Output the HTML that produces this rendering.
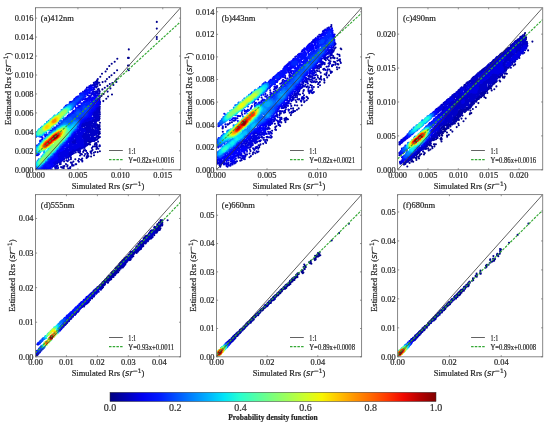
<!DOCTYPE html>
<html><head><meta charset="utf-8"><title>Rrs scatter</title>
<style>html,body{margin:0;padding:0;background:#fff;width:550px;height:424px;overflow:hidden}svg{display:block;filter:blur(0.35px)}text{stroke:#2a2a2a;stroke-width:.2px}</style>
</head><body><svg width="550" height="424" viewBox="0 0 550 424" font-family="'Liberation Serif','DejaVu Serif',serif"><clipPath id="c0"><rect x="35.50" y="7.70" width="145.10" height="162.10"/></clipPath><g clip-path="url(#c0)"><g fill="none" stroke-width="2.10" stroke-linecap="round"><path stroke="#00008d" d="M128.8 49.4h0M156.8 28.6h0M156.8 21.9h0M117.3 58.7h0M117.1 70.3h0M112.0 94.5h0M107.6 91.6h0M114.7 61.7h0M114.3 73.0h0M100.3 76.7h0M111.7 63.7h0M102.0 73.7h0M109.3 66.0h0M110.4 88.4h0M111.5 75.2h0M106.3 98.8h0M107.1 69.1h0M105.6 71.5h0M109.3 77.1h0M108.1 96.5h0M103.6 94.0h0M103.3 101.1h0M104.8 87.7h0M106.9 79.1h0M113.4 85.0h0M116.5 79.3h0M107.5 85.9h0M102.4 89.4h0M105.4 81.4h0M128.8 70.3h0M102.6 82.1h0M109.8 84.0h0M128.0 57.9h0M156.8 39.0h0M156.8 37.1h0M128.8 57.9h0M128.0 69.3h0M94.0 155.3h0M99.9 151.3h0M112.4 83.1h0M75.3 159.3h0M128.8 65.5h0M128.0 65.5h0M91.1 156.5h0M116.4 82.0h0M100.0 85.0h0M97.7 152.1h0M115.3 81.2h0M76.2 164.2h0M99.9 122.8h0M95.2 152.0h0"/><path stroke="#0000a8" d="M99.9 137.1h0M97.8 79.1h0M82.3 161.5h0M78.9 161.7h0M73.4 161.6h0M98.1 141.6h0M75.6 164.2h0M91.9 148.1h0M80.0 155.5h0M82.2 158.6h0M78.2 160.7h0M99.5 125.0h0M79.0 159.1h0M84.4 155.7h0M99.3 82.8h0M92.9 146.6h0M92.5 149.9h0M82.3 160.8h0M93.9 152.8h0M90.1 144.4h0M101.4 96.0h0M99.2 134.0h0M99.9 133.4h0M99.6 133.5h0M81.9 154.4h0M65.9 164.0h0M99.6 126.3h0M98.4 138.2h0M81.0 159.8h0M98.6 88.7h0M87.5 157.3h0M97.0 80.2h0M97.4 81.0h0M86.6 157.9h0M88.5 156.3h0M99.2 127.5h0M73.6 165.4h0M70.8 162.6h0M91.4 153.6h0M71.8 162.9h0M96.4 149.0h0M98.4 148.7h0M99.6 131.6h0M67.5 165.2h0M99.6 128.4h0M98.8 137.5h0M90.2 142.2h0M55.5 169.0h0M89.1 144.2h0M99.9 129.2h0M85.1 154.0h0M90.5 151.6h0M97.1 139.4h0M72.1 164.6h0M72.1 165.6h0M91.5 141.5h0M98.5 136.8h0M99.9 114.2h0M83.2 151.9h0M91.5 151.2h0M90.8 152.4h0M70.1 168.2h0M86.9 156.4h0M87.1 152.9h0M71.1 158.0h0M86.1 150.9h0M93.8 82.7h0M67.3 166.4h0M63.8 168.1h0M80.7 153.8h0M68.4 168.7h0M68.2 168.5h0M97.5 86.0h0M99.0 126.0h0M87.9 153.9h0M87.5 154.9h0M99.7 145.2h0M94.4 146.3h0M61.1 167.1h0M99.9 146.1h0M99.3 146.3h0M67.7 161.2h0M67.7 161.3h0M99.7 91.4h0M98.7 134.7h0M72.3 154.0h0M95.7 81.7h0M64.1 161.4h0M89.4 142.5h0M60.7 164.1h0M94.8 144.2h0M83.8 150.3h0M89.9 141.8h0M75.7 152.4h0M98.4 133.4h0M98.0 133.1h0M97.6 124.8h0M70.4 167.1h0M97.1 147.4h0M98.9 127.0h0M99.1 119.9h0M98.8 120.4h0M99.6 108.5h0M85.3 150.2h0M99.6 116.4h0M73.8 153.2h0M99.2 107.8h0M78.3 152.1h0M99.4 112.3h0M99.7 112.5h0M96.4 143.1h0M94.2 141.1h0M97.9 82.6h0M95.4 146.4h0M64.5 166.0h0M99.7 109.0h0M95.3 143.3h0M70.9 159.3h0M98.1 132.0h0M97.8 89.6h0M96.6 121.0h0M85.1 150.0h0M79.8 152.7h0M80.1 151.7h0M62.4 167.8h0M70.0 167.7h0M91.0 140.9h0M97.9 136.5h0M97.1 136.7h0M99.5 93.3h0M97.6 84.1h0M89.0 141.5h0M99.0 90.0h0M97.4 126.0h0M97.9 125.5h0M88.6 143.8h0M88.4 143.8h0M95.6 140.3h0M96.4 87.4h0M98.9 131.3h0M97.9 135.7h0M99.4 110.6h0M99.0 110.1h0M92.4 127.9h0M63.3 167.7h0M98.2 129.5h0M99.5 111.4h0M63.2 166.4h0M63.6 166.6h0M88.3 140.2h0M88.6 140.4h0M66.4 160.4h0M98.6 131.0h0M99.3 117.1h0M96.7 144.5h0M95.8 122.3h0M99.1 118.3h0M99.6 118.6h0M87.5 144.6h0M87.2 145.0h0M92.8 126.4h0M92.3 126.9h0M99.8 106.9h0M99.6 106.7h0M70.5 157.1h0M87.5 140.9h0M87.7 140.2h0M97.2 120.8h0M96.5 124.3h0M96.9 124.4h0M95.0 127.2h0M92.2 140.9h0M97.0 127.4h0M97.6 127.9h0M59.8 164.1h0M96.7 145.9h0M91.7 125.5h0M91.0 125.7h0M96.2 137.2h0M92.6 128.6h0"/><path stroke="#0000c8" d="M86.9 140.1h0M95.9 121.5h0M95.9 121.7h0M98.6 116.0h0M71.2 154.4h0M95.4 123.5h0M86.1 135.0h0M92.6 125.9h0M57.4 168.5h0M57.1 168.8h0M95.3 128.7h0M95.1 128.1h0M93.2 127.0h0M98.7 114.0h0M98.0 113.2h0M95.7 139.3h0M95.7 139.8h0M86.8 141.8h0M86.2 137.2h0M87.0 137.9h0M86.4 145.8h0M87.3 135.1h0M88.0 135.8h0M86.4 139.3h0M86.0 137.4h0M97.3 133.4h0M95.3 82.4h0M89.4 139.9h0M96.3 125.2h0M87.0 136.5h0M93.1 141.0h0M96.6 135.0h0M96.9 135.9h0M88.8 139.8h0M72.6 153.5h0M87.0 143.6h0M86.1 138.0h0M96.0 126.1h0M92.4 123.4h0M90.4 125.4h0M91.5 123.9h0M92.0 123.7h0M87.0 87.5h0M58.1 167.9h0M60.7 162.5h0M68.8 159.9h0M93.2 129.7h0M87.3 137.7h0M90.4 124.5h0M85.0 138.4h0M96.8 128.0h0M96.4 128.3h0M96.2 128.1h0M94.4 126.6h0M87.3 139.0h0M88.0 138.4h0M87.2 138.6h0M94.4 123.5h0M94.9 123.2h0M95.6 126.7h0M86.6 133.9h0M86.3 133.3h0M98.4 119.5h0M98.2 119.8h0M85.0 136.6h0M90.9 127.3h0M85.7 140.4h0M93.3 125.1h0M93.2 125.3h0M95.2 124.3h0M79.5 150.0h0M80.0 150.3h0M70.9 155.5h0M94.6 122.0h0M94.3 121.2h0M97.5 129.2h0M99.6 95.9h0M91.6 139.7h0M91.3 140.0h0M88.1 138.9h0M85.4 141.1h0M85.3 141.8h0M98.7 108.7h0M98.5 116.5h0M91.7 122.3h0M95.6 125.8h0M95.0 125.5h0M98.5 112.3h0M96.7 83.1h0M88.2 136.5h0M81.8 148.4h0M97.5 114.4h0M51.8 169.2h0M88.2 137.9h0M95.9 134.1h0M84.6 135.8h0M84.4 126.2h0M83.4 126.0h0M94.4 124.5h0M94.1 124.6h0M96.4 133.1h0M96.0 133.9h0M98.1 109.6h0M89.2 138.0h0M89.9 138.4h0M95.6 137.8h0M97.9 132.0h0M88.2 135.3h0M88.5 135.1h0M97.6 130.8h0M97.8 130.4h0M96.5 84.6h0M79.5 150.0h0M79.9 149.0h0M97.7 113.4h0M86.5 143.6h0M97.4 115.0h0M97.5 115.2h0M74.8 151.5h0M80.7 148.5h0M89.5 126.7h0M88.3 133.8h0M83.9 125.6h0M84.7 138.5h0M89.5 125.9h0M96.9 114.6h0M96.7 114.5h0M95.4 114.6h0M98.8 107.1h0M98.3 107.7h0M94.1 83.8h0M90.5 138.3h0M90.7 122.4h0M90.9 122.6h0M95.2 133.2h0M85.9 127.9h0M86.0 142.5h0M89.1 124.7h0M89.7 124.9h0M94.3 130.5h0M94.7 130.7h0M89.0 127.4h0M89.9 127.4h0M89.8 127.5h0M89.8 137.5h0M98.3 110.4h0M86.7 132.2h0M98.6 111.3h0M88.8 132.6h0M94.9 135.0h0M94.7 134.2h0M95.4 115.2h0M96.4 113.6h0M96.9 113.4h0M95.5 113.3h0M99.5 96.6h0M95.4 130.7h0M89.8 123.3h0M89.5 123.9h0M97.1 119.5h0M92.2 121.9h0M92.7 121.1h0M92.7 121.5h0M96.2 115.8h0M96.2 115.2h0M85.3 133.0h0M92.7 139.6h0M71.5 153.5h0M71.3 153.9h0M84.4 125.7h0M94.2 114.2h0M98.9 93.8h0M88.0 131.9h0M96.4 130.8h0M96.1 130.4h0M94.9 115.0h0M82.0 125.9h0M82.7 125.8h0M59.7 162.3h0M83.8 136.4h0M98.3 117.4h0M98.5 118.2h0M94.8 120.6h0M99.9 97.6h0M84.2 140.0h0M84.1 139.3h0M93.6 130.6h0M96.2 131.4h0M97.0 131.7h0M96.5 119.8h0M97.5 112.7h0M83.0 137.2h0M83.2 137.8h0M88.1 127.6h0M72.8 152.7h0M72.2 152.3h0M93.2 139.8h0M91.3 121.5h0M91.1 121.6h0M88.5 131.2h0M88.2 131.2h0M89.9 128.5h0M95.6 116.4h0M94.7 114.0h0M97.7 116.2h0M97.2 116.3h0M97.2 116.0h0M95.2 131.5h0M95.5 131.5h0M97.9 91.3h0M97.3 91.4h0M84.6 141.5h0M87.9 127.5h0M88.0 128.7h0M88.8 128.1h0M88.5 128.5h0M89.1 122.3h0M89.6 122.3h0M77.9 150.4h0M77.0 150.5h0M96.2 112.0h0M79.0 148.9h0M95.8 86.7h0M94.4 116.2h0M94.1 116.6h0M91.4 138.6h0M91.6 138.1h0M86.9 128.2h0M95.3 112.7h0M95.9 119.3h0M88.7 126.5h0M96.2 116.5h0M91.7 129.5h0M91.5 129.3h0M73.3 151.8h0M94.3 132.0h0M95.0 138.9h0M84.5 148.0h0M76.2 150.3h0M87.1 130.3h0M86.6 126.9h0M83.8 125.0h0M89.5 135.9h0M83.5 135.4h0M84.8 142.8h0M88.9 130.2h0M93.3 85.0h0M60.7 161.6h0M60.8 161.7h0M99.4 99.4h0M78.7 149.1h0M66.1 158.1h0M94.2 137.6h0M93.3 134.4h0M86.8 131.5h0M98.0 109.4h0M97.0 111.7h0M97.9 111.3h0M88.0 125.0h0M95.8 117.6h0M95.1 84.5h0M95.5 85.0h0M87.3 126.9h0M87.5 126.1h0M88.8 123.4h0M93.4 135.3h0M97.5 110.9h0M97.3 110.1h0M82.1 124.3h0M82.5 124.9h0M85.9 144.8h0M85.0 144.7h0M85.3 144.9h0M98.8 106.4h0M68.3 157.9h0M68.2 157.8h0M93.8 133.7h0M93.0 133.9h0M97.3 108.4h0M97.9 108.1h0M89.7 135.0h0M84.7 124.1h0M97.7 118.6h0M83.2 138.2h0M97.1 117.9h0M97.2 117.5h0M97.6 117.8h0M97.6 117.0h0M96.7 111.5h0M94.6 117.6h0M92.3 130.8h0M92.6 130.5h0M90.6 129.1h0M96.0 118.6h0M97.0 118.8h0M96.2 118.4h0M84.9 128.5h0M94.0 119.8h0M69.3 155.2h0M70.0 155.9h0M64.0 159.5h0M93.2 131.7h0M89.7 132.1h0M93.5 114.9h0M55.1 167.6h0M86.6 129.4h0M88.1 122.4h0M70.1 153.3h0M94.4 112.4h0M94.7 84.9h0M96.2 91.2h0M56.0 167.3h0M62.2 160.1h0M72.0 152.9h0M93.4 132.5h0M99.1 104.5h0M99.9 104.4h0M89.1 131.5h0M89.4 131.0h0M81.1 126.0h0M93.2 136.4h0M86.7 130.5h0M86.7 130.8h0M84.7 143.9h0M84.7 143.1h0M84.8 143.6h0M58.6 162.3h0M58.3 162.3h0M89.6 130.0h0M72.2 151.5h0M93.1 138.4h0M93.9 138.0h0M89.1 121.8h0M57.5 166.1h0M95.7 111.2h0M95.6 111.9h0M86.3 125.7h0M86.2 125.4h0M81.9 125.2h0M83.0 91.9h0M82.4 136.7h0M82.7 136.5h0M87.4 125.8h0M57.8 166.0h0M96.9 110.8h0M96.1 110.4h0M73.6 150.2h0M73.3 150.4h0M85.0 133.8h0M90.5 135.5h0M84.0 128.4h0M67.3 157.4h0M77.2 149.1h0M77.6 149.5h0M85.5 124.4h0M75.0 141.7h0M93.0 113.6h0M93.1 113.1h0M81.5 147.3h0M74.8 140.1h0M93.5 137.4h0M93.4 137.1h0M74.9 142.9h0M69.8 154.3h0M69.6 154.3h0M92.3 136.8h0M92.0 136.5h0M91.3 120.6h0M91.9 120.7h0M82.9 147.8h0M82.4 147.4h0M92.1 137.0h0M92.5 137.9h0M83.4 134.3h0M59.6 161.4h0M99.4 100.7h0M57.2 163.3h0M57.3 163.7h0M87.9 124.4h0M87.6 124.6h0M91.7 130.1h0M87.1 122.9h0M84.9 146.7h0M85.0 146.2h0M84.2 146.6h0M93.2 119.7h0M93.8 119.2h0M93.3 119.2h0M79.6 147.2h0M68.8 156.6h0M83.7 141.5h0M94.4 89.3h0M97.6 107.3h0M93.5 117.4h0M92.7 131.7h0M83.2 123.0h0M90.9 130.8h0M90.0 130.2h0M73.4 142.0h0M73.6 142.8h0M70.5 152.7h0M92.0 135.1h0M91.0 135.1h0M98.4 96.1h0M85.1 129.5h0M86.0 129.4h0M75.1 142.4h0M82.0 127.8h0M82.6 135.3h0M75.2 140.1h0M86.8 124.7h0M86.1 124.2h0M84.6 123.5h0M76.6 149.5h0M76.3 149.8h0M84.0 140.0h0M83.7 140.5h0M94.8 91.7h0M97.8 93.0h0M97.1 93.2h0M95.0 85.9h0M73.8 140.5h0M73.4 140.5h0M90.1 134.5h0M72.0 150.4h0M90.9 85.2h0M66.8 157.6h0M66.1 157.2h0M62.0 160.8h0M90.4 131.0h0M90.4 131.7h0M86.6 123.5h0M74.8 149.7h0M82.9 128.5h0M91.0 133.3h0M85.5 123.2h0M36.2 155.2h0M85.8 131.1h0M86.0 131.9h0M72.6 141.7h0M72.8 141.0h0M91.1 134.4h0M91.8 134.7h0M84.7 146.0h0M86.5 122.8h0M73.5 149.4h0M73.7 149.5h0M91.7 131.3h0M82.8 123.8h0M94.5 86.9h0M69.0 155.7h0M92.1 119.1h0M94.8 111.9h0M91.3 133.5h0M91.7 133.4h0M91.9 133.7h0M63.5 159.5h0M95.5 110.6h0M78.0 148.0h0M74.2 143.9h0M69.6 152.5h0M78.8 147.8h0M70.8 151.3h0M70.6 152.0h0M57.1 162.7h0M85.0 130.2h0M85.2 130.8h0M73.1 143.1h0M93.4 112.4h0M71.3 150.1h0M96.2 108.2h0M96.2 108.9h0M99.5 103.3h0M99.8 103.9h0M72.3 149.7h0M56.5 165.6h0M58.5 161.1h0M85.9 122.8h0M89.8 120.8h0M89.5 120.1h0M75.1 143.6h0M99.5 101.5h0M99.9 101.5h0M55.3 166.9h0M93.3 91.8h0M81.7 136.9h0M81.1 136.1h0M76.4 142.1h0M76.8 142.0h0M86.8 121.8h0M59.2 154.8h0M75.5 139.0h0M84.3 129.4h0M72.9 143.6h0M72.5 144.0h0M69.0 154.6h0M97.4 95.1h0M44.1 169.1h0M82.7 142.3h0M96.0 92.5h0M60.3 160.9h0M68.4 153.2h0M68.0 153.9h0M68.2 153.1h0M81.3 128.2h0M81.9 129.0h0M83.0 134.9h0M64.1 158.6h0M92.7 114.6h0M83.3 146.6h0M71.6 143.0h0M83.5 144.2h0M92.0 85.6h0M76.3 140.7h0M76.2 140.2h0M84.2 122.4h0M84.8 122.3h0M81.9 135.9h0M68.3 152.4h0M71.8 141.2h0M98.6 98.9h0M92.4 85.3h0M73.7 148.1h0M83.3 133.4h0M83.0 133.6h0M56.9 163.4h0M56.0 163.2h0"/><path stroke="#0000e3" d="M73.4 139.5h0M91.4 94.7h0M91.7 94.4h0M88.6 120.2h0M88.1 120.1h0M82.9 143.6h0M88.9 95.6h0M76.7 148.1h0M74.7 148.9h0M92.9 118.2h0M92.9 118.5h0M67.0 156.1h0M66.7 156.2h0M83.0 141.7h0M82.1 141.6h0M72.1 148.5h0M73.0 148.5h0M70.8 150.4h0M100.0 102.5h0M99.7 102.4h0M99.8 102.8h0M71.5 149.4h0M68.0 155.7h0M68.9 151.0h0M68.7 151.6h0M75.6 148.4h0M75.1 148.6h0M91.1 95.4h0M67.9 152.9h0M96.3 93.5h0M72.4 144.4h0M67.8 151.9h0M87.2 120.5h0M87.4 120.9h0M60.6 154.5h0M60.2 154.3h0M66.9 152.8h0M66.2 152.5h0M98.0 106.2h0M97.6 106.6h0M80.6 146.7h0M85.6 121.3h0M58.7 154.1h0M58.1 154.1h0M45.5 169.3h0M83.9 122.4h0M74.2 144.7h0M67.5 154.7h0M66.3 151.8h0M77.8 147.4h0M83.5 129.1h0M83.1 145.8h0M83.6 145.0h0M68.0 150.8h0M66.7 153.6h0M83.0 140.1h0M82.6 140.8h0M82.3 140.3h0M71.9 144.5h0M82.4 146.6h0M37.8 155.1h0M69.3 150.4h0M68.6 150.1h0M92.6 92.1h0M91.2 93.2h0M72.4 147.1h0M92.5 113.6h0M81.3 146.3h0M59.6 160.9h0M71.5 148.6h0M84.8 90.6h0M92.8 93.6h0M93.0 93.8h0M73.7 147.3h0M62.7 159.9h0M71.2 140.6h0M71.8 140.2h0M72.1 145.8h0M95.7 109.5h0M80.4 135.3h0M66.6 155.5h0M66.8 155.0h0M66.9 150.4h0M78.9 146.8h0M78.7 146.8h0M90.8 119.9h0M65.8 153.0h0M75.6 138.1h0M75.7 144.5h0M81.8 134.8h0M81.5 134.6h0M71.3 145.2h0M72.0 145.6h0M70.6 143.0h0M70.8 142.1h0M70.2 142.0h0M70.9 141.4h0M82.1 129.4h0M77.5 135.7h0M72.2 146.5h0M80.4 136.3h0M70.6 149.3h0M71.3 147.6h0M82.9 144.4h0M56.2 162.1h0M56.7 162.3h0M89.3 96.6h0M93.6 93.4h0M71.3 146.5h0M77.3 142.7h0M77.1 142.5h0M81.5 138.8h0M81.8 138.1h0M74.3 147.9h0M58.0 161.6h0M95.8 93.2h0M98.6 99.3h0M79.6 135.6h0M79.1 135.9h0M84.3 131.1h0M84.9 131.5h0M65.5 151.5h0M89.3 86.2h0M80.8 128.4h0M80.9 128.1h0M77.0 141.4h0M77.4 141.6h0M73.0 139.3h0M81.1 143.6h0M81.3 143.0h0M81.8 143.4h0M81.1 129.8h0M76.1 135.3h0M73.4 146.6h0M73.7 146.7h0M70.3 143.1h0M70.6 143.3h0M84.7 130.3h0M65.4 156.5h0M60.5 153.4h0M68.4 149.7h0M68.6 149.1h0M68.1 149.9h0M58.6 153.0h0M94.9 93.5h0M77.7 136.2h0M90.7 96.0h0M74.4 145.3h0M82.2 134.0h0M80.4 125.8h0M80.7 125.1h0M69.7 149.1h0M69.9 149.4h0M69.5 149.8h0M80.1 134.4h0M80.8 134.7h0M46.1 169.2h0M76.2 135.0h0M75.9 147.1h0M75.6 147.3h0M84.2 121.0h0M70.8 144.4h0M76.5 139.0h0M76.1 138.3h0M70.1 148.3h0M70.5 148.6h0M78.4 136.1h0M78.6 136.5h0M75.4 134.4h0M75.4 135.3h0M75.4 135.8h0M89.6 119.7h0M58.6 155.6h0M77.2 143.8h0M78.4 134.5h0M78.8 134.3h0M81.7 141.7h0M76.1 144.5h0M74.5 146.0h0M74.5 146.4h0M74.0 146.0h0M64.6 152.4h0M97.0 95.8h0M65.5 155.3h0M75.3 137.1h0M95.0 110.5h0M76.7 137.4h0M76.1 137.1h0M76.1 137.7h0M81.4 123.3h0M78.0 140.2h0M75.0 135.0h0M74.1 135.8h0M77.1 146.4h0M77.7 146.6h0M70.9 147.6h0M70.1 140.7h0M55.6 163.9h0M55.4 163.9h0M93.1 111.6h0M80.2 129.7h0M79.1 145.2h0M61.1 159.8h0M61.7 159.0h0M61.2 159.4h0M83.1 132.2h0M83.3 132.1h0M74.7 134.6h0M74.4 134.2h0M80.1 137.1h0M81.0 137.1h0M80.5 137.4h0M93.7 94.9h0M61.1 154.6h0M61.9 154.0h0M63.6 158.7h0M74.7 137.1h0M74.9 137.3h0M88.2 119.4h0M85.4 120.7h0M75.4 145.4h0M81.1 144.6h0M80.9 142.1h0M81.9 139.4h0M80.4 145.8h0M80.4 145.3h0M65.5 150.8h0M59.0 160.9h0M78.3 145.9h0M93.1 90.0h0M81.4 133.7h0M69.8 148.5h0M70.0 141.4h0M78.9 142.3h0M77.3 137.3h0M81.4 145.2h0M81.9 145.4h0M95.4 94.6h0M81.8 140.2h0M81.1 140.9h0M75.2 146.6h0M91.8 117.2h0M67.0 148.4h0M88.0 119.2h0M78.1 143.8h0M78.4 143.0h0M80.5 130.3h0M70.7 102.0h0M88.0 95.3h0M79.4 143.6h0M77.0 144.2h0M77.5 144.7h0M80.4 133.7h0M80.8 133.1h0M80.0 144.8h0M75.4 133.8h0M60.5 156.6h0M60.8 156.5h0M61.6 155.0h0M79.3 144.4h0M65.0 154.4h0M76.2 146.8h0M54.8 165.8h0M98.6 104.4h0M76.5 134.0h0M59.5 156.4h0M92.3 112.6h0M92.5 112.3h0M69.0 142.1h0M73.6 135.1h0M76.4 146.0h0M76.9 145.1h0M77.2 139.5h0M77.0 145.8h0M77.4 145.0h0M88.2 87.8h0M88.4 87.5h0M73.0 137.4h0M73.9 137.7h0M53.6 166.2h0M60.1 160.0h0M73.1 136.3h0M74.0 136.7h0M78.7 141.5h0M79.0 141.2h0M79.6 133.3h0M71.8 139.1h0M83.9 130.0h0M83.2 130.8h0M64.2 151.6h0M65.0 151.7h0M77.2 138.5h0M77.4 138.3h0M77.2 133.7h0M77.6 133.6h0M63.8 153.4h0M63.5 153.0h0M78.3 137.6h0M66.4 149.0h0M66.3 148.1h0M69.8 147.7h0M69.9 140.1h0M69.1 140.8h0M69.1 140.2h0M78.8 133.8h0M78.2 133.8h0M79.1 137.4h0M79.4 137.1h0M79.6 137.9h0M81.8 132.8h0M81.5 132.8h0M82.8 130.4h0M82.2 130.9h0M95.6 108.4h0M90.6 118.4h0M91.0 118.8h0M80.5 138.8h0M80.6 138.5h0M72.0 139.0h0M73.0 138.5h0M72.6 138.5h0M82.6 133.0h0M81.6 131.1h0M79.9 141.8h0M64.8 156.7h0M86.8 119.9h0M69.6 143.3h0M64.1 155.2h0M56.1 161.6h0M56.8 161.6h0M65.5 149.2h0M65.6 149.6h0M83.4 131.2h0M83.5 131.8h0M79.5 130.6h0M83.8 121.5h0M83.4 121.9h0M89.4 93.1h0M79.0 132.2h0M80.0 132.4h0M62.9 154.8h0M62.4 154.0h0M79.1 131.4h0M62.0 153.1h0M62.3 153.5h0M79.3 129.2h0M79.9 129.8h0M59.2 152.3h0M59.3 152.2h0M59.6 152.8h0M63.8 154.1h0M63.4 154.8h0M80.4 140.9h0M80.5 140.1h0M54.2 164.9h0M91.9 114.6h0M91.8 114.8h0M69.2 146.2h0M69.5 146.4h0M80.1 139.5h0M97.1 98.2h0M97.5 98.5h0M79.8 128.2h0M79.6 128.6h0M79.5 128.6h0M61.1 156.8h0M61.8 156.2h0M95.1 95.1h0M62.4 158.3h0M59.9 159.8h0M59.5 159.5h0M69.7 144.4h0M60.4 152.8h0M73.7 134.8h0M73.7 134.1h0M93.6 87.6h0M86.0 98.8h0M82.8 131.4h0M82.2 132.0h0M93.7 88.6h0M93.6 88.1h0M97.7 105.2h0M68.8 147.1h0M69.2 145.3h0M69.9 145.6h0M78.7 138.7h0M54.4 163.4h0M54.5 163.9h0M79.1 140.1h0M79.0 140.8h0M89.7 118.7h0M89.8 118.1h0M84.6 120.7h0M84.8 121.0h0M78.1 132.8h0M78.8 132.9h0M78.2 132.4h0M63.4 157.7h0M63.8 157.2h0M78.6 139.7h0M78.2 139.0h0M70.5 139.7h0M57.1 160.7h0M57.5 160.1h0M72.0 137.1h0M60.7 157.4h0M94.1 95.6h0M77.9 132.6h0M77.2 132.5h0M61.0 158.1h0M79.3 127.3h0M68.9 141.6h0M57.5 154.0h0M58.9 156.3h0M64.9 150.3h0M96.3 107.0h0M96.8 106.7h0M65.7 148.2h0M62.9 152.3h0M80.9 124.2h0M61.1 152.6h0M61.5 152.6h0M60.3 158.2h0M60.8 158.5h0M60.2 158.3h0M67.8 147.1h0M88.8 118.8h0M88.1 118.1h0M78.5 131.4h0M57.8 155.7h0M58.3 152.9h0M90.7 117.3h0M61.8 157.9h0M72.9 136.8h0M72.0 136.5h0M90.2 86.0h0M63.8 156.7h0M63.3 156.6h0M63.7 156.9h0M91.1 113.1h0M91.7 113.4h0M59.2 157.1h0M54.9 162.2h0M85.5 99.4h0M62.8 156.1h0M84.7 99.4h0M63.6 151.1h0M63.1 151.6h0M75.1 132.4h0M50.4 168.9h0M62.6 157.3h0M68.5 142.0h0M68.9 142.6h0M85.5 119.7h0M85.5 119.9h0M78.4 130.2h0M78.5 130.9h0M71.5 138.1h0M94.2 109.1h0M94.9 109.6h0M58.2 159.4h0M59.0 159.9h0M69.0 140.7h0M66.7 147.0h0M67.0 147.0h0M98.5 103.6h0M98.6 103.2h0M98.7 101.8h0M59.5 158.9h0M59.6 158.1h0M87.1 118.8h0M87.7 118.1h0M68.9 146.5h0M89.1 97.5h0M89.9 97.1h0M97.2 100.0h0M97.1 99.1h0M78.0 131.4h0M77.9 131.2h0M69.7 139.3h0M90.7 97.4h0M80.9 93.6h0M80.1 93.7h0M72.6 135.6h0M72.8 135.6h0M91.4 87.0h0M90.4 116.9h0M90.9 116.1h0M90.9 116.9h0M87.2 94.9h0M92.9 111.3h0M95.8 96.4h0M53.9 164.1h0M78.3 106.0h0M93.8 110.5h0M69.8 102.3h0M80.0 126.7h0M81.7 122.7h0M81.8 122.6h0M56.6 160.7h0M98.6 102.1h0M82.3 121.6h0M82.6 121.5h0M54.9 161.6h0M54.7 161.7h0M44.4 168.3h0M86.3 89.1h0M86.2 89.8h0M86.9 89.9h0M62.2 151.3h0M62.4 151.8h0M52.6 166.1h0M52.1 166.9h0M37.2 169.1h0M37.8 169.1h0M87.9 98.4h0M68.8 145.5h0M68.5 145.9h0M74.7 98.8h0M58.1 157.9h0M90.0 115.8h0M63.9 150.8h0M63.8 150.3h0M63.1 150.4h0M73.7 110.7h0M83.5 120.1h0M85.9 90.7h0M60.1 151.3h0M94.6 96.3h0M84.6 91.9h0M86.2 118.3h0M86.4 118.1h0M61.9 151.8h0M61.2 151.8h0M43.8 168.1h0M92.5 89.8h0M58.8 158.2h0M58.3 158.6h0M71.4 137.7h0M59.4 151.3h0M45.6 168.2h0M53.3 161.5h0M35.9 169.0h0M67.7 146.4h0M56.4 154.2h0M57.3 156.6h0M57.4 156.9h0M57.9 156.9h0M57.9 156.3h0M70.8 138.6h0M70.8 139.0h0M57.4 159.6h0M57.9 159.8h0M77.0 131.0h0M77.6 130.1h0M52.8 162.9h0M89.1 87.3h0M89.5 87.5h0M88.9 117.5h0M88.1 117.7h0M98.0 104.6h0M79.9 105.7h0M55.0 160.1h0M55.8 160.9h0M55.5 160.8h0M55.9 160.4h0"/><path stroke="#0000ff" d="M84.2 119.2h0M91.0 114.5h0M90.6 114.9h0M90.7 114.5h0M56.7 155.3h0M56.5 155.1h0M52.3 163.9h0M97.9 100.8h0M52.7 161.4h0M57.1 152.9h0M92.3 97.8h0M49.4 168.5h0M49.7 168.3h0M74.1 132.8h0M74.6 132.7h0M92.5 87.5h0M96.7 105.9h0M96.8 105.5h0M96.7 105.4h0M63.7 149.1h0M67.3 142.5h0M67.8 142.6h0M91.3 90.3h0M51.2 161.7h0M89.1 116.5h0M89.8 116.9h0M94.6 108.3h0M94.4 108.3h0M94.6 108.9h0M95.8 97.4h0M95.4 97.9h0M95.2 97.4h0M66.2 146.4h0M64.0 148.3h0M64.0 148.7h0M62.4 150.2h0M51.2 162.2h0M52.6 164.1h0M52.6 164.5h0M63.3 147.9h0M63.7 147.4h0M89.7 92.5h0M89.0 92.7h0M53.1 160.8h0M53.9 160.7h0M80.7 123.3h0M46.1 168.2h0M42.4 137.3h0M56.9 153.7h0M52.1 160.7h0M90.3 113.7h0M90.5 113.2h0M90.8 113.8h0M95.3 107.0h0M96.3 99.6h0M58.1 151.9h0M58.5 151.9h0M41.8 137.0h0M69.0 140.0h0M65.1 146.0h0M65.8 146.3h0M85.5 96.7h0M62.0 150.1h0M73.3 111.2h0M72.7 134.8h0M42.1 168.8h0M42.5 168.2h0M42.8 168.4h0M42.9 168.9h0M56.5 159.5h0M51.3 160.7h0M88.5 98.5h0M87.1 117.3h0M57.2 157.8h0M71.3 136.7h0M71.5 136.3h0M67.9 145.4h0M67.9 145.5h0M60.8 150.5h0M60.6 150.2h0M60.8 150.9h0M57.4 158.4h0M64.9 146.3h0M64.2 146.7h0M75.1 132.0h0M76.0 131.7h0M85.9 118.6h0M48.5 168.9h0M48.1 168.0h0M51.3 163.2h0M63.5 146.7h0M62.7 147.7h0M63.0 149.6h0M56.5 156.7h0M47.1 168.9h0M47.6 168.3h0M47.5 168.8h0M47.2 168.3h0M93.1 97.4h0M93.1 97.5h0M62.8 149.0h0M50.9 162.5h0M79.9 125.6h0M79.3 125.6h0M91.3 111.5h0M91.8 111.4h0M97.9 101.4h0M97.4 101.9h0M50.2 160.2h0M40.4 140.6h0M54.0 159.1h0M53.1 159.8h0M67.2 144.8h0M67.9 144.7h0M67.4 144.2h0M97.5 103.6h0M97.0 103.1h0M55.2 159.6h0M55.6 159.5h0M54.6 159.6h0M54.2 159.8h0M77.2 96.8h0M91.6 98.8h0M89.0 98.0h0M92.6 110.7h0M93.4 109.6h0M55.5 155.6h0M67.2 140.4h0M68.0 140.8h0M90.3 87.7h0M61.3 150.0h0M52.5 159.3h0M87.4 93.6h0M81.3 103.2h0M51.1 166.0h0M51.4 166.6h0M51.9 166.3h0M84.3 101.5h0M77.7 129.4h0M69.9 138.9h0M69.9 138.5h0M60.0 150.0h0M71.5 102.0h0M91.6 87.2h0M91.4 87.5h0M82.9 120.3h0M82.1 120.8h0M82.9 120.8h0M50.4 167.9h0M80.3 101.1h0M88.3 116.5h0M61.6 148.5h0M61.7 148.9h0M61.3 148.3h0M87.3 99.7h0M81.7 121.9h0M55.8 156.0h0M55.4 156.1h0M90.3 112.3h0M98.0 102.6h0M51.0 164.0h0M52.0 165.0h0M51.5 164.9h0M49.8 161.4h0M83.6 119.6h0M51.1 159.8h0M51.9 160.0h0M78.1 127.1h0M96.6 101.0h0M96.1 100.4h0M53.4 158.4h0M60.0 149.7h0M60.8 149.1h0M55.8 154.3h0M77.9 107.9h0M56.9 158.8h0M66.9 146.0h0M94.7 107.4h0M56.7 157.2h0M56.1 157.2h0M56.4 157.8h0M96.8 104.3h0M44.4 167.8h0M44.5 167.2h0M51.0 163.4h0M91.7 89.9h0M70.6 137.0h0M70.6 137.3h0M54.6 157.1h0M54.0 157.9h0M41.8 139.9h0M51.8 165.1h0M51.3 165.3h0M92.5 98.8h0M89.2 114.8h0M89.3 114.3h0M89.3 115.0h0M49.7 162.0h0M79.9 106.0h0M79.8 106.5h0M61.6 147.6h0M42.6 138.4h0M85.5 91.5h0M86.3 100.1h0M86.8 100.9h0M65.8 105.9h0M95.1 99.6h0M55.3 157.4h0M55.9 157.6h0M55.1 158.0h0M52.6 158.5h0M45.1 167.3h0M66.6 142.1h0M95.3 105.6h0M95.7 105.9h0M38.8 154.2h0M72.1 112.5h0M72.6 112.8h0M65.0 145.4h0M65.6 145.8h0M77.3 104.5h0M81.8 93.5h0M81.5 93.6h0M82.2 99.9h0M63.9 145.7h0M63.6 145.7h0M63.7 145.4h0M94.9 98.1h0M41.7 168.9h0M41.5 168.3h0M79.4 102.7h0M91.4 88.6h0M91.7 88.3h0M67.0 143.9h0M66.1 143.1h0M66.5 143.5h0M55.0 155.6h0M54.7 155.9h0M89.5 88.7h0M50.1 159.3h0M50.6 159.4h0M50.5 159.9h0M84.8 118.2h0M84.8 118.5h0M66.3 145.0h0M94.0 98.6h0M94.0 98.2h0M93.7 98.4h0M83.9 99.0h0M75.1 106.1h0M75.2 106.6h0M90.6 90.8h0M43.9 167.1h0M43.1 167.4h0M43.8 167.6h0M91.6 99.3h0M90.8 100.0h0M90.2 99.1h0M96.5 101.8h0M60.3 149.0h0M78.2 103.4h0M84.2 92.9h0M50.5 164.2h0M53.5 156.5h0M53.8 156.8h0M80.4 123.0h0M80.1 122.5h0M49.4 167.4h0M49.6 167.6h0M89.0 113.9h0M71.9 135.1h0M46.7 167.6h0M46.3 167.8h0M50.0 163.2h0M49.5 163.5h0M57.2 152.0h0M37.2 154.9h0M66.8 141.8h0M66.1 141.4h0M57.0 152.4h0M97.0 103.9h0M96.6 103.3h0M96.4 103.6h0M50.9 166.4h0M50.5 166.9h0M85.5 101.3h0M89.7 91.1h0M88.8 115.9h0M89.1 99.5h0M90.0 99.6h0M89.3 99.8h0M59.8 149.3h0M59.3 149.1h0M87.2 117.0h0M90.3 88.2h0M51.9 158.6h0M51.4 158.3h0M58.4 150.9h0M83.4 102.5h0M36.6 145.9h0M93.4 108.9h0M93.4 108.2h0M90.4 111.3h0M90.9 111.9h0M52.8 157.8h0M76.1 108.0h0M94.7 106.4h0M94.6 107.0h0M91.1 110.3h0M91.7 110.6h0M78.7 107.8h0M96.8 102.6h0M92.7 99.7h0M50.4 165.4h0M86.3 93.5h0M86.2 93.7h0M48.9 162.1h0M48.5 162.6h0M76.6 97.8h0M76.0 97.6h0M65.4 144.8h0M66.0 144.1h0M47.7 167.8h0M95.5 104.9h0M44.6 166.4h0M49.0 161.9h0M45.7 166.7h0M35.8 153.1h0M87.7 92.8h0M81.6 104.7h0M90.1 89.7h0M88.6 89.5h0M79.4 124.5h0M55.0 153.8h0M55.5 153.7h0M92.3 110.0h0M92.2 109.5h0M49.3 164.8h0M49.6 164.7h0M70.8 102.5h0M48.8 163.6h0M48.9 163.3h0M48.3 163.2h0M48.3 163.9h0M62.2 145.5h0M62.6 145.9h0M64.9 144.6h0M87.5 100.1h0M86.1 91.9h0M95.5 101.5h0M95.4 101.2h0M77.8 128.9h0M65.3 143.2h0M65.7 143.7h0M85.5 92.1h0M85.6 92.8h0M85.3 92.4h0M73.3 112.4h0M73.9 112.0h0M74.2 99.6h0M74.7 99.7h0M80.5 94.4h0M85.8 117.4h0M49.7 166.4h0M49.6 166.7h0M49.2 166.9h0M94.7 100.9h0M89.6 112.5h0M73.8 132.2h0M81.9 120.4h0M81.0 120.5h0M46.8 166.6h0M46.0 166.7h0M92.2 100.7h0M92.9 100.2h0M92.1 100.2h0"/><path stroke="#000dff" d="M86.7 92.6h0M45.6 165.1h0M87.5 90.2h0M49.9 165.4h0M54.9 154.7h0M54.5 154.7h0M54.2 154.2h0M90.0 89.9h0M88.6 114.1h0M94.3 105.7h0M94.5 105.7h0M95.7 102.1h0M78.6 126.7h0M40.9 168.9h0M40.1 168.9h0M40.8 168.7h0M40.2 168.4h0M48.2 164.7h0M83.4 118.5h0M83.1 118.6h0M82.3 93.8h0M84.9 96.6h0M84.0 96.1h0M93.9 101.0h0M88.2 91.0h0M85.7 94.0h0M85.3 94.8h0M89.0 90.2h0M89.9 90.4h0M48.6 166.7h0M47.3 166.5h0M47.1 166.3h0M47.3 163.1h0M47.3 163.7h0M44.6 165.4h0M44.2 165.6h0M46.9 165.3h0M46.2 165.0h0M46.5 165.8h0M53.8 155.8h0M49.4 159.8h0M42.5 167.4h0M72.7 133.7h0M48.9 165.3h0M48.1 165.6h0M36.3 168.8h0M36.1 168.1h0M88.8 100.1h0M93.9 107.6h0M93.2 107.6h0M47.1 164.7h0M47.9 164.9h0M86.9 101.6h0M87.3 91.6h0M94.4 101.4h0M94.5 101.7h0M60.1 147.9h0M60.2 147.6h0M60.9 147.2h0M43.7 166.3h0M65.6 142.2h0M47.7 165.3h0M47.7 165.9h0M68.8 138.8h0M84.1 102.1h0M72.0 113.9h0M47.9 162.0h0M45.8 164.9h0M45.5 165.0h0M92.9 101.5h0M92.6 101.2h0M92.0 101.6h0M94.8 104.7h0M75.2 110.3h0M79.8 101.9h0M79.1 101.2h0M63.2 144.5h0M88.9 90.8h0M88.1 90.0h0M80.6 121.5h0M76.6 129.8h0M76.9 129.4h0M68.0 139.2h0M67.6 139.5h0M70.9 113.9h0M48.7 161.0h0M48.9 160.7h0M94.1 103.0h0M94.9 103.0h0M52.9 156.6h0M52.1 156.3h0M52.9 156.9h0M90.6 111.0h0M93.0 101.9h0M94.6 103.9h0M86.9 116.8h0M78.3 96.3h0M46.6 163.8h0M46.3 163.9h0M87.7 115.5h0M87.2 115.5h0M87.9 115.8h0M84.0 94.0h0M83.4 93.7h0M51.0 157.8h0M51.9 157.9h0M85.0 93.2h0M84.2 93.1h0M69.9 137.1h0M69.4 137.0h0M69.5 137.5h0M69.8 137.3h0M89.8 111.6h0M89.4 111.9h0M45.7 135.5h0M92.6 108.7h0M72.8 101.4h0M72.4 101.6h0M64.9 143.6h0M93.1 102.2h0M67.8 105.0h0M83.7 97.6h0M84.4 117.9h0M84.5 117.4h0M93.9 106.3h0M93.8 106.6h0M93.1 106.9h0M89.9 101.3h0M59.2 149.0h0M72.8 113.2h0M78.0 102.7h0M77.9 103.2h0M81.1 105.9h0M66.3 117.6h0M35.9 167.6h0M85.6 102.2h0M87.2 101.8h0M91.9 102.2h0M93.1 103.4h0M82.6 98.5h0M82.4 98.1h0M39.4 168.9h0M66.7 140.7h0M44.5 164.0h0M44.0 164.6h0M44.5 164.7h0M47.6 161.9h0M82.0 119.7h0M81.3 119.5h0M84.6 95.4h0M84.9 95.6h0M76.1 109.3h0M93.5 105.0h0M88.8 101.5h0M58.3 149.8h0M58.5 149.3h0M93.3 104.1h0M93.4 104.5h0M69.1 114.6h0M88.0 112.7h0M89.0 112.8h0M88.4 112.3h0M88.8 112.2h0M57.4 150.2h0M57.4 150.9h0M58.0 150.5h0M43.3 165.8h0M90.2 102.8h0M84.5 94.1h0M85.0 94.1h0M83.1 103.5h0M83.9 103.4h0M56.2 151.4h0M56.5 151.8h0M46.0 134.8h0M88.0 114.2h0M87.3 114.4h0M92.5 108.0h0M77.9 97.8h0M67.8 115.7h0M80.8 120.8h0M80.0 120.8h0M80.5 120.5h0M92.6 103.2h0M92.2 103.3h0M74.5 106.3h0M86.5 102.3h0M90.9 109.5h0M90.6 109.0h0M90.7 109.8h0M46.1 162.3h0M46.5 163.0h0M46.7 162.3h0M82.0 104.7h0M70.2 114.2h0M35.9 147.4h0M85.5 116.4h0M91.2 108.7h0M91.8 108.6h0M91.7 108.8h0M81.6 94.0h0M41.8 167.7h0M55.8 152.8h0M89.8 110.6h0M89.0 110.3h0M37.3 168.4h0M77.5 127.9h0M80.2 107.9h0M80.4 107.4h0M80.8 107.0h0M83.8 117.9h0M83.9 117.1h0M67.2 117.2h0M67.9 117.7h0M51.8 130.6h0M38.1 168.6h0M38.8 168.6h0M38.5 168.8h0M68.7 117.0h0M73.1 113.9h0M42.9 166.8h0M42.5 166.8h0M40.7 141.9h0M40.1 141.3h0M86.6 115.8h0M65.8 141.4h0M35.9 136.8h0M65.1 118.7h0M75.1 111.5h0M92.9 104.7h0M42.0 139.5h0M87.5 102.4h0M52.5 130.0h0M53.3 154.0h0M53.5 154.6h0M70.0 115.4h0M69.8 115.9h0M69.5 115.5h0M74.2 100.9h0M74.2 100.3h0M84.1 103.2h0M45.5 136.5h0M45.3 136.4h0M81.4 106.9h0M87.8 113.4h0M87.2 113.6h0M92.1 105.8h0M92.5 105.9h0M92.4 105.7h0M89.0 111.5h0M83.8 96.9h0M83.6 96.5h0M80.9 99.3h0M79.6 108.4h0M79.4 108.6h0"/><path stroke="#0024ff" d="M76.1 98.4h0M88.2 102.2h0M88.6 102.6h0M83.3 94.6h0M75.5 99.7h0M91.5 107.3h0M80.3 95.0h0M80.6 95.3h0M71.3 114.1h0M71.2 114.4h0M49.4 158.9h0M49.7 158.0h0M49.9 158.4h0M62.5 144.9h0M62.8 144.2h0M48.8 159.5h0M48.4 159.5h0M48.6 159.8h0M90.2 108.5h0M82.6 94.0h0M86.4 103.1h0M66.7 118.3h0M66.3 118.6h0M52.9 155.9h0M66.8 105.4h0M82.0 118.1h0M81.0 118.8h0M78.2 101.1h0M90.8 103.6h0M80.5 119.3h0M84.9 116.4h0M84.7 116.4h0M60.9 146.6h0M60.9 146.2h0M60.7 146.9h0M64.8 142.3h0M64.9 143.0h0M73.1 107.8h0M89.5 109.7h0M91.7 104.9h0M91.8 104.2h0M73.7 101.9h0M91.3 107.0h0M82.8 117.9h0M50.3 157.9h0M87.4 103.8h0M87.8 103.2h0M63.7 144.0h0M63.1 143.2h0M63.9 143.5h0M76.6 103.7h0M76.5 103.2h0M79.6 121.9h0M79.1 121.8h0M83.9 96.0h0M82.2 105.1h0M82.1 105.9h0M80.4 108.2h0M46.3 135.2h0M36.0 153.9h0M36.9 154.0h0M87.2 112.5h0M87.4 112.8h0M51.7 156.0h0M51.7 156.9h0M81.8 98.3h0M81.3 98.7h0M35.9 152.4h0M82.6 97.3h0M49.5 132.4h0M76.6 128.3h0M91.1 105.6h0M91.6 105.0h0M89.3 103.3h0M76.1 110.9h0M76.8 110.6h0M77.5 109.5h0M77.7 109.6h0M77.0 109.2h0M90.2 107.3h0M70.6 135.7h0M70.4 135.9h0M70.6 135.8h0M75.6 104.1h0M76.0 104.5h0M75.8 104.0h0M86.3 115.0h0M86.8 114.6h0M83.1 104.0h0M84.0 104.5h0M83.1 104.7h0M88.7 103.5h0M47.6 160.5h0M87.5 104.9h0M87.8 104.5h0M54.2 128.6h0M55.0 128.6h0M78.5 97.9h0M61.5 122.7h0M82.0 107.5h0M81.5 107.9h0M59.3 123.5h0M85.9 115.6h0M85.4 115.6h0M61.5 121.0h0M85.1 104.8h0M85.8 104.1h0M90.5 104.5h0M90.4 104.2h0M90.6 106.3h0M90.8 106.2h0M90.5 106.5h0M47.3 134.7h0M79.7 120.2h0M73.2 131.3h0M74.2 113.1h0M74.9 113.3h0M74.5 130.5h0M74.1 130.9h0M74.8 130.9h0M83.7 117.0h0M59.8 124.8h0M89.0 104.7h0M88.1 104.1h0M87.3 105.5h0M75.8 129.8h0M75.3 129.9h0M76.0 129.6h0M75.6 129.0h0M89.6 108.3h0M44.6 134.9h0M90.4 105.3h0M43.4 164.3h0M84.4 104.8h0M84.5 104.0h0M89.1 104.1h0M89.9 104.1h0M89.8 104.3h0M80.6 118.6h0M88.7 105.6h0M44.6 163.0h0M73.0 132.2h0M72.2 132.6h0M59.8 147.9h0M50.9 130.6h0M68.8 117.2h0M41.0 167.8h0M89.6 107.1h0M89.9 107.5h0M79.5 119.7h0M79.8 99.6h0M79.7 99.8h0M73.8 114.1h0M75.0 105.4h0M81.8 95.0h0M81.3 96.0h0M75.2 112.4h0M82.1 106.8h0M69.1 116.2h0M69.2 116.7h0M63.9 119.8h0M63.7 119.9h0M80.8 109.3h0M87.3 111.2h0M87.9 111.0h0M55.5 127.7h0M81.4 117.8h0M77.3 98.3h0M77.1 98.9h0M85.8 105.8h0M68.7 104.5h0M82.6 95.6h0M82.0 95.3h0M82.9 95.2h0M46.6 161.8h0M46.2 161.5h0M36.4 146.8h0M78.4 109.5h0M56.4 126.5h0M58.7 125.5h0M65.1 119.9h0M65.8 119.6h0M79.2 109.3h0M37.1 146.0h0M37.4 145.3h0M83.0 96.7h0M46.0 163.0h0M45.1 162.8h0M45.4 162.0h0M84.7 115.8h0M70.0 103.1h0M63.8 120.0h0M83.9 105.0h0M75.5 100.9h0M87.1 106.1h0M87.8 106.4h0M42.3 165.5h0M42.8 165.0h0M42.1 165.8h0M68.5 137.4h0M54.3 127.6h0M88.6 109.7h0M79.8 118.7h0M79.8 118.4h0M79.3 118.8h0M36.0 166.9h0M81.8 110.3h0M81.3 110.6h0M76.3 99.3h0M76.9 99.0h0M40.5 136.7h0M40.7 136.3h0M86.5 106.4h0M86.5 106.8h0M77.2 126.6h0M77.8 126.6h0M67.1 138.2h0M78.0 101.3h0M84.7 105.0h0M85.0 105.8h0M38.2 153.1h0M38.5 153.6h0M80.3 96.2h0M80.0 96.1h0M85.6 114.5h0M85.9 114.9h0M85.0 114.7h0M85.4 114.8h0M74.9 101.7h0M82.6 108.0h0M72.3 108.5h0M58.8 148.4h0M86.8 112.3h0M86.8 112.6h0M88.7 107.1h0M88.7 107.7h0M79.3 97.9h0M76.8 102.3h0M82.2 109.3h0M82.5 109.8h0M85.7 106.7h0M85.2 106.8h0M54.9 129.7h0M54.1 129.1h0M76.5 117.3h0M76.2 117.9h0M81.1 97.5h0M71.4 115.1h0M71.9 115.6h0M71.0 115.9h0M74.5 114.1h0M82.9 108.0h0M82.1 108.7h0M78.4 118.9h0M80.7 118.0h0M80.6 117.3h0M79.0 117.5h0M78.2 117.1h0M53.4 130.0h0M71.4 133.9h0M37.3 153.3h0M41.1 166.6h0M41.5 166.8h0M89.0 108.5h0M75.2 117.0h0M83.8 106.2h0M83.2 106.7h0M83.0 106.3h0M57.1 149.6h0M83.9 115.5h0M81.9 111.4h0M80.0 110.4h0M80.7 110.4h0M78.2 98.3h0M75.4 116.7h0M75.1 116.2h0M76.0 116.7h0M76.9 116.4h0M76.3 116.1h0M79.7 117.1h0M79.3 118.0h0"/><path stroke="#0041ff" d="M61.1 123.2h0M84.5 106.4h0M78.1 100.0h0M78.4 99.1h0M77.4 116.3h0M79.8 98.5h0M79.8 98.0h0M79.3 98.8h0M87.5 110.5h0M81.6 96.8h0M81.3 96.6h0M78.4 119.6h0M77.4 118.5h0M57.6 126.1h0M57.9 126.3h0M72.7 115.1h0M73.6 115.8h0M73.2 115.4h0M73.7 115.1h0M74.5 117.4h0M74.2 117.1h0M66.9 119.5h0M66.8 119.0h0M85.5 113.7h0M85.8 113.1h0M85.1 113.3h0M74.8 115.6h0M35.8 163.9h0M82.5 112.0h0M82.7 112.1h0M60.6 124.2h0M36.7 167.5h0M78.6 116.6h0M84.5 114.9h0M87.2 107.1h0M87.4 107.6h0M83.6 107.4h0M62.5 122.8h0M62.6 122.1h0M81.2 116.1h0M82.0 116.5h0M81.5 116.3h0M66.3 140.0h0M66.8 139.8h0M80.9 97.3h0M80.3 97.6h0M77.6 99.2h0M77.1 110.1h0M77.5 110.4h0M55.9 128.7h0M75.7 113.3h0M75.4 113.1h0M77.3 101.0h0M83.1 111.7h0M57.0 125.3h0M86.6 111.0h0M83.1 110.3h0M84.0 110.7h0M76.6 100.3h0M76.0 100.3h0M76.6 118.4h0M76.6 118.9h0M75.4 115.0h0M55.9 151.7h0M81.2 112.4h0M84.0 112.4h0M83.8 108.4h0M82.7 115.7h0M76.1 101.2h0M76.7 101.3h0M75.3 101.3h0M75.8 101.7h0M84.3 107.9h0M83.2 109.4h0M83.9 109.4h0M84.0 109.8h0M73.3 106.0h0M75.2 118.1h0M86.7 107.9h0M52.8 128.6h0M85.7 107.3h0M85.2 107.6h0M83.2 114.5h0M83.3 114.4h0M79.2 116.4h0M78.6 120.2h0M78.0 121.0h0M84.1 113.6h0M56.8 127.4h0M56.6 127.7h0M83.6 113.1h0M83.6 113.5h0M82.8 113.5h0M82.9 113.1h0M39.9 143.2h0M39.1 143.8h0M78.9 123.5h0M78.5 123.9h0M78.3 123.0h0M80.3 116.4h0M80.1 116.5h0M73.8 116.5h0M80.3 111.8h0M80.3 111.4h0M74.4 118.1h0M54.4 152.9h0M54.9 152.7h0M68.1 118.3h0M76.0 115.2h0M76.6 115.1h0M75.4 114.7h0M87.1 109.7h0M87.9 109.7h0M87.2 109.3h0M52.7 131.9h0M52.8 131.0h0M84.0 112.3h0M84.0 112.7h0M69.6 117.5h0M69.1 117.8h0M75.4 102.5h0M75.4 103.0h0M63.2 121.1h0M63.4 121.6h0M73.5 102.0h0M74.0 102.0h0M35.9 151.4h0M82.5 115.0h0M87.7 108.4h0M87.8 108.2h0M36.0 136.6h0M36.6 136.2h0M53.1 154.0h0M53.7 153.1h0M73.1 117.7h0M75.0 104.2h0M74.9 105.0h0M84.9 111.9h0M84.5 111.1h0M77.8 115.5h0M77.1 115.7h0M81.8 113.5h0M81.3 113.6h0M81.4 113.1h0M84.3 108.2h0M39.8 167.6h0M39.6 167.7h0M58.5 123.1h0M85.5 111.3h0M81.6 115.4h0M78.5 110.4h0M78.9 110.2h0M78.7 110.0h0M78.8 121.0h0M78.4 115.5h0M65.9 140.3h0M77.4 119.9h0M86.9 110.7h0M84.6 110.3h0M49.3 133.2h0M36.0 132.5h0M73.2 118.7h0M74.8 102.2h0M82.0 114.9h0M81.8 114.3h0M81.3 114.3h0M84.6 109.1h0M84.7 109.7h0M76.1 113.0h0M76.5 112.2h0M76.8 112.3h0M78.1 122.8h0M78.8 122.5h0M81.0 112.7h0M72.3 116.0h0M72.2 116.3h0M79.5 115.7h0M80.8 115.6h0M85.6 108.0h0M85.3 108.6h0M71.9 109.2h0M53.0 154.9h0M86.6 108.2h0M48.2 158.2h0M48.4 158.3h0M71.1 117.0h0M71.5 116.4h0M39.6 136.4h0M76.9 127.8h0M44.9 138.6h0M72.0 103.2h0M85.5 110.6h0M85.2 110.9h0M76.1 114.5h0M76.7 114.1h0M86.7 109.5h0M86.6 109.8h0M86.1 109.2h0M80.1 114.0h0M80.6 114.9h0M80.8 114.1h0M65.7 120.5h0M65.1 120.3h0M35.9 166.0h0M85.5 109.9h0M85.4 109.3h0M74.3 103.1h0M50.0 157.3h0M64.7 141.1h0M80.0 111.3h0M79.2 111.6h0M77.4 111.3h0M76.2 119.3h0M76.2 119.2h0M74.5 119.1h0M75.0 119.7h0M76.1 113.9h0M47.9 159.7h0M70.9 134.1h0M70.8 134.5h0M35.8 135.3h0M36.0 135.9h0M79.4 114.9h0M79.7 114.9h0M75.2 119.2h0M35.9 150.5h0M51.4 155.9h0M36.0 164.7h0M47.6 135.1h0M64.5 107.3h0M64.9 107.2h0M64.2 107.9h0M77.9 114.4h0M70.0 117.7h0M72.1 118.3h0M73.0 118.2h0M69.6 118.6h0M78.9 114.6h0M78.3 115.0h0M62.0 144.9h0M63.9 142.5h0M63.9 142.1h0M63.2 142.2h0M68.1 119.0h0M68.5 120.0h0M68.2 120.0h0M48.9 120.9h0M58.7 126.2h0M50.9 156.9h0M50.4 156.4h0M50.0 156.5h0M77.8 125.3h0M62.7 143.4h0M72.6 119.1h0M60.3 145.5h0M79.1 112.3h0M79.6 112.8h0M78.2 111.1h0M79.2 114.0h0M71.4 117.5h0M71.1 117.4h0M73.6 105.9h0M66.7 120.8h0M66.6 120.2h0"/><path stroke="#0059ff" d="M61.3 124.4h0M61.3 124.8h0M37.4 167.6h0M77.8 120.1h0M51.2 132.9h0M51.6 132.3h0M38.1 167.8h0M38.7 167.3h0M75.8 128.4h0M75.3 128.5h0M63.8 122.1h0M63.4 122.5h0M37.7 160.9h0M64.9 121.1h0M38.1 136.2h0M72.7 103.4h0M72.9 103.5h0M72.4 103.7h0M77.9 112.7h0M77.6 112.5h0M73.8 103.4h0M74.0 103.7h0M77.8 113.8h0M77.1 113.7h0M70.6 121.5h0M71.4 120.5h0M71.9 121.7h0M71.9 121.3h0M71.4 118.5h0M67.1 120.6h0M73.4 120.3h0M73.8 120.2h0M73.5 121.0h0M72.8 107.2h0M69.0 119.3h0M70.0 120.0h0M78.4 113.5h0M70.9 118.2h0M70.6 118.9h0M70.3 118.3h0M71.4 119.2h0M74.3 129.5h0M46.8 160.8h0M42.0 140.7h0M78.6 112.4h0M78.3 112.8h0M78.8 112.6h0M69.2 121.1h0M69.5 122.0h0M70.4 120.9h0M70.8 120.9h0M70.4 120.1h0M70.7 120.2h0M43.3 163.9h0M68.9 120.7h0M70.3 122.2h0M70.7 122.6h0M42.7 164.3h0M69.2 120.2h0M70.1 119.1h0M70.8 119.8h0M46.3 132.9h0M69.0 122.7h0M72.7 121.3h0M73.7 104.8h0M36.1 152.7h0M49.0 130.1h0M40.3 166.1h0M41.8 141.0h0M60.4 125.8h0M55.1 129.8h0M68.3 121.1h0M71.5 122.6h0M57.5 128.0h0M59.6 146.7h0M59.5 146.1h0M72.1 131.6h0M74.3 120.3h0M74.3 120.9h0M74.0 120.9h0M56.7 129.0h0M41.7 166.0h0M41.5 165.2h0M65.5 121.1h0M65.3 121.9h0M44.4 162.1h0M54.6 130.2h0M68.3 122.8h0M68.8 122.2h0M77.0 120.5h0M67.6 121.6h0M67.5 121.8h0M67.9 121.2h0M58.8 113.0h0M40.9 127.9h0M45.0 161.9h0M36.6 147.5h0M47.2 122.0h0M66.5 122.0h0M66.9 121.1h0M69.5 135.5h0M69.3 135.9h0M70.0 135.6h0M76.0 120.0h0M75.4 120.9h0M77.5 121.2h0M69.7 123.3h0M70.3 104.1h0M70.1 104.4h0M71.7 132.8h0M71.3 132.2h0M35.9 133.2h0M64.6 122.0h0M64.2 122.3h0M67.9 122.9h0M67.4 122.6h0M72.1 122.2h0M77.4 124.6h0M38.8 159.4h0M38.8 159.9h0M68.3 123.1h0M35.9 134.7h0M76.1 126.8h0M50.1 133.3h0M72.9 104.9h0M72.3 104.9h0M58.2 147.5h0M59.0 147.6h0M59.3 126.3h0M62.3 124.8h0M62.5 124.2h0M71.5 123.2h0M71.2 123.3h0M66.0 122.5h0M53.3 131.4h0M72.0 106.7h0M72.5 106.4h0"/><path stroke="#0071ff" d="M65.9 123.0h0M65.2 122.5h0M37.5 146.2h0M37.4 146.7h0M36.5 167.0h0M77.5 122.3h0M77.6 122.1h0M68.1 105.1h0M69.0 105.3h0M71.6 104.3h0M71.2 104.5h0M71.5 104.2h0M56.4 149.5h0M56.4 149.2h0M54.7 115.6h0M38.3 145.5h0M38.8 145.4h0M67.6 123.4h0M67.6 137.2h0M57.9 149.0h0M57.8 148.1h0M57.7 149.0h0M77.7 123.9h0M77.3 123.7h0M74.4 121.6h0M74.1 121.8h0M71.5 108.2h0M38.7 129.7h0M55.5 150.5h0M72.9 105.4h0M72.4 105.6h0M39.9 152.4h0M47.0 122.5h0M64.7 123.7h0M64.1 123.4h0M69.5 124.3h0M61.7 125.1h0M61.4 125.6h0M61.8 125.8h0M76.9 121.3h0M76.7 121.7h0M76.2 121.2h0M66.9 123.4h0M66.2 123.4h0M73.4 122.6h0M73.4 122.2h0M54.9 151.5h0M54.7 151.7h0M54.6 151.4h0M70.8 124.7h0M70.2 124.1h0M53.3 152.4h0M68.1 124.1h0M68.0 124.8h0M66.8 138.8h0M66.3 138.6h0M37.6 152.3h0M37.0 152.4h0M68.3 112.5h0M72.9 123.1h0M72.3 123.0h0M75.7 121.8h0M75.9 127.7h0M75.2 127.8h0M63.9 118.0h0M49.4 134.8h0M49.4 134.2h0M59.2 121.0h0M62.6 118.2h0M60.8 120.9h0M39.9 144.7h0M39.4 144.2h0M39.5 166.5h0M39.9 166.6h0M52.9 153.3h0M52.4 153.6h0M44.1 152.1h0M58.5 127.4h0M58.8 127.1h0M58.5 127.9h0M63.4 124.3h0M65.7 107.8h0M65.4 107.1h0M52.4 132.9h0M52.2 132.6h0M67.5 124.9h0M47.0 158.6h0M47.4 158.2h0M47.8 158.3h0M48.7 157.1h0M48.9 157.7h0M48.9 135.9h0M48.5 135.3h0M48.4 135.9h0M71.5 124.1h0M66.0 139.7h0M41.7 156.6h0M74.4 128.6h0"/><path stroke="#008dff" d="M76.5 125.3h0M52.0 154.6h0M51.9 154.5h0M51.4 154.5h0M47.6 136.3h0M36.4 151.6h0M53.8 116.9h0M36.3 135.3h0M69.1 105.7h0M46.8 137.9h0M36.2 148.4h0M60.0 126.7h0M60.3 126.8h0M42.7 135.0h0M57.1 128.5h0M57.8 128.1h0M73.6 129.9h0M73.7 129.2h0M73.5 129.9h0M62.8 109.7h0M70.6 109.1h0M70.3 109.7h0M64.9 140.0h0M64.8 140.9h0M74.2 122.3h0M74.4 122.8h0M49.3 156.8h0M71.6 105.7h0M66.8 124.2h0M76.5 122.6h0M76.1 122.9h0M67.4 106.2h0M67.2 106.9h0M69.5 125.0h0M69.2 125.4h0M45.6 138.6h0M64.6 124.5h0M64.4 124.1h0M50.4 155.5h0M46.7 159.9h0M46.5 159.7h0M56.9 129.1h0M72.9 130.8h0M72.1 130.0h0M72.2 130.6h0M71.5 107.6h0M73.2 123.8h0M65.6 124.7h0M65.6 124.1h0M62.7 125.7h0M68.6 125.2h0M69.0 126.0h0M37.2 166.6h0M40.7 165.2h0M62.7 142.7h0M70.9 105.5h0M70.2 105.5h0M70.2 125.0h0M75.9 122.2h0M75.1 123.0h0M38.1 166.9h0M38.5 167.0h0M44.8 139.5h0M44.9 139.0h0M40.3 143.4h0M41.5 164.3h0M69.7 134.8h0M70.0 134.7h0M36.8 165.8h0M36.3 165.9h0M36.1 165.7h0M71.7 131.9h0M61.2 144.0h0M72.2 124.0h0M42.7 163.8h0M76.7 124.5h0M60.5 144.0h0M61.0 144.5h0M60.5 144.8h0M71.5 106.2h0M71.6 106.9h0M53.3 126.1h0M76.7 123.8h0M76.5 123.4h0M43.4 154.6h0M43.6 154.8h0M37.3 162.0h0M52.6 117.8h0M36.5 163.1h0M61.6 110.1h0M61.6 110.3h0M43.5 133.7h0M75.5 127.0h0M75.7 126.3h0M75.9 126.3h0M43.6 140.7h0M43.9 140.2h0M67.3 125.6h0M67.6 125.9h0M59.7 145.3h0M45.9 160.7h0M45.2 160.5h0M45.5 160.5h0M43.5 162.9h0M43.6 162.1h0M36.0 132.8h0M36.5 132.7h0M36.3 149.2h0M36.2 149.9h0M36.4 150.6h0M36.6 150.8h0"/><path stroke="#00a5ff" d="M71.8 125.2h0M71.1 125.7h0M71.4 125.5h0M59.7 127.0h0M59.8 127.7h0M74.1 123.4h0M74.6 123.0h0M41.8 142.5h0M42.0 142.4h0M70.5 132.2h0M70.8 132.8h0M44.9 124.4h0M69.2 126.4h0M50.5 119.3h0M54.9 131.8h0M54.2 131.0h0M54.2 131.8h0M44.5 161.3h0M36.3 164.1h0M36.5 164.4h0M63.5 125.1h0M63.5 125.5h0M60.6 111.7h0M39.6 135.5h0M39.9 135.4h0M61.6 126.7h0M61.5 126.1h0M37.9 147.2h0M37.1 147.1h0M75.9 123.3h0M74.7 128.0h0M37.2 135.9h0M37.1 135.3h0M68.4 135.8h0M68.8 135.7h0M73.3 124.7h0M73.9 124.2h0M68.8 126.6h0M69.0 126.8h0M68.8 106.0h0M68.2 106.1h0M44.8 154.0h0M66.4 107.6h0M64.5 108.7h0M64.4 108.6h0M66.5 125.0h0M70.9 126.7h0M70.1 126.4h0M58.4 146.6h0M58.6 146.6h0M75.9 125.9h0M76.0 125.1h0M75.7 125.8h0M70.8 108.0h0M70.2 108.8h0M48.6 121.2h0M73.7 128.3h0M73.4 128.3h0M38.2 146.7h0M38.6 146.7h0M44.0 132.9h0M44.5 132.2h0M38.6 135.8h0M38.2 135.2h0M70.1 106.0h0M70.7 106.4h0M70.7 106.8h0M72.5 125.0h0M72.6 126.0h0M75.2 124.7h0M75.7 124.2h0M75.8 124.5h0M64.8 125.7h0M64.1 125.4h0M36.2 134.9h0M50.2 134.9h0M50.3 134.3h0M50.0 134.1h0M65.4 125.9h0M65.2 125.1h0M41.0 128.4h0M40.2 128.9h0M55.9 149.7h0M55.3 149.4h0M37.4 151.7h0M72.7 129.5h0M58.1 128.5h0M74.7 124.3h0M74.2 125.0h0M56.7 148.1h0"/><path stroke="#00c1ff" d="M69.6 106.9h0M69.5 106.4h0M55.6 116.0h0M57.2 147.5h0M57.5 147.8h0M42.1 126.6h0M36.7 133.7h0M55.0 150.9h0M54.1 150.0h0M55.0 150.3h0M37.1 131.8h0M71.9 126.3h0M69.0 127.1h0M70.5 107.8h0M74.9 126.7h0M74.9 126.8h0M67.5 126.5h0M41.9 134.8h0M45.2 152.5h0M53.1 132.2h0M53.8 132.2h0M71.4 130.8h0M39.9 165.5h0M39.3 166.0h0M39.0 165.2h0M59.0 113.7h0M58.4 113.9h0M53.9 151.9h0M39.1 129.3h0M73.0 125.4h0M69.9 133.2h0M69.7 133.9h0M69.5 133.3h0M50.7 128.2h0M50.8 128.9h0M40.5 151.8h0M40.5 151.3h0M52.0 152.6h0M52.5 152.7h0M67.0 137.2h0M66.8 137.4h0M74.3 125.2h0M74.1 125.6h0M74.8 125.5h0M44.3 150.3h0M44.4 151.0h0M50.0 135.3h0M49.0 135.5h0M47.4 122.3h0M68.1 127.5h0M60.8 127.4h0M62.4 126.0h0M38.0 130.7h0M39.0 130.9h0M70.4 127.1h0M70.1 127.9h0M70.6 127.2h0M57.6 129.3h0M57.1 129.8h0M37.4 165.0h0M47.1 157.9h0M73.6 127.7h0M70.5 131.7h0M51.1 153.9h0M51.6 153.7h0M63.3 116.3h0M63.4 116.1h0M66.2 113.3h0M72.4 126.2h0M67.1 107.8h0M68.0 107.1h0M38.3 151.6h0M38.1 151.7h0M73.1 126.1h0M73.6 126.4h0M73.8 126.9h0M39.4 151.1h0M39.4 151.8h0M60.8 119.0h0M51.4 127.1h0M37.3 162.5h0M65.9 138.9h0M65.4 138.4h0M72.6 128.7h0M48.9 156.4h0M48.5 156.4h0"/><path stroke="#00d9ff" d="M40.6 164.8h0M72.0 127.3h0M63.5 109.2h0M47.1 137.2h0M47.6 137.2h0M47.9 137.7h0M50.7 154.9h0M37.1 148.4h0M37.2 148.8h0M37.6 148.1h0M38.5 165.8h0M38.1 165.9h0M38.3 165.7h0M38.1 165.1h0M72.9 127.0h0M72.1 127.9h0M72.8 127.7h0M72.6 127.3h0M57.7 114.3h0M42.9 133.0h0M42.7 133.3h0M42.2 134.0h0M42.9 133.6h0M66.5 126.8h0M66.8 126.5h0M66.3 126.2h0M64.6 139.5h0M69.1 128.0h0M69.4 128.9h0M56.8 130.1h0M71.9 129.8h0M71.4 129.7h0M50.0 155.3h0M49.9 155.0h0M63.6 140.6h0M63.8 140.7h0M69.9 107.3h0M69.4 107.9h0M69.8 107.2h0M40.6 158.5h0M65.8 108.5h0M41.8 163.7h0M62.6 141.4h0M71.0 128.4h0M52.1 133.5h0M52.6 133.4h0M68.1 107.8h0M68.4 107.2h0M68.9 107.6h0M54.0 116.3h0M71.2 128.0h0M71.6 128.1h0M71.9 128.8h0M46.8 123.5h0M46.1 123.9h0M46.0 138.5h0M46.3 138.8h0M37.1 150.8h0M37.7 150.9h0M37.1 150.6h0M63.4 126.2h0M48.3 149.9h0M48.8 149.1h0M68.0 127.7h0M67.4 127.3h0M68.3 128.7h0M69.5 108.3h0M69.8 108.5h0M69.6 109.0h0M42.0 156.9h0M41.9 157.7h0M70.0 132.4h0M69.5 132.2h0M68.5 134.3h0M70.6 130.9h0M46.0 159.9h0M45.8 159.4h0M45.1 159.2h0M48.6 148.9h0M43.0 155.6h0M52.9 126.1h0M59.1 128.8h0M59.7 128.7h0M42.6 162.8h0M42.8 162.8h0M42.6 162.2h0M42.8 162.7h0M43.7 132.3h0M70.5 129.9h0M70.7 129.7h0M70.1 129.5h0M60.1 143.8h0M60.1 143.2h0M37.3 149.3h0M37.6 149.5h0"/><path stroke="#09f1ee" d="M65.5 126.2h0M45.3 139.5h0M37.5 134.5h0M40.5 134.9h0M40.6 134.6h0M45.5 131.7h0M47.4 130.1h0M37.9 164.4h0M37.3 164.9h0M61.2 127.7h0M69.7 129.5h0M69.7 130.0h0M38.8 147.5h0M55.7 131.9h0M64.8 126.0h0M64.5 126.0h0M62.6 110.7h0M68.3 110.4h0M44.8 154.9h0M44.1 154.3h0M38.0 163.1h0M37.2 163.0h0M37.7 163.6h0M37.1 163.8h0M44.3 140.9h0M69.9 131.1h0M69.9 131.6h0M69.5 132.0h0M37.1 132.6h0M37.7 132.0h0M44.3 160.0h0M44.4 160.5h0M44.0 161.9h0M67.9 136.0h0M67.9 135.4h0M67.4 135.3h0M41.2 143.2h0M41.0 143.8h0M38.1 161.9h0M38.4 161.1h0M38.9 161.7h0M70.0 130.1h0M69.7 130.9h0M58.7 145.0h0M53.0 117.6h0M53.7 117.2h0M68.9 129.3h0M66.4 108.0h0M43.2 141.1h0M51.7 134.4h0M51.2 134.2h0M45.2 124.9h0M45.5 124.2h0M42.6 142.7h0M42.7 142.1h0M45.7 153.6h0M68.5 108.5h0M40.0 164.5h0M39.6 164.5h0M67.9 128.9h0M45.3 149.3h0"/><path stroke="#1fffd7" d="M58.5 129.1h0M39.0 146.6h0M56.7 115.5h0M56.3 115.2h0M42.8 150.2h0M42.7 150.3h0M39.0 134.3h0M55.7 148.9h0M55.5 148.5h0M38.1 134.8h0M38.3 135.0h0M49.3 147.6h0M49.6 147.3h0M37.1 133.1h0M37.3 133.7h0M68.3 133.6h0M68.9 109.0h0M68.6 109.8h0M67.1 108.7h0M67.6 108.6h0M40.3 129.4h0M54.8 149.1h0M54.5 149.8h0M41.5 128.2h0M41.6 128.9h0M38.5 150.9h0M38.1 150.6h0M39.0 150.3h0M66.5 136.7h0M66.8 136.4h0M60.2 112.2h0M39.0 164.7h0M48.8 129.7h0M48.7 129.5h0M67.1 111.4h0M67.6 111.1h0M67.6 111.8h0M68.8 130.4h0M57.1 146.9h0M46.6 152.1h0M46.4 152.8h0M52.5 151.7h0M54.5 132.5h0M50.2 120.2h0M53.5 150.8h0M53.4 150.1h0M56.7 147.2h0M38.9 131.8h0M38.0 131.5h0M62.9 127.4h0M62.1 127.2h0M52.5 118.4h0M48.5 150.0h0M64.4 109.4h0M64.8 109.5h0M47.8 151.2h0M47.8 151.6h0M47.0 151.1h0M51.2 152.3h0M41.4 133.6h0M39.3 130.1h0M50.7 135.8h0M50.8 135.2h0M59.9 113.5h0M59.5 113.2h0M60.6 128.6h0M60.5 128.1h0M44.3 131.6h0M68.5 131.1h0M68.8 131.8h0M39.3 160.1h0M39.3 160.7h0M49.0 149.7h0M68.4 132.5h0M68.3 132.9h0M51.6 119.1h0M51.6 119.7h0M47.6 156.8h0M47.4 156.7h0M67.9 129.1h0M67.1 129.2h0M48.1 122.2h0M48.5 122.4h0M44.8 125.2h0M44.2 125.3h0M44.7 125.6h0M50.6 147.4h0M42.0 150.8h0M41.4 150.2h0M41.0 150.8h0M66.2 112.8h0"/><path stroke="#33ffc4" d="M65.3 137.7h0M50.3 153.1h0M50.4 153.8h0M39.2 150.0h0M42.6 132.6h0M61.5 117.9h0M49.8 128.7h0M62.6 116.8h0M38.4 162.5h0M38.2 162.7h0M49.8 136.0h0M45.8 158.5h0M45.4 159.0h0M65.8 113.8h0M65.0 113.9h0M40.9 150.1h0M40.2 150.4h0M38.1 149.1h0M38.3 149.1h0M38.4 149.7h0M48.9 155.8h0M48.6 155.9h0M64.7 114.3h0M64.0 114.8h0M64.8 115.0h0M49.8 154.1h0M62.7 140.5h0M64.6 138.1h0M66.0 127.0h0M63.9 139.6h0M63.0 139.7h0M64.0 139.2h0M38.5 163.2h0M38.7 163.7h0M67.9 134.8h0M50.9 146.3h0M60.1 118.7h0M41.7 162.9h0M41.3 162.5h0M40.3 145.4h0M63.4 127.0h0M61.9 141.4h0M61.6 141.8h0M48.4 137.0h0M48.7 137.9h0M40.5 159.3h0M67.8 109.3h0M66.5 128.1h0M66.6 128.5h0M66.8 128.0h0M66.8 128.5h0M50.0 148.7h0M50.9 148.4h0M51.0 149.0h0M53.6 133.4h0M67.8 110.0h0M67.6 110.7h0M43.2 156.2h0M43.6 156.6h0M46.5 130.7h0M46.7 130.0h0M46.5 130.5h0M44.0 155.4h0M44.4 155.6h0M47.5 123.2h0M51.0 146.4h0M65.7 109.4h0"/><path stroke="#49ffad" d="M55.4 116.6h0M55.0 116.2h0M67.2 132.0h0M67.6 131.2h0M67.3 131.1h0M67.8 131.9h0M39.9 163.9h0M39.4 163.8h0M64.3 127.2h0M64.7 127.1h0M64.7 127.7h0M60.8 142.7h0M38.2 133.3h0M38.2 133.9h0M38.9 133.8h0M63.7 110.6h0M63.4 110.2h0M43.9 131.6h0M44.6 149.4h0M38.3 133.0h0M38.3 132.6h0M40.9 133.6h0M59.4 143.3h0M46.4 148.1h0M46.7 148.0h0M42.0 158.6h0M47.3 138.4h0M47.2 138.1h0M44.7 159.5h0M59.1 129.8h0M59.0 129.7h0M59.3 129.2h0M55.4 124.0h0M55.4 123.5h0M66.5 109.1h0M66.3 109.7h0M66.8 109.4h0M42.9 161.7h0M42.1 161.3h0M68.0 133.5h0M45.3 154.4h0M67.2 132.1h0M67.9 132.4h0M67.8 132.9h0M66.4 135.1h0M66.1 135.8h0M61.0 128.7h0M58.6 144.3h0M51.3 145.7h0M52.2 145.1h0M52.8 145.3h0M52.8 145.6h0M56.5 131.1h0M56.6 131.6h0M39.4 161.9h0M41.1 129.0h0M41.3 129.1h0M57.4 121.4h0M39.9 133.6h0M39.2 133.7h0M49.2 146.5h0M49.6 146.3h0M66.5 129.0h0M40.4 130.3h0M51.4 147.2h0M43.7 160.5h0M43.5 160.9h0M49.5 150.2h0"/><path stroke="#5dff9a" d="M54.5 148.7h0M51.8 151.4h0M51.4 151.9h0M51.1 151.4h0M51.9 151.9h0M46.1 153.0h0M62.4 111.6h0M62.1 111.2h0M39.1 131.1h0M39.4 131.6h0M56.3 122.5h0M41.7 132.7h0M39.6 149.6h0M48.6 151.1h0M39.4 162.9h0M39.4 162.1h0M46.6 156.4h0M46.6 156.9h0M41.7 144.1h0M52.5 150.3h0M52.6 150.9h0M40.2 163.0h0M40.3 162.6h0M40.6 162.8h0M40.9 162.2h0M66.5 130.3h0M66.1 130.6h0M66.9 130.5h0M57.8 145.9h0M57.7 145.9h0M45.8 157.2h0M45.6 157.7h0M45.4 157.2h0M46.0 158.0h0M47.9 152.7h0M47.2 152.5h0M53.9 149.9h0M66.1 111.8h0M66.9 112.0h0M66.3 111.2h0M55.1 147.9h0M55.9 147.1h0M66.3 131.4h0M50.8 149.7h0M50.0 149.5h0M53.9 144.7h0M46.2 124.9h0M46.7 124.2h0M52.2 134.7h0M50.5 152.4h0M52.3 146.7h0M52.6 125.8h0M65.4 136.6h0M39.5 148.0h0M39.4 148.7h0M42.9 131.3h0M42.3 131.3h0M66.3 132.4h0M54.3 117.2h0M61.1 112.2h0M66.7 134.6h0M66.9 134.2h0M66.9 134.6h0M45.0 140.2h0M45.3 140.8h0M56.6 146.4h0M65.8 128.6h0M65.7 128.2h0M47.7 155.5h0M42.3 128.0h0M42.1 128.8h0M66.8 110.1h0M66.9 110.3h0M66.2 110.4h0M66.5 133.5h0M66.9 133.2h0M66.7 133.6h0M60.6 113.1h0M60.3 113.5h0M49.7 153.1h0M61.2 140.9h0M62.0 140.6h0M44.4 156.1h0M62.7 139.8h0M44.1 141.2h0M44.3 141.7h0M39.1 132.8h0M39.7 132.6h0M53.3 145.3h0M45.0 130.8h0M42.6 143.7h0M40.4 160.4h0M62.1 128.1h0M62.2 128.8h0M62.4 128.1h0M62.3 128.7h0M43.7 142.9h0M44.0 142.2h0M43.2 142.6h0M43.5 142.2h0"/><path stroke="#70ff87" d="M45.1 155.3h0M45.5 155.2h0M47.6 129.3h0M64.8 137.5h0M54.7 143.8h0M43.7 149.5h0M64.1 110.0h0M64.1 110.9h0M64.9 110.1h0M48.3 154.9h0M48.9 154.9h0M65.3 112.8h0M55.0 132.6h0M63.4 139.0h0M63.9 138.5h0M63.1 138.3h0M40.1 132.9h0M40.9 132.1h0M40.7 132.9h0M40.2 132.2h0M58.2 130.2h0M40.4 146.0h0M40.2 146.9h0M50.8 145.5h0M59.1 114.0h0M59.7 114.6h0M44.4 158.9h0M41.2 130.5h0M41.6 130.1h0M41.3 162.0h0M60.1 141.9h0M60.9 141.9h0M60.2 141.1h0M60.9 141.1h0M45.8 156.6h0M45.2 156.5h0M51.4 148.2h0M41.9 131.9h0M41.9 131.2h0M40.8 131.1h0M40.4 131.4h0M40.8 131.5h0M40.0 131.1h0M61.5 117.0h0M61.5 116.9h0M47.3 147.3h0M40.3 149.8h0M40.1 161.8h0M40.6 161.5h0M40.2 161.2h0M49.2 122.8h0M49.1 122.0h0M51.0 150.7h0M50.2 150.4h0M43.4 157.0h0M60.5 129.6h0M62.8 115.5h0M50.0 121.8h0M50.8 121.4h0M50.0 121.1h0M55.9 142.6h0M55.3 142.6h0M50.9 151.1h0M50.4 151.6h0M65.2 110.9h0M65.8 110.8h0M65.8 110.2h0M51.4 135.5h0M49.9 151.2h0M49.2 151.5h0M49.9 151.9h0M51.8 150.3h0M51.6 150.5h0M54.1 144.7h0M60.9 117.6h0M60.1 117.9h0M60.1 117.2h0M63.3 114.8h0M63.9 114.6h0M63.3 114.7h0M46.4 154.3h0M59.3 142.6h0M46.2 155.0h0M46.9 156.0h0M46.3 156.0h0M65.4 133.5h0M44.6 157.0h0M44.2 157.2h0M44.7 157.8h0M65.5 135.8h0M65.9 135.4h0M45.6 125.5h0M46.0 125.3h0M52.4 147.1h0M53.7 124.4h0M64.0 128.2h0M64.9 128.4h0M58.7 143.5h0M53.3 118.2h0M41.5 159.1h0M64.0 128.8h0M63.1 128.2h0M63.3 128.8h0M54.5 142.3h0M54.6 142.5h0M42.5 130.2h0M42.2 130.8h0M56.9 141.7h0M44.5 130.2h0M44.4 130.7h0M48.6 152.5h0M48.2 152.0h0"/><path stroke="#87ff70" d="M65.6 134.2h0M65.3 134.5h0M53.4 146.1h0M53.0 146.6h0M53.4 146.9h0M42.6 149.8h0M42.8 149.3h0M49.9 152.4h0M49.2 152.1h0M49.1 152.7h0M65.5 129.5h0M55.1 143.4h0M51.2 149.2h0M51.6 149.4h0M43.1 127.3h0M56.1 116.5h0M56.8 116.3h0M42.3 158.1h0M42.6 158.7h0M47.0 153.4h0M47.9 153.3h0M41.5 149.7h0M41.1 149.6h0M54.5 148.0h0M54.2 147.0h0M54.8 147.6h0M52.7 149.3h0M52.4 149.3h0M53.8 148.7h0M42.7 129.3h0M61.7 139.0h0M61.5 139.6h0M42.8 161.0h0M42.0 160.7h0M58.2 115.7h0M58.3 115.5h0M58.0 144.9h0M57.7 144.8h0M57.9 144.3h0M57.3 144.6h0M56.1 142.4h0M56.8 142.1h0M48.8 128.4h0M43.7 159.5h0M43.7 130.8h0M43.4 130.6h0M57.5 140.8h0M58.4 140.5h0M51.4 144.8h0M60.6 140.8h0M65.5 130.8h0M65.8 130.5h0M47.2 154.0h0M47.5 154.5h0M47.5 154.6h0M47.2 154.6h0M57.8 141.3h0M57.4 141.7h0M63.4 111.4h0M65.9 111.8h0M65.7 111.1h0M51.2 120.0h0M48.8 153.9h0M48.3 153.8h0M49.0 153.5h0M48.6 153.6h0M61.0 139.6h0M60.9 139.0h0M60.5 139.9h0M60.4 139.1h0M62.5 139.0h0M62.4 138.7h0M60.7 138.1h0M45.4 148.7h0M44.2 126.6h0M44.6 126.0h0M64.7 136.5h0M59.9 140.0h0M59.8 140.3h0M59.1 140.5h0M41.0 160.2h0M41.5 160.7h0M41.2 160.7h0M41.9 160.3h0M59.3 118.8h0M59.3 118.0h0M61.4 138.2h0M61.9 138.3h0M58.3 139.1h0M58.3 139.9h0M58.6 139.9h0M52.4 148.1h0M52.9 148.0h0M52.4 148.9h0M52.6 148.7h0M55.3 141.8h0M55.7 141.3h0M53.7 147.7h0M53.3 147.8h0M53.1 147.6h0M54.2 145.4h0M55.7 146.8h0M49.4 127.3h0M49.6 128.0h0M52.8 119.1h0M52.1 120.0h0M59.8 141.9h0M59.7 141.7h0M63.0 137.3h0M63.8 138.0h0M65.0 134.0h0M64.5 134.4h0M64.6 134.7h0M43.7 158.5h0M43.4 158.1h0M43.1 158.7h0M43.9 158.2h0M40.1 147.1h0M61.1 138.0h0M61.8 138.0h0M56.8 145.7h0M49.4 137.1h0M49.4 137.9h0M49.7 137.0h0M58.7 141.6h0M51.0 126.4h0M54.5 133.1h0M40.1 148.2h0M40.3 148.6h0M64.5 135.8h0M64.6 135.3h0M64.4 135.5h0M64.8 132.5h0M64.7 132.8h0M59.3 138.9h0M59.6 138.7h0M62.0 112.0h0M62.3 112.4h0M57.6 142.2h0M58.5 142.3h0M58.7 142.5h0M58.5 143.0h0M58.9 142.6h0M54.5 146.3h0M55.0 146.9h0M54.5 146.1h0"/><path stroke="#9aff5d" d="M62.7 137.6h0M48.6 146.8h0M56.7 143.0h0M56.4 143.7h0M56.1 143.7h0M55.7 144.2h0M55.0 144.7h0M57.6 143.2h0M57.9 143.8h0M57.2 143.8h0M52.2 143.5h0M57.4 131.2h0M57.3 131.6h0M64.3 111.6h0M64.9 111.1h0M62.8 136.0h0M62.2 136.9h0M62.7 136.7h0M42.4 160.0h0M43.0 159.3h0M42.3 159.7h0M42.8 159.9h0M61.4 129.3h0M60.1 137.4h0M60.1 137.1h0M63.9 137.0h0M63.5 136.6h0M63.7 136.4h0M63.9 135.8h0M63.3 135.6h0M64.7 112.4h0M64.8 112.9h0M61.1 113.2h0M61.0 113.8h0M56.0 140.9h0M56.5 141.0h0M63.4 134.3h0M60.6 114.4h0M47.3 124.3h0M58.8 119.4h0M56.3 144.9h0M56.5 144.3h0M48.3 138.4h0M61.5 136.5h0M41.8 145.2h0M41.1 146.0h0M41.2 145.3h0M54.1 123.1h0M54.1 123.8h0M55.8 145.5h0M55.2 145.2h0M55.2 145.5h0M55.9 145.9h0M51.8 125.3h0M51.4 125.8h0M61.7 115.6h0M61.4 115.6h0M59.8 130.1h0M63.8 113.6h0M63.4 113.4h0M60.3 116.6h0M64.9 129.4h0M62.6 114.8h0M62.4 114.6h0M64.6 131.5h0M60.0 115.2h0M59.2 115.1h0M53.8 142.3h0M46.5 129.6h0M63.8 112.6h0M63.6 112.6h0M63.7 112.3h0M63.9 112.3h0"/><path stroke="#b1ff46" d="M55.3 117.2h0M63.9 133.5h0M64.0 133.6h0M57.9 120.8h0M57.1 120.4h0M57.8 120.1h0M43.5 129.3h0M43.4 128.1h0M43.3 128.4h0M57.4 139.7h0M57.0 139.1h0M57.3 116.0h0M57.5 116.6h0M62.1 129.6h0M62.8 129.0h0M64.8 130.4h0M64.9 130.7h0M62.2 113.2h0M62.4 113.1h0M62.2 113.5h0M62.4 113.4h0M61.3 114.4h0M61.6 114.8h0M62.0 114.3h0M61.0 115.3h0M60.3 115.1h0M60.5 115.6h0M49.9 145.7h0M47.4 139.2h0M47.2 139.3h0M63.9 129.0h0M63.1 129.3h0M54.2 141.3h0M54.8 141.6h0M53.1 134.9h0M53.2 134.1h0M54.0 134.7h0M53.4 134.1h0M59.6 117.5h0M56.5 122.0h0M55.8 122.6h0M62.4 134.7h0M62.9 134.0h0M52.8 124.8h0M58.6 138.3h0M58.5 138.9h0M49.3 123.3h0"/><path stroke="#c4ff33" d="M50.9 122.0h0M50.2 122.3h0M50.5 123.0h0M46.8 125.1h0M56.4 132.7h0M56.2 132.5h0M63.6 133.0h0M63.8 132.2h0M42.6 144.1h0M41.2 148.7h0M41.1 148.2h0M41.9 149.0h0M59.4 116.2h0M60.0 116.9h0M44.7 148.6h0M61.4 135.9h0M46.7 147.1h0M61.0 136.7h0M60.5 136.2h0M59.3 137.7h0M59.2 137.3h0M58.3 116.7h0M58.6 116.0h0M58.9 116.5h0M46.2 140.2h0M46.8 140.9h0M46.3 140.8h0M46.8 140.1h0M44.0 129.8h0M44.0 129.5h0M44.4 129.4h0M45.2 129.9h0M46.0 129.8h0M45.8 129.5h0M45.7 129.5h0M60.3 130.3h0M60.6 130.9h0M54.3 118.2h0M50.3 144.8h0M50.1 145.0h0M50.5 144.2h0M43.8 143.7h0M43.2 143.5h0M47.3 128.4h0M41.5 146.2h0M41.6 146.5h0M41.2 146.9h0M44.8 142.0h0M45.7 141.1h0M48.0 124.4h0M44.2 127.5h0M44.7 127.2h0M44.2 127.7h0M63.1 131.9h0M64.0 132.0h0M63.9 130.1h0M63.9 131.0h0M63.7 130.4h0M63.1 130.7h0"/><path stroke="#d7ff1f" d="M51.2 121.2h0M45.6 126.4h0M50.5 125.6h0M50.0 126.9h0M49.8 126.4h0M58.1 131.1h0M59.0 132.0h0M58.2 131.9h0M58.7 119.0h0M52.4 135.2h0M48.6 127.8h0M49.0 127.7h0M41.0 147.7h0M41.3 148.0h0M41.3 147.4h0M42.7 148.8h0M56.7 117.3h0M56.0 117.4h0M43.6 148.6h0M43.0 148.9h0M61.9 130.4h0M61.2 130.5h0M51.2 143.7h0M62.7 130.4h0M54.0 123.2h0M58.9 117.8h0M58.7 117.4h0M44.5 128.2h0M44.1 128.6h0M44.6 128.9h0M51.8 124.6h0M51.3 124.9h0M53.2 119.3h0M53.9 119.0h0M53.9 119.4h0"/><path stroke="#eeff09" d="M51.3 136.2h0M51.4 136.8h0M52.3 120.6h0M55.4 133.1h0M50.5 123.2h0M50.1 123.2h0M49.0 124.0h0M47.7 125.4h0M47.1 126.0h0M47.6 125.1h0M47.2 146.3h0M47.9 146.8h0M57.2 119.7h0M58.0 119.9h0M52.9 142.5h0M52.0 142.8h0M61.9 134.9h0M61.8 134.2h0M57.9 117.4h0M57.5 117.3h0M50.1 137.4h0M50.8 137.9h0M62.7 132.8h0M62.4 132.4h0M50.6 124.5h0M50.9 124.6h0M50.2 124.5h0M49.3 125.2h0M49.7 125.4h0M50.0 125.2h0M62.4 131.2h0M62.7 131.7h0M49.1 138.6h0M46.7 128.6h0"/><path stroke="#ffea00" d="M53.4 141.2h0M49.0 125.8h0M48.4 125.2h0M48.3 125.4h0M61.0 135.2h0M60.3 135.5h0M51.5 122.1h0M51.0 122.5h0M59.9 131.1h0M59.0 131.1h0M59.5 131.8h0M55.1 118.4h0M45.4 128.9h0M45.8 128.6h0M56.8 120.9h0M56.7 120.4h0M58.0 138.2h0M57.4 138.2h0M42.3 145.4h0M49.0 126.1h0M48.3 127.0h0M48.3 126.0h0M46.1 126.2h0M52.6 123.8h0M52.3 123.9h0M52.7 123.2h0M45.2 127.9h0M45.1 127.5h0M51.9 123.1h0M51.5 123.8h0M51.0 123.7h0M48.5 145.5h0M48.5 145.5h0M48.8 145.7h0M57.9 118.3h0M57.4 119.0h0M57.9 118.5h0M57.5 118.3h0M54.8 122.9h0M54.2 122.5h0M57.1 132.1h0M45.4 147.9h0M45.9 147.5h0M45.4 147.4h0M59.5 136.8h0M47.9 127.9h0M48.6 139.4h0"/><path stroke="#ffd000" d="M61.9 131.1h0M61.9 131.9h0M55.8 121.6h0M60.2 131.8h0M60.9 131.6h0M61.0 131.2h0M54.8 140.3h0M47.0 126.1h0M47.6 126.8h0M47.7 126.4h0M43.0 147.8h0M42.4 148.0h0M42.5 147.7h0M56.1 118.4h0M56.9 118.2h0M61.0 133.2h0M54.1 134.6h0M54.2 134.1h0M46.9 127.4h0M46.1 127.6h0M46.1 127.0h0M47.0 127.8h0M49.4 145.0h0M49.6 144.1h0M54.5 119.6h0M54.9 119.1h0M54.7 119.1h0M52.1 121.5h0M43.5 144.7h0M47.5 140.2h0M47.3 140.9h0M56.7 119.2h0M56.8 119.7h0M42.3 146.1h0M42.4 146.9h0"/><path stroke="#ffb900" d="M61.9 132.8h0M62.0 132.0h0M52.1 122.0h0M52.3 122.4h0M44.4 143.1h0M44.7 143.3h0M53.2 122.3h0M53.5 122.5h0M46.5 141.2h0M45.2 142.1h0M53.1 120.1h0M53.5 120.2h0M44.3 147.2h0M44.7 147.8h0M50.4 143.3h0M55.5 119.8h0M55.7 119.0h0M55.0 119.8h0M43.9 147.4h0M43.3 147.3h0M43.8 147.8h0M60.8 134.4h0M60.0 135.0h0"/><path stroke="#ffa300" d="M55.6 139.7h0M56.1 133.1h0M56.7 133.5h0M53.1 135.6h0M54.0 135.1h0M58.3 132.5h0M55.5 120.8h0M55.7 120.7h0M51.8 142.2h0M51.3 142.9h0M60.8 132.7h0M60.6 132.1h0M55.0 121.5h0M54.2 121.8h0M52.9 141.8h0M52.9 141.1h0"/><path stroke="#ff8900" d="M53.9 121.6h0M53.1 121.5h0M53.2 122.0h0M53.3 121.1h0M52.4 136.2h0M54.4 120.9h0M54.8 120.9h0M55.0 120.1h0M54.4 120.5h0M60.0 135.9h0M59.9 135.2h0M59.0 132.1h0M59.9 132.2h0M51.2 137.5h0M50.0 138.6h0M50.9 138.4h0M60.9 133.9h0M60.4 133.0h0M60.7 133.6h0M56.5 138.8h0M56.8 138.1h0M43.3 145.5h0M47.5 145.8h0M49.1 139.2h0M53.4 140.6h0"/><path stroke="#ff7300" d="M43.4 146.4h0M43.3 146.2h0M59.0 136.7h0M57.7 137.6h0M57.8 137.6h0M55.4 134.2h0M55.1 134.3h0M55.7 134.6h0M48.8 144.7h0M48.2 144.7h0M48.6 140.9h0M48.6 140.1h0M57.5 133.4h0"/><path stroke="#ff5900" d="M45.8 146.9h0M45.3 146.8h0M44.2 144.0h0M44.6 144.1h0M59.5 134.5h0M59.9 133.5h0M60.0 133.9h0M44.2 147.0h0M45.0 146.9h0M45.3 143.1h0M45.4 143.5h0M54.9 139.7h0M54.5 140.0h0M54.8 139.2h0M49.5 143.8h0M47.2 141.1h0M47.5 141.4h0"/><path stroke="#ff4300" d="M46.0 142.4h0M58.4 133.1h0M58.8 133.4h0M50.4 142.9h0M51.3 141.9h0M51.8 141.6h0M51.1 141.5h0M44.2 145.1h0M44.3 145.3h0M44.9 145.5h0M44.0 145.9h0M54.6 135.3h0M46.6 145.9h0"/><path stroke="#ff2d00" d="M52.9 140.3h0M50.6 139.4h0M50.2 139.4h0M58.6 135.9h0M58.8 135.5h0M51.4 138.3h0M56.9 134.0h0M56.2 134.2h0M56.5 134.3h0M55.7 138.1h0M55.7 138.8h0M49.4 140.1h0M49.5 140.6h0M52.5 137.1h0M52.2 137.4h0M47.7 144.0h0M47.7 145.0h0M53.1 136.2h0M53.5 136.4h0M53.1 136.5h0"/><path stroke="#ff1300" d="M58.2 134.2h0M58.6 134.0h0M58.7 134.9h0M45.8 145.7h0M45.1 145.9h0M45.0 144.9h0M45.4 144.1h0M53.3 139.9h0M48.3 143.7h0M48.9 143.4h0M46.1 143.9h0M46.3 143.2h0M48.6 141.5h0M57.8 136.7h0M57.4 136.9h0M57.8 136.3h0M57.5 134.5h0M57.5 134.2h0M57.8 134.4h0M47.2 142.7h0M47.1 142.5h0M48.0 142.3h0"/><path stroke="#e40000" d="M56.7 137.8h0M51.8 140.6h0M51.7 140.8h0M50.6 142.0h0M51.0 141.6h0M49.7 142.8h0M46.5 145.0h0M46.6 144.9h0M46.9 144.7h0M46.0 144.6h0M50.7 140.2h0M50.2 140.2h0M50.1 140.8h0M50.8 140.4h0M51.9 139.6h0M51.5 139.1h0M51.0 139.7h0M47.4 143.1h0M47.6 143.5h0M47.0 143.7h0M52.8 139.5h0M49.8 141.2h0M49.5 142.0h0M49.1 141.6h0"/><path stroke="#c40000" d="M48.8 142.3h0M48.2 142.2h0M48.8 142.7h0M48.6 143.0h0M52.3 138.8h0M52.4 138.2h0M55.4 135.4h0M58.0 135.2h0M57.4 135.9h0M57.7 135.7h0M54.5 138.8h0M54.8 138.1h0M54.2 138.1h0"/><path stroke="#a80000" d="M53.8 137.2h0M53.7 137.7h0M53.1 137.7h0M53.2 138.9h0M53.8 138.2h0M53.7 138.9h0M53.1 138.5h0M56.2 135.5h0M56.7 135.0h0M54.0 136.4h0"/><path stroke="#8d0000" d="M56.4 136.9h0M56.8 136.1h0M55.5 137.7h0M54.7 138.0h0M55.0 137.9h0M54.7 137.0h0M55.9 136.8h0M55.4 136.2h0M55.1 136.7h0M55.5 136.1h0"/></g><line x1="35.50" y1="169.80" x2="180.60" y2="7.70" stroke="#3a3a3a" stroke-width="0.8"/><line x1="35.50" y1="154.63" x2="180.60" y2="21.71" stroke="#34a834" stroke-width="1.15" stroke-dasharray="2.5 1.2"/></g><rect x="35.50" y="7.70" width="145.10" height="162.10" fill="none" stroke="#7a7a7a" stroke-width="0.9"/><path d="M35.50 169.80v-1.6M35.50 7.70v1.6M77.93 169.80v-1.6M77.93 7.70v1.6M120.35 169.80v-1.6M120.35 7.70v1.6M162.78 169.80v-1.6M162.78 7.70v1.6M35.50 169.80h1.6M180.60 169.80h-1.6M35.50 150.84h1.6M180.60 150.84h-1.6M35.50 131.88h1.6M180.60 131.88h-1.6M35.50 112.92h1.6M180.60 112.92h-1.6M35.50 93.96h1.6M180.60 93.96h-1.6M35.50 75.00h1.6M180.60 75.00h-1.6M35.50 56.05h1.6M180.60 56.05h-1.6M35.50 37.09h1.6M180.60 37.09h-1.6M35.50 18.13h1.6M180.60 18.13h-1.6" stroke="#666" stroke-width="0.7" fill="none"/><g font-size="8.4" fill="#222"><text x="35.50" y="178.40" text-anchor="middle">0.000</text><text x="77.93" y="178.40" text-anchor="middle">0.005</text><text x="120.35" y="178.40" text-anchor="middle">0.010</text><text x="162.78" y="178.40" text-anchor="middle">0.015</text><text x="33.50" y="172.70" text-anchor="end">0.000</text><text x="33.50" y="153.74" text-anchor="end">0.002</text><text x="33.50" y="134.78" text-anchor="end">0.004</text><text x="33.50" y="115.82" text-anchor="end">0.006</text><text x="33.50" y="96.86" text-anchor="end">0.008</text><text x="33.50" y="77.90" text-anchor="end">0.010</text><text x="33.50" y="58.95" text-anchor="end">0.012</text><text x="33.50" y="39.99" text-anchor="end">0.014</text><text x="33.50" y="21.03" text-anchor="end">0.016</text></g><text x="40.80" y="21.00" font-size="8.5" fill="#222">(a)412nm</text><line x1="109.00" y1="150.50" x2="122.80" y2="150.50" stroke="#3a3a3a" stroke-width="0.8"/><line x1="109.00" y1="159.60" x2="122.80" y2="159.60" stroke="#34a834" stroke-width="1.15" stroke-dasharray="2.5 1.2"/><g font-size="7.4" fill="#222"><text x="128.30" y="153.50" textLength="7.9" lengthAdjust="spacingAndGlyphs">1:1</text><text x="128.30" y="162.70" textLength="45.7" lengthAdjust="spacingAndGlyphs">Y=0.82x+0.0016</text></g><text x="108.05" y="188.90" font-size="8.5" text-anchor="middle" fill="#222">Simulated Rrs (<tspan font-family="DejaVu Sans" font-style="italic">sr</tspan><tspan font-family="DejaVu Sans" font-size="5.9" dy="-3.2">−1</tspan><tspan dy="3.2">)</tspan></text><text transform="translate(11.00 88.75) rotate(-90)" font-size="8.5" text-anchor="middle" fill="#222">Estimated Rrs (<tspan font-family="DejaVu Sans" font-style="italic">sr</tspan><tspan font-family="DejaVu Sans" font-size="5.9" dy="-3.2">−1</tspan><tspan dy="3.2">)</tspan></text><clipPath id="c1"><rect x="216.50" y="7.70" width="145.10" height="162.10"/></clipPath><g clip-path="url(#c1)"><g fill="none" stroke-width="2.10" stroke-linecap="round"><path stroke="#00008d" d="M301.7 105.2h0M290.9 115.1h0M341.3 49.2h0M340.7 48.5h0M337.2 69.3h0M298.7 108.4h0M297.2 105.5h0M339.2 67.7h0M324.4 82.6h0"/><path stroke="#0000a8" d="M294.9 105.2h0M329.0 75.4h0M285.5 122.1h0M318.2 87.0h0M337.5 54.2h0M327.2 77.4h0M320.7 72.8h0M336.9 67.2h0M339.3 54.7h0M296.4 102.0h0M339.6 56.0h0M324.7 74.2h0M291.3 105.9h0M297.0 109.7h0M319.4 71.3h0M335.6 47.6h0M263.2 143.7h0M340.8 62.9h0M340.0 59.3h0M249.5 157.2h0M331.4 25.1h0M276.0 129.9h0M304.2 102.1h0M303.4 91.1h0M288.0 119.3h0M340.2 61.2h0M275.2 129.5h0M252.8 154.2h0M326.3 75.2h0M306.7 100.3h0M249.6 153.5h0M331.9 71.9h0M324.4 80.5h0M338.3 64.4h0M293.1 108.4h0M308.0 98.4h0M307.2 97.3h0M319.9 81.9h0M258.5 151.5h0M295.1 111.0h0M303.9 90.1h0M302.9 93.3h0M250.9 156.1h0M321.4 79.6h0M306.6 96.8h0M313.8 87.0h0M337.3 58.3h0M220.2 166.8h0M250.5 151.1h0M324.1 79.1h0M255.4 153.3h0M330.8 73.0h0M320.0 85.2h0M321.0 76.4h0M260.5 144.4h0M337.4 60.7h0M257.4 152.3h0M333.8 61.8h0M326.6 73.6h0M319.0 68.7h0M272.1 130.8h0M240.2 160.7h0M286.2 117.8h0M339.0 60.0h0M334.5 48.7h0M318.0 84.3h0M337.4 64.1h0M280.2 126.0h0M289.7 112.7h0M317.5 71.0h0M318.7 83.0h0M325.8 60.3h0M280.8 113.5h0M281.3 122.4h0M310.4 85.0h0M326.7 72.5h0M284.7 120.3h0M300.0 94.6h0M306.7 87.1h0M225.8 126.9h0M304.7 101.3h0M285.1 112.2h0M330.5 71.3h0M266.1 143.0h0M295.6 100.3h0M231.9 122.3h0M315.3 82.3h0M320.7 77.9h0M334.5 58.3h0M311.9 85.7h0M307.8 86.2h0M317.6 75.8h0M267.1 140.4h0M287.3 119.1h0M316.2 79.5h0M326.6 66.8h0M304.0 95.3h0M318.0 77.6h0M334.5 57.9h0M241.6 160.3h0M319.5 79.0h0M291.0 108.5h0M275.3 127.4h0M333.2 56.1h0M334.9 62.1h0M259.2 147.2h0M253.6 152.2h0M253.1 152.7h0M284.5 118.8h0M316.9 81.7h0M291.6 112.9h0M265.4 142.1h0M222.6 128.5h0M284.0 112.8h0M335.3 64.8h0M259.5 145.6h0M311.8 82.2h0M332.0 66.3h0M330.8 58.5h0M275.5 126.7h0M335.5 63.0h0M333.0 57.8h0M263.6 139.8h0M333.4 51.5h0M328.8 60.3h0M301.2 101.6h0M280.0 113.5h0M279.4 115.1h0M297.6 99.3h0M329.4 69.5h0M285.4 118.3h0M297.1 97.1h0M222.8 131.7h0M324.5 59.0h0M325.0 59.1h0M229.9 123.1h0M331.3 26.8h0M330.5 61.3h0M266.9 139.5h0M286.2 119.7h0M312.2 93.1h0M217.5 163.1h0M217.5 163.6h0M333.8 50.4h0M281.4 117.7h0M333.2 64.9h0M323.2 69.3h0M323.7 69.7h0M332.7 65.2h0M324.6 64.3h0M269.6 128.7h0M276.3 126.3h0M271.7 136.9h0M330.9 57.6h0M310.5 81.4h0M290.6 103.7h0M293.8 111.0h0M293.3 111.9h0M293.3 110.5h0M228.5 124.3h0M314.8 81.4h0M274.9 123.8h0M281.2 111.6h0M305.5 84.7h0M313.9 92.0h0M316.9 70.6h0M298.5 99.5h0M331.5 55.0h0M330.7 26.8h0M324.2 68.7h0M258.6 145.2h0"/><path stroke="#0000c8" d="M320.7 66.3h0M320.9 66.9h0M308.4 88.0h0M307.9 83.6h0M280.1 111.1h0M324.2 63.0h0M265.3 141.7h0M291.6 111.9h0M309.3 87.3h0M317.1 68.6h0M263.9 137.7h0M328.1 66.5h0M328.9 66.0h0M280.0 112.0h0M219.5 165.0h0M265.1 140.1h0M247.0 154.4h0M327.5 70.6h0M313.4 81.9h0M244.8 159.2h0M282.9 111.3h0M282.1 111.3h0M266.6 137.0h0M327.4 58.9h0M316.3 74.5h0M256.6 151.3h0M271.0 137.8h0M304.9 86.4h0M260.2 141.3h0M335.3 44.5h0M258.2 148.7h0M309.3 93.2h0M324.7 63.0h0M325.4 69.9h0M311.8 87.4h0M270.4 92.4h0M268.1 137.2h0M327.8 69.3h0M297.4 95.0h0M332.0 65.4h0M270.2 90.2h0M288.7 110.8h0M299.3 99.1h0M309.2 79.7h0M309.7 79.3h0M265.3 96.4h0M249.9 149.4h0M330.3 55.1h0M330.2 55.7h0M327.9 57.2h0M269.3 137.3h0M220.4 165.0h0M220.4 165.8h0M300.7 100.8h0M328.4 56.6h0M328.5 57.0h0M328.5 63.5h0M319.7 67.0h0M267.5 136.9h0M277.7 121.1h0M286.1 107.2h0M227.5 166.8h0M314.1 78.4h0M312.6 89.0h0M279.6 125.3h0M326.7 57.8h0M295.8 97.2h0M289.0 109.8h0M288.4 109.6h0M217.7 161.8h0M285.1 110.9h0M279.1 111.3h0M259.3 141.1h0M332.5 52.1h0M281.6 119.0h0M278.4 125.0h0M329.6 62.4h0M312.6 80.5h0M278.1 123.1h0M308.4 78.8h0M238.7 116.0h0M279.2 124.6h0M284.8 110.9h0M285.8 109.3h0M276.8 120.3h0M278.9 121.4h0M255.2 143.2h0M304.3 98.0h0M301.2 100.5h0M262.4 137.7h0M253.1 148.4h0M280.2 83.8h0M314.9 77.7h0M317.5 67.2h0M307.3 82.3h0M227.4 124.3h0M227.5 124.7h0M279.9 121.9h0M238.3 157.8h0M279.9 117.6h0M311.6 79.6h0M319.0 66.6h0M318.2 66.8h0M268.4 128.4h0M308.3 90.0h0M222.7 127.8h0M222.8 127.5h0M335.5 43.7h0M280.2 121.0h0M260.8 140.2h0M267.3 95.3h0M325.6 57.9h0M288.0 105.9h0M312.8 92.9h0M312.5 92.8h0M240.2 116.1h0M330.1 63.3h0M268.7 127.4h0M268.1 127.6h0M328.7 27.5h0M277.8 117.3h0M315.1 75.3h0M303.4 83.1h0M303.1 86.6h0M333.5 47.7h0M329.6 64.0h0M257.0 146.8h0M331.8 53.9h0M331.6 53.0h0M323.3 63.6h0M332.8 51.7h0M332.1 51.6h0M308.7 91.7h0M308.6 91.4h0M271.8 133.4h0M280.4 119.0h0M277.4 115.1h0M270.7 135.5h0M303.4 85.6h0M280.1 119.6h0M303.4 99.8h0M236.1 161.8h0M237.0 161.2h0M282.4 108.0h0M293.8 99.0h0M266.6 96.8h0M291.5 101.1h0M281.5 108.1h0M303.4 97.3h0M322.0 64.6h0M321.5 64.5h0M256.8 142.5h0M306.5 82.0h0M306.8 82.5h0M277.3 114.6h0M322.9 31.2h0M332.6 50.0h0M312.6 78.2h0M318.9 65.2h0M217.7 160.9h0M298.5 93.9h0M237.4 118.2h0M315.7 72.3h0M302.3 87.5h0M320.7 64.5h0M296.0 95.1h0M257.4 141.6h0M272.2 123.4h0M305.9 82.1h0M218.3 163.2h0M302.5 97.1h0M302.1 97.4h0M307.5 81.5h0M307.5 81.4h0M274.9 88.7h0M242.2 114.7h0M301.9 98.5h0M301.2 88.1h0M257.9 147.8h0M292.8 100.0h0M245.7 155.1h0M252.5 145.0h0M309.5 92.1h0M319.7 64.5h0M308.2 76.1h0M309.0 77.0h0M241.8 113.1h0M284.4 107.4h0M322.2 63.2h0M322.5 63.8h0M251.9 106.1h0M245.4 156.4h0M226.6 165.9h0M307.1 81.0h0M322.9 62.8h0M322.9 62.1h0M274.1 89.2h0M334.3 45.1h0M299.2 91.2h0M294.0 95.3h0M294.9 95.5h0M285.2 76.1h0M293.7 97.7h0M293.9 97.5h0M261.4 137.2h0M232.6 164.5h0M311.9 90.3h0M270.2 131.8h0M286.1 105.5h0M240.0 157.5h0M319.3 34.8h0M295.3 94.7h0M312.5 77.6h0M241.5 158.9h0M254.0 149.5h0M254.3 150.0h0M234.6 163.5h0M303.0 98.3h0M330.1 53.8h0M324.4 57.3h0M276.8 116.1h0M334.6 34.6h0M267.6 129.3h0M321.2 63.1h0M316.6 67.1h0M325.3 29.5h0M302.7 85.1h0M302.5 86.0h0M311.0 76.4h0M310.7 77.0h0M310.1 76.2h0M298.0 54.8h0M310.4 90.6h0M298.0 93.2h0M255.6 147.3h0M283.5 107.9h0M282.8 80.8h0M277.2 86.1h0M233.2 120.7h0M276.0 115.6h0M285.0 77.5h0M249.7 147.2h0M295.2 57.0h0M311.2 91.9h0M317.7 36.5h0M285.7 78.3h0M318.0 65.8h0M283.1 79.8h0M274.6 120.4h0M274.2 120.2h0M292.3 99.7h0M273.2 121.5h0M273.9 121.2h0M221.0 164.8h0M288.8 103.3h0M252.8 144.9h0M261.9 136.6h0M238.2 156.5h0M268.2 131.8h0M296.3 93.5h0M224.0 164.4h0M292.0 100.1h0M300.6 88.3h0M300.5 88.5h0M284.3 106.2h0M230.4 165.7h0M230.2 165.1h0M235.6 162.7h0M256.6 141.6h0M311.5 76.5h0M275.0 118.7h0M245.7 143.5h0M268.8 125.2h0M309.6 75.2h0M299.7 89.7h0M305.9 81.3h0M270.9 124.1h0M270.2 125.0h0M254.7 142.1h0M312.1 76.7h0M292.3 96.6h0M292.7 96.9h0M331.6 50.2h0M302.2 82.3h0M302.8 82.7h0M256.1 148.3h0M293.0 98.4h0M245.4 144.7h0M234.5 120.6h0M333.7 46.7h0M304.2 81.2h0M246.7 143.3h0M327.3 28.2h0M275.2 87.6h0M276.3 86.6h0M277.0 86.6h0M270.8 132.7h0M242.0 158.2h0M281.7 83.1h0M306.5 78.4h0M245.0 143.3h0M306.7 80.8h0M243.9 158.9h0M331.3 49.3h0M331.4 49.7h0M289.8 74.3h0M321.4 61.6h0M281.8 107.4h0M294.4 93.5h0M306.7 79.6h0M309.8 43.7h0M244.9 111.2h0M244.7 153.4h0M255.5 148.2h0M255.2 148.7h0M261.6 97.5h0M330.9 52.5h0M324.4 30.3h0M219.1 163.5h0M301.4 84.3h0M250.7 146.9h0M250.9 146.0h0M273.7 91.7h0M332.5 47.5h0M252.6 143.3h0M314.7 70.6h0M314.2 70.3h0M244.7 157.5h0M244.7 157.8h0M246.7 142.2h0M282.9 81.8h0M282.5 81.1h0M303.7 81.8h0M274.9 119.4h0M313.9 75.5h0M291.7 97.5h0M298.1 91.8h0M298.7 91.6h0M297.2 92.5h0M314.5 72.1h0M268.9 133.6h0"/><path stroke="#0000e3" d="M269.3 133.7h0M269.3 133.3h0M229.0 165.6h0M244.2 156.1h0M251.6 145.8h0M235.7 120.1h0M289.3 75.3h0M289.9 75.4h0M243.6 143.8h0M247.4 144.4h0M286.3 104.7h0M248.2 147.5h0M299.0 88.2h0M311.9 42.1h0M320.7 62.0h0M289.3 73.0h0M328.6 53.7h0M328.8 53.0h0M332.0 28.4h0M275.5 116.3h0M290.7 97.3h0M290.5 97.6h0M321.4 61.0h0M290.2 98.7h0M290.6 99.4h0M289.4 98.3h0M243.1 155.7h0M314.1 73.2h0M300.3 87.6h0M288.6 102.8h0M274.4 86.8h0M222.8 126.2h0M277.0 87.4h0M289.9 99.8h0M289.7 99.3h0M270.0 124.9h0M289.7 100.5h0M284.2 105.2h0M235.1 161.5h0M330.2 51.4h0M217.7 159.7h0M293.8 58.8h0M219.7 162.7h0M219.1 162.8h0M255.9 141.7h0M247.9 145.4h0M235.4 119.1h0M309.7 74.1h0M235.9 158.7h0M323.5 31.7h0M324.0 31.1h0M298.7 89.3h0M287.6 78.5h0M247.7 109.9h0M287.7 103.8h0M271.8 93.4h0M264.9 134.1h0M276.4 88.5h0M245.4 145.3h0M323.0 58.2h0M292.5 94.4h0M292.8 94.1h0M242.6 157.3h0M262.6 99.2h0M225.4 124.4h0M330.4 50.3h0M290.0 96.2h0M233.0 163.0h0M291.0 95.5h0M329.3 52.7h0M266.1 133.7h0M266.8 133.9h0M320.8 34.9h0M325.3 56.0h0M247.0 151.7h0M289.5 76.8h0M226.6 164.9h0M274.7 118.4h0M246.6 141.6h0M297.7 91.5h0M289.0 101.2h0M288.0 102.0h0M323.9 57.3h0M294.7 92.3h0M255.2 135.5h0M243.8 157.5h0M266.9 128.8h0M301.8 51.5h0M241.6 155.6h0M264.0 134.9h0M220.2 163.8h0M221.0 163.4h0M271.5 122.6h0M246.9 110.9h0M260.9 135.1h0M245.0 110.9h0M318.1 36.8h0M318.5 36.5h0M262.1 134.6h0M259.0 138.5h0M242.4 143.9h0M300.8 86.7h0M300.9 86.2h0M268.0 124.4h0M268.7 124.3h0M282.6 106.2h0M282.2 107.0h0M310.6 73.2h0M304.6 80.7h0M247.1 141.1h0M248.1 145.6h0M274.0 119.5h0M254.5 134.7h0M241.0 155.7h0M305.3 79.8h0M276.6 113.9h0M257.2 135.2h0M234.2 162.4h0M312.2 75.0h0M313.0 74.3h0M230.9 164.7h0M251.6 144.4h0M330.1 49.7h0M238.8 155.4h0M334.5 36.9h0M235.5 118.2h0M235.9 118.3h0M313.7 72.7h0M297.6 90.9h0M297.8 90.7h0M310.8 43.2h0M270.3 123.8h0M313.4 70.4h0M295.4 91.8h0M257.6 134.8h0M271.5 121.1h0M312.3 71.4h0M253.5 141.2h0M245.2 141.3h0M248.6 143.7h0M316.1 65.4h0M254.4 133.8h0M327.7 53.9h0M287.6 103.0h0M315.2 67.9h0M221.5 163.8h0M287.0 103.2h0M286.0 103.5h0M243.9 142.0h0M243.6 142.0h0M313.5 73.9h0M313.4 73.3h0M313.1 73.9h0M248.0 142.3h0M248.2 142.5h0M248.9 142.8h0M329.4 52.0h0M312.2 73.9h0M312.5 73.2h0M309.0 44.5h0M256.2 136.3h0M244.2 152.6h0M250.4 145.3h0M250.8 145.1h0M266.4 126.1h0M237.1 155.1h0M242.3 145.4h0M315.9 38.1h0M274.4 117.5h0M283.2 105.8h0M287.8 100.9h0M321.2 59.7h0M270.4 94.4h0M251.1 142.7h0M302.4 81.4h0M220.6 162.4h0M220.4 162.2h0M254.6 135.9h0M254.5 135.6h0M297.4 89.0h0M220.9 161.0h0M313.1 40.4h0M313.5 40.3h0M320.4 61.3h0M219.5 160.8h0M259.2 135.0h0M260.6 134.4h0M265.4 93.9h0M305.2 79.0h0M305.9 78.2h0M241.3 144.5h0M241.8 144.3h0M227.6 164.5h0M246.6 146.1h0M241.4 154.6h0M256.1 139.9h0M272.9 119.8h0M272.2 119.5h0M259.8 137.3h0M255.6 140.9h0M296.3 90.1h0M311.3 71.1h0M244.8 113.5h0M247.6 140.9h0M251.2 107.6h0M251.8 141.7h0M300.3 84.6h0M248.0 148.1h0M253.8 134.4h0M223.4 163.1h0M223.7 163.7h0M310.2 72.1h0M290.9 71.9h0M230.8 163.6h0M218.6 126.2h0M281.0 106.4h0M269.0 123.5h0M278.0 109.4h0M286.3 102.8h0M289.9 77.4h0M299.3 53.7h0M246.5 140.6h0M285.7 103.3h0M285.2 103.9h0M314.4 39.5h0M224.3 163.9h0M312.1 70.9h0M258.1 99.5h0M325.3 30.8h0M258.6 134.5h0M241.2 143.5h0M307.9 45.5h0M228.4 164.1h0M299.8 86.3h0M270.9 122.6h0M220.6 160.1h0M257.8 138.8h0M257.7 138.7h0M270.6 121.3h0M255.7 133.0h0M290.9 75.2h0M249.9 144.3h0M249.4 144.8h0M225.4 163.7h0M274.5 116.3h0M270.7 120.0h0M296.3 56.3h0M256.5 137.1h0M256.8 137.6h0M312.6 42.3h0M221.6 161.1h0M221.7 161.3h0M268.2 123.3h0M249.9 142.0h0M331.9 47.9h0M250.9 141.1h0M250.1 141.3h0M252.4 140.7h0M286.5 65.3h0M298.4 87.6h0M244.3 141.4h0M244.7 141.9h0M253.7 135.1h0M253.1 135.5h0M288.0 64.7h0M287.6 64.3h0M254.8 140.8h0M257.2 133.5h0M257.4 133.1h0M271.1 119.0h0M288.2 71.9h0M246.0 146.1h0M245.1 146.6h0M257.9 137.6h0M291.6 73.1h0M292.1 93.1h0M236.5 155.6h0M250.1 143.9h0M250.8 143.5h0M240.1 154.4h0M258.8 137.0h0M259.0 137.7h0M258.6 138.0h0M255.4 137.7h0M253.4 140.6h0M234.3 161.4h0M232.3 162.9h0M255.4 139.7h0M255.9 139.2h0M334.2 43.9h0M294.2 91.5h0M275.5 90.5h0M284.7 80.9h0M249.7 140.7h0M262.2 133.5h0M262.9 133.9h0M250.1 141.0h0M250.8 140.9h0M283.2 77.0h0M256.0 102.9h0M305.8 77.7h0M322.6 33.2h0M321.8 34.2h0M269.1 122.6h0M302.3 51.0h0M302.5 50.2h0M314.5 68.5h0M256.7 132.1h0M269.1 121.2h0M269.3 121.1h0M269.5 121.7h0M328.6 51.5h0M313.5 69.1h0M313.3 69.5h0M286.0 100.1h0M286.8 100.5h0M279.1 107.1h0M273.7 77.0h0M334.1 37.9h0M244.1 146.6h0M318.6 37.8h0M264.1 133.1h0M241.4 153.8h0M224.3 113.7h0M222.4 161.6h0M222.4 161.1h0M315.1 66.9h0M235.8 156.7h0M249.0 139.6h0M248.9 139.1h0M246.9 150.2h0M246.3 150.0h0M320.9 35.3h0M259.0 102.9h0M228.3 163.3h0M267.6 124.0h0M223.9 160.5h0M245.0 140.6h0M245.5 140.3h0M317.0 63.4h0M265.6 130.1h0M255.0 137.2h0M265.6 128.8h0M265.9 128.2h0M265.3 128.7h0M253.1 136.2h0M254.0 136.4h0M253.9 136.6h0M222.0 162.4h0M222.3 162.9h0M230.8 161.2h0M255.0 103.2h0M263.6 133.4h0M323.5 32.3h0M323.2 33.0h0M238.6 154.3h0M288.3 63.5h0M243.3 146.0h0M240.3 146.4h0M240.8 146.6h0M240.5 146.1h0M242.3 146.1h0M242.7 146.8h0M234.7 159.3h0M329.2 28.4h0M310.8 72.0h0M246.9 147.3h0M246.3 147.3h0M218.9 159.7h0M250.2 139.1h0M265.4 132.6h0M261.1 132.2h0M249.5 140.0h0M290.7 76.7h0M276.8 112.1h0M276.2 112.9h0M276.6 112.2h0M259.7 133.7h0M254.0 139.4h0M253.4 139.4h0M253.0 139.6h0M313.9 42.0h0M313.2 41.0h0M259.0 133.1h0M258.6 133.9h0M304.5 48.4h0M265.3 131.2h0M228.6 162.7h0M327.3 52.9h0M327.9 52.8h0M283.8 104.2h0M309.7 44.7h0M265.7 126.1h0M265.4 126.9h0M320.5 60.6h0M326.6 53.8h0M327.4 30.0h0M234.3 118.3h0M260.2 132.4h0M292.0 70.9h0M254.7 104.9h0M273.1 117.5h0M268.5 121.1h0M268.4 121.7h0M290.1 70.9h0M253.3 137.7h0M254.0 137.3h0M224.1 159.9h0M316.0 38.7h0M325.9 54.9h0M280.0 106.2h0M333.3 34.7h0M306.3 75.3h0M250.7 108.8h0M289.3 62.4h0M253.9 138.3h0M253.4 138.6h0M252.0 138.4h0M223.5 162.2h0M277.2 81.2h0M277.1 81.9h0M243.1 141.3h0M241.3 142.8h0M287.3 98.7h0M251.4 138.2h0M309.7 72.9h0M279.1 79.3h0M231.5 161.2h0M221.4 159.9h0M285.2 66.2h0M252.3 133.2h0M252.7 133.6h0M238.1 147.9h0M238.3 147.5h0M233.4 161.6h0M246.5 139.9h0M224.1 162.9h0M224.4 163.0h0M224.5 162.2h0M328.5 50.4h0M328.5 50.0h0M334.1 42.2h0M334.7 42.3h0M250.2 138.5h0M250.8 139.0h0M251.0 138.3h0M298.5 86.5h0M267.5 122.4h0M240.7 143.2h0M240.5 143.5h0M262.5 100.5h0M303.8 49.4h0M226.8 163.0h0M249.3 138.2h0M257.8 132.1h0M248.8 138.1h0M237.2 147.9h0M237.5 147.5h0M251.6 138.0h0M251.0 137.9h0M277.6 110.9h0M277.4 110.5h0M260.5 131.4h0M251.3 136.8h0M251.4 136.5h0M235.8 155.7h0M260.0 127.9h0M260.7 127.9h0M238.6 148.1h0M238.7 148.6h0M238.4 148.8h0M224.2 161.3h0M224.3 161.6h0M255.4 131.9h0M235.4 149.9h0M235.9 149.2h0M235.5 149.7h0M232.8 161.5h0M236.8 149.8h0M228.1 160.3h0M228.7 160.5h0M321.6 58.3h0M270.8 79.9h0M324.1 55.1h0M265.7 125.9h0M265.1 125.8h0M225.9 159.4h0M225.7 160.0h0M278.9 108.8h0M289.3 95.4h0M224.1 158.9h0M246.3 149.4h0M259.3 132.3h0M237.1 149.4h0M237.6 149.2h0M314.2 40.7h0M314.5 40.9h0M319.3 61.8h0M319.9 61.5h0M239.7 148.1h0M239.3 149.0h0M260.0 126.2h0M302.4 51.1h0M297.1 87.4h0M235.8 150.5h0M234.8 150.3h0M234.1 150.7h0M261.3 101.2h0M250.3 137.9h0M281.8 85.6h0M237.1 146.8h0M264.1 132.0h0M241.6 147.3h0M306.7 47.3h0M261.4 130.5h0M219.9 159.3h0M219.3 159.1h0M253.7 132.9h0M254.0 132.2h0M323.8 57.0h0M320.1 36.5h0M320.9 36.8h0M264.6 99.7h0M315.6 39.9h0M315.4 39.0h0M263.3 132.7h0M263.2 132.3h0M233.2 150.0h0"/><path stroke="#0000ff" d="M259.4 102.6h0M226.5 161.1h0M260.2 130.3h0M260.5 130.6h0M260.5 130.3h0M287.0 65.9h0M238.3 145.7h0M238.7 145.9h0M238.0 145.0h0M237.8 115.9h0M276.6 82.0h0M282.4 76.8h0M307.3 50.8h0M307.9 51.0h0M239.5 144.7h0M236.7 147.8h0M236.7 147.1h0M247.6 138.4h0M239.4 153.5h0M258.5 132.5h0M258.7 132.8h0M266.7 123.4h0M266.5 124.0h0M260.9 128.6h0M237.2 150.0h0M286.5 72.8h0M286.1 72.6h0M227.4 160.2h0M318.0 38.1h0M317.4 38.9h0M311.9 44.9h0M312.0 44.1h0M326.5 30.9h0M326.1 30.3h0M326.7 30.1h0M226.8 160.9h0M226.1 160.3h0M284.5 102.4h0M321.2 35.8h0M234.3 157.5h0M249.4 137.4h0M243.4 151.5h0M296.5 88.4h0M322.7 34.9h0M237.5 153.4h0M264.8 130.3h0M236.9 153.8h0M236.2 153.5h0M235.5 151.2h0M333.6 35.7h0M333.9 35.8h0M263.5 127.0h0M250.5 136.4h0M299.1 84.6h0M299.3 84.3h0M264.5 131.5h0M264.4 131.2h0M233.3 160.9h0M264.3 129.7h0M295.3 89.1h0M295.9 89.7h0M290.7 94.1h0M293.9 71.0h0M264.1 128.0h0M264.6 128.5h0M259.5 131.1h0M236.3 151.8h0M312.2 44.8h0M245.8 150.0h0M259.7 127.3h0M308.7 51.0h0M303.2 79.7h0M303.0 79.0h0M259.8 128.6h0M271.1 118.2h0M263.6 94.7h0M305.8 48.7h0M307.3 46.6h0M233.5 151.7h0M233.8 151.4h0M314.9 67.2h0M314.3 67.6h0M288.9 70.4h0M308.3 45.7h0M309.0 46.0h0M242.8 147.5h0M331.0 47.4h0M300.4 53.7h0M235.1 152.5h0M261.6 128.5h0M261.5 128.2h0M281.6 105.8h0M242.2 141.8h0M242.3 141.1h0M236.2 152.3h0M290.7 69.0h0M290.5 69.8h0M279.8 72.7h0M279.7 72.2h0M263.9 127.8h0M263.2 127.4h0M234.3 152.1h0M233.0 151.1h0M244.2 147.6h0M244.7 147.6h0M231.6 160.1h0M310.3 70.5h0M310.4 70.5h0M270.0 87.5h0M237.9 121.0h0M293.3 91.6h0M240.6 152.2h0M240.6 152.9h0M250.3 135.9h0M225.3 157.7h0M227.3 154.5h0M257.4 131.6h0M224.7 157.3h0M259.1 129.9h0M259.7 129.6h0M332.6 30.5h0M225.6 156.8h0M243.5 147.3h0M294.7 68.7h0M261.8 125.5h0M263.2 130.6h0M323.9 33.9h0M225.4 155.9h0M226.0 155.9h0M292.1 92.9h0M334.1 40.6h0M334.3 40.3h0M233.2 152.2h0M242.4 151.5h0M313.2 46.5h0M313.6 47.7h0M239.2 150.4h0M226.0 158.1h0M265.6 124.0h0M265.4 124.8h0M265.8 125.0h0M288.6 64.8h0M288.7 64.5h0M269.0 119.9h0M234.9 148.1h0M334.3 39.6h0M254.7 131.5h0M232.1 152.8h0M232.9 152.9h0M258.5 131.6h0M284.7 67.7h0M284.8 67.1h0M284.2 67.3h0M263.2 125.5h0M263.7 126.0h0M234.5 156.6h0M234.9 156.3h0M293.4 59.4h0M313.8 45.4h0M283.4 68.9h0M234.2 154.3h0M235.0 154.1h0M222.8 158.5h0M240.2 149.6h0M262.8 130.0h0M262.5 129.1h0M238.6 151.7h0M239.0 151.3h0M238.5 151.1h0M233.8 153.9h0M233.1 153.2h0M312.9 45.2h0M262.3 128.5h0M262.3 128.1h0M262.8 128.2h0M226.1 156.1h0M231.6 152.7h0M232.0 152.2h0M249.5 136.8h0M239.8 152.5h0M324.4 32.8h0M238.2 152.7h0M245.9 139.8h0M232.3 153.6h0M227.5 155.1h0M227.5 155.6h0M242.0 148.6h0M241.8 148.2h0M263.0 128.8h0M283.7 83.4h0M241.2 151.7h0M283.9 103.0h0M234.9 155.2h0M234.5 155.3h0M231.3 153.3h0M231.1 151.9h0M309.5 71.1h0M309.5 71.9h0M309.9 71.6h0M227.2 159.0h0M227.9 158.5h0M226.6 157.3h0M291.3 68.3h0M298.9 85.4h0M228.3 158.6h0M239.5 151.8h0M228.1 154.6h0M228.7 154.0h0M266.8 123.0h0M230.6 159.7h0M256.9 130.4h0M256.4 130.7h0M331.6 46.9h0M306.9 49.9h0M229.8 153.6h0M229.5 153.5h0M230.6 152.4h0M312.9 46.1h0M312.5 46.4h0M290.0 69.9h0M272.7 78.2h0M308.1 52.6h0M328.9 29.3h0M251.5 133.7h0M251.1 133.9h0M245.5 148.1h0M258.7 130.2h0M258.9 130.8h0M258.5 130.9h0M302.3 62.3h0M302.2 62.4h0M236.4 147.0h0M299.5 54.3h0M299.2 54.4h0M244.7 151.0h0M258.5 128.7h0M258.9 128.2h0M258.9 128.3h0M233.1 154.1h0M303.5 50.1h0M303.5 50.4h0M293.6 71.5h0M231.1 154.6h0M231.3 154.0h0M257.2 130.7h0M257.9 130.8h0M235.8 147.7h0M232.0 154.5h0M281.2 71.1h0M282.0 71.7h0M304.9 49.1h0M304.9 49.9h0M295.6 68.4h0M224.5 156.3h0M224.2 157.0h0M227.2 153.7h0M287.1 97.6h0M287.0 97.2h0M295.3 58.9h0M245.4 149.9h0M245.8 149.1h0M230.8 154.4h0M279.4 106.3h0M333.2 45.0h0M270.7 96.0h0M291.9 76.3h0M229.5 154.4h0M229.4 154.6h0M229.6 154.8h0M229.1 154.3h0M227.6 156.6h0M227.0 156.5h0M227.3 156.8h0M332.2 31.1h0M332.3 31.6h0M316.3 39.6h0M227.6 157.7h0M301.1 61.6h0M314.4 43.1h0M304.1 77.7h0M250.1 134.3h0M321.5 36.1h0M313.3 48.9h0M287.2 66.3h0M246.6 138.9h0M246.8 138.0h0M241.3 149.9h0M283.6 75.6h0M284.4 101.9h0M238.7 144.2h0M238.5 144.8h0M238.3 144.5h0M242.3 148.9h0M241.2 150.2h0M228.4 157.5h0M239.7 143.8h0M288.3 65.5h0M290.0 68.0h0M290.4 68.5h0M243.6 150.5h0M269.4 88.1h0M314.8 45.0h0M295.4 67.4h0M257.7 129.9h0M257.6 129.1h0M307.4 47.9h0M307.9 47.1h0M261.0 102.7h0M229.1 155.4h0M228.2 156.5h0M314.5 44.0h0M309.3 45.3h0M327.2 50.1h0M230.7 155.1h0M247.6 137.6h0M233.3 158.3h0M297.2 86.6h0M233.0 118.2h0M233.8 118.2h0M242.1 150.9h0M242.6 150.2h0M260.3 125.9h0M307.4 48.0h0M245.0 148.6h0M244.7 148.4h0M244.2 148.5h0M233.8 155.7h0M277.6 109.7h0M278.7 107.4h0M277.6 80.6h0M243.1 148.5h0M283.0 70.5h0M280.9 77.1h0M280.6 78.0h0M280.4 77.8h0M231.2 150.5h0M288.2 69.9h0M231.6 159.2h0M310.3 45.5h0M264.2 124.4h0M264.4 124.9h0M248.5 136.3h0M248.0 136.9h0M273.8 93.6h0M289.4 68.3h0M230.5 151.2h0M309.3 51.2h0M306.3 74.8h0M306.9 74.8h0M289.6 63.7h0M287.3 70.4h0M287.4 70.7h0M284.6 74.6h0M332.6 32.9h0M315.5 41.8h0M225.1 154.8h0M250.0 135.7h0M249.4 135.8h0M232.7 159.4h0M242.2 149.4h0M275.0 84.6h0M305.3 75.5h0M323.4 34.6h0M293.3 67.5h0M307.8 73.4h0M258.6 128.0h0M331.4 29.1h0M331.6 29.1h0M331.5 30.0h0M331.7 29.8h0M230.1 158.7h0M317.2 62.0h0M317.4 62.7h0M293.9 72.5h0M243.5 140.3h0M243.2 140.2h0M274.9 92.2h0M243.7 149.5h0M221.7 158.4h0M303.6 61.9h0M303.8 61.1h0M230.9 156.5h0M312.8 48.0h0M315.5 48.4h0M289.4 68.0h0M273.5 115.7h0M233.0 156.4h0M233.4 156.4h0M233.6 157.5h0M288.7 67.9h0M296.6 87.1h0M315.9 42.2h0M315.4 42.6h0M304.5 50.6h0M306.3 53.2h0M308.1 46.3h0M301.3 53.3h0M292.4 67.6h0M264.0 100.6h0M267.1 120.9h0M327.3 30.8h0M256.7 129.2h0M256.3 129.2h0M280.6 105.4h0M283.0 84.2h0M283.3 84.9h0M284.0 84.2h0M311.1 47.5h0M263.2 124.7h0M263.6 124.1h0M269.4 97.0h0M278.2 79.5h0M279.6 78.7h0M290.1 67.1h0M290.5 67.3h0M230.2 157.2h0M230.7 157.2h0M230.7 157.9h0M305.5 52.3h0M299.4 83.6h0M287.0 80.2h0M286.1 80.9h0M284.2 82.8h0M284.3 82.7h0M278.3 73.0h0M272.8 94.4h0M318.5 61.7h0M318.9 61.4h0M316.1 40.3h0M316.6 40.1h0M257.3 128.8h0M303.8 78.5h0M303.5 78.1h0M266.5 121.8h0M308.5 48.8h0M294.0 59.4h0M282.6 85.1h0M292.8 75.2h0M330.0 29.5h0M329.4 47.5h0M332.2 33.9h0M332.1 33.3h0M274.5 77.0h0M274.8 76.5h0M304.2 51.3h0M315.3 43.8h0M287.7 67.7h0M318.5 39.8h0M309.3 50.0h0M294.2 89.2h0M294.3 89.5h0M315.6 46.6h0M275.6 112.0h0M312.2 68.5h0M231.7 119.8h0M231.6 158.4h0M326.6 51.4h0M310.7 46.3h0M310.5 47.0h0M232.2 158.4h0M290.0 62.5h0M298.3 57.0h0M298.8 56.9h0M298.1 56.1h0M292.8 60.1h0M308.7 47.3h0M248.2 110.4h0M289.1 94.9h0M283.7 102.7h0M294.0 73.5h0M293.2 73.5h0M279.8 88.5h0M279.5 88.1h0M279.3 89.0h0M315.0 64.4h0M312.0 48.1h0M268.2 119.5h0M320.4 38.4h0M301.2 59.6h0M218.2 158.6h0M218.2 147.4h0M286.7 68.0h0M286.3 67.1h0M286.5 67.4h0M309.3 46.1h0M231.6 157.0h0M231.4 157.8h0M315.4 44.5h0M287.4 69.0h0M233.0 157.4h0M232.1 157.8h0M232.6 157.7h0M253.8 131.3h0M253.6 131.0h0M309.1 70.1h0M330.1 29.9h0M282.1 75.5h0M282.4 75.8h0M302.5 79.9h0M304.1 76.1h0M304.7 76.6h0M304.7 76.0h0M265.9 122.4h0M265.3 122.2h0M265.7 122.0h0M269.0 81.5h0M244.0 139.9h0M297.7 57.5h0M218.5 126.0h0M299.5 55.7h0M299.9 55.0h0M323.4 35.4h0M291.6 77.1h0M273.9 78.3h0M273.6 78.5h0M290.6 93.6h0M332.6 34.9h0M332.6 34.4h0M327.7 49.2h0M327.8 49.3h0M327.9 49.7h0M304.6 52.0h0M304.4 52.0h0M285.3 99.7h0M285.6 99.9h0M285.9 99.1h0M283.3 69.4h0M290.3 66.3h0M234.4 147.6h0M234.1 147.9h0M276.6 80.6h0M322.2 56.2h0M300.4 54.4h0M300.4 54.8h0M222.7 157.2h0M222.8 157.8h0M222.3 157.5h0M265.0 123.9h0M264.7 123.4h0M275.5 82.1h0M275.4 82.6h0M323.5 55.5h0M323.2 55.9h0M323.1 55.1h0M313.3 67.3h0M313.7 67.1h0M317.6 40.4h0M292.0 91.5h0M292.1 91.3h0M292.6 91.1h0M297.5 67.9h0M285.2 73.0h0M301.0 60.6h0M300.7 60.7h0M291.2 92.3h0M310.6 48.3h0M310.4 48.4h0M220.2 158.7h0M306.1 54.5h0M320.1 58.6h0M229.6 151.8h0M229.1 151.3h0M236.5 145.5h0M309.3 47.1h0M291.3 61.3h0M305.9 53.9h0M281.4 86.9h0M281.0 86.6h0M303.8 63.6h0M310.1 49.5h0M310.6 49.7h0M310.9 50.3h0M296.9 58.6h0M296.7 58.5h0M261.8 124.9h0M284.7 100.1h0M250.0 133.3h0M312.3 49.4h0M281.2 104.8h0M237.0 144.3h0M272.0 117.4h0M303.0 53.1h0M316.3 48.7h0M276.3 110.8h0M299.9 63.2h0M287.7 96.2h0M287.7 97.0h0M280.8 87.4h0M304.7 61.6h0M277.9 108.4h0M319.6 39.4h0M296.6 69.5h0M316.3 47.9h0M274.2 113.3h0M235.1 146.5h0M333.6 37.7h0M333.3 37.4h0M299.8 63.0h0M324.9 34.8h0M254.7 130.3h0M297.1 68.3h0M270.0 86.7h0M300.5 60.0h0M284.5 69.0h0M333.4 43.8h0"/><path stroke="#000dff" d="M261.5 95.1h0M249.4 134.7h0M294.4 66.4h0M271.4 85.4h0M271.1 86.0h0M301.1 80.2h0M216.9 142.5h0M282.7 103.6h0M282.3 103.2h0M270.3 80.2h0M270.0 80.9h0M301.1 58.5h0M271.6 95.1h0M300.5 64.9h0M300.7 64.2h0M295.2 70.7h0M295.7 70.3h0M248.3 135.2h0M282.5 71.2h0M332.3 35.8h0M289.5 79.5h0M289.2 79.3h0M289.1 79.9h0M219.1 158.5h0M291.4 66.8h0M291.3 66.2h0M247.6 111.1h0M331.3 30.9h0M331.6 30.4h0M331.4 30.3h0M304.3 62.5h0M297.8 66.9h0M230.7 150.3h0M230.2 150.0h0M293.4 74.1h0M293.2 74.3h0M293.8 74.9h0M295.1 59.4h0M295.6 59.1h0M273.2 84.3h0M279.5 73.3h0M299.9 56.9h0M238.1 143.1h0M238.9 143.8h0M325.6 52.6h0M325.2 52.9h0M325.0 52.2h0M255.1 129.8h0M255.8 130.0h0M255.7 129.3h0M231.7 149.9h0M242.5 140.6h0M242.2 140.6h0M272.5 79.5h0M272.5 79.8h0M283.6 74.9h0M317.1 41.8h0M274.4 77.9h0M275.4 81.6h0M328.9 30.6h0M328.2 30.7h0M284.3 73.6h0M293.4 66.5h0M293.1 66.3h0M246.2 112.0h0M298.5 57.1h0M298.4 57.2h0M298.4 57.9h0M294.3 72.8h0M294.9 72.4h0M276.6 91.2h0M314.8 65.4h0M227.8 152.9h0M267.1 98.0h0M277.3 80.0h0M317.0 46.9h0M316.3 46.8h0M325.2 33.5h0M325.6 33.8h0M325.6 33.0h0M302.2 64.9h0M251.7 132.4h0M244.3 110.0h0M302.7 58.9h0M302.7 58.0h0M239.3 142.6h0M299.0 57.8h0M305.6 74.0h0M304.3 53.7h0M304.6 53.2h0M307.5 72.8h0M307.3 72.5h0M290.7 65.1h0M318.3 40.8h0M286.0 68.0h0M286.7 68.4h0M299.4 64.9h0M299.3 61.5h0M299.4 61.2h0M284.9 84.2h0M258.9 104.0h0M258.5 103.3h0M275.3 80.5h0M217.2 139.5h0M305.6 54.1h0M306.8 73.7h0M306.4 73.9h0M279.4 105.2h0M280.0 105.1h0M308.5 54.0h0M277.2 74.2h0M277.4 74.9h0M277.6 74.9h0M269.5 118.6h0M273.4 114.9h0M273.5 114.4h0M273.8 114.2h0M311.5 50.2h0M311.7 50.9h0M256.9 128.6h0M319.8 59.8h0M263.2 123.8h0M263.4 123.1h0M300.8 81.2h0M301.2 54.2h0M217.5 157.1h0M331.6 45.2h0M275.0 78.2h0M290.6 63.4h0M324.2 35.2h0M324.7 35.3h0M286.4 69.4h0M316.5 45.5h0M316.1 45.7h0M257.8 127.5h0M328.3 47.8h0M328.9 47.2h0M328.7 47.4h0M301.5 57.2h0M285.4 69.0h0M232.9 148.7h0M232.2 148.8h0M293.7 60.2h0M293.5 60.9h0M317.5 42.5h0M317.0 43.0h0M269.3 81.7h0M269.4 81.8h0M322.3 37.6h0M326.9 32.6h0M326.6 32.2h0M305.8 61.3h0M305.0 61.3h0M273.5 79.9h0M297.9 65.7h0M297.4 65.3h0M240.7 141.3h0M285.9 71.2h0M266.3 120.9h0M285.2 82.8h0M285.2 82.1h0M299.4 59.6h0M274.0 79.2h0M274.1 79.7h0M305.2 60.2h0M305.5 60.5h0M314.6 50.3h0M314.0 50.2h0M280.7 73.0h0M280.5 74.0h0M290.1 64.9h0M290.0 64.3h0M291.0 64.2h0M321.2 38.6h0M303.5 58.5h0M303.5 58.7h0M327.9 48.4h0M327.5 48.3h0M274.7 93.5h0M230.0 120.5h0M270.7 96.6h0M295.2 71.9h0M295.5 71.1h0M313.9 50.3h0M325.5 34.7h0M275.1 92.7h0M275.9 92.2h0M276.0 92.6h0M329.3 46.6h0M329.2 46.2h0M324.9 53.6h0M324.5 53.8h0M320.6 39.6h0M282.1 74.6h0M298.6 66.4h0M264.9 122.6h0M293.6 75.4h0M306.0 55.1h0M332.8 44.8h0M296.2 59.8h0M232.5 118.7h0M306.4 60.4h0M272.3 84.8h0M272.3 84.3h0M318.8 60.7h0M318.6 60.6h0M286.0 81.8h0M286.3 81.7h0M330.1 30.5h0M282.4 72.4h0M307.3 60.5h0M317.6 46.6h0M316.6 62.8h0M302.8 54.6h0M333.5 38.5h0M296.7 71.0h0M299.5 82.7h0M299.1 82.5h0M331.3 32.4h0M317.6 43.8h0M291.6 65.3h0M304.2 54.4h0M284.1 69.4h0M284.9 69.7h0M284.1 69.9h0M278.3 90.0h0M313.9 66.1h0M302.9 78.8h0M302.7 78.7h0M299.8 66.0h0M221.3 157.8h0M301.2 57.0h0M301.6 56.4h0M305.1 59.6h0M284.8 72.9h0M284.9 72.1h0M267.5 119.5h0M298.7 68.8h0M276.9 109.6h0M305.7 62.2h0M225.9 153.0h0M225.1 153.5h0M325.6 52.0h0M281.8 73.1h0M297.1 64.1h0M288.4 80.9h0M278.0 74.1h0M279.0 74.9h0M283.3 73.4h0M283.2 73.7h0M283.7 74.0h0M280.6 75.4h0M280.9 75.9h0M271.5 80.7h0M271.9 80.1h0M301.7 55.9h0M301.2 55.6h0M291.6 78.3h0M262.4 123.8h0M262.7 123.1h0M262.5 123.2h0M303.3 54.9h0M285.6 70.6h0M285.9 70.4h0M285.4 69.1h0M312.1 67.5h0M219.2 125.7h0M306.4 59.4h0M306.8 59.5h0M306.1 59.1h0M324.9 36.7h0M281.3 74.0h0M281.6 74.8h0M283.9 71.9h0M285.7 83.6h0M272.3 95.3h0M275.4 77.0h0M275.2 76.3h0M275.9 76.3h0M315.9 63.4h0M315.3 63.7h0M288.9 94.1h0M288.1 94.7h0M309.6 69.7h0M309.9 69.5h0M272.8 115.7h0M317.9 45.8h0M298.1 62.0h0M298.5 61.9h0M280.1 105.0h0M317.2 45.0h0M294.0 65.7h0M294.9 65.9h0M294.6 65.1h0M301.2 65.3h0M291.6 62.2h0M298.2 83.9h0M298.6 83.5h0M223.0 156.5h0M222.7 156.2h0M254.1 101.7h0M243.8 139.1h0M252.0 131.6h0M252.9 131.8h0M305.5 56.6h0M282.1 73.5h0M298.4 59.1h0M298.9 59.5h0M307.0 62.0h0M333.4 41.2h0M295.9 72.6h0M274.6 82.6h0M274.2 82.2h0M276.1 75.2h0M276.9 75.0h0M308.5 55.3h0M289.6 93.3h0M292.9 90.6h0M280.2 74.4h0M270.2 85.7h0M295.3 60.7h0M218.9 146.6h0M218.0 146.4h0M303.6 57.0h0M292.1 65.2h0M292.4 65.8h0M318.3 46.4h0M305.9 58.6h0M326.6 33.3h0M297.8 59.6h0M297.4 59.1h0M297.8 63.3h0M297.3 63.0h0M318.2 47.8h0M318.8 47.3h0M283.8 72.2h0M309.4 55.0h0M306.4 57.9h0M306.4 57.7h0M218.7 138.1h0M310.7 53.1h0M310.3 53.7h0M291.1 91.3h0M292.5 61.3h0M292.7 62.0h0M292.3 61.3h0M303.3 76.7h0M233.6 147.8h0M284.6 71.9h0M284.4 70.6h0M320.5 58.0h0M305.0 55.9h0M298.7 60.3h0M298.5 61.0h0M302.5 56.8h0M297.5 84.2h0M283.0 102.4h0M331.9 34.9h0M305.4 57.3h0M323.6 54.2h0M323.6 37.6h0M269.0 88.0h0M296.5 64.1h0M316.9 50.6h0M302.3 55.7h0M307.4 58.2h0M307.5 58.0h0M333.6 39.2h0M265.3 82.4h0M271.2 84.0h0M304.3 57.7h0M304.9 57.7h0M331.7 35.6h0M299.3 66.1h0M318.6 42.6h0M318.6 42.9h0M273.1 80.4h0M321.0 56.6h0M321.9 56.4h0M333.1 40.0h0M269.7 97.6h0M269.1 97.2h0M277.7 91.0h0M277.5 91.2h0M277.6 91.8h0M279.8 76.4h0M279.2 76.9h0M317.7 49.2h0M317.9 49.6h0M307.3 57.3h0M328.3 31.7h0M260.0 86.9h0M314.2 64.7h0M314.9 64.8h0M296.9 60.0h0M330.7 45.2h0M270.3 81.6h0M274.8 112.2h0M274.8 112.7h0M307.7 71.7h0M218.9 124.6h0M218.9 124.5h0M304.8 56.8h0M304.2 56.1h0M249.8 133.8h0M312.2 51.7h0M277.4 79.0h0M278.0 78.9h0M303.2 55.6h0M318.6 45.1h0M277.0 78.3h0M325.7 36.1h0M325.2 36.9h0M218.0 145.7h0M291.2 64.7h0M310.8 68.0h0M279.0 105.4h0M296.1 85.4h0M296.8 85.2h0M273.4 84.0h0M273.8 83.9h0M303.2 56.8h0M301.7 79.7h0M285.8 99.0h0M285.5 98.7h0M302.7 65.1h0M302.0 65.9h0M330.0 31.5h0M328.3 46.7h0M298.1 69.2h0M297.3 60.5h0M281.7 103.6h0M297.2 61.3h0M247.4 135.4h0M327.2 47.4h0M304.4 74.7h0M304.8 75.0h0M296.3 71.6h0M306.1 72.9h0M306.7 72.7h0M319.1 46.1h0M293.4 76.4h0M293.8 76.8h0M319.3 58.5h0M327.6 32.6h0M299.3 67.5h0M306.7 62.0h0M318.6 43.7h0M279.6 75.0h0M271.2 116.3h0M271.7 116.7h0M283.7 100.0h0M283.7 100.8h0M267.2 89.3h0M297.1 70.1h0M297.0 70.8h0M291.4 63.4h0M332.4 37.3h0M332.0 37.1h0M314.8 51.1h0M314.9 51.8h0M262.9 102.6h0M318.5 44.5h0M318.8 44.1h0M246.4 136.6h0M246.0 136.4h0M308.1 58.6h0M313.3 51.5h0M313.6 51.9h0M313.7 51.4h0M322.5 38.7h0M322.9 38.0h0M322.4 38.6h0M271.2 96.5h0M253.5 130.4h0M253.9 130.1h0M295.6 86.6h0M295.4 86.4h0M326.0 50.7h0"/><path stroke="#0024ff" d="M295.6 65.0h0M295.9 64.1h0M287.4 81.7h0M287.1 82.0h0M295.3 73.1h0M286.2 82.7h0M237.1 143.7h0M276.3 108.3h0M324.7 37.0h0M324.2 38.0h0M229.7 150.9h0M223.9 134.0h0M309.0 56.1h0M308.7 56.8h0M220.5 146.5h0M296.4 63.5h0M289.4 80.9h0M261.5 123.1h0M261.3 123.8h0M319.6 45.8h0M326.7 36.9h0M326.4 36.1h0M315.5 51.5h0M296.9 61.8h0M329.7 31.4h0M268.9 118.5h0M321.9 39.2h0M263.8 122.1h0M245.4 137.6h0M324.0 52.9h0M266.5 90.7h0M278.7 77.8h0M278.4 77.1h0M235.7 145.9h0M276.0 110.3h0M319.9 41.1h0M283.1 86.3h0M283.3 86.1h0M234.5 146.4h0M325.8 37.6h0M325.8 37.1h0M296.9 62.7h0M326.5 37.6h0M263.9 83.3h0M226.8 152.9h0M320.9 40.8h0M320.9 40.4h0M269.5 82.7h0M308.4 57.8h0M308.7 57.4h0M308.0 57.2h0M218.5 123.5h0M294.3 87.9h0M295.0 87.8h0M294.4 87.7h0M268.8 82.6h0M268.7 82.2h0M295.8 61.2h0M302.7 77.7h0M277.9 75.6h0M277.7 75.9h0M313.6 65.4h0M313.2 65.7h0M305.1 63.5h0M265.3 100.6h0M309.9 60.0h0M309.8 60.0h0M230.7 149.9h0M220.5 157.3h0M220.6 157.8h0M285.2 85.8h0M273.1 81.2h0M273.9 81.0h0M327.3 37.1h0M292.1 64.5h0M217.6 140.1h0M310.4 54.2h0M309.1 56.0h0M311.6 53.6h0M311.2 53.7h0M311.8 53.2h0M294.1 64.3h0M255.4 129.0h0M330.1 32.1h0M273.9 95.0h0M273.6 95.5h0M272.1 83.8h0M272.9 84.0h0M294.9 61.2h0M294.9 61.8h0M312.3 52.4h0M318.9 59.7h0M318.5 59.5h0M327.5 36.6h0M296.1 72.9h0M218.4 158.0h0M303.6 75.3h0M303.8 75.1h0M264.8 121.4h0M329.3 45.2h0M329.7 45.8h0M304.6 64.8h0M258.3 125.3h0M265.0 91.8h0M265.5 91.4h0M271.8 81.5h0M271.1 81.7h0M266.5 83.0h0M319.2 44.8h0M326.6 38.9h0M294.2 75.8h0M273.9 82.9h0M273.6 82.4h0M307.2 62.4h0M286.6 83.3h0M332.8 43.9h0M332.9 43.1h0M320.0 45.7h0M276.0 77.3h0M276.6 76.5h0M276.2 76.5h0M327.3 39.0h0M293.4 64.7h0M270.2 82.9h0M300.8 80.5h0M331.8 44.5h0M331.9 44.2h0M295.7 63.6h0M279.4 104.3h0M327.7 33.7h0M292.4 62.1h0M292.6 62.9h0M292.3 62.5h0M300.1 67.3h0M300.7 67.6h0M221.8 135.8h0M327.0 35.6h0M328.2 37.1h0M330.6 36.0h0M231.6 149.0h0M319.0 42.0h0M275.3 93.6h0M330.0 35.5h0M331.0 35.1h0M295.7 62.9h0M327.6 46.2h0M325.4 38.8h0M294.0 88.8h0M316.1 51.5h0M276.6 107.8h0M276.8 107.2h0M276.9 107.5h0M286.9 96.6h0M278.5 76.3h0M255.2 105.7h0M317.8 50.8h0M314.0 53.0h0M272.4 81.7h0M323.3 38.7h0M303.2 65.2h0M303.2 65.8h0M303.8 65.2h0M312.8 66.7h0M312.7 66.6h0M270.8 83.3h0M270.1 83.5h0M328.3 36.5h0M317.8 60.9h0M317.6 60.7h0M257.6 126.4h0M257.5 126.9h0M266.3 119.9h0M285.0 86.1h0M284.0 86.7h0M328.8 32.3h0M272.1 96.1h0M272.5 96.1h0M277.5 77.5h0M277.9 77.4h0M327.7 34.1h0M327.7 34.9h0M291.4 79.7h0M291.3 79.4h0M288.4 81.2h0M288.4 81.9h0M299.4 69.5h0M297.0 71.9h0M298.0 70.4h0M292.2 63.6h0M330.2 34.4h0M330.9 34.3h0M282.9 101.3h0M325.9 49.5h0M325.2 49.7h0M329.0 36.1h0M329.9 36.6h0M309.2 61.4h0M309.3 61.7h0M309.9 61.6h0M326.4 39.4h0M261.6 103.4h0M262.0 103.1h0M279.5 90.3h0M331.3 37.3h0M270.9 97.4h0M270.1 97.8h0M270.3 97.5h0M312.8 53.0h0M312.1 53.4h0M219.6 157.6h0M328.9 45.0h0M328.3 45.9h0M296.0 75.0h0M295.4 74.1h0M309.7 56.6h0M271.7 82.5h0M271.3 82.8h0M320.2 44.2h0M320.4 44.1h0M329.3 37.4h0M293.9 77.9h0M329.5 32.6h0M273.0 82.7h0M304.7 73.9h0M304.3 73.7h0M311.8 54.9h0M309.1 57.9h0M294.2 63.4h0M324.5 52.0h0M324.6 51.7h0M277.8 105.7h0M277.1 106.0h0M277.6 106.0h0M308.7 69.3h0M308.7 69.8h0M308.0 69.5h0M302.3 66.9h0M302.1 66.7h0M302.6 66.6h0M295.0 62.6h0M294.7 62.0h0M318.9 49.1h0M318.3 49.3h0M315.8 62.2h0M315.2 62.4h0M327.6 39.7h0M292.8 89.5h0M287.4 82.8h0M239.5 142.0h0M239.6 141.2h0M221.0 145.2h0M277.1 76.5h0M277.3 76.3h0M277.7 76.5h0M290.5 80.0h0M290.8 80.9h0M290.9 91.7h0M300.9 68.1h0M332.4 38.1h0M332.9 38.7h0M289.9 92.8h0M289.5 92.1h0M289.5 92.7h0M321.6 45.9h0M321.5 45.7h0M305.4 72.7h0M325.7 42.4h0M299.5 81.7h0M291.9 90.5h0M291.1 90.3h0M314.8 53.4h0M275.9 109.0h0M275.8 110.0h0M293.4 62.6h0M293.8 62.1h0M278.5 91.7h0M328.2 35.7h0M310.8 55.1h0M308.1 62.7h0M242.3 110.8h0M274.1 111.4h0M274.5 111.5h0M320.2 41.3h0M320.3 41.8h0M288.3 93.4h0M289.0 93.7h0M301.7 78.2h0M267.2 99.6h0M223.4 154.4h0M293.0 63.4h0M293.5 63.4h0M293.7 63.9h0M324.8 43.9h0M324.1 43.4h0M329.5 35.3h0M325.7 43.6h0M269.2 84.0h0M302.5 76.8h0M302.5 76.3h0M222.2 155.1h0M222.3 155.8h0M247.9 106.5h0M324.6 42.6h0M260.5 123.9h0M306.4 71.8h0M262.9 122.2h0M262.6 122.4h0M221.3 157.0h0M287.6 94.6h0M314.8 63.7h0M314.5 63.8h0M298.6 82.3h0M326.8 40.3h0M221.3 124.1h0M221.1 124.7h0M280.1 89.4h0M320.0 57.6h0M319.5 57.9h0M297.0 83.4h0M320.7 56.4h0M327.8 45.6h0M327.1 45.4h0M276.4 106.7h0M255.0 106.7h0M312.7 54.6h0M269.1 85.0h0M269.3 85.5h0M296.7 84.5h0M257.6 104.7h0M257.1 104.8h0M321.3 44.9h0M295.7 85.6h0M295.2 85.6h0M282.2 87.6h0M294.5 76.8h0M328.1 33.6h0M315.3 53.4h0M326.8 41.2h0M326.8 41.7h0M285.1 86.4h0M310.9 59.8h0M264.3 101.2h0M264.9 101.6h0M332.5 42.7h0M332.0 42.6h0M329.2 38.0h0M329.3 38.6h0M306.9 63.3h0M328.1 34.9h0M286.7 85.8h0M286.6 85.4h0M286.2 85.6h0M324.7 39.0h0M249.2 110.3h0M330.4 44.4h0M328.1 39.2h0M324.6 44.5h0M289.2 81.2h0M322.3 44.9h0M321.0 43.0h0M218.1 145.1h0M218.3 145.6h0M326.0 43.2h0M326.7 43.2h0M329.0 33.5h0M329.5 33.1h0M323.6 44.2h0M323.7 44.6h0M217.5 141.6h0M217.9 141.8h0M314.7 54.3h0M316.2 52.1h0M316.0 52.6h0M271.7 97.7h0M271.9 97.2h0M326.9 47.0h0M294.2 86.6h0M329.1 34.9h0M329.6 34.8h0M329.2 34.0h0M329.7 34.2h0M273.9 96.2h0M273.6 96.4h0M273.4 96.8h0M227.0 151.8h0M262.7 84.2h0M310.8 58.8h0M232.9 147.9h0M269.3 84.2h0M281.6 102.2h0M326.8 44.2h0M326.3 44.9h0M326.2 44.9h0M328.0 40.8h0M327.3 40.4h0M327.6 40.9h0M323.4 39.7h0M323.2 39.5h0M287.3 83.8h0M323.7 42.6h0M318.7 58.8h0M318.3 58.2h0M321.0 55.9h0M321.2 55.2h0M321.8 55.5h0M310.5 56.2h0M310.7 56.9h0M310.4 56.3h0M323.0 54.5h0M326.6 45.7h0M311.0 60.3h0M310.4 60.9h0M268.4 87.6h0M268.8 87.7h0M274.1 95.7h0M324.3 40.2h0M324.3 40.7h0M325.0 40.6h0M324.5 50.4h0M325.5 48.6h0M325.5 48.8h0M325.4 48.1h0M325.1 48.9h0M278.5 104.9h0M271.8 115.5h0M271.3 115.7h0M271.4 115.2h0M271.8 115.1h0M322.5 43.7h0M323.0 43.0h0M317.7 51.6h0M281.1 88.3h0M281.0 88.8h0M321.5 43.9h0M299.2 70.9h0M300.0 70.5h0M327.2 44.4h0M300.2 69.6h0M267.4 118.9h0M298.4 71.7h0M277.4 92.0h0M272.8 97.1h0M312.6 55.7h0M219.8 124.8h0M219.2 124.6h0"/><path stroke="#0041ff" d="M288.7 83.0h0M332.4 39.7h0M321.1 41.1h0M321.5 41.6h0M285.8 97.9h0M329.3 44.8h0M330.0 44.1h0M322.9 40.4h0M322.3 40.0h0M301.5 68.5h0M312.6 65.4h0M328.3 44.9h0M328.6 44.4h0M311.0 67.4h0M310.3 68.0h0M315.4 54.3h0M273.2 112.7h0M273.9 112.1h0M273.6 112.3h0M323.1 41.9h0M323.5 41.1h0M219.8 145.8h0M219.5 145.6h0M219.3 145.2h0M240.7 140.1h0M313.5 55.3h0M313.4 55.8h0M313.9 55.5h0M332.9 41.7h0M263.4 121.2h0M295.0 75.3h0M295.8 75.2h0M302.1 67.2h0M302.3 67.7h0M252.5 102.8h0M249.3 132.1h0M263.6 102.5h0M263.2 102.9h0M330.4 38.4h0M284.3 98.0h0M284.3 98.9h0M331.8 38.2h0M331.8 38.8h0M331.1 39.0h0M327.7 41.9h0M303.1 66.5h0M322.9 42.6h0M321.0 42.9h0M321.6 42.1h0M321.8 42.8h0M321.9 42.7h0M323.1 40.9h0M323.9 40.3h0M302.4 75.3h0M275.7 94.3h0M327.1 43.6h0M293.9 87.9h0M293.7 87.2h0M286.7 95.3h0M269.8 98.9h0M248.7 133.8h0M304.5 65.5h0M316.6 53.0h0M316.5 53.6h0M233.6 125.3h0M332.3 40.2h0M332.5 40.7h0M324.7 45.0h0M324.8 45.1h0M292.8 79.5h0M292.1 79.1h0M311.8 57.0h0M311.7 56.2h0M291.1 80.5h0M318.2 50.6h0M287.9 84.3h0M282.7 100.2h0M282.5 100.5h0M331.2 43.8h0M331.2 43.5h0M264.9 120.5h0M264.2 120.2h0M218.8 139.1h0M218.9 140.0h0M270.6 116.3h0M327.0 42.7h0M301.7 77.7h0M328.8 40.1h0M322.4 46.2h0M323.0 46.1h0M329.4 39.9h0M330.0 39.5h0M283.2 87.4h0M314.3 55.5h0M293.6 78.6h0M293.1 78.6h0M304.8 72.8h0M304.5 72.3h0M252.7 130.3h0M252.2 130.8h0M235.9 115.2h0M275.7 107.7h0M325.6 47.8h0M325.3 47.7h0M323.9 52.0h0M276.6 105.3h0M321.7 47.3h0M291.0 81.6h0M221.8 119.2h0M303.4 73.2h0M296.8 74.4h0M296.3 74.1h0M243.2 138.3h0M300.1 79.1h0M300.4 79.8h0M326.0 46.2h0M325.8 46.7h0M324.4 49.6h0M265.1 119.2h0M297.2 74.0h0M261.2 122.7h0M286.2 86.5h0M287.0 86.5h0M238.8 102.5h0M294.1 77.3h0M307.7 63.4h0M312.7 56.9h0M316.9 60.6h0M311.1 57.1h0M311.3 57.9h0M272.8 113.5h0M224.7 143.9h0M305.4 71.5h0M245.4 136.8h0M245.8 136.1h0M274.8 96.8h0M317.1 52.3h0M317.7 52.2h0M289.9 82.9h0M320.7 48.7h0M289.6 91.1h0M311.0 58.4h0M298.0 72.9h0M298.5 72.5h0M319.8 49.5h0M259.2 96.6h0M288.5 83.7h0M258.1 97.5h0M258.8 97.2h0M258.4 97.2h0M328.4 43.5h0M316.3 54.5h0M316.5 54.5h0M258.3 104.0h0M222.2 123.4h0M316.0 55.0h0M315.5 55.2h0M219.3 122.7h0M268.0 88.5h0M267.7 88.6h0M236.3 143.6h0M275.8 106.7h0M252.0 92.6h0M244.6 137.6h0M244.2 137.5h0M319.9 56.4h0M319.4 56.1h0M228.0 150.3h0M277.8 105.0h0M306.4 70.8h0M323.5 46.4h0M313.8 56.4h0M313.2 56.4h0M292.2 88.1h0M292.1 88.8h0M315.7 61.9h0M315.8 61.3h0M300.7 70.2h0M300.3 70.5h0M258.0 124.5h0M301.1 69.2h0M288.1 92.6h0M299.8 71.0h0M299.7 72.0h0M318.4 57.7h0M307.5 70.0h0M307.1 69.9h0M324.4 46.9h0M324.9 46.3h0M324.3 46.1h0M311.4 59.1h0M221.1 144.1h0M221.7 144.4h0M302.9 74.8h0M302.3 69.0h0M274.3 109.6h0M233.2 146.1h0M259.9 123.3h0M259.7 123.9h0M274.2 97.0h0M274.1 97.6h0M287.3 85.9h0M287.8 85.0h0M324.0 48.5h0M313.6 63.5h0M313.0 63.0h0M314.5 63.0h0M291.3 89.7h0M329.0 40.8h0M279.9 103.3h0M279.1 103.5h0M295.9 84.0h0M328.3 42.4h0M328.1 42.8h0M330.7 43.7h0M313.0 64.0h0M312.8 64.9h0M312.1 64.8h0M279.2 91.5h0M279.0 91.4h0M219.4 138.6h0M332.0 39.2h0M331.0 39.6h0M280.1 90.6h0M295.1 76.4h0M295.6 76.5h0M287.5 93.9h0M270.4 98.6h0M274.0 98.4h0M225.4 152.7h0M329.1 43.6h0M312.5 57.1h0M235.7 144.0h0M254.7 128.1h0M310.1 62.8h0M310.8 62.8h0M303.2 67.5h0M303.3 67.8h0M322.9 47.2h0M322.5 47.1h0M308.3 68.7h0M271.1 98.7h0M271.8 98.6h0M308.4 63.6h0M320.9 55.8h0M324.1 47.9h0M314.3 56.2h0M323.1 51.6h0M323.4 51.0h0M317.7 53.8h0M296.6 83.4h0M275.6 95.8h0M317.7 58.9h0M220.6 156.7h0M220.5 156.7h0M237.4 142.7h0M229.6 149.1h0M229.2 149.3h0M291.7 81.1h0M219.8 123.2h0M219.1 123.9h0M219.1 123.5h0M318.9 51.3h0M318.0 51.3h0M318.7 51.8h0M331.7 42.8h0M281.9 101.6h0M255.5 89.9h0M311.8 60.7h0M290.3 82.5h0M262.9 93.8h0M262.5 93.5h0M266.4 89.8h0M274.9 108.9h0M274.7 108.4h0M292.8 80.1h0M292.5 80.3h0M292.4 80.1h0M322.2 53.4h0M298.0 82.9h0M297.2 82.1h0M298.0 82.3h0M268.2 99.5h0M293.8 86.9h0M273.4 111.6h0M316.4 55.8h0M303.8 72.9h0M303.6 72.7h0M299.9 80.7h0M299.4 80.1h0M217.5 152.4h0M220.5 137.7h0M220.9 137.4h0M293.5 79.1h0M311.8 65.6h0M323.3 47.5h0M222.6 146.6h0M255.8 99.0h0M255.1 99.5h0M234.8 145.5h0M234.4 145.6h0M262.4 122.0h0M329.2 41.8h0M282.7 88.5h0M282.8 88.9h0M282.1 88.9h0M268.0 117.5h0M268.1 117.8h0M268.8 117.1h0M275.3 105.2h0M281.6 89.9h0M273.4 99.6h0M274.5 107.2h0M274.6 107.8h0M288.6 84.2h0M274.4 99.2h0M331.8 40.0h0M331.2 40.4h0M289.5 83.7h0M219.0 145.0h0M218.1 144.5h0M310.0 63.4h0M298.9 81.2h0M298.6 73.4h0M298.5 73.8h0M317.8 54.1h0M304.1 66.8h0M305.0 67.0h0M304.1 66.2h0M322.0 54.1h0M321.5 54.0h0M313.7 57.2h0M329.7 42.4h0M329.1 42.1h0M329.2 43.0h0M315.3 56.8h0M265.9 101.0h0M265.9 101.6h0M302.4 73.6h0M330.2 40.1h0M323.6 50.2h0M323.4 50.7h0M331.1 41.6h0M331.9 41.0h0M331.2 41.2h0M294.7 78.7h0M286.1 87.2h0M287.0 94.6h0M235.3 105.2h0M260.6 104.7h0M301.3 76.0h0M301.5 75.2h0M299.7 72.4h0M275.8 99.0h0M296.7 75.9h0M296.4 75.2h0M280.9 102.1h0M280.2 102.3h0M280.5 102.8h0M316.4 59.5h0M316.6 59.3h0M301.6 70.1h0M301.3 70.3h0M300.6 71.7h0M276.5 104.1h0M276.4 104.5h0M276.0 96.3h0M275.5 97.0h0M318.2 56.4h0M318.0 56.0h0M300.9 78.5h0M300.6 78.0h0M309.5 67.9h0M310.0 67.3h0M275.6 97.6h0M218.1 156.6h0M218.9 156.6h0M303.0 69.4h0M302.2 69.4h0M323.3 48.8h0M323.6 48.1h0M287.4 86.8h0M260.4 122.9h0M222.6 118.9h0M311.9 61.1h0M311.0 61.1h0M285.9 96.5h0M285.9 97.0h0M285.4 96.5h0M285.6 96.8h0M330.8 42.5h0M330.2 42.9h0M330.5 42.3h0M276.3 94.1h0M317.7 58.0h0M317.6 57.7h0M265.5 90.5h0M310.0 66.1h0M310.7 66.4h0M304.0 68.5h0M305.3 70.5h0M277.7 93.3h0M277.2 93.8h0M277.3 93.5h0"/><path stroke="#0059ff" d="M220.2 121.4h0M220.4 121.5h0M291.6 82.3h0M330.6 42.0h0M330.2 41.1h0M317.3 55.1h0M275.2 99.7h0M319.4 50.2h0M319.5 50.7h0M310.9 63.6h0M312.5 63.5h0M312.2 64.0h0M263.9 120.0h0M220.4 144.3h0M221.1 155.9h0M221.6 156.0h0M319.9 55.5h0M282.9 99.9h0M282.1 99.6h0M316.8 57.0h0M311.4 64.6h0M274.0 110.8h0M273.6 110.1h0M273.2 110.9h0M278.9 104.0h0M268.0 83.9h0M267.2 83.4h0M267.2 83.1h0M305.4 65.1h0M314.4 57.1h0M292.4 81.1h0M312.5 59.9h0M289.1 90.2h0M290.0 90.2h0M288.9 91.5h0M322.1 48.4h0M225.2 114.6h0M317.1 56.1h0M317.3 56.6h0M317.8 56.2h0M315.7 60.9h0M316.0 60.5h0M302.0 74.7h0M311.4 62.5h0M311.7 62.2h0M256.5 105.2h0M294.7 84.9h0M294.2 84.4h0M295.0 84.5h0M273.4 108.7h0M273.4 109.0h0M320.4 50.0h0M320.7 49.2h0M290.3 83.4h0M290.0 83.9h0M290.4 83.2h0M302.6 72.0h0M302.6 72.8h0M311.5 63.4h0M311.2 64.0h0M311.6 63.9h0M273.1 107.7h0M221.5 123.3h0M261.4 104.2h0M303.7 71.1h0M303.9 71.1h0M303.6 71.5h0M222.4 143.3h0M223.0 143.5h0M276.4 98.2h0M276.4 99.0h0M313.9 62.7h0M306.2 69.9h0M306.5 69.6h0M306.9 69.7h0M293.7 85.9h0M293.8 85.2h0M293.2 85.9h0M316.1 58.2h0M316.7 58.8h0M316.7 58.0h0M293.8 80.7h0M222.9 155.0h0M318.2 53.4h0M292.5 87.2h0M292.9 87.8h0M313.4 58.2h0M313.8 58.8h0M263.9 92.5h0M263.1 116.8h0M301.4 71.9h0M301.2 71.2h0M301.0 72.9h0M300.2 72.2h0M219.9 156.9h0M314.7 61.7h0M268.3 85.6h0M268.7 85.5h0M316.5 57.6h0M315.8 57.4h0M302.5 70.2h0M299.8 73.2h0M299.2 73.5h0M318.6 54.4h0M218.9 140.3h0M218.1 140.4h0M231.5 147.6h0M231.8 148.0h0M231.1 147.8h0M264.2 91.7h0M283.3 88.5h0M261.1 116.3h0M301.5 74.0h0M287.6 92.2h0M288.0 92.6h0M273.3 106.8h0M219.3 144.3h0M220.0 144.8h0M264.9 102.9h0M264.6 102.4h0M300.9 77.4h0M300.1 77.3h0M274.6 105.9h0M274.6 105.6h0M274.5 105.9h0M288.4 85.1h0M290.5 89.6h0M274.8 100.5h0M322.9 52.6h0M302.4 71.7h0M302.1 71.6h0M272.8 108.4h0M272.1 108.7h0M304.0 69.6h0M303.4 69.3h0M295.7 83.8h0M304.9 70.4h0M304.9 70.6h0M302.0 72.9h0M301.6 72.5h0M272.2 107.4h0M273.0 107.8h0M276.4 99.3h0M294.1 79.3h0M251.3 130.2h0M312.0 60.4h0M281.7 100.9h0M292.4 82.9h0M220.6 124.0h0M220.9 123.2h0M275.8 104.6h0M275.1 104.6h0M289.8 84.5h0M276.3 95.5h0M312.8 62.9h0M312.4 62.9h0M277.8 103.7h0M277.0 103.2h0M271.3 108.2h0M271.1 108.9h0M284.2 88.9h0M284.7 88.6h0M284.5 88.3h0M243.0 116.5h0M310.4 64.6h0M285.4 88.2h0M223.4 134.4h0M303.6 70.2h0M300.9 73.6h0M300.3 73.1h0M320.2 54.9h0M320.9 54.3h0M275.1 100.6h0M261.5 121.8h0M261.8 121.3h0M307.2 68.3h0M307.7 68.7h0M273.2 100.3h0M298.7 74.5h0M276.7 96.9h0M276.9 96.7h0M276.7 96.4h0M315.5 59.2h0M315.6 59.9h0M286.1 88.2h0M286.6 88.1h0M314.2 58.3h0M314.3 58.1h0M272.5 109.0h0M272.3 109.7h0M271.6 99.4h0M310.3 65.7h0M311.0 65.7h0M315.1 58.4h0M270.7 109.5h0M291.1 88.5h0M291.3 88.5h0M263.9 114.2h0M269.1 99.4h0M269.5 99.1h0M322.7 49.7h0M322.6 49.3h0M270.0 116.5h0M223.7 122.4h0M300.9 76.8h0M300.5 76.7h0M261.7 117.3h0M293.2 82.0h0M294.0 81.5h0M296.5 82.9h0M312.6 61.4h0M319.9 54.1h0M319.2 54.5h0M269.5 109.0h0M233.8 107.9h0M300.9 74.3h0M300.0 74.0h0M300.2 74.7h0M271.6 113.3h0M271.6 109.6h0M271.1 107.2h0M261.2 115.7h0M261.8 115.5h0M261.5 115.4h0M313.3 59.7h0M249.0 131.6h0M221.9 120.1h0M221.2 120.7h0M300.4 75.8h0M300.7 75.4h0M250.8 93.7h0M305.7 69.5h0M305.2 69.4h0M305.4 69.9h0M288.0 90.8h0M288.1 90.6h0M304.2 69.9h0M222.6 135.8h0M222.3 135.7h0M218.3 143.3h0M218.0 143.6h0M270.0 110.5h0M286.8 93.6h0M286.0 93.1h0M226.9 151.4h0M307.5 64.1h0M277.1 98.5h0M277.8 98.7h0M321.8 49.4h0M321.4 49.4h0M292.2 83.3h0M259.5 118.0h0M259.2 117.1h0M295.0 78.4h0M295.7 78.4h0M263.7 117.3h0M321.1 53.8h0M313.7 61.6h0M313.9 61.5h0M313.3 61.8h0M313.4 61.1h0M268.5 110.1h0M276.3 103.3h0M314.6 60.7h0M314.1 60.7h0M314.3 60.8h0M260.7 116.7h0M272.4 111.0h0M272.7 111.8h0M299.3 74.9h0M297.5 76.0h0M297.7 75.1h0M266.7 83.6h0M285.3 95.7h0M272.7 110.6h0M223.4 153.2h0M294.4 83.6h0M220.4 122.3h0M220.6 122.8h0M309.3 64.2h0M309.3 64.9h0M281.8 91.0h0M281.8 90.7h0M259.6 122.7h0M299.5 79.1h0M314.4 59.6h0M314.8 59.1h0M279.2 102.9h0M279.6 102.2h0M294.5 80.0h0M294.3 80.6h0M293.2 82.9h0M287.1 88.8h0M292.9 86.8h0M322.7 50.4h0M239.8 140.6h0M293.5 83.1h0M293.2 83.8h0M264.5 118.3h0M270.2 99.3h0M270.8 99.5h0M218.7 151.3h0M288.0 91.0h0M313.4 60.6h0M228.0 143.0h0M277.6 97.1h0M277.3 97.7h0M319.1 52.2h0M319.4 52.7h0M263.4 119.9h0M319.2 53.4h0M297.9 81.7h0M297.2 81.1h0M290.9 84.0h0M270.3 110.2h0M270.7 110.9h0M280.7 101.2h0M280.7 101.5h0M292.2 84.3h0M262.8 120.2h0M262.5 121.0h0M279.6 92.6h0M289.6 89.1h0M289.5 89.4h0M288.4 86.5h0M288.2 86.1h0M305.5 66.1h0M268.9 109.8h0M242.1 138.9h0M242.8 138.2h0M242.1 138.3h0M262.8 104.1h0M262.4 104.5h0M217.3 153.0h0M320.4 50.3h0M270.0 108.2h0M247.3 133.5h0M260.1 118.3h0M254.7 90.5h0M292.7 85.4h0M217.5 154.0h0M217.5 154.2h0M218.4 141.3h0M271.8 106.9h0M271.3 110.3h0M271.7 110.5h0M267.3 87.2h0M270.8 107.8h0M287.5 89.8h0M226.6 141.2h0M309.1 66.6h0M309.3 66.8h0M223.5 117.1h0M223.4 117.7h0M275.4 101.1h0M275.7 101.4h0M268.7 111.7h0M221.7 143.3h0M259.7 87.5h0M288.7 89.6h0M288.8 89.3h0M287.3 90.0h0M287.0 90.7h0M305.7 68.8h0M263.9 118.5h0M263.4 119.0h0M264.7 114.3h0M306.6 68.5h0M274.7 101.5h0M295.5 82.6h0M295.8 82.3h0M295.2 83.0h0M295.5 82.2h0M275.7 103.7h0M275.1 103.3h0M275.2 103.8h0M263.5 84.9h0M294.3 83.0h0M294.2 82.2h0M286.5 89.5h0M286.6 90.0h0M218.0 142.9h0M218.5 142.3h0M218.7 143.0h0M258.5 119.0h0M258.2 119.8h0M258.4 117.5h0M296.9 77.6h0M296.1 77.3h0M320.4 53.5h0M320.1 53.3h0M260.5 121.9h0M298.0 80.6h0M298.6 80.3h0M264.6 116.2h0M272.2 105.3h0M272.7 105.8h0M272.9 105.3h0M295.1 79.7h0M295.9 79.1h0M296.0 79.6h0M295.1 79.2h0M264.5 117.2h0M269.5 111.3h0M228.2 130.6h0M305.2 67.9h0M305.8 67.5h0M306.0 67.4h0M261.2 118.1h0M261.5 118.8h0M289.2 85.3h0M277.0 97.0h0M222.3 122.6h0M299.3 75.7h0M252.1 129.5h0M271.4 112.6h0M259.9 119.1h0M259.4 119.5h0M267.3 111.0h0M306.5 65.4h0M288.2 88.1h0M288.5 89.0h0M259.5 116.4h0M276.2 102.7h0M321.6 50.9h0M321.9 50.6h0M282.0 99.9h0M281.3 99.3h0M281.2 99.8h0M285.6 89.1h0M285.6 89.6h0M285.8 89.2h0M257.3 124.2h0M244.6 136.9h0M244.1 136.3h0M298.3 75.1h0M298.6 75.6h0M278.9 102.3h0M278.6 102.8h0M223.9 142.2h0M321.9 52.6h0M321.9 52.4h0M321.6 52.5h0M321.1 52.2h0M275.8 102.7h0M275.9 102.8h0M277.7 95.7h0M277.1 95.8h0M251.5 102.2h0"/><path stroke="#0071ff" d="M271.5 111.0h0M271.8 111.4h0M219.3 139.6h0M273.8 101.2h0M273.2 101.9h0M277.7 102.9h0M277.4 102.2h0M309.7 65.5h0M320.2 51.9h0M320.6 51.3h0M320.7 51.9h0M227.2 131.3h0M257.6 120.0h0M257.1 119.9h0M221.8 122.8h0M290.4 88.9h0M290.0 88.1h0M296.5 81.2h0M297.0 81.9h0M295.2 81.2h0M296.0 81.5h0M285.1 94.2h0M285.5 94.7h0M270.7 111.0h0M286.1 90.5h0M295.9 80.4h0M277.1 100.5h0M277.7 100.7h0M260.7 116.0h0M260.8 115.4h0M283.2 89.9h0M320.2 52.9h0M291.8 87.5h0M291.1 87.0h0M261.8 120.0h0M261.7 121.0h0M261.6 120.4h0M299.6 78.6h0M262.9 119.1h0M262.6 119.9h0M262.4 119.1h0M262.3 119.9h0M270.3 114.8h0M270.9 114.1h0M270.6 114.1h0M264.9 113.8h0M268.2 108.4h0M268.6 108.8h0M263.1 113.4h0M263.8 113.3h0M261.8 114.3h0M261.4 114.5h0M287.0 91.0h0M286.7 91.7h0M286.2 91.6h0M286.0 91.3h0M273.1 104.8h0M273.8 104.3h0M282.9 98.9h0M282.2 98.3h0M284.1 89.5h0M297.9 76.6h0M260.2 119.9h0M268.6 100.4h0M321.9 51.2h0M321.4 51.0h0M241.4 110.9h0M299.4 76.3h0M299.7 76.8h0M221.1 121.2h0M221.6 121.4h0M221.2 121.9h0M221.7 121.6h0M250.4 131.0h0M250.2 130.2h0M291.9 85.4h0M291.9 85.6h0M280.1 100.5h0M274.4 102.2h0M274.9 102.2h0M278.2 97.9h0M271.8 100.4h0M271.8 100.9h0M289.5 88.9h0M266.7 117.8h0M266.6 117.5h0M267.8 109.5h0M267.7 109.2h0M247.4 105.1h0M299.4 77.8h0M265.8 117.9h0M265.7 117.6h0M265.5 117.0h0M261.3 119.3h0M290.9 85.4h0M290.4 85.7h0M307.7 68.0h0M269.3 107.8h0M259.8 121.5h0M259.4 121.7h0M229.6 141.2h0M260.7 120.3h0M260.7 120.8h0M260.1 120.9h0M234.1 115.1h0M219.2 143.2h0M219.3 143.5h0M296.3 78.2h0M296.3 78.9h0M277.3 101.1h0M277.1 102.0h0M271.0 106.2h0M270.1 106.5h0M220.7 143.0h0M221.0 143.4h0M220.2 143.7h0M258.1 122.3h0M258.8 122.5h0M220.6 155.0h0M248.9 104.0h0M248.2 104.1h0M236.1 142.1h0M259.9 120.5h0M259.4 120.4h0M222.6 119.4h0M227.5 151.0h0M227.9 150.7h0M279.2 101.1h0M279.8 101.3h0M279.6 101.8h0M306.9 67.7h0M306.0 68.0h0M241.0 139.9h0M257.8 120.2h0M291.3 86.2h0M291.2 86.9h0M225.7 141.1h0M225.8 141.3h0M225.6 141.8h0M289.5 86.2h0M289.2 86.7h0M289.8 86.0h0M266.3 112.5h0M282.4 90.7h0M262.3 85.4h0M262.6 85.2h0M270.9 112.2h0M270.6 112.7h0M270.2 112.0h0M284.3 96.8h0M284.8 96.7h0M230.1 140.9h0M230.3 140.9h0M272.5 101.5h0M267.0 112.8h0M267.3 112.4h0M220.2 138.2h0M270.9 113.7h0M270.4 113.3h0M285.7 93.6h0M296.9 80.4h0M298.1 76.4h0M298.6 76.1h0M299.0 76.8h0M260.3 94.9h0M306.6 67.0h0M265.1 112.7h0M297.5 80.7h0M272.5 104.9h0M267.9 84.9h0M267.6 84.1h0M278.1 100.3h0M278.4 100.3h0M265.4 102.0h0M220.7 149.8h0M220.4 150.0h0M289.2 87.8h0M289.1 87.6h0M308.8 66.8h0M308.2 66.8h0M308.3 66.5h0M278.2 101.7h0M278.6 101.1h0M278.7 101.6h0M281.9 91.5h0M278.1 94.4h0M278.6 94.1h0M278.3 94.8h0M268.4 112.3h0M254.2 127.6h0M283.9 97.8h0M308.4 65.0h0M308.5 65.3h0M273.6 102.0h0M308.0 65.5h0M307.0 65.1h0M307.3 65.8h0M307.9 65.0h0M228.3 142.3h0M269.0 112.3h0M269.8 112.9h0M269.2 112.9h0M263.3 104.1h0M263.9 104.7h0M263.0 104.6h0M296.5 79.5h0M273.8 103.8h0M274.0 103.2h0M273.1 103.2h0M273.0 104.0h0M278.5 96.6h0M278.1 96.1h0M278.6 96.9h0M280.9 99.3h0M280.0 99.4h0M279.5 99.5h0M247.4 128.8h0M247.6 128.7h0M258.6 121.7h0M258.2 121.1h0M264.5 103.9h0M297.2 77.5h0M256.4 120.2h0M280.0 100.4h0M279.5 100.1h0M270.5 100.8h0M270.3 100.4h0M271.0 100.4h0M218.5 155.5h0M218.0 155.5h0M268.4 116.8h0M268.7 116.9h0M290.2 87.6h0M290.4 88.0h0M291.0 87.1h0M285.1 92.9h0M285.8 92.9h0M285.2 92.1h0M227.5 141.0h0M267.6 108.7h0M298.3 79.9h0M298.5 79.8h0M269.9 100.4h0M266.1 110.8h0M266.9 110.9h0M256.1 125.0h0M256.3 125.5h0M228.5 149.9h0M261.5 86.9h0M265.5 114.8h0M280.4 92.8h0M290.1 86.8h0M290.4 86.7h0M284.7 90.4h0M264.0 112.9h0M279.1 93.7h0M222.9 142.8h0M222.4 142.1h0M222.0 142.9h0M258.4 116.6h0M258.8 116.3h0M278.5 95.3h0M224.8 116.7h0M283.8 90.4h0M283.2 90.7h0M259.9 95.3h0M257.7 123.2h0M233.6 145.2h0M233.9 145.7h0M298.8 77.3h0M257.4 121.5h0M257.3 121.7h0M268.0 107.8h0M268.9 107.2h0M268.6 107.6h0M307.4 66.2h0M307.8 66.6h0M248.3 127.3h0M269.5 115.8h0M257.6 97.8h0M257.0 97.4h0M257.7 97.2h0M281.4 98.3h0M265.4 116.9h0M255.0 126.3h0M249.4 130.1h0M249.4 130.6h0M257.4 117.9h0M234.9 144.8h0M249.1 94.9h0M267.4 86.9h0M268.0 86.3h0M259.7 115.6h0M265.2 112.0h0M265.6 111.0h0M298.2 78.1h0M298.8 78.5h0M298.5 78.8h0M237.0 141.8h0M237.8 141.2h0M279.5 97.7h0M271.6 104.5h0M271.4 105.0h0M231.4 139.6h0M297.4 78.9h0M297.7 78.2h0M267.4 101.0h0M267.1 101.6h0M272.5 102.2h0M272.0 102.0h0M272.8 103.2h0M272.4 103.6h0M297.9 79.1h0M297.4 79.8h0M221.5 137.5h0M265.9 115.9h0M265.5 115.8h0M270.4 105.4h0M266.9 113.7h0M223.0 121.3h0M222.2 121.9h0M256.9 121.9h0M256.7 121.1h0M280.2 98.2h0M280.6 98.6h0M280.1 98.4h0M266.3 110.0h0M266.7 109.5h0M260.4 114.5h0M261.7 93.0h0M284.5 95.4h0M257.9 122.6h0M252.3 101.8h0M262.0 105.7h0M269.8 106.4h0M284.3 91.2h0M263.5 112.9h0M219.8 142.9h0M219.5 142.0h0M245.6 129.5h0M219.3 140.7h0M224.9 121.2h0M224.8 121.9h0M219.0 155.9h0M262.0 113.7h0M261.6 113.4h0M262.6 105.3h0M222.1 120.9h0M222.4 120.7h0M282.1 92.0h0M282.9 91.0h0M282.3 91.2h0M251.5 129.2h0M227.0 143.5h0M227.8 143.5h0M224.7 141.5h0M224.4 142.0h0M247.6 132.9h0M247.9 132.3h0"/><path stroke="#008dff" d="M249.0 126.6h0M247.7 129.7h0M267.1 85.6h0M267.2 85.5h0M267.3 107.2h0M267.6 107.5h0M255.4 121.2h0M255.9 121.3h0M266.3 108.5h0M249.6 126.4h0M249.2 126.9h0M284.7 92.0h0M284.9 92.3h0M284.9 94.0h0M284.3 94.9h0M284.1 95.0h0M258.3 96.2h0M283.8 91.4h0M264.3 91.0h0M264.9 90.5h0M264.0 90.5h0M279.0 96.9h0M279.2 96.3h0M221.3 142.9h0M224.0 121.7h0M253.1 100.6h0M285.0 93.4h0M283.0 97.0h0M282.1 98.0h0M271.7 103.9h0M271.4 103.5h0M271.7 102.3h0M271.9 102.8h0M219.3 141.0h0M279.4 94.3h0M257.0 118.6h0M256.7 118.1h0M228.5 119.3h0M270.8 101.8h0M270.5 101.4h0M267.3 116.9h0M218.8 152.4h0M218.6 152.1h0M269.7 114.5h0M269.3 114.8h0M248.2 130.5h0M248.7 130.7h0M248.6 130.1h0M233.8 126.5h0M263.6 105.3h0M244.3 98.5h0M244.8 98.6h0M254.1 100.0h0M254.6 99.4h0M222.6 153.5h0M248.3 129.5h0M266.8 116.4h0M266.2 116.4h0M264.2 111.9h0M264.9 111.4h0M281.1 92.4h0M281.9 92.5h0M249.7 125.0h0M280.3 97.5h0M220.3 142.0h0M220.5 142.1h0M268.1 113.9h0M268.6 113.5h0M268.3 113.2h0M279.3 96.0h0M243.0 108.2h0M268.4 101.3h0M269.0 102.0h0M268.2 101.2h0M264.1 104.3h0M264.7 84.5h0M250.0 127.7h0M249.9 127.3h0M283.9 96.8h0M283.5 96.2h0M270.6 104.9h0M224.2 134.6h0M224.8 134.7h0M259.1 105.4h0M259.7 105.7h0M256.4 122.3h0M256.9 122.4h0M226.5 140.3h0M231.6 140.5h0M280.4 93.7h0M238.6 140.7h0M262.5 92.7h0M246.7 133.1h0M246.2 133.6h0M269.2 101.2h0M269.3 101.5h0M266.7 102.2h0M231.9 146.8h0M281.1 97.8h0M281.4 97.0h0M281.8 97.9h0M228.6 139.7h0M228.0 139.3h0M228.8 139.3h0M258.4 88.2h0M263.4 91.9h0M283.2 92.1h0M283.7 92.7h0M283.5 92.8h0M266.3 114.7h0M266.2 114.5h0M225.9 115.4h0M254.7 121.4h0M250.8 129.3h0M250.6 129.9h0M230.3 141.6h0M230.1 141.8h0M249.8 129.6h0M249.3 129.6h0M252.1 129.0h0M232.3 139.6h0M265.4 109.1h0M265.9 110.0h0M260.8 87.4h0M269.3 105.4h0M269.1 105.9h0M282.1 92.7h0M255.9 119.5h0M270.2 102.7h0M265.8 108.1h0M244.8 130.1h0M266.9 84.2h0M266.8 85.0h0M266.1 84.1h0M234.4 125.9h0M223.9 141.1h0M223.1 141.8h0M249.5 128.2h0M249.9 128.4h0M249.6 128.3h0M247.7 130.9h0M270.8 104.0h0M270.0 103.9h0M226.6 120.5h0M226.4 120.8h0M223.8 135.2h0M223.2 135.3h0M280.9 96.9h0M280.1 96.6h0M263.5 112.0h0M263.1 111.9h0M263.9 111.1h0M250.6 124.7h0M218.0 154.8h0M218.9 154.7h0M264.3 105.5h0M243.1 136.1h0M268.7 115.8h0M268.8 115.4h0M247.2 131.3h0M283.7 93.4h0M266.5 115.2h0M266.9 115.9h0M255.5 122.4h0M242.1 137.8h0M242.8 137.9h0M263.2 106.1h0M263.5 106.9h0M283.9 95.9h0M256.6 124.0h0M256.6 123.0h0M264.5 106.9h0M245.8 130.1h0M267.8 106.7h0M225.9 145.0h0M250.9 126.2h0M250.4 126.1h0M283.3 94.9h0M283.8 94.4h0M280.0 94.4h0M254.2 120.0h0M254.5 120.2h0M261.4 113.0h0M261.8 112.6h0M261.5 112.3h0M264.8 110.9h0M264.4 110.3h0M246.1 130.1h0M246.8 130.5h0M265.8 106.1h0M265.4 106.7h0M265.0 106.1h0M264.8 107.8h0M280.1 95.2h0M280.2 95.4h0M280.7 95.7h0M282.8 96.5h0M282.1 96.2h0M266.6 106.6h0M267.0 106.4h0M266.0 106.9h0M281.2 93.4h0M281.7 93.3h0M268.8 114.4h0M259.1 114.5h0M259.3 114.8h0M259.6 114.0h0M262.8 106.6h0M254.7 122.9h0M220.7 154.1h0M219.5 151.9h0M218.8 153.4h0M218.1 153.6h0M218.3 153.8h0M220.2 141.4h0M220.8 141.2h0M282.8 93.3h0M282.3 93.6h0M267.8 114.2h0M267.6 114.3h0M265.5 84.5h0M243.1 130.8h0M269.5 102.1h0M257.5 116.7h0M262.7 111.6h0M262.2 111.7h0M230.3 110.8h0M232.6 138.4h0M232.8 138.8h0M238.8 103.2h0M238.4 103.1h0M264.8 108.5h0M264.7 108.3h0"/><path stroke="#00a5ff" d="M255.9 98.6h0M255.0 98.6h0M222.7 141.6h0M222.8 141.2h0M269.3 104.6h0M267.4 115.6h0M268.0 115.5h0M267.8 115.7h0M267.7 115.2h0M253.8 122.9h0M253.6 122.2h0M221.5 138.7h0M221.2 138.4h0M264.9 109.7h0M264.5 109.2h0M264.3 109.6h0M247.5 126.8h0M247.9 126.8h0M247.2 126.4h0M248.9 95.7h0M235.7 142.6h0M220.2 140.1h0M220.2 140.8h0M220.8 140.3h0M223.2 120.2h0M223.8 120.8h0M265.2 105.3h0M263.1 107.4h0M265.8 104.5h0M265.1 104.1h0M265.2 104.7h0M251.7 123.6h0M251.3 123.8h0M282.8 95.5h0M282.1 95.8h0M282.7 95.0h0M268.4 105.9h0M268.9 105.6h0M281.0 94.8h0M225.1 140.8h0M225.8 140.4h0M283.0 94.3h0M228.3 143.6h0M237.8 104.9h0M237.4 104.7h0M282.0 95.0h0M281.7 95.9h0M221.8 141.9h0M221.8 141.4h0M223.2 119.5h0M223.1 119.1h0M251.2 128.4h0M251.3 128.4h0M269.4 103.8h0M269.6 103.3h0M248.2 125.9h0M268.5 102.2h0M254.3 126.4h0M236.3 105.1h0M255.2 125.7h0M251.0 125.6h0M251.9 125.2h0M230.5 129.5h0M252.3 123.1h0M247.3 113.7h0M242.4 131.6h0M236.5 141.3h0M236.7 113.3h0M265.8 88.9h0M252.3 122.9h0M226.9 114.7h0M219.8 154.5h0M219.5 154.6h0M256.6 117.0h0M244.4 107.5h0M244.3 107.1h0M261.8 106.4h0M261.4 106.3h0M261.7 106.8h0M266.0 103.1h0M226.1 150.4h0M227.0 150.1h0M227.3 139.7h0M246.8 132.7h0M246.4 132.5h0M250.5 102.9h0M250.8 102.1h0M250.3 102.6h0M255.7 90.3h0M220.3 150.3h0M263.3 108.6h0M266.6 105.3h0M266.1 105.4h0M229.8 118.7h0M229.1 118.1h0M224.1 117.8h0M224.9 117.1h0M244.2 131.9h0M267.9 105.5h0M267.1 105.9h0M233.7 138.3h0M233.8 138.9h0M224.7 146.7h0M224.0 146.8h0M224.1 146.1h0M224.7 146.2h0M263.3 109.8h0M263.5 109.2h0M255.8 123.6h0M255.5 123.7h0M255.8 123.8h0M246.3 131.3h0M246.1 131.1h0M232.1 140.5h0M240.9 138.1h0M240.1 138.5h0M234.2 144.0h0M234.9 143.7h0M229.4 147.4h0M229.5 147.5h0M262.2 86.7h0M233.6 139.8h0M225.0 120.8h0M225.9 120.2h0M225.7 120.6h0M221.8 153.6h0M262.3 107.2h0M262.6 110.9h0M244.7 134.9h0M244.1 134.3h0M250.7 123.0h0M250.2 123.0h0M253.2 123.5h0M243.1 132.2h0M268.8 104.1h0M234.3 107.6h0M242.6 100.5h0M242.9 100.3h0M228.5 148.3h0M228.9 148.0h0M241.9 133.5h0M241.3 133.5h0M251.8 126.2h0M252.9 127.7h0M252.5 127.6h0M252.6 127.2h0M268.2 103.8h0M268.5 103.2h0M268.6 103.0h0M245.8 133.9h0M252.5 124.6h0M266.1 104.2h0M266.4 104.2h0M266.8 104.3h0M224.7 120.1h0M224.0 120.6h0M264.5 89.6h0M264.9 89.3h0M224.9 140.3h0M224.1 140.1h0M267.0 86.2h0M267.0 87.0h0M251.2 127.5h0M251.0 128.0h0M251.8 127.7h0M251.9 127.1h0M221.2 139.1h0M221.2 139.8h0M222.0 139.3h0M227.1 149.8h0M255.9 118.8h0M255.3 118.9h0M221.5 140.7h0M221.5 140.2h0M245.2 131.3h0M246.0 131.2h0M245.4 131.6h0M267.4 103.3h0M267.6 104.0h0M222.2 137.1h0M222.7 137.8h0M230.7 146.8h0M243.8 135.1h0M243.4 135.3h0M255.0 123.5h0M254.1 123.5h0M233.5 144.3h0M221.4 149.4h0M228.7 131.8h0M242.0 133.2h0M242.8 133.4h0M255.2 124.6h0M255.7 124.1h0M227.1 132.4h0M227.3 132.6h0M229.4 130.3h0M229.4 130.7h0M229.9 130.7h0M267.7 104.4h0M267.9 104.6h0M231.7 141.5h0M229.5 138.3h0M227.0 144.5h0M227.5 144.6h0M260.7 112.6h0M260.5 112.4h0M230.3 142.1h0M254.2 119.2h0M254.3 119.4h0M227.7 119.4h0M237.2 140.3h0M262.8 108.0h0M262.1 108.3h0M262.7 109.0h0M262.8 109.6h0M237.2 112.6h0M237.0 112.3h0"/><path stroke="#00c1ff" d="M240.9 134.0h0M240.4 134.0h0M251.3 122.8h0M219.6 152.3h0M223.5 140.9h0M222.7 140.6h0M253.5 127.0h0M253.9 126.1h0M253.1 126.4h0M253.6 127.0h0M253.4 120.8h0M253.8 120.9h0M253.0 120.5h0M223.3 147.0h0M222.6 148.9h0M222.1 148.1h0M252.7 125.5h0M219.8 153.7h0M219.1 153.9h0M219.3 153.3h0M229.2 143.2h0M229.2 143.5h0M229.8 143.1h0M242.4 136.7h0M257.4 89.7h0M252.0 121.7h0M244.9 132.1h0M243.6 133.1h0M245.6 132.6h0M245.8 133.0h0M261.0 106.2h0M260.9 106.7h0M247.2 96.6h0M247.8 96.7h0M252.2 126.6h0M259.7 94.7h0M263.4 90.4h0M263.6 90.9h0M224.7 151.4h0M245.2 106.8h0M245.3 107.0h0M244.3 133.1h0M244.6 133.1h0M244.6 133.6h0M256.8 97.8h0M259.7 113.4h0M259.0 89.0h0M227.6 113.5h0M227.9 113.2h0M243.0 134.5h0M243.5 134.2h0M243.8 134.1h0M220.7 153.2h0M220.4 153.9h0M254.8 126.0h0M226.3 139.6h0M247.4 104.5h0M240.2 134.9h0M234.2 138.0h0M260.7 93.5h0M231.2 146.0h0M231.9 145.9h0M225.1 134.1h0M246.7 105.9h0M246.4 105.5h0M223.1 136.7h0M223.2 136.2h0M238.2 139.7h0M261.9 110.8h0M261.0 110.6h0M241.0 134.4h0M239.6 134.0h0M239.9 134.7h0M254.6 124.3h0M254.3 124.9h0M251.9 101.4h0M261.9 107.8h0M261.0 107.5h0M222.1 152.3h0M258.3 115.0h0M225.6 116.2h0M225.3 116.4h0M242.5 134.2h0M242.7 134.4h0M242.1 134.8h0M224.6 118.2h0M225.0 118.8h0M224.1 118.9h0M222.3 138.1h0M235.5 141.8h0M233.9 140.6h0M233.1 140.7h0M264.6 85.4h0M264.4 85.6h0M265.0 85.3h0M254.8 92.0h0M225.0 135.6h0M242.8 130.5h0M242.5 130.5h0M253.2 125.0h0M253.8 125.9h0M253.6 125.2h0M253.2 125.5h0M238.9 135.8h0M222.7 139.5h0M222.3 139.4h0M224.2 120.0h0M224.3 119.7h0M230.3 117.2h0M230.2 117.9h0M265.5 87.2h0M265.7 87.8h0M266.0 85.3h0M234.5 137.7h0M250.8 94.7h0M250.1 94.8h0M239.4 138.9h0M242.5 136.0h0M243.0 135.4h0M228.8 138.4h0M228.1 138.6h0M220.4 151.2h0M257.8 115.8h0M257.8 115.1h0M262.1 91.1h0M262.9 91.2h0M262.6 91.6h0M245.6 127.6h0M245.5 127.4h0M258.8 95.4h0M258.6 95.3h0M258.6 95.2h0M234.6 114.4h0M234.9 114.5h0M235.0 142.6h0M239.2 135.1h0M239.5 135.2h0M261.9 92.9h0M237.7 136.7h0M257.0 106.4h0M257.7 106.1h0M233.3 137.6h0M236.8 136.8h0M261.8 109.8h0M261.5 109.1h0M261.6 109.6h0M246.6 97.6h0M228.0 144.6h0M225.8 139.5h0M225.5 139.7h0"/><path stroke="#00d9ff" d="M261.8 108.8h0M261.4 108.2h0M264.2 88.3h0M265.0 88.9h0M264.3 88.6h0M252.3 101.0h0M252.1 100.3h0M238.4 122.7h0M220.4 152.1h0M220.2 152.3h0M220.6 152.0h0M240.6 132.3h0M240.1 132.8h0M257.7 96.6h0M259.6 106.7h0M259.4 106.0h0M259.5 106.1h0M238.4 111.7h0M238.8 111.3h0M236.3 140.5h0M232.4 141.1h0M240.2 137.5h0M240.9 137.5h0M238.8 134.6h0M238.3 134.6h0M226.8 119.9h0M263.2 86.1h0M263.7 86.5h0M263.8 86.0h0M263.0 86.7h0M238.2 136.3h0M229.3 146.5h0M223.5 139.8h0M223.7 139.2h0M230.4 143.4h0M232.4 144.9h0M232.8 144.8h0M232.8 144.3h0M221.6 152.4h0M221.0 152.8h0M253.6 99.3h0M225.3 146.7h0M225.3 146.1h0M241.8 135.3h0M241.5 136.8h0M241.8 136.1h0M239.9 133.4h0M230.3 145.6h0M249.6 123.3h0M249.4 123.9h0M265.7 86.8h0M266.0 86.2h0M224.5 139.6h0M234.5 140.1h0M234.5 140.4h0M234.9 140.9h0M262.4 87.3h0M228.4 147.1h0M248.2 124.6h0M248.5 124.6h0M236.1 138.0h0M236.8 137.9h0M225.9 119.3h0M225.5 119.8h0M231.6 142.1h0M235.8 138.6h0M235.2 138.1h0M233.7 143.8h0M234.9 141.0h0M234.4 141.8h0M234.2 141.6h0M228.3 118.6h0M225.2 150.8h0M221.2 150.3h0M221.3 150.1h0M235.5 136.1h0M258.6 106.4h0M229.9 144.5h0M229.3 144.5h0M246.1 126.5h0M223.1 137.9h0M263.8 89.7h0M250.8 122.4h0M250.3 122.5h0M239.8 136.9h0M239.2 136.9h0M239.7 136.4h0M235.7 141.0h0M242.2 108.9h0M253.2 92.1h0M247.4 125.3h0M241.0 136.1h0M240.1 136.5h0M240.8 136.9h0M240.5 136.2h0M227.6 138.4h0M260.5 88.2h0M233.2 141.4h0M233.4 141.1h0M237.1 139.7h0M239.4 137.9h0M226.4 116.0h0M223.6 151.8h0M231.4 116.7h0M231.8 116.5h0M237.4 137.7h0M238.1 138.7h0M238.8 138.4h0M238.0 138.9h0M239.0 138.9h0M230.3 144.7h0M230.7 144.8h0M223.5 138.9h0M223.4 138.6h0M227.6 148.5h0M231.9 144.7h0M231.4 144.9h0M240.4 102.3h0M227.1 145.8h0M227.2 145.2h0M227.8 145.4h0M254.7 98.1h0M254.3 98.5h0M235.4 140.0h0M255.6 117.9h0M255.8 117.9h0M255.8 117.2h0M255.5 117.5h0M238.9 137.8h0M238.2 137.9h0M264.9 86.2h0M264.2 86.3h0M264.8 86.6h0M233.5 127.4h0M233.9 127.6h0M251.5 121.6h0M264.9 87.8h0M264.9 87.1h0M264.0 87.0h0M260.8 107.9h0M236.9 135.5h0M236.1 135.0h0M225.5 117.3h0M256.1 90.4h0M230.0 145.5h0M229.3 145.2h0M229.7 145.5h0M237.7 123.8h0M259.9 112.1h0M259.4 112.9h0M254.7 118.4h0M254.4 118.8h0M231.7 110.4h0M221.7 151.0h0M221.8 152.0h0M221.1 151.3h0M253.7 119.5h0M252.2 120.9h0"/><path stroke="#09f1ee" d="M263.2 87.6h0M263.7 87.7h0M222.1 149.4h0M236.0 113.1h0M235.7 113.9h0M233.3 142.8h0M233.6 142.2h0M231.3 143.3h0M231.1 143.2h0M236.8 138.2h0M231.3 137.3h0M264.0 88.9h0M263.5 88.1h0M224.1 147.6h0M224.1 147.8h0M225.0 147.4h0M236.1 139.2h0M236.0 139.8h0M236.6 139.5h0M236.6 139.6h0M224.9 136.5h0M224.9 136.9h0M224.1 136.1h0M260.6 110.4h0M249.5 95.8h0M228.9 145.7h0M228.3 145.0h0M228.7 145.7h0M225.9 119.0h0M225.6 119.0h0M225.1 118.0h0M237.2 138.9h0M237.3 138.2h0M254.7 108.2h0M232.5 142.1h0M232.9 142.1h0M222.3 151.9h0M258.2 89.9h0M249.9 102.9h0M249.1 102.5h0M226.5 138.8h0M226.5 138.3h0M228.4 146.4h0M232.9 143.1h0M232.9 143.5h0M232.2 143.2h0M232.0 143.8h0M231.1 129.4h0M261.6 88.1h0M226.1 146.4h0M226.1 146.2h0M224.5 138.5h0M225.0 138.9h0M224.1 138.0h0M262.6 90.4h0M223.1 148.5h0M223.2 148.2h0M232.0 115.3h0M232.3 115.6h0M232.5 115.5h0M225.2 135.5h0M262.2 89.0h0M262.0 88.3h0M262.9 88.1h0M258.9 113.7h0M258.1 113.5h0M234.1 136.1h0M234.8 136.8h0M237.3 134.8h0M225.9 138.7h0M225.5 138.2h0M225.2 139.0h0M226.4 134.1h0M226.4 134.8h0M227.4 133.6h0M227.0 133.4h0M227.0 133.7h0M227.3 133.2h0M236.9 124.6h0M234.9 126.4h0M230.2 137.4h0M230.8 137.9h0M227.7 118.9h0M260.4 108.3h0M228.7 132.3h0M224.0 137.2h0M224.8 137.9h0M224.0 137.7h0M239.9 110.4h0M227.8 147.8h0M227.7 147.1h0M227.8 146.0h0M227.6 146.9h0M227.1 146.5h0M260.9 109.2h0M260.5 109.8h0M222.2 150.8h0M222.1 150.6h0M237.0 112.7h0M224.4 150.5h0M235.3 125.5h0M235.4 125.1h0M262.6 89.0h0M262.8 89.9h0M226.9 119.0h0M227.9 114.9h0"/><path stroke="#1fffd7" d="M230.5 111.1h0M255.9 97.8h0M255.0 98.0h0M255.4 97.0h0M259.1 93.2h0M259.7 93.6h0M257.7 114.5h0M256.4 107.2h0M256.3 107.8h0M236.8 106.4h0M236.7 106.7h0M243.8 128.4h0M243.7 128.3h0M235.7 107.2h0M235.4 107.5h0M230.0 130.1h0M231.0 130.4h0M226.4 116.9h0M234.7 108.5h0M238.4 133.0h0M238.7 133.4h0M261.0 91.9h0M225.9 147.1h0M225.1 147.7h0M233.8 115.0h0M261.0 92.5h0M223.0 150.3h0M223.7 150.2h0M223.9 151.0h0M223.5 150.8h0M242.6 129.1h0M259.8 107.7h0M259.3 107.1h0M259.5 107.8h0M226.8 148.5h0M228.9 137.7h0M228.1 137.6h0M255.6 91.4h0M250.7 101.7h0M258.9 94.8h0M226.3 147.8h0M226.8 147.9h0M226.9 147.2h0M225.3 137.6h0M225.3 136.4h0M225.2 136.9h0M226.0 149.5h0M225.6 149.5h0M235.6 136.0h0M223.1 149.7h0M226.2 117.5h0M226.4 117.9h0M239.8 132.7h0M237.2 111.5h0M260.0 89.1h0M259.3 89.7h0M233.9 109.9h0M227.3 137.5h0M226.3 137.6h0M241.5 130.2h0M246.4 104.5h0M256.6 115.1h0M256.8 115.9h0M245.0 127.4h0M244.7 127.5h0M224.2 148.5h0M224.8 148.3h0M224.6 148.6h0M228.7 113.0h0M228.1 113.7h0M228.9 113.1h0M257.2 90.7h0M257.9 90.7h0M261.1 89.9h0M261.8 89.6h0M261.2 89.1h0M233.4 136.9h0"/><path stroke="#33ffc4" d="M245.2 105.9h0M245.6 105.7h0M247.5 103.4h0M247.4 103.1h0M249.3 123.0h0M226.3 135.1h0M242.9 101.7h0M251.0 100.8h0M230.7 116.7h0M224.9 149.3h0M224.0 149.6h0M225.9 149.0h0M225.1 148.5h0M225.1 148.5h0M257.7 95.8h0M240.9 109.6h0M240.7 109.5h0M260.2 89.6h0M260.7 89.3h0M260.7 89.0h0M228.6 117.0h0M228.9 117.4h0M228.6 117.8h0M248.3 123.8h0M248.9 123.4h0M250.8 121.8h0M250.4 121.8h0M261.3 90.3h0M261.5 90.9h0M262.0 90.7h0M257.1 107.5h0M257.5 107.3h0M257.6 107.0h0M252.9 99.3h0M253.0 99.9h0M252.6 99.7h0M258.3 107.1h0M258.6 107.8h0M234.2 113.3h0M234.9 113.5h0M226.3 136.1h0M226.3 136.9h0M227.6 117.9h0M227.0 117.7h0M227.5 117.3h0M227.1 117.9h0M247.3 97.8h0M247.5 97.4h0M252.0 120.8h0M251.3 120.3h0M252.9 119.6h0M252.4 119.5h0M258.8 112.1h0M258.7 112.8h0M253.8 118.2h0M253.1 118.2h0M253.4 118.5h0M255.9 116.1h0M255.9 116.4h0M227.2 134.3h0M228.0 134.8h0M232.3 110.9h0M232.1 110.1h0M236.4 134.7h0M227.4 115.8h0M227.2 115.4h0M259.7 110.6h0M259.7 110.0h0M259.3 110.6h0M254.9 92.3h0M254.2 92.3h0M253.5 98.1h0M259.9 108.3h0M254.6 117.3h0"/><path stroke="#49ffad" d="M245.6 126.5h0M231.6 115.1h0M231.1 115.9h0M255.2 108.6h0M228.7 133.5h0M238.6 110.4h0M227.1 136.9h0M227.0 136.2h0M227.4 136.6h0M248.3 102.5h0M248.2 102.2h0M259.8 109.1h0M244.2 117.3h0M241.1 102.6h0M227.2 116.2h0M227.1 116.5h0M227.5 116.7h0M232.9 136.4h0M232.3 136.8h0M233.0 136.6h0M232.3 136.4h0M246.3 98.5h0M260.4 91.9h0M258.0 90.0h0M259.6 92.6h0M256.2 91.4h0M252.4 110.1h0M227.2 135.4h0M227.5 135.9h0M227.8 135.5h0M257.2 113.2h0M257.4 113.4h0M231.3 111.3h0M243.6 118.3h0M239.2 122.7h0M239.4 122.2h0M258.1 93.0h0M258.2 94.0h0M260.5 90.9h0M260.5 90.2h0M228.7 136.6h0M232.6 114.9h0M232.6 114.6h0M234.1 135.4h0M232.9 129.6h0M232.2 129.6h0M242.4 107.9h0M233.7 128.7h0M233.0 128.8h0M240.1 121.2h0M229.7 117.0h0M253.3 93.3h0M237.7 133.9h0M237.2 133.4h0"/><path stroke="#5dff9a" d="M236.8 111.8h0M229.1 132.2h0M242.0 119.6h0M242.6 119.2h0M242.9 119.9h0M259.5 90.2h0M259.3 90.0h0M228.7 114.7h0M245.5 99.2h0M229.3 136.8h0M231.4 136.5h0M231.6 136.3h0M238.4 123.1h0M238.7 123.7h0M241.8 120.3h0M228.8 116.7h0M228.1 116.9h0M234.3 110.0h0M234.1 109.3h0M240.2 103.0h0M230.3 136.9h0M230.3 112.2h0M230.2 112.3h0M249.9 101.4h0M249.7 101.7h0M258.8 111.1h0M258.2 112.0h0M258.5 111.2h0M233.5 113.9h0M231.4 131.0h0M231.6 130.1h0M249.8 96.1h0M249.5 96.7h0M258.8 108.8h0M258.5 108.7h0M259.0 108.5h0M257.6 94.7h0M236.1 107.9h0M236.5 107.5h0M257.0 91.4h0M257.5 91.5h0M257.9 91.0h0M259.6 91.4h0M259.5 91.9h0M259.1 91.8h0M228.4 134.9h0M228.1 134.1h0M256.9 114.2h0M229.6 113.2h0M229.4 114.0h0M230.5 131.2h0M230.1 132.0h0M230.9 131.5h0M234.6 127.0h0M233.0 110.0h0M233.5 110.5h0M233.0 110.6h0M237.7 106.2h0"/><path stroke="#70ff87" d="M239.0 104.9h0M239.5 105.0h0M239.5 104.1h0M228.3 115.7h0M228.3 115.4h0M228.1 135.8h0M228.5 135.7h0M243.6 106.8h0M238.6 105.6h0M255.9 96.6h0M255.4 96.7h0M256.3 108.5h0M239.3 109.5h0M254.6 109.1h0M254.2 109.6h0M255.1 92.1h0M255.7 92.7h0M258.5 92.8h0M258.8 92.9h0M231.0 115.6h0M258.5 91.4h0M258.8 91.2h0M258.2 91.9h0M237.3 111.0h0M246.6 103.6h0M235.9 134.8h0M235.1 134.4h0M245.4 104.9h0M234.5 112.7h0M234.8 112.8h0M242.9 128.7h0M256.9 95.3h0M257.1 108.2h0M257.8 108.1h0M251.5 99.2h0M251.4 99.9h0M251.2 99.9h0M251.8 111.6h0M243.0 101.2h0M243.6 101.5h0M244.8 105.4h0M252.8 98.7h0M231.3 114.3h0M231.8 114.4h0M258.6 110.5h0M235.3 126.9h0M258.3 109.7h0M258.2 109.4h0M248.4 97.2h0M248.2 97.3h0M239.5 131.4h0M239.5 131.1h0M229.8 115.8h0M229.4 115.2h0M229.2 115.6h0M235.5 111.8h0M235.8 111.2h0M241.3 129.2h0M241.7 129.2h0M236.2 125.5h0M249.0 121.5h0"/><path stroke="#87ff70" d="M251.2 95.7h0M251.5 95.7h0M251.9 95.1h0M257.8 93.8h0M257.9 93.2h0M257.6 112.7h0M233.8 135.8h0M233.9 135.2h0M252.4 118.5h0M248.5 122.3h0M257.9 92.8h0M255.4 115.7h0M255.2 115.0h0M232.9 113.3h0M231.6 112.4h0M240.9 130.2h0M240.5 130.8h0M240.2 130.5h0M240.8 130.7h0M251.1 119.6h0M251.3 119.8h0M229.4 114.0h0M256.4 92.0h0M256.5 92.5h0M256.9 92.1h0M256.4 92.5h0M229.0 133.4h0M253.2 97.7h0M240.8 108.3h0M240.1 108.9h0M240.2 108.1h0M253.3 117.1h0M235.5 109.1h0M234.3 110.9h0M229.3 136.0h0M229.5 135.0h0M254.8 93.2h0M254.0 93.4h0M230.2 113.5h0M230.9 113.2h0M230.4 113.9h0M242.5 102.0h0M236.5 110.4h0M233.5 112.7h0M247.4 98.4h0M247.6 98.1h0M230.1 114.9h0M230.9 114.8h0M230.1 114.6h0M230.4 114.7h0M254.7 116.4h0M234.0 111.8h0M233.0 111.1h0M233.6 111.5h0M251.0 112.1h0M234.4 111.8h0M234.9 112.0h0M234.9 111.6h0M234.2 111.6h0M232.6 112.2h0M232.2 112.5h0M232.9 112.6h0M232.0 113.2h0M231.3 113.2h0M231.9 113.4h0M231.1 113.3h0"/><path stroke="#9aff5d" d="M235.1 110.8h0M235.1 110.1h0M235.7 110.6h0M238.6 109.8h0M238.1 109.6h0M236.5 133.0h0M236.4 133.9h0M242.0 107.9h0M247.9 123.8h0M236.1 108.7h0M236.7 108.7h0M229.4 134.5h0M229.4 134.2h0M253.4 110.3h0M253.7 110.7h0M244.3 126.9h0M244.5 126.4h0M248.5 101.3h0M249.5 113.3h0M249.9 113.5h0M246.4 99.1h0M248.2 114.6h0M248.6 114.6h0M254.7 96.4h0M254.2 96.9h0M256.5 94.8h0M255.6 109.2h0M253.0 94.4h0M256.3 93.9h0M256.8 93.8h0M256.8 93.7h0M236.7 109.6h0M236.0 109.5h0M236.0 109.8h0M236.4 109.3h0M256.6 113.4h0M246.2 116.5h0M246.6 116.0h0M230.2 135.2h0M230.0 135.9h0M230.5 135.8h0M230.9 135.3h0M232.8 135.4h0M232.0 135.1h0M258.0 109.3h0M230.8 132.2h0M230.0 132.6h0M237.6 107.8h0M237.8 107.2h0M237.5 107.2h0M256.0 93.4h0M255.5 93.2h0M245.0 100.0h0M245.2 101.0h0M245.9 100.2h0M237.1 110.0h0M257.7 111.9h0M257.3 111.6h0"/><path stroke="#b1ff46" d="M255.8 95.3h0M255.3 95.5h0M242.7 106.9h0M249.4 101.0h0M249.9 100.7h0M234.4 135.0h0M233.5 129.1h0M232.2 130.2h0M245.3 103.6h0M251.8 98.9h0M247.0 124.8h0M246.3 124.6h0M249.3 98.0h0M249.2 97.5h0M238.5 106.3h0M252.2 95.2h0M252.4 95.6h0M250.3 99.9h0M250.7 99.6h0M245.2 117.5h0M245.4 117.6h0M252.2 97.9h0M244.3 101.9h0M231.7 135.7h0M240.7 104.0h0M240.1 104.4h0M239.4 105.5h0M245.7 126.0h0M246.8 102.6h0M246.5 102.9h0M246.3 102.1h0M231.1 131.7h0M256.5 109.1h0M256.4 109.4h0M244.7 104.4h0M239.6 108.8h0M239.9 108.7h0M257.9 110.2h0M257.3 110.4h0M251.1 96.7h0M251.6 96.4h0M244.0 105.9h0M243.4 105.8h0M243.6 105.4h0M244.0 105.7h0M237.8 132.5h0M237.7 132.1h0M253.0 96.9h0M253.7 96.5h0M237.6 108.5h0M237.1 108.8h0M244.1 119.0h0"/><path stroke="#c4ff33" d="M243.6 102.7h0M255.8 94.7h0M255.6 94.8h0M255.2 94.5h0M254.5 94.0h0M254.1 94.3h0M248.0 98.8h0M248.6 99.0h0M248.8 98.2h0M239.3 123.1h0M234.2 128.2h0M234.1 128.7h0M247.3 101.5h0M247.8 101.4h0M254.6 95.3h0M254.8 95.2h0M252.9 96.6h0M252.5 96.9h0M252.5 96.5h0M254.0 95.4h0M253.3 95.1h0M253.4 95.8h0M254.0 95.0h0M240.9 107.5h0M240.2 107.6h0M251.8 97.3h0M251.4 97.8h0M240.1 122.3h0M250.3 97.4h0M250.9 97.3h0M238.8 108.2h0M238.5 108.8h0M238.4 108.6h0M238.7 109.0h0M230.2 133.8h0M230.9 133.3h0M231.0 134.2h0M230.2 135.0h0M230.8 134.8h0M255.3 114.7h0M255.8 114.3h0M247.3 99.2h0M252.7 111.6h0M243.4 119.8h0M246.3 100.4h0M246.7 100.9h0M250.5 98.2h0M250.7 98.7h0M245.3 103.0h0M245.3 102.3h0M254.9 110.0h0M254.5 110.7h0M245.8 101.1h0M245.2 101.6h0M245.9 101.8h0M235.9 133.8h0M238.5 107.4h0"/><path stroke="#d7ff1f" d="M248.4 100.7h0M242.0 103.5h0M242.0 103.8h0M243.0 103.2h0M238.9 124.8h0M238.0 124.2h0M249.8 99.6h0M249.0 99.6h0M249.7 99.9h0M244.8 102.7h0M244.2 102.2h0M241.8 106.5h0M246.2 101.3h0M244.6 104.0h0M244.7 103.2h0M249.9 98.1h0M249.8 98.8h0M249.5 98.6h0M251.4 118.0h0M251.5 118.8h0M238.7 131.3h0M252.5 118.0h0M252.0 117.1h0M233.6 134.4h0M239.1 106.3h0M239.3 106.3h0M241.4 121.5h0M242.8 127.9h0M239.1 107.0h0M239.6 107.2h0M239.2 107.6h0M239.9 107.3h0M249.7 121.0h0M249.8 120.5h0M247.3 100.5h0M247.8 100.6h0M247.0 100.8h0M242.5 120.6h0M248.2 99.2h0M248.5 99.9h0M248.2 99.9h0M248.7 99.7h0M256.6 110.2h0M256.6 110.3h0M235.4 128.0h0M235.9 127.4h0M240.7 105.6h0M241.3 104.1h0M241.2 104.8h0M243.1 104.8h0M244.0 104.8h0M243.8 103.1h0M244.0 103.9h0M243.4 103.6h0M243.7 103.1h0M242.7 105.8h0M242.7 105.1h0"/><path stroke="#eeff09" d="M253.3 116.3h0M254.3 115.7h0M241.0 107.0h0M240.3 106.1h0M240.3 106.9h0M256.7 111.8h0M256.9 111.3h0M239.4 130.4h0M255.9 110.3h0M255.5 110.0h0M255.9 110.2h0M255.4 110.9h0M237.7 125.1h0M237.7 125.7h0M231.1 132.3h0M240.1 129.4h0M231.7 134.5h0M236.6 126.5h0M236.1 126.0h0M232.8 134.5h0M232.4 134.7h0M241.7 106.0h0M241.5 105.9h0M241.4 105.1h0M241.5 105.6h0M243.5 126.9h0M243.8 126.1h0M243.7 126.1h0M242.1 104.4h0M242.7 104.1h0M242.9 104.5h0M232.4 131.2h0M251.5 112.3h0M234.0 130.4h0"/><path stroke="#ffea00" d="M236.3 132.3h0M234.4 133.9h0M234.9 134.0h0M255.8 113.5h0M231.1 133.5h0M231.0 133.3h0M248.0 115.3h0M249.0 115.2h0M250.6 113.1h0M249.7 114.6h0M253.1 111.1h0M247.3 116.5h0M247.0 116.0h0M247.7 116.2h0"/><path stroke="#ffd000" d="M234.5 129.7h0M246.9 123.5h0M246.3 123.5h0M246.6 117.7h0M256.0 111.3h0M255.5 111.4h0M245.0 125.7h0M233.6 133.8h0M255.9 112.7h0M255.9 112.2h0M255.5 112.5h0M255.5 112.4h0M232.7 134.0h0M232.3 133.9h0M232.1 132.4h0M232.1 133.0h0M245.0 118.0h0M246.0 118.1h0M254.8 111.4h0M254.0 111.5h0"/><path stroke="#ffb900" d="M237.8 131.3h0M237.6 131.8h0M245.3 124.8h0M251.3 117.2h0M235.0 132.9h0M235.6 132.2h0M235.5 132.8h0M233.9 131.1h0M233.1 131.2h0M233.1 131.6h0M233.4 131.7h0M239.2 124.2h0M239.9 124.4h0M254.5 114.3h0M254.9 114.9h0M250.9 118.7h0M240.7 123.0h0M235.2 128.8h0M252.1 116.4h0M244.6 119.1h0M244.2 119.4h0"/><path stroke="#ffa300" d="M248.4 120.2h0M248.3 120.8h0M250.0 120.0h0M249.7 119.6h0M233.1 132.8h0M233.2 132.3h0M233.3 132.8h0M233.3 132.4h0M234.4 132.8h0M234.4 132.5h0M234.9 132.4h0M247.7 121.9h0M252.5 112.3h0M241.6 127.8h0M253.4 115.8h0M253.8 115.5h0M234.3 130.0h0M239.0 130.5h0M242.6 126.5h0M242.6 126.9h0M238.2 125.0h0M238.3 125.5h0"/><path stroke="#ff8900" d="M241.5 122.5h0M241.4 122.2h0M241.9 122.1h0M240.2 128.5h0M240.8 128.6h0M254.4 112.2h0M236.9 127.3h0M243.5 120.4h0M239.6 129.1h0M234.4 131.0h0M234.7 132.0h0M254.6 113.2h0M254.4 113.7h0M237.3 126.5h0M236.8 131.7h0M249.4 115.4h0M251.6 113.1h0M251.0 113.3h0M251.9 113.5h0M248.0 116.9h0M248.6 116.2h0M248.3 116.3h0"/><path stroke="#ff7300" d="M253.7 112.5h0M253.1 112.8h0M253.3 112.3h0M242.1 121.2h0M242.6 121.5h0M250.2 114.7h0M246.9 122.3h0M246.4 122.5h0M247.5 117.2h0M247.6 117.7h0M235.5 131.1h0M236.0 131.5h0M235.1 131.3h0M235.4 129.4h0M246.3 118.1h0M243.9 125.6h0M243.0 125.4h0M250.6 117.7h0M250.5 118.0h0M251.6 116.7h0"/><path stroke="#ff5900" d="M249.8 118.2h0M249.8 118.6h0M249.1 118.8h0M245.1 119.9h0M245.7 119.1h0M245.4 119.6h0M253.6 114.5h0M253.8 115.0h0M235.5 130.1h0M248.8 119.4h0M252.6 116.0h0M247.6 120.9h0M247.6 120.7h0M240.3 124.5h0M237.9 130.1h0M238.0 130.5h0M237.1 130.7h0"/><path stroke="#ff4300" d="M253.8 113.1h0M253.8 113.8h0M239.2 125.4h0M239.7 125.7h0M239.7 125.1h0M252.9 113.6h0M252.1 113.9h0M252.0 113.2h0M245.3 123.9h0M245.8 123.7h0M241.6 126.8h0M242.0 126.7h0M249.4 116.0h0M249.5 116.6h0M250.3 115.1h0M244.6 124.9h0M250.0 117.0h0M250.5 116.1h0M250.7 116.4h0M236.1 128.8h0M236.1 128.2h0M237.0 128.2h0M237.0 128.4h0M249.0 117.6h0M240.9 127.8h0M240.9 127.1h0M240.4 127.6h0M251.0 114.4h0M251.7 114.6h0M249.0 117.8h0M249.8 117.5h0M249.7 117.4h0"/><path stroke="#ff2d00" d="M236.2 130.9h0M236.6 131.0h0M236.2 130.4h0M251.2 115.5h0M251.7 115.4h0M251.2 115.4h0M251.9 115.8h0M246.9 121.8h0M246.1 121.5h0M247.0 118.2h0M241.3 123.4h0M238.7 129.8h0M238.9 129.5h0M252.9 114.8h0M252.7 114.9h0M252.5 114.6h0M252.8 114.4h0M244.2 120.2h0M248.2 118.4h0M248.8 118.8h0M248.7 118.4h0M246.8 119.1h0M246.3 119.2h0M246.4 119.5h0M238.0 126.7h0M247.8 119.2h0M247.2 119.5h0M247.9 119.3h0M242.7 125.6h0M239.9 128.6h0M237.6 127.2h0"/><path stroke="#ff1300" d="M236.0 129.5h0M236.6 129.8h0M237.0 129.2h0M240.1 125.2h0M240.0 125.4h0M246.9 121.0h0M247.0 120.4h0M246.5 120.8h0M246.6 120.2h0M240.4 126.8h0M241.0 126.2h0M240.7 126.0h0M241.3 125.4h0M241.6 125.4h0"/><path stroke="#e40000" d="M237.8 129.3h0M237.5 129.8h0M237.1 129.5h0M245.1 120.4h0M245.4 120.2h0M242.4 122.2h0M243.0 122.7h0M242.2 122.5h0M241.3 124.4h0M241.4 124.8h0M239.1 126.6h0M239.4 126.7h0M243.0 121.2h0M245.7 122.7h0M239.5 127.5h0M239.8 127.3h0M237.6 128.2h0M237.6 128.5h0"/><path stroke="#c40000" d="M243.9 124.9h0M243.1 124.6h0M238.1 128.4h0M238.7 128.4h0M238.7 127.4h0M238.9 127.9h0M238.1 128.0h0M238.1 127.1h0M245.3 121.9h0M245.9 121.4h0M242.1 124.5h0M242.2 124.3h0M242.9 124.9h0"/><path stroke="#a80000" d="M244.7 123.9h0M244.9 123.7h0M242.3 124.0h0M242.0 123.1h0M242.4 123.7h0M244.4 121.2h0M245.0 121.2h0"/><path stroke="#8d0000" d="M243.2 122.2h0M243.0 122.3h0M244.8 122.2h0M244.7 122.8h0M244.1 122.5h0M244.5 122.1h0M243.9 123.2h0M243.5 123.8h0M243.8 123.9h0M243.2 123.7h0"/></g><line x1="216.50" y1="169.80" x2="361.60" y2="7.70" stroke="#3a3a3a" stroke-width="0.8"/><line x1="216.50" y1="146.09" x2="361.60" y2="13.17" stroke="#34a834" stroke-width="1.15" stroke-dasharray="2.5 1.2"/></g><rect x="216.50" y="7.70" width="145.10" height="162.10" fill="none" stroke="#7a7a7a" stroke-width="0.9"/><path d="M216.50 169.80v-1.6M216.50 7.70v1.6M267.02 169.80v-1.6M267.02 7.70v1.6M317.54 169.80v-1.6M317.54 7.70v1.6M216.50 169.80h1.6M361.60 169.80h-1.6M216.50 147.22h1.6M361.60 147.22h-1.6M216.50 124.65h1.6M361.60 124.65h-1.6M216.50 102.07h1.6M361.60 102.07h-1.6M216.50 79.49h1.6M361.60 79.49h-1.6M216.50 56.92h1.6M361.60 56.92h-1.6M216.50 34.34h1.6M361.60 34.34h-1.6M216.50 11.76h1.6M361.60 11.76h-1.6" stroke="#666" stroke-width="0.7" fill="none"/><g font-size="8.4" fill="#222"><text x="216.50" y="178.40" text-anchor="middle">0.000</text><text x="267.02" y="178.40" text-anchor="middle">0.005</text><text x="317.54" y="178.40" text-anchor="middle">0.010</text><text x="214.50" y="172.70" text-anchor="end">0.000</text><text x="214.50" y="150.12" text-anchor="end">0.002</text><text x="214.50" y="127.55" text-anchor="end">0.004</text><text x="214.50" y="104.97" text-anchor="end">0.006</text><text x="214.50" y="82.39" text-anchor="end">0.008</text><text x="214.50" y="59.82" text-anchor="end">0.010</text><text x="214.50" y="37.24" text-anchor="end">0.012</text><text x="214.50" y="14.66" text-anchor="end">0.014</text></g><text x="221.80" y="21.00" font-size="8.5" fill="#222">(b)443nm</text><line x1="290.00" y1="150.50" x2="303.80" y2="150.50" stroke="#3a3a3a" stroke-width="0.8"/><line x1="290.00" y1="159.60" x2="303.80" y2="159.60" stroke="#34a834" stroke-width="1.15" stroke-dasharray="2.5 1.2"/><g font-size="7.4" fill="#222"><text x="309.30" y="153.50" textLength="7.9" lengthAdjust="spacingAndGlyphs">1:1</text><text x="309.30" y="162.70" textLength="45.7" lengthAdjust="spacingAndGlyphs">Y=0.82x+0.0021</text></g><text x="289.05" y="188.90" font-size="8.5" text-anchor="middle" fill="#222">Simulated Rrs (<tspan font-family="DejaVu Sans" font-style="italic">sr</tspan><tspan font-family="DejaVu Sans" font-size="5.9" dy="-3.2">−1</tspan><tspan dy="3.2">)</tspan></text><text transform="translate(192.00 88.75) rotate(-90)" font-size="8.5" text-anchor="middle" fill="#222">Estimated Rrs (<tspan font-family="DejaVu Sans" font-style="italic">sr</tspan><tspan font-family="DejaVu Sans" font-size="5.9" dy="-3.2">−1</tspan><tspan dy="3.2">)</tspan></text><clipPath id="c2"><rect x="397.60" y="7.70" width="145.10" height="162.10"/></clipPath><g clip-path="url(#c2)"><g fill="none" stroke-width="2.10" stroke-linecap="round"><path stroke="#00008d" d="M532.4 41.6h0M463.5 121.2h0M465.7 118.5h0M456.7 127.1h0M496.4 86.4h0M452.4 131.6h0M407.3 166.5h0M494.3 89.2h0M478.4 103.1h0M476.0 107.0h0M458.8 125.3h0M525.1 33.0h0M485.7 98.0h0M471.3 113.1h0M447.1 136.7h0M450.7 130.0h0M448.8 134.7h0M500.2 81.5h0M469.8 114.3h0M441.5 141.4h0M419.0 158.4h0M447.0 135.5h0M491.7 90.4h0M458.3 123.6h0M432.4 148.2h0M470.0 113.2h0M430.4 149.5h0M428.7 150.4h0M484.3 97.0h0M447.0 132.5h0M435.9 144.3h0M528.1 50.4h0M472.8 109.0h0M424.0 154.4h0M487.4 93.0h0M434.4 146.5h0M461.5 118.6h0M504.2 77.8h0M525.0 33.3h0M409.6 163.0h0M470.4 110.6h0M434.6 144.4h0M445.4 131.1h0M432.2 146.8h0M433.9 144.3h0M515.1 64.4h0M416.4 159.9h0M499.5 80.6h0M504.7 76.5h0M413.2 161.7h0M424.7 153.2h0M428.2 148.4h0M502.9 77.4h0M441.8 139.1h0M513.5 65.6h0M440.8 139.5h0M524.4 34.9h0M524.3 34.5h0M444.4 130.1h0M443.9 131.7h0M443.1 131.9h0M506.9 73.8h0M506.2 73.6h0M491.0 88.4h0M442.2 135.6h0M464.9 112.1h0M441.2 138.6h0M412.0 161.3h0M424.7 153.0h0M481.1 97.3h0M419.5 155.8h0M442.9 133.2h0M430.9 145.5h0M462.5 115.6h0M474.1 103.3h0M446.0 129.1h0M421.3 154.0h0M418.5 156.7h0M441.2 137.8h0M465.7 111.1h0M440.4 138.8h0M416.6 158.1h0M442.3 132.2h0M484.0 94.9h0M458.9 120.0h0M450.4 126.4h0M443.0 129.3h0M526.0 37.7h0M526.1 37.4h0M476.2 101.0h0M476.3 101.5h0M448.6 128.0h0M411.4 161.5h0M502.5 76.4h0M441.5 135.3h0M454.9 123.5h0M482.5 95.7h0M441.8 134.0h0M441.5 134.3h0M436.0 139.2h0M524.7 35.6h0M429.3 145.5h0M444.0 128.5h0M481.2 96.2h0M445.5 128.7h0M420.0 154.9h0M464.8 111.4h0M412.2 160.2h0M433.3 140.1h0M505.7 73.4h0M480.1 97.2h0"/><path stroke="#0000a8" d="M447.8 128.3h0M510.9 67.7h0M488.6 89.3h0M446.6 128.7h0M487.1 90.3h0M487.1 90.9h0M404.5 164.2h0M458.3 119.3h0M473.6 103.8h0M441.1 132.4h0M494.5 83.1h0M494.4 83.4h0M452.3 124.5h0M452.9 124.1h0M519.4 58.0h0M462.1 113.3h0M426.8 148.6h0M430.9 143.6h0M522.9 35.2h0M522.7 35.8h0M471.0 107.0h0M477.8 99.1h0M444.4 127.3h0M423.1 151.4h0M423.3 151.8h0M456.1 121.4h0M475.9 101.6h0M484.3 93.8h0M484.7 93.0h0M465.6 110.9h0M489.3 88.2h0M482.5 94.6h0M468.3 109.7h0M468.6 109.2h0M520.6 36.9h0M520.6 36.7h0M460.2 116.5h0M481.8 95.9h0M481.4 95.0h0M434.7 139.6h0M434.0 139.7h0M443.3 127.7h0M443.9 127.1h0M478.8 98.9h0M517.6 39.6h0M450.3 125.6h0M441.7 131.4h0M464.0 111.7h0M491.5 86.4h0M491.6 86.1h0M453.7 123.4h0M472.6 104.7h0M472.6 104.0h0M485.5 92.9h0M427.0 146.3h0M440.4 133.3h0M519.0 39.0h0M429.9 144.4h0M470.1 108.0h0M490.1 87.5h0M499.8 77.4h0M516.1 40.9h0M448.0 128.0h0M448.0 127.0h0M447.2 127.1h0M447.7 128.0h0M454.5 122.1h0M454.1 122.4h0M454.7 122.3h0M404.0 164.6h0M439.5 135.9h0M436.9 138.2h0M461.7 114.7h0M461.5 114.9h0M510.8 45.9h0M480.3 96.6h0M483.7 93.1h0M441.1 130.8h0M441.6 130.2h0M415.5 158.0h0M479.7 97.6h0M501.0 53.8h0M526.1 39.1h0M473.9 103.0h0M448.6 126.3h0M439.2 134.2h0M455.8 121.4h0M399.4 144.5h0M399.9 144.4h0M416.7 156.4h0M473.0 77.6h0M504.5 73.7h0M506.0 70.7h0M430.5 142.1h0M461.5 113.9h0M512.6 43.8h0M471.7 105.8h0M471.6 105.5h0M449.4 125.3h0M462.6 111.3h0M462.9 111.4h0M474.0 101.8h0M475.0 101.5h0M410.0 160.1h0M472.1 103.1h0M439.5 133.3h0M488.6 88.2h0M482.6 93.9h0M457.3 119.1h0M466.8 109.7h0M446.7 127.0h0M456.9 120.3h0M456.3 120.3h0M463.8 110.3h0M408.2 161.8h0M447.9 126.4h0M477.1 98.0h0M477.0 100.0h0M476.2 99.4h0M405.3 163.9h0M485.0 93.0h0M484.4 92.1h0M462.0 112.6h0M493.8 83.7h0M429.8 144.0h0M459.7 116.4h0M437.6 137.9h0M425.6 148.9h0M476.0 100.4h0M475.0 101.0h0M475.5 100.2h0M521.9 36.3h0M515.4 42.0h0M515.0 41.5h0M489.3 87.3h0M496.7 81.3h0M496.1 81.1h0M465.7 109.2h0M492.9 84.2h0M492.7 84.7h0M458.6 117.9h0M427.2 145.1h0M482.1 70.0h0M485.3 91.8h0M485.7 91.1h0M448.6 125.8h0M440.1 131.9h0M527.3 43.5h0M411.3 159.2h0M490.0 86.7h0M490.8 86.1h0M428.8 144.4h0M469.0 108.0h0M468.3 108.4h0M481.9 70.6h0M453.6 122.8h0M483.4 68.9h0M481.9 93.2h0M478.6 97.2h0M478.2 97.1h0M439.0 135.6h0M471.7 104.2h0M471.2 104.9h0M417.3 154.1h0M467.8 82.8h0M467.2 82.6h0M502.2 52.9h0M502.9 52.7h0M462.3 110.3h0M450.7 124.8h0M451.0 124.6h0M419.4 152.7h0M455.5 120.7h0M455.0 120.7h0M455.2 120.8h0M439.7 132.2h0M464.6 109.6h0M464.0 109.5h0M457.7 118.9h0M426.4 146.1h0M470.5 80.8h0M447.3 125.6h0M447.9 125.2h0M507.1 68.0h0M441.4 127.6h0M441.9 127.9h0M460.8 113.1h0M434.5 138.1h0M434.1 138.8h0M442.6 126.9h0M442.9 126.1h0M442.2 126.6h0M438.3 134.5h0M465.2 84.7h0M413.2 157.7h0M413.5 157.6h0M469.5 107.9h0M502.1 74.9h0M479.5 96.3h0M518.8 39.3h0M466.4 83.3h0M460.4 112.5h0M507.1 48.9h0M507.7 48.4h0M457.0 119.8h0M406.8 162.1h0M520.2 37.3h0M432.9 139.3h0M432.7 139.6h0M499.0 55.7h0M499.0 76.5h0M499.9 77.0h0M459.7 115.2h0M459.4 115.6h0M459.9 115.2h0M498.4 77.0h0M449.4 124.5h0M449.1 124.5h0M449.1 124.4h0M464.3 85.3h0M523.5 36.7h0M460.9 111.0h0M480.5 71.4h0M444.3 125.4h0M461.1 110.0h0M469.4 81.4h0M506.3 49.4h0M506.3 49.8h0M506.0 49.9h0M471.1 103.2h0M476.9 98.4h0M515.3 61.0h0M458.6 116.5h0M467.9 108.9h0M467.4 108.3h0M467.2 108.9h0M440.1 130.8h0M440.4 130.4h0M488.2 87.9h0M488.4 87.0h0M471.6 79.3h0M457.0 117.8h0M457.7 117.5h0M501.3 53.5h0M514.8 42.5h0M514.4 42.3h0M431.7 140.4h0M506.6 69.2h0M430.7 141.3h0M474.1 100.2h0M489.6 86.2h0M489.1 87.0h0M526.9 41.9h0M487.6 88.7h0M456.6 118.8h0M447.7 124.2h0M447.5 124.9h0M453.3 121.2h0M459.8 113.4h0M459.5 113.7h0M436.5 137.3h0M516.0 41.6h0M466.4 109.0h0M466.4 108.0h0M414.1 156.9h0M480.4 94.0h0M425.4 147.8h0M425.5 147.6h0M460.2 110.0h0M481.4 92.8h0M481.6 92.3h0M404.6 163.1h0M404.1 163.4h0M470.9 105.8h0M500.6 75.3h0M500.2 75.9h0M500.4 76.0h0M500.2 75.0h0M497.2 56.9h0M451.7 124.0h0M451.7 123.2h0M512.3 63.9h0M437.2 136.7h0M443.9 125.1h0M443.5 125.5h0M407.1 161.8h0M487.4 65.8h0M524.2 52.8h0M508.7 67.8h0M508.2 67.8h0M496.0 81.9h0M418.3 152.2h0M418.8 152.9h0M418.0 153.5h0M440.2 129.2h0M440.6 129.5h0M428.3 143.7h0M399.4 155.2h0M472.4 78.3h0M411.8 158.1h0M411.5 158.4h0M458.8 90.9h0M458.3 90.5h0M462.6 109.9h0M510.7 46.1h0M446.3 124.8h0M446.5 124.2h0M446.1 124.1h0M486.8 89.3h0M459.4 111.2h0M459.0 111.8h0M457.6 116.9h0M458.9 115.4h0M511.7 45.5h0M511.0 45.0h0M525.7 38.5h0M525.1 38.1h0M505.8 50.9h0M505.1 50.6h0M471.2 102.0h0M455.1 118.5h0M455.7 118.7h0M485.2 67.7h0M485.8 67.2h0M427.8 144.5h0M439.5 131.8h0M490.1 85.7h0M426.4 145.1h0M416.7 154.8h0M416.5 154.4h0M432.4 138.3h0M432.5 138.9h0M472.9 101.7h0M415.9 155.4h0M415.3 155.3h0M513.4 43.8h0M493.5 82.0h0M493.8 82.1h0M468.0 107.5h0M483.7 91.7h0M453.2 120.2h0M512.7 44.9h0M478.0 96.1h0M458.8 114.4h0M496.3 57.6h0M479.6 72.1h0M440.7 128.3h0M492.3 83.0h0M458.9 114.0h0M496.1 80.7h0M419.7 151.6h0M419.3 151.0h0M488.4 86.7h0M471.0 104.2h0M492.8 61.5h0M492.7 61.3h0M476.9 74.5h0M477.0 74.2h0M413.7 156.2h0M413.6 156.9h0M497.5 78.3h0M461.8 109.3h0M461.5 109.7h0M455.5 117.7h0M488.8 64.2h0M469.1 106.8h0M469.8 106.5h0M445.6 124.9h0M459.9 110.5h0M459.2 110.4h0M457.4 115.2h0M458.0 115.4h0M458.3 112.9h0M450.5 124.0h0M509.5 47.8h0M470.5 81.8h0M470.0 81.9h0M518.2 40.4h0M437.3 135.1h0M463.8 87.0h0M452.5 95.4h0M435.5 137.3h0M480.7 92.6h0M482.6 91.2h0M482.8 91.8h0M399.8 143.3h0M500.1 54.5h0M500.5 54.3h0M527.4 45.7h0M468.0 82.4h0M468.8 82.2h0M473.7 100.5h0M474.1 76.8h0M459.1 89.9h0M437.9 133.3h0M519.8 39.5h0M519.3 39.6h0M453.8 120.0h0M453.5 119.8h0M460.7 109.1h0M408.8 160.7h0M408.6 161.0h0M408.5 160.2h0M524.5 37.0h0M487.6 87.5h0M476.0 98.2h0M484.1 68.9h0M521.7 37.9h0M433.7 137.3h0M431.6 139.3h0M431.5 139.7h0M471.3 80.0h0M422.0 149.0h0M457.0 115.7h0M425.5 146.7h0M454.9 117.5h0M526.5 42.0h0M457.2 113.9h0M457.7 113.4h0M504.6 51.1h0M491.0 62.8h0M491.9 62.1h0M491.3 62.7h0M515.7 42.3h0M493.9 60.8h0M493.6 60.1h0M493.2 60.5h0M483.2 69.9h0M498.3 76.3h0M458.7 111.9h0M458.9 111.1h0M520.6 38.5h0M520.1 38.3h0M517.4 41.7h0M518.0 41.1h0M503.7 53.0h0M503.8 52.2h0M495.0 81.5h0M420.1 150.8h0M446.3 123.6h0M463.9 108.6h0M477.7 96.0h0M453.5 118.5h0M454.0 118.6h0M508.1 48.4h0M508.9 48.0h0M444.6 124.6h0M444.6 124.3h0M466.7 107.7h0M414.4 155.3h0M429.1 141.6h0M429.5 142.0h0M494.7 59.5h0M417.6 152.4h0M417.9 152.9h0M461.7 87.4h0M461.5 87.9h0M507.2 49.5h0M454.3 116.4h0M455.0 116.9h0M502.9 53.5h0M405.6 163.0h0M405.2 162.5h0M471.4 101.6h0M471.9 101.4h0M456.2 114.7h0M484.6 90.1h0M484.3 90.2h0M479.5 93.2h0M488.9 85.5h0M525.4 39.9h0M525.6 39.7h0M455.5 115.7h0M457.2 112.3h0M457.6 112.4h0M453.9 117.3h0M453.0 117.2h0M451.8 122.8h0M418.1 151.0h0M430.3 140.4h0M430.7 140.3h0M452.9 120.8h0M465.2 85.5h0M465.6 85.6h0M412.6 156.4h0M411.5 157.3h0M437.8 132.4h0M437.2 132.3h0M437.2 132.8h0M439.8 130.4h0M439.1 130.6h0M467.2 83.7h0M467.7 83.6h0M478.9 95.6h0M469.0 105.2h0M469.6 105.0h0M448.6 122.8h0M415.9 154.8h0M415.4 154.9h0M453.7 116.9h0M423.0 148.7h0M424.0 148.7h0M423.7 148.2h0M431.7 138.4h0M466.0 107.7h0M452.1 119.2h0"/><path stroke="#0000c8" d="M456.2 113.8h0M460.4 88.6h0M462.7 108.4h0M468.6 106.5h0M478.8 73.4h0M478.2 73.1h0M472.2 79.2h0M473.0 79.6h0M473.0 79.3h0M438.7 131.3h0M486.7 89.0h0M424.2 147.5h0M424.2 148.0h0M424.8 147.4h0M487.1 66.5h0M486.8 67.7h0M486.7 67.9h0M473.0 100.6h0M443.7 103.1h0M410.7 158.6h0M471.5 81.3h0M481.4 71.9h0M519.5 40.5h0M454.6 115.2h0M475.6 97.3h0M476.7 96.5h0M476.9 96.8h0M476.2 96.3h0M452.1 117.3h0M509.8 66.5h0M452.9 118.2h0M444.7 102.2h0M445.5 124.0h0M445.8 123.5h0M496.7 80.0h0M483.5 90.5h0M504.9 71.5h0M455.8 114.1h0M455.3 115.0h0M479.7 92.3h0M479.2 92.0h0M449.6 122.0h0M449.6 122.3h0M514.0 61.8h0M514.5 61.3h0M514.6 61.9h0M421.7 149.9h0M446.9 122.8h0M443.6 124.0h0M514.2 43.3h0M514.8 43.1h0M462.0 108.0h0M453.7 116.0h0M485.2 90.0h0M518.8 41.1h0M518.1 41.9h0M451.0 122.0h0M450.3 122.4h0M519.1 56.6h0M519.0 56.1h0M442.3 104.6h0M516.3 42.1h0M490.9 84.7h0M522.6 37.1h0M456.1 105.1h0M456.8 105.4h0M419.8 150.4h0M460.1 108.2h0M464.7 86.3h0M495.0 80.3h0M473.2 78.6h0M473.5 78.2h0M425.2 145.5h0M425.8 145.5h0M413.7 155.7h0M406.1 161.6h0M523.7 38.0h0M523.3 37.3h0M482.8 90.7h0M512.2 62.1h0M512.4 62.8h0M526.7 43.6h0M526.7 43.2h0M520.6 39.5h0M503.7 72.8h0M510.1 65.2h0M510.9 65.1h0M510.9 65.3h0M451.0 121.4h0M451.5 121.9h0M451.7 121.1h0M399.4 142.8h0M399.6 142.1h0M400.0 142.4h0M457.9 103.4h0M464.4 107.5h0M470.4 101.6h0M445.2 101.7h0M498.6 57.0h0M454.7 114.7h0M457.0 112.6h0M457.1 106.3h0M457.9 106.4h0M473.7 99.7h0M458.4 105.0h0M436.0 135.1h0M436.7 135.7h0M456.5 106.5h0M481.2 90.8h0M481.9 90.8h0M490.3 63.0h0M474.8 98.7h0M474.5 98.3h0M474.2 98.1h0M436.1 133.2h0M486.2 85.0h0M486.4 85.6h0M436.8 134.9h0M436.1 134.4h0M513.3 44.9h0M400.4 163.8h0M453.2 114.8h0M453.1 114.7h0M501.1 54.2h0M501.9 54.9h0M491.2 84.0h0M491.3 83.7h0M518.6 57.5h0M456.9 92.1h0M456.7 92.2h0M456.4 92.4h0M451.2 118.8h0M451.0 118.3h0M451.7 118.4h0M519.3 41.0h0M519.7 41.3h0M435.5 136.0h0M436.0 136.3h0M435.4 137.0h0M488.5 65.1h0M488.2 65.1h0M488.1 65.4h0M478.1 94.6h0M478.7 94.6h0M478.6 94.1h0M478.4 94.5h0M472.0 80.3h0M512.9 45.5h0M451.6 120.7h0M480.0 91.5h0M480.0 91.2h0M478.0 95.5h0M451.4 119.9h0M474.7 77.6h0M452.7 114.8h0M447.3 121.9h0M480.5 72.5h0M480.7 72.8h0M481.0 72.0h0M510.7 47.7h0M446.9 100.6h0M446.8 100.5h0M431.7 137.1h0M451.3 115.6h0M441.0 125.7h0M435.0 136.2h0M434.0 136.8h0M434.2 136.2h0M516.0 59.3h0M486.9 87.3h0M486.1 87.2h0M468.2 105.3h0M468.5 105.8h0M471.7 82.4h0M517.2 59.0h0M505.6 70.0h0M505.1 69.1h0M520.3 40.6h0M486.2 84.3h0M497.1 57.4h0M497.7 57.2h0M472.3 81.4h0M472.8 81.7h0M430.9 139.8h0M430.3 139.7h0M480.8 90.2h0M525.1 50.2h0M442.3 124.8h0M458.5 106.5h0M458.6 106.8h0M448.7 121.3h0M448.0 121.0h0M448.3 121.5h0M521.5 38.5h0M471.3 100.6h0M458.1 108.1h0M458.8 108.6h0M475.1 97.0h0M446.3 121.0h0M459.2 90.6h0M423.0 149.0h0M422.2 148.5h0M520.4 41.7h0M517.3 42.3h0M432.8 136.2h0M432.8 136.6h0M432.7 136.7h0M445.3 122.3h0M454.2 113.9h0M454.5 113.5h0M508.0 50.1h0M507.7 50.6h0M444.1 123.4h0M488.5 85.0h0M488.5 84.5h0M452.8 113.8h0M420.9 149.9h0M451.0 116.8h0M457.0 103.8h0M477.4 75.0h0M477.9 74.2h0M468.8 104.0h0M468.0 104.3h0M457.5 110.6h0M463.8 107.6h0M497.1 76.4h0M424.5 146.4h0M508.1 49.3h0M508.6 49.5h0M484.3 69.7h0M484.9 70.0h0M441.4 105.1h0M450.0 117.1h0M468.5 103.2h0M468.4 103.7h0M458.7 107.9h0M458.1 107.4h0M505.7 51.1h0M505.0 51.2h0M400.3 143.2h0M496.8 78.8h0M496.9 78.5h0M496.3 78.4h0M449.1 121.6h0M438.6 107.6h0M407.0 160.1h0M407.6 160.9h0M407.8 160.3h0M455.6 107.0h0M510.0 48.2h0M494.8 80.8h0M489.1 64.8h0M496.0 58.4h0M496.8 58.1h0M496.5 58.6h0M496.9 58.8h0M463.0 87.7h0M414.7 155.0h0M414.4 154.0h0M465.1 106.6h0M522.9 53.6h0M439.8 128.8h0M524.9 38.1h0M524.8 38.4h0M525.0 41.3h0M473.3 79.3h0M473.6 79.6h0M498.2 75.2h0M459.1 107.2h0M459.1 107.5h0M472.6 82.5h0M416.3 152.7h0M451.2 114.4h0M451.9 114.1h0M488.0 67.2h0M487.2 67.5h0M455.3 112.6h0M477.0 95.8h0M519.2 42.2h0M453.1 95.4h0M453.2 95.0h0M506.5 67.1h0M469.7 101.4h0M469.7 101.1h0M474.0 81.4h0M475.3 76.0h0M518.8 42.9h0M439.5 127.8h0M457.0 102.6h0M438.0 131.5h0M437.2 131.3h0M418.2 150.3h0M418.6 150.2h0M484.0 89.8h0M468.1 102.6h0M473.7 80.5h0M473.2 80.3h0M456.9 111.3h0M452.4 112.7h0M450.9 115.2h0M450.0 115.0h0M450.3 115.9h0M458.6 102.6h0M458.8 102.8h0M458.2 102.5h0M483.8 70.8h0M460.6 107.7h0M460.0 107.5h0M453.3 112.0h0M453.2 112.9h0M479.4 90.6h0M455.9 104.8h0M450.6 119.6h0M450.5 119.0h0M485.8 83.0h0M485.5 83.5h0M501.2 73.0h0M501.1 74.0h0M457.2 109.1h0M457.6 109.9h0M526.9 44.7h0M526.3 44.3h0M455.4 107.8h0M504.5 52.2h0M504.7 52.9h0M504.8 52.3h0M462.5 107.9h0M474.0 97.3h0M459.9 106.7h0M441.3 124.2h0M474.5 78.5h0M439.9 126.3h0M439.1 126.7h0M466.7 105.4h0M485.8 85.2h0M415.9 153.8h0M475.2 80.3h0M474.3 81.3h0M476.9 75.7h0M476.1 75.2h0M460.0 104.5h0M459.9 104.2h0M411.9 156.5h0M411.4 156.2h0M468.2 83.0h0M468.8 83.8h0M461.7 107.1h0M428.0 142.9h0M492.7 81.8h0M492.2 81.3h0M454.2 113.0h0M454.6 112.0h0M435.0 135.1h0M478.9 92.8h0M468.0 104.9h0M488.3 66.0h0M449.8 116.9h0M474.1 79.2h0M474.5 79.8h0M495.3 59.2h0M495.5 59.5h0M451.3 113.3h0M445.3 121.6h0M502.3 54.1h0M502.7 54.0h0M404.0 162.7h0M508.8 66.1h0M473.9 82.0h0M521.1 41.8h0M484.2 83.4h0M491.2 63.7h0M491.9 63.5h0M484.5 84.6h0M493.8 80.7h0M494.4 60.1h0M514.6 44.3h0M514.2 44.1h0M514.5 44.6h0M470.9 100.9h0M470.5 100.4h0M438.7 131.0h0M479.7 73.2h0M495.9 79.5h0M495.4 79.9h0M493.7 62.3h0M500.1 55.7h0M500.0 55.4h0M500.4 55.5h0M520.3 43.5h0M475.7 79.7h0M475.1 79.0h0M446.2 120.3h0M446.0 121.0h0M449.1 120.2h0M450.0 120.4h0M521.8 39.2h0M485.4 88.6h0M485.2 88.8h0M450.4 97.3h0M465.6 86.3h0M454.2 94.1h0M456.9 108.5h0M456.5 108.0h0M513.2 61.4h0M513.5 61.8h0M477.7 94.1h0M473.0 98.6h0M473.4 98.6h0M505.0 70.7h0M504.3 70.0h0M504.2 71.0h0M459.4 103.9h0M435.5 134.5h0M457.1 92.5h0M457.6 92.0h0M499.5 74.4h0M496.4 77.2h0M496.6 77.2h0M408.8 159.0h0M455.4 93.5h0M421.4 149.0h0M483.4 89.9h0M430.7 138.6h0M475.8 81.9h0M475.1 81.0h0M449.8 115.3h0M478.8 91.3h0M475.1 95.4h0M439.6 125.6h0M452.3 96.1h0M452.1 96.7h0M464.6 106.9h0M410.8 157.5h0M482.4 89.0h0M443.5 123.0h0M448.8 116.7h0M448.9 116.2h0M435.0 133.8h0M435.9 133.9h0M456.7 102.2h0M481.3 89.5h0M481.9 89.4h0M481.4 89.0h0M401.3 163.2h0M401.0 163.1h0M460.6 89.6h0M482.2 71.3h0M482.7 71.2h0M450.6 114.4h0M519.1 43.1h0M505.1 68.9h0M505.7 68.5h0M449.6 118.3h0M449.3 118.7h0M492.6 63.2h0M463.6 87.5h0M525.8 42.2h0M525.5 42.3h0M426.9 143.4h0M426.3 143.4h0M468.4 101.8h0M468.9 101.5h0M491.8 82.9h0M455.8 108.6h0M449.6 119.5h0M451.8 112.4h0M451.5 112.7h0M447.9 116.2h0M447.7 116.3h0M471.6 83.9h0M517.5 43.0h0M401.9 139.8h0M444.7 122.5h0M433.9 135.3h0M426.0 144.5h0M447.9 115.3h0M447.1 115.6h0M455.9 103.9h0M419.1 149.5h0M419.9 149.9h0M460.9 106.9h0M455.8 111.8h0M452.4 111.4h0M456.9 110.0h0M488.1 68.0h0M480.1 89.8h0M467.2 102.0h0M467.3 102.8h0M485.1 69.7h0M485.4 69.3h0M471.2 99.8h0M471.2 99.2h0M471.8 99.7h0M513.8 46.0h0M513.2 45.1h0M465.3 105.8h0M465.6 105.1h0M475.7 78.9h0M454.5 106.1h0M522.6 39.0h0M522.6 38.1h0M409.6 158.2h0M409.6 158.3h0M474.4 96.0h0M458.4 101.8h0M526.3 48.6h0M459.4 103.0h0M472.3 83.2h0M470.7 83.8h0M456.3 110.0h0M456.1 109.2h0M518.1 43.6h0M518.5 43.7h0M485.0 86.9h0M485.4 87.0h0M518.9 48.9h0M475.1 77.9h0M475.4 77.2h0M454.6 107.6h0M454.8 105.2h0M454.3 111.8h0M454.4 111.4h0M455.0 111.7h0M457.3 101.5h0M440.5 106.1h0M440.6 106.7h0M484.7 82.1h0M484.3 82.8h0M516.7 44.0h0M516.6 44.5h0M446.9 116.3h0M521.7 44.1h0M487.6 68.6h0M487.1 68.8h0M512.8 46.6h0M512.1 46.4h0M512.9 46.1h0M449.4 98.7h0M445.3 120.4h0M519.6 49.0h0M519.3 48.7h0M470.0 100.3h0M469.3 100.0h0M517.9 48.1h0M517.2 48.7h0M459.3 92.0h0M518.7 47.6h0M518.1 47.4h0M502.9 72.3h0M502.3 72.9h0M520.2 44.8h0M521.0 44.7h0M492.9 81.0h0M492.5 80.5h0M492.8 80.1h0M511.7 47.6h0M511.4 47.6h0M503.4 72.0h0M509.4 52.5h0M466.5 103.6h0M424.8 145.7h0M519.3 47.9h0M509.6 49.3h0M484.5 85.1h0M448.1 119.6h0M494.2 79.9h0M494.3 79.9h0M479.8 89.6h0M524.6 39.4h0M499.2 56.9h0M499.8 56.8h0M483.7 84.6h0M520.5 47.3h0M443.6 109.9h0M447.8 119.0h0M447.2 119.1h0M447.7 119.7h0M437.2 108.7h0M522.0 45.6h0M460.4 105.9h0M460.6 105.0h0M460.2 105.2h0M446.4 115.5h0M523.3 38.6h0M523.5 38.1h0M523.8 38.3h0M517.6 49.0h0M516.5 45.6h0M448.0 117.1h0M446.8 119.4h0M508.7 52.6h0M461.0 89.0h0M461.2 88.4h0M461.5 88.6h0M449.8 104.8h0M516.5 46.4h0M463.0 106.8h0M463.8 106.4h0M463.9 106.7h0M463.5 106.4h0M485.7 88.0h0M485.3 87.4h0M458.5 92.1h0M458.6 92.5h0M454.8 108.3h0M520.6 46.7h0M454.9 104.5h0M509.3 51.8h0M509.8 51.7h0M489.5 65.8h0M422.9 147.8h0M422.4 147.3h0M461.5 106.5h0M450.9 103.8h0M450.6 103.7h0M448.2 118.4h0M448.8 118.4h0M440.0 124.8h0M476.0 81.4h0M443.7 104.5h0M518.0 44.7h0M510.8 48.4h0M510.7 48.0h0M477.7 93.5h0M495.7 78.9h0M495.3 78.1h0M434.8 134.8h0M516.8 47.6h0M516.4 47.2h0M476.1 78.3h0M476.4 78.5h0M464.8 87.9h0M515.8 45.5h0M455.9 109.4h0M435.5 132.9h0M435.6 132.7h0M484.8 70.9h0M468.0 101.3h0M444.7 103.6h0M444.5 103.1h0M500.9 73.6h0M504.9 53.1h0M504.3 53.8h0M518.4 46.7h0M486.8 82.2h0M486.0 82.9h0M486.7 82.0h0M520.1 46.0h0M521.0 45.4h0M522.7 42.2h0M493.5 64.9h0M510.8 64.3h0M510.4 64.0h0M455.2 110.2h0M456.0 110.5h0M444.7 110.0h0M444.7 109.3h0M520.0 44.1h0M519.7 44.7h0M450.2 113.8h0M494.9 64.0h0M494.8 63.0h0M514.9 45.5h0M492.9 75.1h0M448.5 99.4h0M448.0 99.3h0M498.4 57.4h0M509.3 51.0h0M509.6 50.2h0M509.1 50.6h0M473.7 83.7h0M405.5 161.6h0M405.6 161.2h0M526.8 45.1h0M447.6 118.1h0M508.6 58.8h0M443.2 108.1h0M507.7 59.3h0M517.8 50.7h0M451.0 103.5h0M522.7 43.5h0M522.4 43.4h0M442.9 123.8h0M442.1 123.6h0M519.8 47.0h0M519.2 46.3h0M519.2 46.5h0M488.9 68.8h0M488.3 68.2h0M497.8 59.0h0M459.1 101.3h0M505.8 67.2h0M505.7 67.7h0M466.0 104.1h0M465.8 104.7h0M473.3 97.9h0M473.2 97.2h0M510.9 54.0h0M510.7 53.8h0M510.7 53.2h0M509.5 54.5h0M509.1 54.1h0M442.1 105.5h0M486.8 69.8h0M486.7 69.1h0M423.4 146.9h0M423.9 146.9h0M518.3 44.7h0M466.1 102.9h0M519.4 49.6h0M453.6 110.3h0M490.8 64.9h0M490.7 64.3h0M488.4 83.3h0M468.5 100.2h0M470.9 99.5h0M454.4 111.0h0M454.8 110.8h0M475.9 82.8h0M449.1 103.3h0M455.8 102.1h0M456.0 102.9h0M432.6 135.6h0M432.8 135.5h0M446.3 118.1h0M489.7 66.3h0M455.2 99.6h0M525.0 43.2h0M525.6 43.7h0M510.9 54.7h0M510.1 54.4h0M429.3 139.9h0M429.1 139.1h0M489.7 83.5h0M454.6 109.0h0M478.0 74.7h0M522.8 42.0h0M522.6 41.9h0M494.4 61.1h0M494.1 61.6h0M522.7 44.3h0M474.1 95.4h0M518.4 50.9h0M492.0 79.4h0M448.8 114.0h0M448.0 114.0h0M518.9 45.1h0M518.5 45.8h0M508.5 53.3h0M493.1 74.5h0M420.7 148.8h0M456.1 99.6h0M458.7 100.4h0M516.0 46.1h0M486.0 81.3h0M452.0 104.3h0M451.9 111.4h0M520.8 48.7h0M521.7 47.6h0M524.9 40.4h0M524.0 40.2h0M428.3 140.6h0M519.2 45.5h0M507.1 58.4h0M507.7 58.8h0M454.0 104.0h0M519.8 55.2h0M501.8 55.7h0M501.4 55.9h0M501.1 55.3h0M464.7 105.2h0M464.4 106.0h0M516.9 49.6h0M516.3 49.2h0M493.6 76.0h0M493.2 76.8h0M493.1 76.3h0M494.9 62.2h0M494.3 62.8h0M477.2 80.1h0M477.2 80.5h0M510.2 52.1h0M456.5 100.3h0M456.8 100.6h0M456.5 101.0h0M456.9 100.2h0M506.0 66.1h0M505.5 52.2h0M475.1 94.7h0M457.3 99.7h0M457.6 100.0h0M509.5 55.4h0M509.2 55.3h0M508.8 57.4h0M508.4 58.0h0M476.2 76.2h0M476.6 76.6h0M476.3 76.3h0M476.2 76.6h0M509.0 58.3h0M509.6 58.8h0M522.1 39.5h0M489.3 68.7h0M489.7 68.2h0M509.1 59.5h0M452.5 103.6h0M452.6 103.0h0M455.2 100.2h0M507.7 60.0h0M510.6 55.5h0M510.9 55.2h0M457.1 98.9h0M504.9 70.0h0M504.7 69.6h0M507.7 52.3h0M494.5 78.4h0M442.0 123.8h0M441.4 123.4h0M516.1 50.3h0M516.9 51.0h0M522.6 40.6h0M522.5 40.2h0M493.3 78.8h0M493.9 78.2h0M493.5 78.8h0M492.7 77.5h0M485.0 81.7h0M484.2 81.2h0M465.4 103.6h0M477.4 79.0h0M477.3 78.0h0M460.5 103.4h0M491.4 81.0h0M491.1 80.0h0M515.3 47.1h0M515.0 47.2h0M499.0 74.3h0M498.4 74.3h0M483.6 82.7h0M483.1 82.2h0M438.6 129.9h0M438.8 129.9h0M453.8 105.0h0M445.4 116.4h0M445.1 116.2h0M471.9 98.8h0M506.4 59.7h0M506.1 59.3h0M492.5 64.9h0M493.0 64.5h0M492.3 64.5h0M455.7 101.0h0M455.2 101.2h0M456.0 101.3h0M434.8 133.5h0M494.8 75.4h0M509.7 57.8h0M504.4 54.6h0M469.7 99.7h0M440.8 123.6h0M482.4 84.8h0M466.0 98.7h0M466.2 98.2h0M442.8 110.8h0M491.6 79.2h0M491.7 79.7h0M491.2 79.3h0M506.6 60.2h0M506.7 60.9h0M508.0 60.0h0M509.0 60.0h0M467.0 101.5h0M509.7 56.2h0M509.4 56.9h0M399.6 153.9h0M399.4 153.4h0M508.1 54.5h0M493.3 77.9h0M452.7 104.3h0M444.2 107.4h0M509.5 65.7h0M476.2 78.0h0M461.7 105.7h0M485.4 70.4h0M453.2 105.9h0M453.8 105.3h0M522.6 46.9h0M524.7 42.0h0M524.3 41.1h0M495.4 76.7h0M513.1 46.1h0M513.5 46.9h0M517.3 51.2h0M494.8 76.4h0M480.8 73.3h0M480.8 73.5h0M491.4 78.4h0M453.0 103.1h0M453.6 104.0h0M465.0 98.8h0M443.8 122.5h0M443.2 122.4h0M480.7 88.1h0M480.9 88.2h0M480.5 88.6h0M400.0 162.8h0M400.4 162.3h0M487.2 69.5h0M487.9 69.2h0M487.7 70.0h0M446.8 101.7h0M446.0 101.2h0M446.2 101.5h0M516.5 51.1h0M460.4 90.5h0M460.8 90.1h0M452.1 102.5h0M452.7 102.2h0M445.7 117.2h0M467.8 100.0h0M491.2 76.7h0M491.6 76.9h0M454.7 102.7h0M454.4 102.2h0M454.6 102.9h0M453.8 109.5h0M453.9 109.5h0M447.0 100.0h0M481.6 88.7h0M465.6 87.3h0M458.7 99.1h0M468.8 99.3h0M517.6 57.1h0M491.9 77.6h0M486.2 81.2h0M477.4 91.5h0M494.0 77.3h0M508.2 56.7h0M508.6 57.0h0M494.7 65.8h0M459.2 100.8h0M459.4 100.2h0M460.5 94.9h0M461.0 94.9h0M433.5 134.9h0M433.9 134.7h0M454.9 101.7h0M427.1 141.2h0M466.2 86.4h0M466.9 86.0h0M417.3 150.9h0M417.5 150.5h0M484.5 86.7h0M484.3 86.1h0M445.3 118.1h0M466.4 99.5h0M467.6 98.6h0M474.4 83.8h0M493.5 65.3h0M438.3 126.4h0M507.9 57.4h0M473.5 96.9h0M473.3 96.3h0M508.4 56.0h0M491.7 75.4h0M450.6 112.5h0M465.7 97.7h0M460.2 102.6h0M460.8 102.4h0M453.2 102.2h0M483.5 71.2h0M483.2 71.7h0M482.1 83.7h0M482.5 83.5h0M479.1 88.5h0M437.5 131.0h0M453.5 106.8h0M453.8 106.1h0M454.3 95.8h0M483.8 88.8h0M483.5 88.6h0M483.0 88.3h0M460.8 96.6h0M492.0 64.8h0M467.2 97.7h0M467.9 97.1h0M496.4 76.0h0M496.7 75.4h0M466.8 100.8h0M466.3 100.8h0M466.2 100.4h0M510.6 51.5h0M495.5 60.9h0M495.4 60.2h0M487.9 82.9h0M487.3 82.7h0M450.1 102.4h0M453.8 101.8h0M490.7 82.5h0M458.0 97.5h0M457.7 98.0h0M445.3 108.4h0M494.4 74.4h0M456.8 93.7h0M456.5 93.7h0M456.3 94.0h0M446.5 114.6h0M514.8 60.6h0M400.0 161.8h0M510.4 56.2h0M510.2 56.7h0M510.9 56.3h0M460.0 93.1h0M467.6 96.3h0M445.7 115.5h0M503.8 65.9h0M503.5 65.1h0M448.4 103.6h0M502.6 55.7h0M502.7 55.1h0M464.8 98.1h0M464.9 98.4h0M449.1 105.8h0M504.5 65.8h0M463.5 105.5h0M461.4 96.4h0M439.9 107.9h0M439.3 107.3h0M439.7 107.1h0M506.1 58.5h0M507.0 58.9h0M506.4 58.1h0M512.5 47.6h0M453.2 107.5h0M448.9 105.6h0M444.1 120.9h0M444.3 120.1h0M504.7 66.7h0M416.8 151.4h0M468.9 95.4h0M468.3 95.3h0M507.0 52.5h0M506.5 52.2h0M465.7 102.4h0M477.0 93.9h0M476.9 93.1h0M459.5 96.7h0M460.0 96.1h0M509.4 60.4h0M524.9 42.0h0M451.2 97.4h0M510.7 49.2h0M523.9 39.2h0M523.2 39.6h0M491.0 78.2h0M464.7 104.5h0M470.1 98.6h0M470.9 98.0h0M477.5 81.6h0M461.9 95.5h0M476.4 82.3h0M476.9 82.7h0M462.5 105.8h0M495.9 75.7h0M495.5 75.3h0M465.6 99.5h0M467.6 96.0h0M521.5 53.3h0M516.2 52.5h0M516.9 52.5h0M495.9 63.1h0M495.0 63.8h0M525.7 44.7h0M468.2 84.5h0M486.2 70.5h0M519.3 50.3h0M474.7 94.3h0M474.1 94.8h0M458.4 97.7h0M458.6 97.2h0M406.6 160.6h0M490.2 66.4h0M490.1 66.9h0M523.0 43.1h0M438.4 124.9h0M466.7 96.9h0M467.0 96.4h0M503.4 55.1h0M503.5 55.8h0M477.4 90.7h0M477.9 90.6h0M460.0 101.4h0M523.7 41.6h0M441.5 106.9h0M485.0 80.4h0M453.0 101.6h0M512.1 54.2h0M469.0 97.0h0M468.0 96.5h0M501.8 72.3h0M501.2 72.4h0M402.0 157.2h0M481.1 84.3h0M481.8 84.3h0M511.6 48.8h0M511.8 48.4h0M511.2 49.0h0M450.7 105.3h0M463.4 97.2h0M438.8 127.3h0M438.8 127.7h0M484.1 87.2h0M484.7 87.2h0M484.6 87.8h0M449.2 113.5h0M449.1 113.0h0M449.7 114.0h0M469.3 94.3h0M507.1 56.8h0M467.1 85.3h0M467.9 85.0h0M471.0 84.3h0M523.5 45.0h0M523.5 44.6h0M523.2 44.1h0M421.2 147.6h0M421.8 147.3h0M507.5 53.1h0M507.3 53.6h0M503.9 70.1h0M440.8 113.5h0M488.5 69.5h0M514.9 47.7h0M504.6 64.8h0M490.0 65.2h0M490.3 65.8h0M490.8 66.0h0M526.6 47.0h0M526.7 46.5h0M469.5 98.9h0M504.0 68.4h0M515.9 59.5h0M510.5 50.8h0M510.3 50.1h0M454.5 97.4h0M454.6 97.7h0M490.7 77.6h0M503.6 63.8h0M505.0 67.1h0M504.1 67.4h0M504.4 67.8h0M490.6 80.9h0M490.2 80.3h0M505.3 61.8h0M505.6 61.3h0M447.6 104.5h0M465.3 91.0h0M515.9 49.5h0M515.9 49.3h0M518.9 51.4h0M402.1 142.1h0M523.0 40.4h0M462.7 97.3h0M438.1 128.2h0M461.5 104.9h0M459.6 99.4h0M458.9 96.7h0M463.1 98.2h0M500.4 56.4h0M400.2 141.7h0M497.2 59.4h0M459.2 97.5h0M477.1 77.7h0M442.6 108.9h0M515.5 52.1h0M524.1 43.3h0M524.7 43.6h0M524.1 43.5h0M524.7 43.4h0M481.3 85.5h0M481.8 85.0h0M481.6 85.8h0M451.2 105.6h0M451.8 105.8h0M451.8 105.4h0M510.2 57.0h0M489.8 79.2h0M486.7 80.3h0M441.5 112.2h0M478.7 88.7h0M505.9 53.3h0M462.1 88.0h0M461.1 97.4h0M461.5 97.8h0M470.1 94.2h0M470.0 94.9h0M507.4 55.3h0M507.7 55.8h0M465.9 101.3h0M465.2 101.8h0M457.7 93.9h0M457.9 93.5h0M471.6 97.7h0M471.5 97.4h0M490.6 81.8h0M490.1 81.5h0M490.7 81.4h0M506.4 62.0h0M498.2 58.9h0M467.9 94.7h0M480.6 84.2h0M442.2 112.0h0M465.7 100.1h0M507.5 54.2h0M460.2 91.3h0M460.1 91.7h0M465.8 91.5h0M465.1 91.7h0M460.3 97.9h0M460.2 97.2h0M511.8 52.4h0M511.5 52.9h0M511.5 52.1h0M487.6 81.8h0M487.1 81.6h0M435.1 131.5h0M454.1 96.2h0M454.7 96.6h0M483.2 87.0h0M483.0 86.0h0M512.2 55.2h0M512.4 55.3h0M480.3 87.1h0M514.0 47.2h0M513.3 47.9h0M464.2 90.2h0M504.5 63.6h0M445.4 109.1h0M504.6 62.6h0M491.5 74.2h0M459.3 98.1h0M465.1 89.4h0M466.0 89.0h0M414.9 153.5h0M414.1 153.2h0M520.8 49.8h0M520.3 49.3h0M520.4 50.0h0M515.4 51.4h0M464.3 88.9h0M504.7 60.9h0M504.8 60.6h0M523.1 45.5h0M464.9 91.6h0M470.8 84.4h0M464.0 99.6h0M455.1 94.1h0M455.3 94.2h0M510.5 63.2h0M464.4 103.4h0M465.2 88.7h0M465.0 88.2h0M461.3 94.4h0M479.5 88.0h0M479.7 87.7h0M479.1 74.9h0M479.0 74.0h0M479.4 74.5h0M469.2 96.7h0M449.3 102.9h0M453.8 99.5h0M453.1 99.8h0M453.3 99.2h0M503.7 62.3h0M513.5 54.1h0M489.8 78.2h0M489.6 78.8h0M484.2 80.0h0M469.6 97.1h0M469.4 97.6h0M512.6 53.3h0M484.3 71.6h0M460.4 100.7h0M460.3 100.5h0M488.9 82.9h0M480.2 86.1h0M480.5 86.8h0M470.1 95.7h0M470.6 95.8h0M475.5 83.2h0M475.1 83.7h0M475.6 83.4h0M460.4 93.0h0M460.8 92.8h0M505.4 55.0h0M506.1 56.2h0M506.8 56.3h0M458.8 94.9h0M458.7 94.1h0M472.8 96.5h0M495.7 62.6h0M495.8 62.7h0M481.1 87.2h0M482.0 87.7h0M502.4 71.2h0M502.9 71.3h0M502.1 64.7h0M502.6 64.9h0M495.6 65.3h0M499.5 57.4h0M499.1 57.2h0M465.3 96.9h0M465.0 96.7h0M517.1 52.5h0M451.2 101.4h0M451.9 101.1h0M511.8 56.5h0M511.9 56.2h0M473.5 94.8h0M473.4 94.5h0M490.0 80.1h0M491.2 67.2h0M490.0 82.5h0M490.0 82.4h0M489.5 82.8h0M481.2 83.2h0M479.8 86.9h0M510.2 58.4h0M510.4 58.6h0M514.4 53.5h0M514.5 53.9h0M471.5 94.7h0M487.4 80.0h0M497.4 74.8h0M510.3 60.2h0M466.9 95.5h0M453.4 97.1h0M514.0 54.5h0M491.4 66.4h0M491.1 66.6h0M442.1 122.6h0M491.5 65.7h0M436.3 109.4h0M463.7 105.0h0M470.6 93.9h0M470.7 93.2h0M514.4 49.0h0M514.9 48.5h0M478.8 79.3h0M481.1 86.0h0M477.4 89.4h0M462.1 98.0h0M462.5 99.0h0M462.9 98.4h0M464.0 88.0h0M463.1 88.3h0M463.2 88.9h0M442.1 106.5h0M483.1 87.1h0M483.9 87.9h0M444.2 119.8h0M444.4 119.1h0M482.1 86.4h0M482.5 86.6h0M482.3 86.2h0M502.2 63.7h0M502.8 63.8h0M443.4 121.0h0M443.1 121.6h0M477.8 76.7h0M477.1 76.9h0M477.7 76.4h0M506.1 55.2h0M506.7 55.5h0M469.1 84.1h0M469.9 84.2h0M466.9 90.7h0M475.5 93.9h0M475.8 93.4h0M475.1 93.0h0M469.1 93.0h0M461.8 89.4h0M482.0 72.1h0M482.3 72.3h0M483.8 81.8h0M483.7 81.4h0M482.2 87.9h0M495.1 74.8h0M495.3 74.2h0M504.0 62.0h0M496.0 61.1h0M495.8 62.0h0M495.6 61.8h0M502.6 65.7h0M473.1 84.1h0M473.6 84.2h0M524.4 44.3h0M516.6 53.0h0M494.6 73.4h0M494.4 73.5h0M494.1 73.8h0M470.8 97.0h0M470.3 96.7h0M470.0 96.1h0M443.6 106.8h0M461.8 103.6h0M461.6 103.5h0M461.1 103.6h0M510.5 62.0h0M510.2 61.2h0M445.0 106.9h0M444.7 106.6h0M479.5 84.2h0M466.5 87.2h0M452.5 97.0h0M485.1 71.7h0M488.8 79.0h0M488.8 79.6h0M493.8 66.9h0M493.6 66.0h0M506.8 53.5h0M506.1 53.2h0M400.1 154.7h0M400.3 154.1h0M496.9 60.3h0M462.7 104.3h0M462.9 104.4h0M472.8 94.8h0M472.4 94.0h0M505.3 58.9h0M505.7 58.1h0M399.4 152.8h0M471.9 95.7h0M471.1 95.8h0M468.2 93.2h0M472.0 96.9h0M471.6 96.3h0M472.0 96.7h0M492.0 66.5h0M476.8 92.4h0M513.3 53.4h0M466.8 89.8h0M463.4 96.5h0M505.1 56.6h0M448.2 113.8h0M427.0 142.3h0M426.1 142.7h0M426.8 142.6h0M506.9 54.9h0M506.0 54.3h0M506.5 54.4h0M505.5 62.7h0M505.9 62.2h0M492.5 73.5h0M456.1 97.0h0M456.8 96.8h0M456.8 96.3h0M456.3 96.7h0M455.5 96.3h0M455.9 96.9h0M455.2 96.9h0M478.0 82.2h0M466.5 91.9h0M466.7 91.2h0M460.2 98.8h0M498.4 59.6h0M482.3 82.9h0M453.8 98.2h0M453.6 98.1h0M444.4 104.5h0M445.1 103.1h0M445.5 103.7h0M445.5 103.5h0M460.3 99.2h0M510.8 62.1h0M510.9 62.9h0M510.6 62.9h0M488.4 81.2h0M463.4 99.8h0M515.5 54.7h0M450.9 111.1h0M450.0 111.9h0M502.9 62.8h0M442.8 107.9h0M452.2 110.0h0M452.8 109.4h0M503.7 67.7h0M464.9 102.1h0M461.2 98.3h0M461.7 98.9h0M500.1 72.2h0M500.4 72.2h0M489.3 81.5h0M489.6 81.8h0M467.7 93.8h0M467.5 93.0h0M489.9 77.6h0M489.9 77.1h0M489.7 77.8h0M513.2 55.6h0M513.6 55.0h0M464.1 96.7h0M464.5 96.1h0M478.7 87.0h0M472.0 93.3h0M461.2 102.8h0M478.3 80.5h0M490.9 75.1h0M490.9 75.9h0M466.1 88.3h0M446.7 106.9h0M462.7 95.7h0M506.0 57.7h0M498.5 60.3h0M498.5 61.0h0M504.1 60.0h0M422.4 146.3h0M422.1 146.7h0M450.8 98.1h0M450.1 98.8h0M450.5 98.0h0M441.4 122.7h0M478.2 75.9h0M478.3 75.4h0M464.4 100.9h0M464.8 100.3h0M497.0 74.9h0M511.1 51.4h0M452.1 107.0h0M452.8 106.1h0M446.1 102.2h0M446.9 102.6h0M419.4 148.2h0M502.7 66.4h0M499.7 69.2h0M474.6 93.6h0M514.2 52.5h0M514.7 52.9h0M486.6 72.0h0M446.3 105.1h0M513.8 48.4h0M466.9 94.1h0M498.0 69.7h0M443.1 111.5h0M465.5 92.6h0M465.9 92.7h0M449.4 99.6h0M407.6 159.7h0M438.9 114.5h0M481.6 73.3h0M504.7 56.5h0M487.9 79.6h0M444.9 118.9h0M444.3 118.5h0M473.1 93.6h0M502.3 61.0h0M502.5 61.9h0M502.1 62.0h0M505.4 64.1h0M509.1 61.1h0M450.6 101.1h0M450.2 101.9h0M478.8 86.3h0M478.2 86.5h0M514.9 49.4h0M499.9 60.5h0M499.4 61.0h0M463.5 103.6h0M463.0 103.8h0M464.9 101.7h0M446.0 107.9h0M447.0 107.3h0M462.2 99.3h0M496.5 63.5h0M496.4 64.0h0M441.8 109.3h0M441.8 109.5h0M461.9 100.6h0M461.7 100.0h0M501.3 56.5h0M499.2 61.5h0M522.5 52.1h0M488.6 78.6h0M461.6 99.6h0M461.0 99.3h0M461.0 99.8h0M476.8 83.4h0M498.3 61.9h0M506.8 65.6h0M479.0 85.4h0M485.8 79.3h0M503.4 68.5h0M444.5 117.3h0M438.3 123.6h0M438.8 123.5h0M438.6 123.8h0M464.3 92.6h0M464.2 92.3h0M464.2 92.2h0M461.5 92.0h0M461.6 92.6h0M448.1 102.3h0M448.1 102.9h0M478.9 81.7h0M478.0 81.0h0M446.8 104.1h0M446.6 104.7h0M457.4 95.5h0M447.9 106.7h0M505.1 63.3h0M455.2 95.4h0M455.8 95.1h0M455.8 95.3h0M466.7 93.6h0M519.8 51.2h0M519.2 51.1h0M498.3 73.8h0M498.9 73.6h0M512.9 52.6h0"/><path stroke="#0000e3" d="M444.6 116.6h0M474.3 84.7h0M476.7 92.0h0M476.0 91.1h0M437.8 125.3h0M511.3 50.6h0M511.1 50.2h0M461.3 90.4h0M411.3 155.8h0M411.8 155.7h0M525.8 45.9h0M467.7 86.6h0M498.8 70.0h0M477.8 88.9h0M438.4 108.5h0M438.2 108.8h0M499.1 59.8h0M499.4 59.2h0M500.0 59.3h0M508.1 65.6h0M401.2 142.6h0M401.5 143.0h0M401.0 142.4h0M425.0 144.4h0M501.9 62.6h0M501.3 62.5h0M410.7 157.0h0M410.9 156.7h0M491.9 68.8h0M457.6 94.8h0M499.7 70.5h0M492.9 67.6h0M478.6 84.4h0M403.3 138.6h0M403.7 138.3h0M449.4 112.3h0M449.5 112.7h0M480.2 74.4h0M423.3 145.2h0M446.5 103.3h0M497.2 61.6h0M497.1 61.4h0M461.9 91.0h0M461.1 91.9h0M444.7 105.9h0M444.6 105.7h0M511.5 60.3h0M511.8 60.7h0M478.8 76.3h0M501.1 61.8h0M448.2 101.0h0M449.0 100.4h0M448.4 100.1h0M467.0 92.8h0M467.4 93.0h0M464.0 89.0h0M464.0 89.3h0M502.7 70.3h0M502.9 70.8h0M429.9 138.2h0M513.0 56.2h0M440.7 107.5h0M478.8 82.2h0M504.0 56.3h0M441.1 113.2h0M441.3 113.8h0M498.0 70.3h0M431.6 135.1h0M462.5 91.5h0M500.7 60.4h0M502.6 67.3h0M502.1 67.3h0M502.5 60.9h0M502.8 60.6h0M478.9 83.9h0M478.2 83.3h0M463.8 100.2h0M488.6 70.1h0M501.6 63.5h0M501.8 72.0h0M501.6 71.5h0M514.9 51.7h0M518.1 53.0h0M518.7 52.2h0M518.2 52.4h0M518.9 55.5h0M518.8 55.1h0M517.5 56.6h0M447.6 101.9h0M447.7 101.1h0M524.6 45.8h0M456.8 94.1h0M443.6 120.4h0M467.7 90.4h0M437.9 126.7h0M439.3 114.9h0M439.8 114.4h0M465.9 95.3h0M465.2 95.3h0M502.9 56.6h0M502.5 56.4h0M513.8 52.9h0M462.8 100.8h0M514.8 50.2h0M514.4 50.4h0M514.7 50.6h0M439.8 123.0h0M467.6 91.4h0M467.8 91.9h0M467.1 91.9h0M472.5 92.5h0M445.1 105.8h0M445.3 105.3h0M445.5 105.4h0M499.8 68.2h0M499.7 68.8h0M477.9 83.2h0M477.5 83.6h0M477.2 83.1h0M463.9 102.2h0M463.3 102.7h0M506.8 62.5h0M500.9 57.4h0M445.1 110.1h0M484.9 80.0h0M468.7 85.0h0M500.9 62.2h0M500.7 68.5h0M500.7 70.4h0M469.7 92.8h0M462.2 102.9h0M462.9 102.8h0M462.7 102.1h0M504.3 58.6h0M442.0 107.4h0M441.3 107.3h0M441.9 107.0h0M501.3 60.4h0M483.1 72.4h0M483.1 72.8h0M468.9 92.8h0M468.3 92.8h0M495.8 66.9h0M495.3 66.1h0M503.4 59.9h0M462.5 94.9h0M447.6 102.2h0M447.6 102.9h0M519.8 54.6h0M519.5 54.1h0M462.5 89.3h0M462.0 89.0h0M462.9 89.5h0M446.1 108.8h0M446.0 108.6h0M446.4 108.9h0M446.7 108.2h0M517.5 53.8h0M448.4 106.3h0M512.5 49.2h0M502.4 69.6h0M502.8 69.3h0M452.6 107.1h0M452.9 107.4h0M445.1 104.7h0M445.6 104.1h0M452.6 108.3h0M456.6 95.4h0M502.9 68.2h0M502.7 68.4h0M437.9 129.2h0M501.1 69.2h0M462.4 101.1h0M462.0 101.7h0M404.5 137.8h0M444.9 115.2h0M499.7 62.4h0M499.8 62.1h0M462.8 90.1h0M462.3 90.5h0M434.9 131.6h0M434.1 131.7h0M497.2 62.5h0M497.8 62.8h0M497.8 62.1h0M479.2 75.4h0M479.8 75.2h0M507.4 66.0h0M452.9 99.6h0M464.0 101.8h0M463.1 101.5h0M463.6 101.2h0M504.6 57.6h0M504.2 57.8h0M505.0 57.6h0M476.4 90.9h0M477.0 90.0h0M513.1 49.4h0M513.4 49.7h0M496.8 69.5h0M501.5 68.7h0M501.9 68.6h0M500.8 71.0h0M500.1 71.9h0M500.3 71.9h0M498.9 62.6h0M498.2 62.4h0M475.8 92.7h0M501.8 64.3h0M520.9 51.0h0M490.0 69.3h0M490.5 70.0h0M491.0 69.6h0M449.7 101.2h0M449.4 102.0h0M487.5 71.5h0M500.7 59.8h0M408.9 158.4h0M483.4 80.4h0M490.4 74.1h0M490.8 74.9h0M490.1 74.6h0M515.0 55.1h0M515.7 55.0h0M501.8 70.3h0M501.1 70.7h0M501.1 70.2h0M462.6 93.1h0M499.0 71.5h0M499.1 71.2h0M442.2 122.0h0M481.6 82.9h0M494.6 72.7h0M516.8 57.4h0M516.5 57.9h0M516.8 57.8h0M493.2 67.1h0M520.9 53.4h0M409.0 158.0h0M409.6 157.5h0M467.9 88.7h0M441.9 108.2h0M441.0 108.6h0M475.2 84.4h0M478.0 87.7h0M477.6 87.7h0M478.0 87.9h0M477.1 87.8h0M465.8 93.1h0M467.2 87.4h0M467.4 87.1h0M479.6 82.5h0M471.6 85.0h0M488.3 77.8h0M451.4 106.4h0M444.1 111.3h0M440.5 110.0h0M440.7 110.5h0M512.3 60.3h0M452.9 98.2h0M452.0 98.3h0M452.6 98.8h0M484.2 72.8h0M484.5 72.1h0M463.5 95.5h0M463.3 95.5h0M401.2 140.3h0M401.9 140.4h0M473.3 92.8h0M473.1 92.3h0M479.4 76.8h0M479.8 76.3h0M479.1 76.9h0M512.5 51.4h0M512.8 51.9h0M500.2 58.4h0M500.7 58.3h0M496.3 65.6h0M496.6 65.3h0M477.6 84.5h0M477.9 84.3h0M501.1 67.9h0M471.0 85.8h0M495.8 72.7h0M495.5 73.0h0M498.5 72.0h0M498.5 71.2h0M502.6 59.6h0M402.5 162.0h0M497.0 73.2h0M497.8 73.8h0M485.2 72.3h0M497.8 68.6h0M497.2 68.4h0M501.2 65.4h0M501.4 65.1h0M501.7 60.0h0M502.0 59.7h0M435.0 130.7h0M435.4 130.5h0M420.1 147.8h0M420.1 147.7h0M477.7 86.9h0M496.0 71.1h0M496.3 71.9h0M477.9 85.2h0M448.2 101.9h0M465.2 94.5h0M465.3 94.3h0M480.4 82.8h0M509.3 64.6h0M510.0 64.1h0M512.2 50.8h0M512.2 50.1h0M512.7 50.5h0M497.1 71.3h0M498.0 71.0h0M469.7 85.2h0M469.4 85.0h0M449.2 100.7h0M494.3 67.7h0M494.2 67.8h0M501.5 66.8h0M501.9 66.3h0M451.1 99.0h0M497.9 63.8h0M437.4 124.6h0M474.9 92.8h0M474.2 92.5h0M513.0 56.5h0M477.0 84.0h0M498.1 72.3h0M498.6 73.0h0M450.9 100.5h0M464.6 96.0h0M513.5 51.7h0M513.7 51.9h0M513.9 51.6h0M495.7 71.5h0M401.9 162.5h0M476.4 89.7h0M501.7 57.6h0M489.3 75.9h0M489.7 75.0h0M480.2 75.2h0M471.4 91.9h0M501.0 63.1h0M500.0 63.7h0M513.3 50.5h0M495.6 70.6h0M437.3 127.5h0M437.2 127.6h0M433.5 132.5h0M433.3 132.5h0M481.6 74.1h0M481.9 74.7h0M481.3 74.4h0M482.5 73.4h0M503.0 58.6h0M503.3 58.6h0M428.2 139.9h0M428.4 139.6h0M438.5 112.2h0M482.4 81.6h0M503.5 58.0h0M503.1 57.8h0M503.5 57.7h0M470.3 91.6h0M450.3 99.5h0M450.2 99.9h0M511.1 59.7h0M512.0 59.6h0M496.9 68.1h0M496.2 68.6h0M511.5 58.9h0M511.3 58.8h0M516.6 55.4h0M516.1 55.7h0M468.1 90.8h0M468.2 90.6h0M501.9 58.6h0M501.2 58.4h0M463.2 93.4h0M463.6 93.4h0M496.1 72.8h0M496.7 72.6h0M445.6 113.9h0M445.3 114.0h0M515.6 58.5h0M495.4 69.9h0M446.0 109.9h0M443.7 119.4h0M470.0 91.0h0M469.1 92.0h0M469.8 91.9h0M469.0 89.6h0M468.7 90.0h0M506.1 65.0h0M506.6 64.7h0M506.7 64.2h0M518.0 54.3h0M517.2 54.3h0M489.1 70.3h0M517.4 55.3h0M517.7 55.5h0M517.2 55.9h0M495.0 67.0h0M492.3 68.1h0M492.5 68.3h0M468.8 86.2h0M468.1 86.6h0M468.1 86.1h0M441.7 121.9h0M473.2 85.9h0M473.2 85.1h0M502.5 57.5h0M502.1 58.0h0M502.4 57.0h0M486.8 78.8h0M487.0 78.3h0M486.4 78.9h0M486.3 78.4h0M447.7 107.9h0M447.8 107.3h0M447.4 107.1h0M509.9 62.2h0M509.9 62.7h0M451.8 100.0h0M451.9 99.6h0M451.1 99.3h0M444.8 114.1h0M444.2 114.9h0M444.4 114.5h0M507.4 62.8h0M507.6 62.1h0M437.7 128.4h0M437.6 128.0h0M497.5 72.2h0M497.8 72.9h0M412.5 154.6h0M412.4 154.8h0M412.9 154.4h0M516.8 56.5h0M516.2 57.0h0M479.9 81.9h0M450.9 110.6h0M488.8 77.0h0M488.7 76.3h0M518.1 53.8h0M518.6 53.8h0M514.1 56.1h0M514.0 56.5h0M521.7 49.3h0M475.9 91.9h0M475.2 91.3h0M434.6 130.9h0M468.7 88.8h0M495.1 68.6h0M496.0 68.2h0M495.7 68.2h0M486.0 78.4h0M480.7 76.2h0M498.0 63.2h0M435.8 110.1h0M435.7 110.1h0M435.4 110.5h0M443.7 112.9h0M443.1 112.5h0M463.7 94.0h0M463.3 94.1h0M434.9 128.3h0M479.0 79.6h0M518.7 54.6h0M521.6 52.8h0M477.0 88.6h0M476.1 88.6h0M525.7 48.3h0M488.1 71.5h0M488.7 71.0h0M476.7 85.6h0M519.8 53.5h0M520.0 53.1h0M519.7 53.2h0M519.7 53.7h0M404.4 140.5h0M436.6 126.5h0M515.6 56.6h0M497.2 64.2h0M469.2 90.8h0M469.6 90.2h0M494.1 71.9h0M494.9 71.5h0M496.7 67.3h0M445.1 111.5h0M522.3 48.2h0M439.2 108.2h0M474.2 85.4h0M514.6 59.9h0M525.4 46.3h0M525.8 46.6h0M464.1 95.0h0M464.3 94.4h0M464.4 94.9h0M434.8 130.0h0M442.7 113.5h0M442.3 113.2h0M470.5 90.5h0M470.6 90.8h0M512.2 57.6h0M512.2 57.9h0M512.4 58.0h0M512.7 57.1h0M484.9 78.0h0M484.3 78.4h0M479.7 80.2h0M479.1 80.7h0M479.9 80.7h0M434.3 127.7h0M434.2 127.3h0M434.2 127.8h0M469.9 86.9h0M523.9 47.5h0M440.4 108.3h0M487.6 77.4h0M494.7 68.7h0M521.0 52.7h0M520.7 52.4h0M524.0 46.3h0M524.0 46.9h0M440.1 109.4h0M440.9 109.0h0M436.9 129.9h0M436.5 129.6h0M475.8 85.4h0M492.2 72.3h0M493.0 72.8h0M492.3 73.0h0M440.0 121.7h0M440.5 121.7h0M483.4 73.7h0M470.9 86.7h0M500.3 64.1h0M500.3 64.7h0M490.9 73.3h0M490.3 73.2h0M490.6 74.0h0M433.5 128.3h0M493.3 68.6h0M493.7 68.3h0M487.4 72.2h0M442.5 120.1h0M442.1 120.9h0M498.6 67.6h0M498.9 67.9h0M471.7 90.5h0M498.0 67.3h0M497.5 67.6h0M437.7 109.6h0M437.1 109.3h0M476.4 86.5h0M473.6 91.7h0M508.4 62.3h0M508.8 62.5h0M476.9 87.8h0M447.0 112.9h0M448.0 112.2h0M433.6 129.3h0M433.1 129.9h0M432.3 133.7h0M489.2 74.3h0M509.4 63.2h0M444.0 112.4h0M401.6 141.3h0M401.3 141.8h0M401.0 141.6h0M469.4 87.4h0M469.4 87.8h0M482.5 74.1h0M471.2 86.0h0M471.1 86.4h0M446.2 112.1h0M446.4 112.9h0M480.5 77.2h0M470.3 89.9h0M443.2 118.9h0M443.3 118.3h0M435.9 129.2h0M435.3 129.2h0M500.2 66.8h0M500.6 66.7h0M446.0 112.9h0M445.1 112.9h0M433.5 131.9h0M515.9 57.8h0M515.6 57.1h0M436.6 125.9h0M436.2 126.0h0M474.0 91.8h0M446.7 110.0h0M444.5 113.5h0M475.8 90.5h0M436.5 127.0h0M436.1 127.7h0M494.1 70.9h0M494.7 70.3h0M451.5 107.1h0M494.7 69.6h0M489.0 75.0h0M485.3 73.1h0M470.6 88.3h0M470.2 88.5h0M470.2 88.2h0M470.1 87.7h0M471.0 87.7h0M500.6 65.7h0M481.9 76.2h0M481.5 76.5h0M433.5 130.8h0M497.2 65.1h0M497.5 65.0h0M435.6 128.8h0M435.3 128.1h0M481.7 81.6h0M481.1 81.8h0M421.7 146.0h0M435.6 126.8h0M435.9 126.0h0M435.4 126.5h0M481.0 81.2h0M480.7 81.6h0M480.1 82.0h0M472.5 90.3h0M472.7 90.8h0M471.5 89.8h0M471.7 89.1h0M402.5 141.6h0M402.9 141.5h0M482.2 80.2h0M482.5 80.9h0M443.4 113.4h0M525.2 47.1h0M525.9 47.4h0M525.4 47.8h0M472.3 86.2h0M472.3 86.4h0M472.5 86.6h0M507.9 64.7h0M507.6 65.0h0M486.7 73.4h0M497.1 66.2h0M497.7 66.3h0M438.5 122.9h0M401.2 161.2h0M401.7 161.1h0M401.4 161.4h0M401.1 161.6h0M443.6 117.6h0M487.1 76.3h0M436.4 128.8h0M436.6 128.7h0M486.4 77.3h0M448.9 107.2h0M498.3 64.1h0M498.7 64.9h0M498.9 64.3h0M482.9 75.4h0M488.9 72.1h0M488.2 72.6h0M451.8 108.2h0M451.6 108.8h0M489.6 71.2h0M508.1 64.1h0M499.5 64.4h0M446.4 111.1h0M491.7 72.2h0M491.5 72.9h0M475.9 86.0h0M475.2 86.6h0M475.1 86.1h0M475.7 86.8h0M439.6 110.5h0M439.4 111.0h0M403.1 161.5h0M512.9 59.9h0M471.5 87.1h0M475.9 89.3h0M507.4 63.8h0M507.4 63.6h0M443.9 114.5h0M489.5 73.9h0M483.5 74.5h0M483.9 74.9h0M471.4 88.4h0M448.0 111.3h0M449.0 111.1h0M499.6 66.1h0M417.6 150.0h0M417.8 149.6h0M480.2 78.3h0M488.3 74.4h0M488.1 74.6h0M485.5 77.5h0M487.2 73.2h0M405.3 139.7h0M474.0 86.3h0M492.6 69.4h0M512.7 58.9h0M426.1 141.9h0M426.6 141.6h0M493.6 69.9h0M493.5 69.5h0M524.3 49.4h0M498.1 67.0h0M498.8 66.4h0M498.3 66.6h0M449.6 110.7h0M473.2 90.6h0M473.6 90.6h0M474.6 86.0h0M407.5 138.1h0M489.5 73.0h0M482.5 76.8h0M482.6 76.5h0M488.2 73.1h0M489.0 73.4h0M488.9 74.0h0M490.5 72.6h0M521.7 52.0h0M521.4 51.7h0M475.4 89.0h0M475.9 88.2h0M513.4 59.7h0M513.8 59.6h0M481.1 77.9h0M474.4 91.0h0M474.8 90.0h0M474.7 90.5h0M438.3 115.6h0M438.1 115.2h0M487.5 75.6h0M487.9 76.0h0M475.6 87.6h0M439.1 109.5h0M439.9 109.9h0M522.3 51.2h0M523.0 51.5h0M442.3 114.6h0M443.0 114.3h0M431.8 135.0h0M514.7 58.2h0M514.3 58.0h0M447.6 111.9h0M447.4 111.1h0M441.1 120.3h0M441.8 120.5h0M473.0 89.5h0M472.1 89.3h0M484.7 74.1h0M484.7 74.4h0M508.5 64.0h0M508.4 63.2h0M508.8 63.5h0M447.0 109.1h0M437.3 123.8h0M499.2 65.6h0M499.8 65.2h0M450.6 107.7h0M450.7 107.2h0M438.8 109.6h0M498.4 65.4h0M483.6 77.4h0M483.1 77.1h0M483.9 77.3h0M442.7 119.4h0M483.0 79.6h0M482.0 79.0h0M449.4 107.3h0M449.8 107.1h0M487.6 74.1h0M524.5 47.4h0M524.9 47.0h0M451.0 109.3h0M450.5 109.2h0M450.2 109.8h0M404.7 138.0h0M485.3 74.1h0M485.3 74.6h0M483.1 75.4h0M418.8 148.6h0M403.8 139.8h0M403.7 139.3h0M403.4 139.1h0M400.8 153.6h0M400.7 153.9h0M400.3 153.7h0M438.9 111.5h0M438.0 111.2h0M486.5 76.1h0M486.2 76.7h0M402.1 140.1h0M402.1 140.3h0M472.5 87.7h0M486.3 74.0h0M486.8 74.8h0M486.5 74.9h0M482.8 77.8h0M434.6 126.8h0M447.4 110.0h0M447.8 110.6h0M447.6 110.7h0M490.9 71.0h0M490.9 71.7h0M490.2 71.8h0M403.4 140.1h0M403.4 140.5h0M403.7 140.4h0M413.4 153.9h0M480.7 79.6h0M480.6 79.5h0M483.7 76.2h0M472.6 88.6h0M482.7 78.1h0M482.9 78.9h0M405.5 136.8h0M432.3 133.0h0M432.4 132.6h0M491.7 70.5h0M491.4 70.9h0M486.9 75.5h0M486.5 75.2h0M481.5 80.4h0M481.6 80.5h0M481.0 80.2h0M492.1 71.5h0M492.8 71.9h0M485.5 76.2h0M474.9 89.7h0M474.3 89.5h0M484.1 76.8h0M484.4 76.1h0M402.6 161.5h0M513.7 58.8h0M513.3 58.1h0M513.8 59.0h0M484.5 75.3h0M484.5 75.8h0M484.5 75.5h0M448.8 110.7h0M473.4 89.2h0M437.6 112.7h0M437.4 112.3h0M437.2 112.1h0M522.5 49.0h0M431.8 121.7h0M474.9 87.2h0M474.0 87.6h0M481.1 78.6h0M481.9 78.0h0M486.0 75.6h0M473.7 87.1h0M473.1 87.8h0M404.5 139.6h0M404.6 139.3h0M524.0 48.7h0M524.5 48.5h0M422.9 146.0h0M491.6 71.9h0M436.3 110.6h0M448.3 108.3h0M474.0 88.3h0M474.1 88.8h0M492.8 70.5h0M492.8 70.5h0M492.4 70.1h0M492.1 70.9h0M436.4 113.9h0M415.4 152.0h0M415.5 151.9h0M473.8 88.4h0M450.9 108.0h0M450.2 108.4h0M481.0 79.0h0M432.6 129.8h0M432.8 129.3h0M432.6 129.7h0M436.7 125.0h0M448.1 109.1h0M448.5 109.0h0M448.6 109.8h0M435.6 125.9h0M434.4 111.6h0M449.6 109.9h0M438.5 110.2h0M438.0 111.0h0M432.1 130.7h0M433.0 131.2h0M442.8 115.4h0M442.2 115.1h0M522.5 50.0h0M522.5 50.5h0M522.8 50.6h0M425.1 142.7h0M425.4 142.8h0M425.8 142.3h0M401.9 148.6h0M440.5 120.8h0M441.0 120.6h0M449.4 108.9h0M449.2 108.7h0M449.7 108.4h0M443.0 118.1h0M442.5 118.9h0M523.9 49.2h0M524.0 49.9h0M523.2 49.0h0M523.1 49.8h0M415.0 152.4h0M402.1 160.9h0M402.9 160.8h0M423.8 144.8h0M423.8 144.0h0M423.1 144.6h0M437.2 110.7h0M437.0 110.2h0M437.4 110.4h0M406.2 138.8h0M406.8 138.2h0M424.3 143.6h0M405.1 138.8h0M405.9 138.2h0M405.5 138.1h0M402.4 159.7h0M402.5 159.8h0M434.0 119.3h0M440.7 115.1h0M440.1 115.3h0M405.7 137.7h0M441.6 119.9h0M441.9 119.8h0M435.9 117.3h0M431.0 135.1h0M441.7 115.1h0M435.0 114.6h0M442.1 116.1h0M442.5 116.9h0M437.8 111.3h0M442.7 117.2h0"/><path stroke="#0000ff" d="M431.5 133.6h0M428.2 138.3h0M430.2 122.9h0M403.7 160.6h0M437.3 116.7h0M437.1 116.5h0M401.3 153.7h0M401.4 153.8h0M436.2 112.4h0M436.1 111.0h0M436.9 111.0h0M427.1 139.3h0M439.2 120.1h0M403.0 156.9h0M402.3 157.3h0M402.7 157.7h0M405.1 159.3h0M431.7 132.5h0M441.3 116.2h0M441.9 116.8h0M441.5 116.5h0M435.9 113.2h0M435.4 113.4h0M400.3 152.0h0M402.4 153.1h0M432.3 121.9h0M438.4 117.0h0M435.2 112.3h0M435.5 112.5h0M407.3 137.3h0M406.7 137.8h0M406.3 137.5h0M441.4 117.8h0M441.1 117.2h0M441.8 117.5h0M429.6 136.9h0M429.3 136.3h0M409.2 136.7h0M434.4 115.2h0M434.3 115.8h0M431.1 131.6h0M431.5 131.8h0M429.7 123.4h0M403.4 159.8h0M403.3 159.4h0M440.2 116.2h0M440.2 116.3h0M440.3 116.2h0M440.3 116.8h0M430.5 134.1h0M430.7 134.6h0M439.2 116.8h0M439.4 116.2h0M433.4 120.9h0M433.4 120.4h0M431.0 130.7h0M431.3 130.6h0M434.5 112.4h0M404.9 159.8h0M404.3 159.5h0M404.1 159.2h0M435.3 118.6h0M435.5 118.3h0M406.4 136.2h0M406.1 136.7h0M434.3 119.2h0M434.4 119.6h0M440.5 118.8h0M418.1 147.7h0M433.9 112.1h0M433.0 112.5h0M431.9 129.7h0M440.0 119.2h0M439.3 119.6h0M439.9 119.8h0M438.3 120.9h0M438.2 120.5h0M440.9 117.9h0M437.4 117.5h0M437.2 117.7h0M433.5 125.3h0M437.2 121.7h0M438.0 121.4h0M437.5 121.7h0"/><path stroke="#000dff" d="M428.9 124.2h0M401.9 149.8h0M401.1 153.0h0M401.3 152.5h0M428.1 137.1h0M422.8 144.9h0M412.2 134.0h0M434.1 114.9h0M435.0 114.1h0M439.9 117.5h0M432.2 126.6h0M434.2 113.1h0M434.7 113.0h0M434.7 113.9h0M438.7 117.2h0M439.0 117.3h0M430.3 133.2h0M430.2 123.1h0M408.4 136.7h0M439.4 118.6h0M439.9 118.5h0M439.1 118.1h0M403.9 158.7h0M403.1 158.9h0M407.3 157.7h0M407.1 157.7h0M435.6 123.4h0M432.5 122.3h0M414.1 151.0h0M410.4 135.7h0M436.1 118.1h0M436.8 118.5h0M407.2 136.0h0M407.8 136.7h0M407.2 136.9h0M402.9 152.7h0M402.2 152.9h0M429.9 135.1h0M429.4 135.4h0M429.8 135.9h0M438.2 119.6h0M408.0 156.9h0M408.5 156.2h0M408.9 156.1h0M438.0 119.0h0M438.2 118.0h0M406.0 158.7h0M405.3 158.9h0M435.2 119.6h0M437.8 120.1h0M437.3 118.6h0M437.1 118.3h0M437.3 118.0h0M434.3 120.5h0M434.2 120.4h0M410.4 154.7h0M431.0 123.1h0M431.3 123.3h0M426.1 139.7h0M426.5 139.0h0M404.0 147.6h0M403.8 147.8h0M433.5 124.8h0M430.5 132.9h0M430.6 132.2h0M401.8 151.7h0M401.2 151.6h0M401.6 150.6h0M401.1 150.9h0M401.7 150.9h0M404.5 158.7h0M407.6 134.2h0M407.7 134.5h0M405.4 145.6h0M437.6 119.6h0M432.3 125.3h0M407.1 135.6h0M407.7 135.8h0M407.9 135.3h0M434.3 123.8h0M434.6 123.5h0M413.0 133.5h0M403.2 156.7h0M403.6 156.6h0M426.4 126.2h0"/><path stroke="#0024ff" d="M429.6 124.2h0M436.2 119.2h0M436.4 119.8h0M436.8 119.3h0M435.9 122.6h0M435.7 122.6h0M433.3 113.0h0M433.7 113.8h0M433.3 122.1h0M433.4 122.8h0M432.0 123.0h0M425.5 140.7h0M433.7 123.8h0M433.1 123.9h0M433.5 123.1h0M433.6 123.6h0M411.4 153.8h0M411.5 153.4h0M436.8 120.9h0M436.6 120.2h0M433.8 115.6h0M409.2 136.0h0M409.6 135.8h0M430.1 131.3h0M435.4 120.0h0M435.8 120.7h0M434.2 121.5h0M434.6 121.2h0M428.6 136.6h0M432.5 124.6h0M432.8 124.6h0M432.7 124.3h0M417.1 147.5h0M417.6 147.9h0M429.8 134.7h0M429.7 134.6h0M406.2 157.7h0M434.2 122.0h0M434.2 122.9h0M434.3 122.6h0M434.5 122.2h0M436.0 121.6h0M435.9 121.4h0M435.5 121.3h0M435.2 122.0h0M411.7 134.4h0M409.0 135.3h0M408.5 136.0h0M431.2 114.0h0M431.5 113.9h0M402.3 151.2h0M402.0 151.6h0M418.7 146.2h0M418.6 146.7h0M428.3 125.0h0M429.0 125.4h0M434.0 114.5h0M430.3 124.2h0M431.6 126.6h0M431.8 126.9h0M421.5 144.5h0M431.4 124.0h0M431.0 124.1h0M432.1 113.9h0M433.0 113.7h0M432.3 113.2h0M414.9 136.7h0M403.7 151.9h0M415.9 149.7h0M415.4 149.4h0M424.8 141.1h0M410.0 131.6h0M425.9 127.4h0M402.6 149.3h0M414.0 132.1h0M404.3 157.8h0M404.1 157.9h0M407.8 156.9h0M408.0 156.2h0M431.9 125.3h0"/><path stroke="#0041ff" d="M412.4 152.6h0M427.2 137.5h0M427.7 137.9h0M405.7 157.7h0M405.4 157.0h0M406.9 150.5h0M422.4 143.2h0M402.3 150.6h0M402.8 150.9h0M415.0 150.4h0M414.2 150.2h0M423.9 142.1h0M423.0 142.6h0M404.2 155.6h0M404.5 155.5h0M432.7 116.5h0M405.1 150.7h0M429.2 133.8h0M408.7 134.4h0M430.2 128.4h0M408.3 155.6h0M408.8 155.9h0M419.7 146.0h0M419.3 145.0h0M403.4 148.1h0M411.9 129.5h0M427.9 126.0h0M409.8 154.2h0M404.8 156.8h0M404.4 156.1h0M404.1 156.9h0M404.9 147.4h0M413.6 151.7h0M426.8 138.4h0M426.4 138.1h0M429.4 125.2h0M429.8 125.1h0M428.9 135.8h0M410.3 134.3h0M430.9 125.2h0M430.2 125.3h0M430.5 125.6h0M404.5 150.5h0M404.5 150.9h0M430.7 127.8h0M430.8 127.5h0M430.1 128.0h0M405.3 147.0h0M410.9 153.9h0M410.7 153.0h0M424.8 128.3h0M424.4 129.0h0M403.9 150.4h0M403.3 150.0h0M403.9 150.8h0M406.8 152.4h0M407.9 143.3h0M425.6 139.5h0M409.9 134.5h0"/><path stroke="#0059ff" d="M406.5 156.6h0M430.6 126.5h0M427.6 121.1h0M433.0 114.1h0M432.4 114.4h0M406.0 149.8h0M403.4 150.0h0M403.8 149.8h0M403.1 149.1h0M406.0 156.8h0M406.0 156.0h0M405.2 156.6h0M407.0 149.1h0M432.2 115.5h0M432.6 115.5h0M432.9 115.1h0M416.3 148.0h0M429.8 132.7h0M429.7 132.5h0M428.8 116.0h0M417.3 146.7h0M417.9 146.6h0M430.7 114.6h0M430.5 114.5h0M409.2 132.6h0M405.7 149.4h0M428.4 126.1h0M420.8 144.1h0M420.2 144.8h0M420.6 144.4h0M424.9 140.5h0M404.3 148.1h0M404.4 149.1h0M404.2 149.2h0M404.6 149.3h0M428.5 120.1h0M415.8 148.6h0M430.8 118.3h0M430.5 118.8h0M405.6 155.2h0M405.8 155.3h0M405.5 155.3h0M408.5 142.7h0M429.8 126.3h0M429.4 126.3h0M407.5 155.4h0M426.6 127.5h0M411.7 152.8h0M409.1 133.3h0M409.4 133.8h0M406.4 145.9h0M431.3 114.5h0M413.4 132.5h0M413.4 133.0h0M413.1 132.8h0M428.9 134.1h0M428.2 134.1h0M428.3 134.9h0M429.1 119.6h0"/><path stroke="#0071ff" d="M406.5 153.5h0M406.1 153.4h0M405.2 147.7h0M416.7 130.4h0M408.2 154.4h0M408.5 154.9h0M408.9 154.8h0M414.0 149.8h0M405.9 148.5h0M405.1 148.4h0M405.0 148.7h0M406.7 155.4h0M409.5 153.9h0M409.8 153.6h0M421.6 126.2h0M407.4 152.9h0M423.0 141.8h0M424.0 141.1h0M423.3 141.7h0M423.1 124.0h0M423.0 124.6h0M410.2 131.2h0M410.9 132.0h0M429.8 127.3h0M429.5 127.2h0M424.9 123.2h0M421.8 143.6h0M422.5 125.3h0M422.6 130.4h0M426.4 137.8h0M410.1 133.5h0M410.3 133.7h0M431.5 116.4h0M406.3 154.8h0M406.3 154.3h0M422.3 120.3h0M408.2 152.0h0M417.3 130.0h0M417.5 129.6h0M412.5 151.9h0M429.6 128.2h0M429.5 128.8h0M413.7 150.9h0M413.5 150.2h0M412.0 130.1h0M411.4 130.5h0M411.3 130.8h0M407.2 154.7h0M407.1 154.1h0M407.7 154.9h0M427.5 116.4h0M427.8 116.9h0M425.9 122.6h0"/><path stroke="#008dff" d="M429.3 130.7h0M431.4 115.6h0M431.5 115.1h0M407.4 148.5h0M408.0 148.0h0M410.4 152.7h0M429.7 115.4h0M427.3 127.3h0M429.1 129.3h0M407.9 153.2h0M407.6 153.8h0M414.9 131.6h0M414.3 131.9h0M408.3 153.3h0M408.8 153.7h0M419.3 144.1h0M406.4 146.9h0M428.6 127.3h0M428.2 127.2h0M416.4 125.6h0M408.3 152.4h0M410.0 132.7h0M410.2 132.8h0M410.6 132.8h0M410.8 132.5h0M427.6 135.2h0M427.6 135.9h0M425.3 128.0h0M425.3 128.4h0M416.9 146.7h0M418.7 128.2h0M418.9 128.6h0M417.6 125.0h0M412.7 132.3h0M407.0 147.9h0M406.2 147.2h0M406.1 147.8h0M406.8 147.6h0M421.8 121.2h0M428.8 133.1h0M421.0 131.8h0M421.7 131.8h0M415.0 147.4h0M415.8 147.9h0M409.0 152.5h0M410.0 152.7h0M425.0 139.4h0M424.7 139.7h0M407.8 144.7h0M430.5 115.5h0M430.3 115.5h0M430.9 116.0h0M430.6 117.7h0M415.9 136.5h0M426.2 121.6h0M426.9 121.8h0M417.8 145.7h0M417.0 145.1h0M417.3 145.7h0M414.1 127.2h0M414.4 127.9h0M410.0 150.3h0M413.5 128.1h0"/><path stroke="#00a5ff" d="M414.8 148.5h0M414.4 148.6h0M409.1 151.4h0M409.4 151.8h0M410.0 151.7h0M411.8 132.6h0M411.8 132.9h0M411.2 132.2h0M411.4 132.9h0M412.0 152.0h0M411.1 151.6h0M411.7 132.0h0M423.8 140.5h0M423.7 140.9h0M427.9 120.2h0M430.9 117.0h0M415.6 130.9h0M419.4 127.9h0M421.0 143.7h0M426.3 136.5h0M426.0 136.6h0M427.0 136.7h0M414.2 137.9h0M429.2 118.7h0M430.0 118.8h0M413.3 131.4h0M410.4 151.7h0M428.8 116.3h0M413.5 149.9h0M428.7 119.8h0M420.4 123.0h0"/><path stroke="#00c1ff" d="M424.5 129.4h0M407.5 147.3h0M418.0 144.9h0M418.5 144.1h0M428.4 128.3h0M428.8 128.1h0M412.0 130.8h0M412.1 131.3h0M412.6 131.7h0M423.9 123.1h0M423.7 123.5h0M412.8 150.4h0M412.6 150.9h0M422.5 141.8h0M422.5 141.1h0M424.6 122.4h0M429.0 116.2h0M430.0 116.5h0M429.8 116.0h0M429.7 116.3h0M408.8 143.2h0M408.7 143.9h0M427.9 134.5h0M428.9 132.7h0M421.3 142.8h0M421.8 142.8h0M421.6 142.4h0M425.5 118.4h0M426.8 128.1h0M426.5 128.1h0M426.2 128.5h0M423.6 120.7h0M416.3 129.7h0M416.1 130.0h0M415.7 146.3h0M420.8 126.3h0M420.3 126.9h0M420.3 126.0h0M420.8 126.8h0M422.9 124.9h0M414.8 148.0h0M414.7 147.5h0M414.3 147.9h0M425.5 137.5h0M407.8 145.1h0M407.4 145.7h0M407.1 145.5h0M407.1 145.6h0M410.0 150.9h0M410.4 150.8h0M410.9 150.6h0M424.9 119.2h0M424.3 119.9h0M421.7 125.5h0M416.4 145.9h0"/><path stroke="#00d9ff" d="M429.8 117.1h0M429.0 117.1h0M429.7 118.0h0M417.5 128.4h0M413.9 129.5h0M413.5 148.7h0M425.5 121.9h0M425.8 121.2h0M414.7 130.7h0M414.9 130.8h0M427.5 128.2h0M427.3 128.4h0M428.0 128.6h0M410.0 149.9h0M407.2 146.6h0M407.6 146.3h0M424.3 138.9h0M424.7 138.3h0M419.5 123.4h0M411.2 150.8h0M411.2 150.4h0M412.0 150.8h0M411.9 150.1h0M413.1 130.6h0M413.1 130.1h0M413.7 130.9h0M413.4 130.4h0M410.9 141.7h0M427.4 117.3h0M416.6 126.7h0M423.6 130.4h0M415.8 127.3h0M419.8 143.8h0M412.6 149.7h0M423.9 139.5h0M423.4 139.6h0M408.4 147.8h0M408.5 147.1h0M414.6 128.6h0M412.3 140.0h0M417.1 125.5h0M426.3 120.8h0M426.8 120.9h0M426.8 120.7h0M426.7 120.6h0M421.4 122.1h0M421.1 122.9h0M421.6 122.6h0"/><path stroke="#09f1ee" d="M423.3 122.3h0M423.8 122.4h0M428.1 117.2h0M428.7 117.2h0M417.8 144.6h0M417.7 144.5h0M428.7 118.8h0M428.5 118.2h0M426.2 135.3h0M426.8 135.6h0M426.8 135.8h0M423.7 121.7h0M423.7 121.3h0M427.6 119.6h0M411.4 149.8h0M411.8 150.0h0M413.6 147.9h0M413.9 147.5h0M413.2 147.0h0M424.9 121.8h0M424.1 122.0h0M424.2 121.3h0M415.5 129.3h0M426.2 118.4h0M428.6 130.1h0M414.9 146.6h0M414.6 146.2h0M414.3 146.9h0M412.6 148.9h0M412.6 148.1h0M422.4 140.9h0M422.4 123.4h0M422.4 123.9h0M424.5 120.8h0M424.1 120.5h0M422.1 122.2h0M422.8 122.5h0M422.6 122.1h0M414.8 129.8h0M415.0 129.2h0M414.0 129.8h0M414.2 129.5h0M419.6 133.2h0M420.3 142.5h0M416.4 128.9h0M411.4 148.3h0M411.7 148.6h0M411.8 148.7h0M422.5 131.2h0M422.1 131.2h0M422.8 131.7h0M425.5 119.2h0M425.0 119.9h0M425.4 119.6h0"/><path stroke="#1fffd7" d="M427.8 118.2h0M427.8 118.7h0M427.3 118.5h0M421.9 141.3h0M421.1 142.0h0M421.3 141.6h0M425.9 129.1h0M416.3 127.6h0M416.4 127.0h0M425.2 120.5h0M425.3 120.6h0M415.9 145.7h0M415.6 128.2h0M415.3 128.2h0M415.8 128.3h0M415.1 128.4h0M419.4 126.9h0M419.8 126.6h0M417.7 127.5h0M417.8 127.7h0M417.3 127.4h0M421.6 125.0h0M421.0 123.8h0M420.6 123.4h0M426.9 119.3h0M426.8 119.1h0M426.5 119.8h0M426.0 119.1h0M409.6 147.5h0M409.3 147.8h0M409.4 147.3h0M408.4 144.1h0M425.1 136.3h0M425.8 136.7h0M417.7 126.6h0M419.0 143.9h0M421.0 125.5h0M420.6 125.9h0M421.7 123.7h0M421.7 123.8h0M421.3 123.5h0"/><path stroke="#33ffc4" d="M418.6 134.1h0M418.4 134.9h0M418.9 134.7h0M408.6 146.3h0M413.4 146.6h0M427.6 129.4h0M418.1 127.0h0M418.6 126.9h0M418.5 126.5h0M418.2 126.1h0M410.4 147.7h0M419.4 124.2h0M419.0 124.1h0M418.2 125.3h0M418.5 125.1h0M416.2 145.0h0M416.6 145.0h0M416.7 144.5h0M417.6 135.3h0M416.7 136.9h0M424.6 137.1h0M424.5 137.7h0M426.9 129.3h0M426.1 129.4h0M420.9 124.8h0M420.3 124.9h0M420.5 124.4h0M426.9 134.4h0M426.7 134.8h0"/><path stroke="#49ffad" d="M408.5 145.6h0M408.6 145.2h0M423.8 138.1h0M423.4 138.5h0M423.5 138.9h0M419.3 142.7h0M419.1 142.4h0M419.4 125.1h0M419.1 125.0h0M419.2 125.5h0M419.8 125.3h0M421.4 132.2h0M424.3 130.5h0M424.5 130.5h0M422.6 139.7h0M422.0 139.4h0M415.6 137.1h0M415.2 137.5h0M427.3 132.2h0M409.5 144.0h0M414.9 145.8h0M414.0 145.1h0M421.7 140.7h0M420.3 141.9h0M420.5 141.3h0"/><path stroke="#5dff9a" d="M417.8 143.8h0M417.5 143.4h0M410.5 142.0h0M427.7 130.5h0M409.2 146.6h0M427.6 131.1h0"/><path stroke="#70ff87" d="M425.9 135.7h0M414.4 138.3h0M423.1 131.2h0M423.0 131.7h0M411.6 146.9h0M411.3 141.7h0M416.0 144.5h0M410.0 146.3h0M410.3 146.3h0"/><path stroke="#87ff70" d="M426.2 133.5h0M418.9 142.8h0M418.3 143.0h0M418.1 142.3h0M425.6 130.5h0M420.5 133.4h0M409.2 144.7h0M412.1 140.6h0M412.5 140.8h0M413.1 139.9h0M413.5 139.5h0M426.8 130.0h0M426.2 130.3h0M409.4 145.3h0M409.3 145.6h0M419.8 141.7h0M419.9 141.8h0"/><path stroke="#9aff5d" d="M420.7 140.8h0M420.9 140.7h0M420.8 140.1h0M421.9 139.5h0M423.8 137.8h0M423.0 137.1h0M423.6 137.4h0M422.7 138.8h0M416.3 143.3h0M412.6 145.6h0M422.2 132.1h0M422.4 132.6h0"/><path stroke="#b1ff46" d="M426.4 132.2h0M410.7 143.0h0M410.2 143.1h0M410.2 143.7h0M410.4 143.8h0M426.8 131.3h0M427.0 131.2h0M426.4 131.2h0M426.4 131.7h0M424.4 131.0h0M424.1 131.6h0M419.8 134.0h0M420.0 134.9h0"/><path stroke="#c4ff33" d="M410.1 145.9h0M410.0 145.1h0M410.3 145.8h0M411.8 145.7h0M411.0 145.7h0M417.3 136.2h0M418.2 135.6h0"/><path stroke="#d7ff1f" d="M425.1 131.1h0M425.9 131.5h0M425.1 131.3h0M425.9 131.1h0M416.2 137.7h0M416.7 137.3h0M410.1 144.4h0M410.4 144.9h0M410.3 144.0h0M411.1 142.4h0"/><path stroke="#eeff09" d="M425.3 133.8h0M413.2 144.8h0M413.4 144.1h0M424.5 135.9h0M420.0 140.8h0M423.2 132.6h0M421.3 133.3h0M415.8 138.7h0M415.3 138.5h0M425.3 133.0h0M425.6 132.5h0M416.0 144.0h0"/><path stroke="#ffea00" d="M420.6 139.6h0M411.5 144.9h0M411.1 144.4h0M412.8 144.4h0M412.0 144.0h0M412.4 144.8h0M412.1 141.3h0M411.2 143.1h0M411.4 143.9h0"/><path stroke="#ffd000" d="M424.8 132.3h0M424.2 132.6h0M421.3 138.7h0M423.8 137.0h0M414.3 139.4h0"/><path stroke="#ffb900" d="M424.7 134.4h0M413.6 140.1h0M413.6 140.4h0"/><path stroke="#ffa300" d="M424.6 133.9h0M424.8 133.3h0M414.3 143.9h0M420.6 134.1h0M420.5 134.9h0M422.3 133.4h0M422.1 133.0h0M412.2 143.9h0"/><path stroke="#ff8900" d="M412.1 142.9h0M412.5 142.3h0M417.6 141.0h0M413.2 143.5h0M413.8 143.7h0M423.8 133.0h0M423.0 133.2h0M419.7 139.7h0M417.4 137.6h0M417.4 137.1h0M417.9 137.2h0"/><path stroke="#ff7300" d="M419.5 135.1h0M419.0 135.5h0M418.3 136.3h0M418.7 136.5h0M423.9 135.7h0M423.6 135.0h0M423.2 135.8h0M416.6 138.4h0"/><path stroke="#ff5900" d="M420.2 138.4h0"/><path stroke="#ff4300" d="M423.8 134.6h0M423.4 134.2h0M423.3 134.5h0M424.0 134.2h0M415.8 142.6h0M413.1 141.6h0M413.7 141.6h0M422.4 136.8h0M421.2 134.1h0M421.3 134.8h0M421.6 134.2h0"/><path stroke="#ff2d00" d="M415.4 139.3h0M413.2 142.1h0M413.1 143.0h0M413.7 142.8h0M413.8 142.5h0"/><path stroke="#ff1300" d="M418.6 139.6h0M414.6 140.2h0M414.5 140.8h0M422.4 134.2h0M422.2 134.6h0M422.9 134.4h0M415.0 142.8h0M414.0 142.7h0M417.8 140.6h0M417.1 140.3h0M416.5 141.1h0"/><path stroke="#e40000" d="M417.0 138.7h0M419.7 138.4h0M418.3 137.7h0M420.5 135.7h0M422.4 135.9h0M422.4 135.4h0"/><path stroke="#c40000" d="M419.5 136.5h0M418.3 138.4h0M418.6 138.2h0M418.5 138.8h0M416.2 139.0h0M416.9 139.2h0M417.9 139.5h0M417.2 139.1h0M417.4 139.8h0M417.9 139.1h0M420.9 137.3h0M420.0 137.8h0"/><path stroke="#a80000" d="M414.5 141.9h0M414.4 141.5h0M421.7 136.9h0M416.0 142.0h0M415.2 141.5h0M415.7 141.7h0M415.1 141.9h0M421.7 135.9h0M421.7 135.7h0M421.3 135.5h0M420.0 137.1h0M419.9 137.5h0M419.2 137.6h0M419.0 137.0h0"/><path stroke="#8d0000" d="M415.4 140.2h0M415.1 140.7h0M416.1 140.1h0M416.3 140.1h0M416.0 140.8h0M416.9 140.4h0M420.9 136.6h0M420.5 136.6h0M420.9 136.0h0M420.1 136.3h0"/></g><line x1="397.60" y1="169.80" x2="542.70" y2="7.70" stroke="#3a3a3a" stroke-width="0.8"/><line x1="397.60" y1="158.95" x2="542.70" y2="19.54" stroke="#34a834" stroke-width="1.15" stroke-dasharray="2.5 1.2"/></g><rect x="397.60" y="7.70" width="145.10" height="162.10" fill="none" stroke="#7a7a7a" stroke-width="0.9"/><path d="M397.60 169.80v-1.6M397.60 7.70v1.6M427.96 169.80v-1.6M427.96 7.70v1.6M458.31 169.80v-1.6M458.31 7.70v1.6M488.67 169.80v-1.6M488.67 7.70v1.6M519.02 169.80v-1.6M519.02 7.70v1.6M397.60 169.80h1.6M542.70 169.80h-1.6M397.60 135.89h1.6M542.70 135.89h-1.6M397.60 101.98h1.6M542.70 101.98h-1.6M397.60 68.06h1.6M542.70 68.06h-1.6M397.60 34.15h1.6M542.70 34.15h-1.6" stroke="#666" stroke-width="0.7" fill="none"/><g font-size="8.4" fill="#222"><text x="397.60" y="178.40" text-anchor="middle">0.000</text><text x="427.96" y="178.40" text-anchor="middle">0.005</text><text x="458.31" y="178.40" text-anchor="middle">0.010</text><text x="488.67" y="178.40" text-anchor="middle">0.015</text><text x="519.02" y="178.40" text-anchor="middle">0.020</text><text x="395.60" y="172.70" text-anchor="end">0.000</text><text x="395.60" y="138.79" text-anchor="end">0.005</text><text x="395.60" y="104.88" text-anchor="end">0.010</text><text x="395.60" y="70.96" text-anchor="end">0.015</text><text x="395.60" y="37.05" text-anchor="end">0.020</text></g><text x="402.90" y="21.00" font-size="8.5" fill="#222">(c)490nm</text><line x1="471.10" y1="150.50" x2="484.90" y2="150.50" stroke="#3a3a3a" stroke-width="0.8"/><line x1="471.10" y1="159.60" x2="484.90" y2="159.60" stroke="#34a834" stroke-width="1.15" stroke-dasharray="2.5 1.2"/><g font-size="7.4" fill="#222"><text x="490.40" y="153.50" textLength="7.9" lengthAdjust="spacingAndGlyphs">1:1</text><text x="490.40" y="162.70" textLength="45.7" lengthAdjust="spacingAndGlyphs">Y=0.86x+0.0016</text></g><text x="470.15" y="188.90" font-size="8.5" text-anchor="middle" fill="#222">Simulated Rrs (<tspan font-family="DejaVu Sans" font-style="italic">sr</tspan><tspan font-family="DejaVu Sans" font-size="5.9" dy="-3.2">−1</tspan><tspan dy="3.2">)</tspan></text><text transform="translate(373.10 88.75) rotate(-90)" font-size="8.5" text-anchor="middle" fill="#222">Estimated Rrs (<tspan font-family="DejaVu Sans" font-style="italic">sr</tspan><tspan font-family="DejaVu Sans" font-size="5.9" dy="-3.2">−1</tspan><tspan dy="3.2">)</tspan></text><clipPath id="c3"><rect x="35.50" y="194.60" width="145.10" height="162.20"/></clipPath><g clip-path="url(#c3)"><g fill="none" stroke-width="2.10" stroke-linecap="round"><path stroke="#00008d" d="M167.6 220.2h0M162.6 220.2h0M160.9 220.0h0M160.5 220.4h0M158.9 222.5h0M161.6 220.2h0M108.7 275.9h0M162.0 221.2h0M118.2 272.2h0M154.6 226.7h0M108.1 282.4h0M150.8 230.8h0M111.6 272.9h0M162.2 225.4h0M162.3 222.4h0M143.3 246.0h0M154.3 235.1h0M139.8 242.2h0M139.8 242.4h0M146.6 235.8h0M161.6 221.5h0M161.5 221.1h0M103.0 287.3h0M143.6 238.7h0M115.8 267.7h0M159.9 222.2h0M162.3 224.4h0M162.3 224.0h0M130.4 252.1h0M160.5 228.3h0M160.2 228.9h0M145.4 236.3h0M131.7 251.9h0M133.3 256.3h0M128.6 254.8h0M144.2 237.7h0M145.0 237.3h0M157.3 224.4h0M157.7 224.2h0M138.3 244.1h0M129.9 260.1h0M111.1 279.2h0M92.0 298.4h0M136.7 246.4h0M119.3 270.5h0M122.8 267.5h0"/><path stroke="#0000a8" d="M154.2 227.7h0M159.7 229.9h0M84.1 306.4h0M109.0 276.1h0M107.7 282.6h0M143.1 245.3h0M66.1 324.0h0M130.7 259.5h0M102.1 288.2h0M105.0 284.5h0M90.0 300.1h0M107.0 277.7h0M107.4 277.6h0M107.7 277.3h0M105.9 279.5h0M105.3 279.6h0M117.2 272.1h0M102.9 282.9h0M102.4 282.6h0M152.0 237.1h0M151.6 238.1h0M151.1 238.4h0M151.9 230.4h0M111.5 273.2h0M120.3 262.8h0M138.0 251.4h0M126.4 257.0h0M142.3 241.0h0M103.1 281.8h0M103.9 281.4h0M104.9 280.4h0M104.2 280.7h0M118.7 265.7h0M157.1 231.9h0M123.6 259.8h0M141.1 241.8h0M141.1 241.3h0M125.2 264.8h0M125.3 264.5h0M122.4 260.6h0M123.5 266.5h0M36.7 355.7h0M149.9 232.3h0M145.5 243.5h0M145.9 243.0h0M116.7 273.1h0M100.5 284.7h0M117.6 266.6h0M124.6 258.3h0M125.9 257.9h0M150.6 231.3h0M94.0 296.5h0M159.6 223.3h0M161.7 225.1h0M161.5 223.5h0M161.2 223.1h0M143.7 239.7h0M156.4 232.3h0M156.6 232.8h0M124.0 265.9h0M112.4 272.1h0M112.2 272.3h0M147.3 235.8h0M115.5 268.9h0M119.2 264.3h0M119.7 264.6h0M139.1 250.1h0M161.6 224.9h0M162.0 224.0h0M113.9 271.7h0M113.4 271.3h0M146.6 236.4h0M116.8 267.2h0M136.6 252.9h0M141.0 248.6h0M138.3 245.8h0M130.4 253.2h0M130.2 253.6h0M130.7 253.0h0M115.4 274.5h0M160.1 223.6h0M160.5 223.5h0M142.6 246.5h0M148.2 234.9h0M154.7 228.9h0M129.3 254.5h0M140.9 249.1h0M159.1 229.0h0M120.6 268.7h0M144.2 243.3h0M126.8 262.0h0M121.6 267.4h0M132.7 251.4h0M114.6 270.7h0M111.2 279.0h0M88.6 302.2h0M145.9 237.5h0M110.4 275.9h0M110.3 275.2h0M147.9 241.3h0M157.5 225.7h0M109.2 280.6h0M109.4 280.1h0M128.8 255.3h0M106.5 279.8h0M106.7 279.4h0M105.6 280.1h0M139.5 245.0h0M140.0 244.2h0M87.3 303.3h0M82.3 307.0h0M103.1 282.5h0M102.4 283.2h0M102.9 283.6h0M104.3 284.9h0M142.8 241.2h0M137.8 251.8h0M117.0 271.3h0M110.3 279.7h0M132.3 256.4h0M104.3 281.1h0M158.1 229.5h0M158.5 230.0h0M108.6 277.0h0M160.5 226.1h0M107.3 278.6h0M117.0 272.6h0M152.7 230.8h0M129.1 259.4h0M129.1 259.7h0M136.2 247.3h0M136.9 247.5h0M136.1 247.8h0M141.8 242.6h0M141.2 242.9h0M141.9 242.2h0M111.7 274.9h0M113.5 276.9h0M103.4 285.7h0M157.5 230.6h0M157.6 231.0h0M155.2 227.8h0M155.7 227.4h0M115.0 275.3h0M140.4 243.6h0M140.6 243.9h0M101.1 284.3h0M101.7 284.2h0M101.1 284.2h0M102.0 284.3h0M156.9 226.2h0M133.4 250.5h0M135.4 249.0h0M159.6 224.2h0M159.3 224.4h0M160.0 224.9h0M118.8 266.8h0M152.2 236.3h0M152.7 236.9h0M122.4 266.1h0M71.3 318.5h0M160.8 224.1h0M160.6 224.3h0M150.9 238.8h0M143.8 240.2h0M149.1 233.3h0M149.6 233.6h0M143.6 243.8h0M130.6 258.6h0M134.4 249.5h0M133.8 254.3h0M133.3 254.1h0M115.9 269.8h0M115.5 270.0h0M75.0 314.7h0M119.7 266.0h0M119.3 265.2h0M131.9 257.4h0M134.1 253.4h0M160.9 225.0h0M160.4 225.5h0M123.2 260.9h0M123.9 260.1h0M156.6 231.7h0M126.8 257.5h0M126.3 257.6h0M112.2 273.6h0M113.0 273.2h0M105.4 282.8h0M105.8 282.1h0M105.4 282.6h0M124.8 259.1h0M106.4 280.5h0M105.9 281.7h0M105.2 281.1h0M105.4 281.9h0M138.4 250.8h0M142.1 244.7h0M105.0 283.6h0M142.9 242.3h0M151.7 231.6h0M104.6 282.7h0M108.2 280.1h0M125.4 258.6h0M100.1 285.1h0M100.5 285.3h0M114.4 271.3h0M114.2 271.6h0M122.3 261.2h0M159.5 227.5h0M158.8 225.2h0M158.9 225.9h0M117.1 267.3h0M113.0 272.8h0M113.9 272.5h0M150.4 232.6h0M98.2 287.0h0M99.0 286.4h0M98.4 286.7h0M131.5 253.2h0M103.9 284.9h0M103.5 284.1h0M141.4 247.6h0M141.1 247.4h0M121.2 262.3h0M96.2 293.8h0M133.0 252.5h0M132.1 252.8h0M132.2 252.1h0M145.6 242.9h0M145.4 242.3h0M102.3 286.7h0M142.8 244.0h0M124.5 264.3h0M107.6 280.4h0M107.7 280.6h0M135.8 252.5h0M135.7 252.0h0M102.2 285.0h0M102.5 284.1h0M124.0 265.5h0M141.8 243.8h0M142.0 243.0h0M154.4 229.9h0M120.0 267.6h0M110.0 276.2h0M110.0 277.0h0M110.9 276.5h0M147.1 236.8h0M107.9 279.5h0M111.7 277.6h0M116.0 268.7h0M116.1 268.2h0M117.0 268.1h0M66.6 323.3h0M101.4 288.8h0M132.8 255.0h0M116.3 271.8h0M144.8 239.4h0M144.8 239.2h0M144.0 242.6h0M140.0 245.1h0M159.3 225.0h0M155.7 232.7h0M109.8 277.5h0M84.3 305.3h0M143.9 241.9h0M143.7 241.2h0M115.5 270.5h0M115.4 270.4h0M138.7 246.4h0M110.7 278.0h0M110.3 278.3h0M130.7 254.5h0M69.1 320.9h0M65.5 324.4h0M140.3 245.0h0M115.8 272.2h0M119.2 268.8h0M119.7 268.5h0M120.0 268.8h0M144.5 242.1h0M144.4 242.8h0M109.2 279.3h0M109.5 279.1h0M67.1 323.0h0M139.9 249.3h0M117.3 270.7h0M117.9 270.8h0M117.9 270.3h0M136.0 251.6h0M108.7 278.5h0M159.8 226.7h0M159.5 226.7h0M159.7 226.2h0M102.5 285.4h0M76.2 313.5h0M76.0 313.5h0M119.4 266.4h0M146.5 237.5h0M155.2 228.6h0M153.3 234.3h0M112.1 276.1h0M112.3 277.0h0M115.9 271.2h0M115.4 271.5h0M68.6 321.3h0M121.4 266.5h0M121.8 266.3h0M133.5 253.9h0M153.5 230.1h0M153.5 230.3h0M129.2 255.7h0M118.6 269.3h0M157.5 229.8h0M157.3 229.2h0M140.4 249.0h0M120.2 264.4h0M133.7 251.4h0M126.1 261.1h0M114.1 274.8h0M114.8 274.5h0M94.5 295.2h0M94.1 295.9h0M137.3 248.0h0M137.9 247.5h0M89.5 300.1h0M145.8 238.5h0M145.2 238.5h0M141.2 244.1h0M110.7 277.4h0M128.1 256.4h0M101.6 285.7h0M125.8 263.0h0M132.7 254.0h0M114.8 272.7h0M114.5 272.5h0M93.1 296.7h0M141.8 246.1h0M127.7 260.7h0M127.3 260.1h0M118.3 267.2h0M108.2 279.1h0M146.3 242.0h0M111.7 276.7h0M111.0 277.0h0M156.6 227.1h0M156.2 227.8h0M78.0 311.7h0M136.2 248.4h0M119.8 267.5h0M119.2 267.0h0M112.8 275.0h0M112.0 274.6h0M141.9 245.3h0M141.5 245.7h0M109.6 278.6h0M109.4 278.3h0M116.6 270.7h0M113.6 275.6h0M158.7 226.8h0M149.1 234.9h0M149.2 234.0h0M127.1 257.0h0M120.7 266.3h0M152.5 235.6h0M147.6 240.2h0M116.8 269.2h0M133.7 252.7h0M148.8 239.6h0M135.1 249.6h0M132.0 254.9h0M131.8 254.1h0M114.8 273.5h0M114.1 273.5h0M134.7 252.5h0M113.8 273.6h0M98.7 291.8h0M158.9 227.6h0M158.2 227.0h0M134.2 250.2h0M134.5 250.3h0M85.7 304.3h0M120.7 265.7h0M120.1 265.3h0M149.3 238.8h0M100.9 289.7h0M99.6 287.0h0M140.9 246.0h0M117.7 268.4h0M155.2 229.9h0M155.6 229.3h0M144.9 240.1h0M144.7 240.3h0M130.8 257.3h0M118.3 268.4h0M112.6 275.8h0M112.2 276.0h0M126.6 258.1h0M155.3 231.3h0M155.7 232.0h0M117.2 269.6h0M118.0 269.6h0M117.5 269.1h0M101.9 287.7h0M152.7 231.6h0M125.5 259.7h0M150.1 237.8h0M150.4 237.1h0M144.4 241.0h0M123.1 261.2h0M156.0 229.7h0M156.2 229.0h0M157.8 228.1h0M151.1 236.6h0M124.4 263.6h0M157.2 227.3h0M157.0 227.1h0M157.8 227.9h0M154.9 230.6h0M122.5 265.5h0M101.7 286.9h0M101.6 286.1h0M88.4 301.0h0M88.9 301.3h0M138.4 250.0h0M139.2 246.3h0M131.8 255.9h0M131.8 255.4h0M150.0 233.6h0M156.9 228.2h0M156.2 228.2h0M113.1 274.0h0M113.3 274.3h0M155.8 230.2h0M135.4 252.0h0M64.1 325.5h0M130.9 255.2h0M121.2 263.4h0M121.2 263.2h0M148.5 236.2h0M36.6 354.5h0M36.1 354.8h0M136.9 250.4h0M136.3 250.1h0M136.4 250.5h0M140.9 248.0h0M140.4 247.1h0M151.9 232.7h0M151.5 232.9h0M134.7 251.2h0"/><path stroke="#0000c8" d="M138.3 247.7h0M138.7 247.1h0M145.6 241.7h0M145.4 241.8h0M128.6 257.3h0M128.8 257.1h0M128.1 257.8h0M128.1 259.0h0M128.6 258.6h0M128.7 258.8h0M125.8 261.5h0M125.6 261.9h0M140.4 246.4h0M129.3 256.2h0M129.9 256.6h0M86.5 303.4h0M122.6 262.5h0M122.1 262.5h0M122.6 262.1h0M122.1 262.5h0M137.1 248.9h0M137.4 248.4h0M121.9 265.3h0M121.9 265.8h0M139.4 248.3h0M135.4 251.0h0M135.2 250.3h0M137.5 249.9h0M137.8 249.3h0M127.2 259.4h0M127.8 259.7h0M127.0 258.3h0M127.7 258.1h0M87.2 302.4h0M123.5 264.2h0M123.8 264.0h0M123.3 264.9h0M126.5 260.9h0M126.9 260.3h0M129.8 257.8h0M129.3 257.1h0M146.0 239.8h0M145.5 239.1h0M149.9 235.4h0M154.7 233.0h0M130.8 256.7h0M130.2 256.5h0M130.8 256.2h0M124.9 261.6h0M124.0 261.1h0M125.0 260.6h0M125.6 260.6h0M146.5 238.2h0M97.4 287.2h0M97.3 287.8h0M126.3 259.7h0M93.6 290.9h0M139.5 247.3h0M139.6 247.9h0M139.4 248.0h0M153.8 233.5h0M153.1 233.9h0M153.5 233.0h0M138.6 248.6h0M152.5 234.4h0M153.3 231.6h0M154.2 231.5h0M154.7 231.3h0M154.1 231.9h0M121.0 264.7h0M121.4 265.0h0M149.5 237.6h0M146.6 240.2h0M146.3 240.8h0M146.1 240.9h0M148.1 238.7h0M148.7 239.0h0M148.6 238.2h0M81.1 307.6h0M145.8 240.1h0M147.0 239.8h0M82.8 306.0h0M148.1 237.6h0M148.8 237.1h0M149.2 236.8h0M149.9 236.1h0M95.4 293.3h0M150.3 234.5h0M150.4 234.9h0M150.0 236.3h0M123.9 262.3h0M123.1 262.5h0M151.7 236.0h0M71.5 317.5h0M73.0 316.7h0M72.5 316.7h0M72.3 316.4h0M151.3 233.4h0M147.8 238.2h0M147.4 238.3h0M147.5 238.7h0M152.5 232.8h0M152.2 232.0h0M152.8 232.1h0M122.8 264.4h0M122.1 264.0h0M123.6 263.1h0M124.0 263.1h0M37.4 355.0h0M37.0 354.2h0M37.8 354.6h0M146.7 239.9h0M146.7 239.1h0M80.3 308.4h0M75.0 314.7h0M122.0 263.5h0M122.5 263.5h0M96.5 292.8h0M96.8 293.0h0M150.2 235.6h0M150.9 235.8h0M150.9 235.3h0M153.9 232.7h0M153.6 232.3h0M100.5 288.6h0M152.2 233.5h0M152.6 233.4h0M70.6 318.9h0M70.6 318.3h0M70.4 318.2h0M151.5 234.7h0M151.7 234.6h0M90.0 298.7h0M94.1 294.9h0M94.5 294.0h0M100.4 287.6h0M100.6 287.0h0M100.6 287.6h0M83.3 305.3h0M98.3 287.8h0M98.0 287.9h0M89.4 299.8h0M79.5 309.5h0M75.6 313.7h0M69.9 319.1h0M69.7 319.5h0M92.9 296.2h0M92.3 296.6h0M65.5 323.6h0M93.2 295.8h0M99.8 287.2h0M97.3 291.5h0M97.7 291.7h0M63.5 326.8h0M66.2 322.7h0M96.4 288.8h0M96.7 288.3h0M84.4 305.0h0M68.0 320.4h0M68.4 320.4h0M67.7 321.7h0M67.2 321.9h0M98.3 290.3h0M64.5 324.4h0M65.0 324.9h0M61.0 329.3h0M78.7 310.9h0M37.3 344.3h0M94.8 290.8h0M94.4 290.1h0M94.0 290.5h0M76.1 312.0h0M77.0 312.1h0M95.2 289.5h0M95.5 289.3h0M96.0 289.6h0M95.7 292.1h0M95.7 292.6h0M85.5 303.8h0M85.9 303.3h0M99.7 289.0h0M99.5 288.1h0M99.9 288.2h0M99.9 288.9h0M94.5 293.4h0M94.5 293.4h0M77.8 311.6h0M94.0 291.3h0M93.6 291.7h0M86.5 302.6h0M60.1 330.4h0M97.3 288.0h0M97.9 288.2h0M96.4 291.8h0M96.1 291.5h0M96.8 291.9h0M36.1 353.3h0M90.6 294.0h0M98.7 288.4h0M93.1 294.5h0"/><path stroke="#0000e3" d="M83.9 299.9h0M94.9 291.9h0M94.7 292.9h0M94.1 292.3h0M81.0 306.2h0M81.3 307.0h0M98.5 289.3h0M98.4 289.9h0M62.6 327.5h0M89.5 294.7h0M92.5 292.3h0M64.0 325.1h0M63.6 325.7h0M70.9 317.4h0M70.9 317.0h0M90.1 297.6h0M90.1 297.9h0M91.0 297.4h0M95.4 290.6h0M97.9 290.2h0M97.4 290.9h0M97.6 290.7h0M71.4 316.5h0M71.7 316.3h0M91.6 296.2h0M81.0 307.7h0M89.0 298.7h0M89.8 298.2h0M92.8 295.2h0M92.2 295.4h0M93.7 292.5h0M93.7 292.6h0M73.9 314.6h0M69.0 319.0h0M69.0 318.2h0M72.8 315.3h0M72.6 315.6h0M72.8 315.9h0M93.4 293.5h0M74.8 313.5h0M96.3 290.8h0M96.0 290.1h0M97.0 289.6h0M97.8 289.3h0M97.2 289.1h0M88.9 299.5h0M38.4 353.7h0M79.1 308.5h0M79.6 308.8h0M68.8 319.7h0M87.2 300.8h0M87.7 300.7h0M88.0 300.5h0M91.4 293.1h0M91.7 293.2h0M91.3 293.4h0M75.7 312.5h0M65.4 322.6h0M85.0 303.4h0M84.2 304.0h0M77.7 305.8h0M37.7 353.4h0M37.2 353.4h0M64.1 323.6h0M64.7 323.3h0M86.3 301.9h0M61.6 328.6h0M61.7 328.4h0M92.0 293.8h0M92.5 293.1h0M92.9 293.4h0M66.8 321.4h0M66.5 321.8h0M66.1 321.2h0M36.6 352.8h0M93.0 294.6h0M78.9 309.2h0M78.5 309.9h0M78.2 309.3h0M85.6 302.4h0M80.9 302.8h0M87.7 296.6h0M36.2 351.9h0M36.5 351.2h0M90.4 294.6h0M62.3 326.4h0M90.8 296.3h0M90.1 296.7h0M85.7 298.3h0M76.2 311.8h0M76.6 311.6h0M77.4 310.7h0M86.6 297.1h0M89.4 295.1h0M63.9 324.0h0M63.6 324.2h0M63.6 325.0h0M91.4 294.9h0M91.7 294.1h0M91.1 294.1h0M60.6 329.5h0M81.6 305.9h0M81.8 305.4h0M88.8 298.1h0M80.5 306.6h0M80.7 306.9h0M90.1 295.7h0M90.2 295.2h0M90.9 295.8h0M38.3 344.3h0M38.1 344.6h0M70.7 316.4h0M70.5 317.0h0M69.1 317.6h0M69.3 317.1h0"/><path stroke="#0000ff" d="M87.8 299.5h0M87.0 300.0h0M88.7 296.1h0M88.8 296.9h0M88.4 296.8h0M89.3 296.0h0M89.5 296.6h0M86.8 300.6h0M86.1 300.3h0M79.2 304.4h0M82.6 304.1h0M82.2 304.1h0M39.4 352.8h0M79.7 307.6h0M68.8 318.9h0M68.5 318.0h0M83.7 300.6h0M71.6 315.2h0M85.5 301.3h0M85.8 301.5h0M73.7 313.7h0M73.3 313.1h0M88.4 297.8h0M87.5 297.5h0M87.8 297.7h0M78.0 305.8h0M61.4 327.8h0M61.8 327.5h0M73.0 314.6h0M72.1 314.9h0M74.8 312.7h0M74.1 312.9h0M74.6 312.8h0M86.9 298.5h0M85.0 299.7h0M85.9 299.5h0M85.5 299.2h0M81.0 303.5h0M80.2 303.6h0M83.9 303.1h0M62.5 325.2h0M62.5 325.5h0M84.4 302.6h0M87.1 298.8h0M87.1 298.4h0M87.9 299.0h0M67.7 319.9h0M67.3 319.7h0M86.8 299.4h0M75.3 308.0h0M78.6 308.3h0M68.9 314.3h0M80.5 305.2h0M85.5 301.0h0M67.1 315.5h0M59.8 330.2h0M84.8 300.3h0M84.2 300.9h0M84.6 300.0h0M72.7 310.9h0M75.1 311.9h0M66.9 320.7h0M71.8 311.9h0M79.4 305.6h0M79.3 305.0h0M79.6 305.0h0M81.7 304.6h0M81.8 304.7h0M80.2 304.1h0M80.4 304.3h0M79.4 306.8h0M79.2 306.6h0M79.6 306.4h0M79.7 306.9h0M37.0 352.7h0M37.1 352.0h0M77.8 310.0h0M77.6 309.2h0M77.8 306.7h0M81.6 302.1h0M81.7 302.5h0M65.6 321.4h0M65.5 321.8h0M74.6 308.9h0M84.3 301.8h0M76.7 310.7h0M73.9 309.7h0M60.8 328.5h0M60.0 328.9h0M64.6 322.7h0M66.6 316.3h0M68.2 318.0h0M68.5 317.7h0M70.5 312.5h0M38.8 352.6h0M38.2 352.3h0M38.0 352.7h0M40.1 351.9h0M37.1 350.9h0M71.0 315.5h0M70.4 315.8h0"/><path stroke="#000dff" d="M78.2 306.2h0M82.6 303.2h0M38.1 343.1h0M38.2 343.6h0M38.9 343.7h0M78.1 307.8h0M78.3 307.5h0M78.8 307.9h0M82.0 303.6h0M81.2 304.0h0M81.6 303.2h0M83.1 301.4h0M83.6 301.3h0M61.8 327.0h0M83.7 302.3h0M84.0 302.2h0M68.0 315.4h0M68.4 315.1h0M67.6 318.8h0M67.9 318.7h0M67.3 318.7h0M67.4 318.9h0M38.9 342.9h0M76.2 307.0h0M68.4 316.2h0M72.8 314.0h0M72.3 313.7h0M37.4 351.7h0M69.2 315.1h0M71.3 314.8h0M82.0 302.0h0M82.7 302.0h0M82.1 302.3h0M82.6 302.4h0M74.9 311.6h0M62.2 324.5h0M62.7 324.4h0M67.5 316.4h0M67.5 316.1h0M65.0 317.8h0M65.6 318.0h0M59.9 329.9h0M69.2 314.7h0M69.4 314.2h0M77.7 308.0h0M77.7 308.3h0M41.4 350.4h0M72.9 311.3h0M72.2 311.9h0M77.5 307.4h0M77.1 307.5h0M66.7 319.4h0M67.5 317.1h0M73.4 310.2h0M75.1 310.7h0M75.8 310.7h0M77.0 309.8h0M73.1 311.2h0M75.9 308.2h0M75.8 308.5h0M75.5 308.5h0M71.1 312.5h0M72.0 312.4h0M72.7 312.1h0M70.1 314.3h0M71.0 314.9h0M60.8 327.2h0M60.3 327.8h0M60.6 327.4h0M66.8 317.2h0M66.6 317.0h0M66.3 317.9h0M70.2 314.0h0M70.4 313.0h0M70.8 313.2h0M74.9 309.1h0M74.9 310.0h0M38.9 349.4h0M76.6 308.1h0M71.4 313.3h0M71.0 313.5h0M62.0 325.7h0M74.2 310.8h0M74.1 310.3h0M40.6 346.9h0M39.4 352.0h0M39.8 351.3h0M39.4 351.7h0"/><path stroke="#0024ff" d="M65.9 320.9h0M76.0 309.8h0M75.1 309.2h0M43.6 348.0h0M42.6 338.9h0M38.0 351.1h0M38.3 351.3h0M38.6 351.8h0M39.8 343.4h0M39.2 343.5h0M64.9 318.3h0M64.1 318.6h0M64.7 321.9h0M39.2 348.5h0M59.9 328.6h0M65.6 318.7h0M63.6 322.6h0M63.9 322.5h0M63.9 322.8h0M38.1 350.8h0M38.2 350.2h0M38.9 350.4h0M38.7 350.2h0M40.9 340.5h0M65.3 319.1h0M62.8 323.4h0M60.4 326.2h0M60.9 326.6h0M60.7 326.9h0M40.7 350.5h0M58.6 331.8h0M58.6 331.4h0M40.5 348.0h0M39.6 342.8h0M39.6 342.1h0"/><path stroke="#0041ff" d="M62.0 324.9h0M58.3 330.2h0M58.8 330.4h0M39.8 350.9h0M39.7 351.0h0M41.7 349.6h0M41.8 349.2h0M60.6 321.7h0M42.7 339.1h0M39.3 349.0h0M39.2 349.8h0M63.7 319.3h0M64.1 320.3h0M64.0 319.1h0M64.6 319.1h0M64.2 319.6h0M58.5 329.9h0M58.1 329.3h0M59.9 328.0h0M59.5 327.0h0M41.8 340.3h0M42.8 348.3h0M42.9 349.0h0M42.5 348.9h0M42.1 348.3h0M40.2 342.6h0M40.7 342.2h0M61.0 325.8h0M40.2 341.7h0M40.3 341.0h0M41.9 345.7h0M40.0 348.3h0M63.2 321.2h0M40.1 349.8h0M40.8 349.1h0M40.5 349.3h0M40.8 349.7h0"/><path stroke="#0059ff" d="M42.6 340.5h0M43.2 338.2h0M43.4 338.3h0M62.2 320.2h0M62.6 320.2h0M62.5 320.7h0M41.2 341.2h0M41.7 341.3h0M41.3 341.1h0M41.2 341.7h0M63.7 320.2h0M63.3 320.5h0M41.3 346.2h0M41.7 348.1h0M41.2 348.2h0M58.1 328.6h0M58.5 328.9h0M43.2 339.5h0M43.9 339.0h0M42.2 341.0h0M41.5 347.6h0M41.9 347.1h0M61.3 321.1h0M43.9 347.7h0M62.4 321.6h0M62.1 321.4h0M62.3 321.8h0M59.6 326.9h0"/><path stroke="#0071ff" d="M60.5 322.0h0M61.8 322.4h0M61.0 322.1h0M43.0 347.9h0M42.6 347.6h0M45.0 346.6h0M60.4 323.7h0M60.9 323.1h0M60.0 323.2h0M59.4 323.3h0M59.7 323.2h0M59.0 323.8h0"/><path stroke="#008dff" d="M58.8 327.9h0M58.9 327.6h0M44.1 338.4h0M44.4 338.9h0M44.2 337.7h0M44.4 337.7h0M44.9 337.4h0M59.5 324.3h0M57.2 333.0h0M42.6 346.8h0M57.3 329.6h0M45.6 336.0h0M59.0 324.1h0M58.2 324.4h0M42.1 345.7h0M42.7 345.8h0"/><path stroke="#00a5ff" d="M57.0 330.4h0M57.6 328.8h0M43.2 346.9h0M43.7 346.8h0M45.8 338.2h0M58.6 325.7h0M58.7 325.5h0"/><path stroke="#00c1ff" d="M57.8 332.0h0M57.7 331.2h0M57.9 331.3h0M47.9 333.7h0M51.2 340.0h0M57.9 332.7h0M57.7 332.1h0M57.3 332.5h0M49.1 342.2h0M45.7 336.6h0M45.5 337.8h0M45.2 337.3h0M57.8 325.4h0M57.8 325.5h0M57.3 325.4h0M57.1 327.0h0"/><path stroke="#00d9ff" d="M46.4 345.0h0M57.5 326.5h0M57.2 326.2h0"/><path stroke="#09f1ee" d="M43.5 346.0h0M44.0 345.8h0M43.5 345.0h0M56.5 326.1h0M56.5 326.9h0M56.0 326.8h0M54.4 327.3h0"/><path stroke="#1fffd7" d="M46.2 336.9h0M46.1 336.3h0M43.5 344.5h0M56.3 327.3h0M47.9 334.1h0M56.9 330.0h0"/><path stroke="#33ffc4" d="M45.2 345.8h0M45.2 345.4h0M55.5 327.4h0M55.9 327.4h0M44.5 345.8h0M44.1 345.3h0M44.5 345.5h0M48.5 333.7h0M54.0 336.6h0M49.5 341.3h0"/><path stroke="#49ffad" d="M53.8 328.2h0M49.0 332.8h0M50.5 340.6h0M47.1 336.2h0M47.2 335.1h0M47.1 335.4h0M47.4 335.2h0M47.3 335.3h0M55.7 328.1h0"/><path stroke="#5dff9a" d="M56.7 331.2h0M57.0 333.5h0M56.7 333.9h0M50.6 331.4h0M54.9 328.1h0M54.7 328.4h0"/><path stroke="#70ff87" d="M48.0 339.2h0M48.3 334.1h0M52.3 329.5h0M44.7 342.6h0M51.3 330.6h0M56.3 332.0h0M56.3 332.3h0"/><path stroke="#87ff70" d="M49.1 333.7h0M44.3 344.7h0M44.0 344.9h0M48.4 335.3h0M48.0 335.2h0"/><path stroke="#9aff5d" d="M50.0 332.2h0M50.9 332.0h0M50.4 332.3h0M50.0 332.4h0M48.5 342.5h0M49.9 340.9h0M55.7 334.7h0M54.7 329.2h0M54.8 329.0h0M54.2 329.7h0M44.0 343.5h0M44.1 343.7h0M44.4 343.7h0M44.6 343.3h0"/><path stroke="#b1ff46" d="M51.3 339.1h0M53.2 329.0h0M53.7 329.2h0M53.8 329.8h0M53.2 329.7h0M46.5 344.8h0M49.1 334.5h0M49.2 334.1h0M54.9 335.7h0M54.7 335.3h0M45.7 341.9h0M50.1 333.8h0M50.2 333.4h0M50.4 333.0h0M48.7 339.6h0M51.9 331.8h0M51.5 331.2h0"/><path stroke="#c4ff33" d="M45.8 344.5h0M45.6 344.7h0M48.8 340.6h0M48.5 340.2h0M48.9 342.0h0M48.7 341.1h0M48.6 341.4h0M48.0 340.4h0M52.0 330.6h0M51.0 332.8h0M51.1 332.0h0"/><path stroke="#d7ff1f" d="M55.5 331.4h0M55.6 331.4h0M54.2 330.6h0M47.3 343.3h0M47.4 343.7h0"/><path stroke="#eeff09" d="M53.3 330.9h0M53.2 330.3h0M53.7 330.2h0M49.3 339.8h0M49.4 339.2h0"/><path stroke="#ffea00" d="M52.7 331.2h0M52.4 331.3h0M50.1 339.9h0M50.5 340.0h0M50.3 339.2h0M50.2 339.7h0M55.8 333.8h0M55.6 333.2h0M53.4 336.6h0M53.5 336.9h0M55.8 332.1h0M55.7 332.3h0"/><path stroke="#ffd000" d="M54.8 334.8h0M54.3 334.5h0M45.6 342.5h0"/><path stroke="#ffb900" d="M46.2 341.7h0M47.2 341.9h0M47.1 341.2h0M47.6 341.9h0M47.6 341.0h0M45.5 343.2h0M45.7 344.0h0M53.6 335.9h0"/><path stroke="#ffa300" d="M47.3 342.1h0M52.5 334.3h0M49.2 338.9h0M53.6 333.5h0M55.0 332.1h0M54.9 332.6h0M54.2 332.8h0M53.2 334.1h0M53.6 335.0h0M53.7 334.5h0M46.6 343.5h0M46.2 343.6h0"/><path stroke="#ff8900" d="M54.9 333.8h0M54.1 333.8h0M54.8 333.6h0M54.7 333.7h0M50.9 336.0h0M49.3 337.9h0"/><path stroke="#ff5900" d="M46.5 342.9h0M46.8 343.0h0M46.1 342.4h0M46.7 342.5h0"/><path stroke="#ff4300" d="M52.7 335.2h0M52.0 335.2h0M52.8 335.4h0M52.0 338.6h0M51.2 338.7h0M51.3 335.7h0M51.8 335.6h0"/><path stroke="#ff2d00" d="M50.6 338.7h0M50.1 338.9h0"/><path stroke="#ff1300" d="M52.9 336.4h0M52.5 336.8h0"/><path stroke="#a80000" d="M50.2 338.0h0M50.2 337.2h0M50.9 337.6h0M50.8 337.1h0"/><path stroke="#8d0000" d="M52.0 336.1h0M51.2 336.5h0M51.9 338.0h0M51.9 337.5h0M51.5 337.5h0M51.4 337.8h0"/></g><line x1="35.50" y1="356.80" x2="180.60" y2="194.60" stroke="#3a3a3a" stroke-width="0.8"/><line x1="35.50" y1="353.00" x2="180.60" y2="202.15" stroke="#34a834" stroke-width="1.15" stroke-dasharray="2.5 1.2"/></g><rect x="35.50" y="194.60" width="145.10" height="162.20" fill="none" stroke="#7a7a7a" stroke-width="0.9"/><path d="M35.50 356.80v-1.6M35.50 194.60v1.6M66.44 356.80v-1.6M66.44 194.60v1.6M97.38 356.80v-1.6M97.38 194.60v1.6M128.31 356.80v-1.6M128.31 194.60v1.6M159.25 356.80v-1.6M159.25 194.60v1.6M35.50 356.80h1.6M180.60 356.80h-1.6M35.50 322.22h1.6M180.60 322.22h-1.6M35.50 287.63h1.6M180.60 287.63h-1.6M35.50 253.05h1.6M180.60 253.05h-1.6M35.50 218.46h1.6M180.60 218.46h-1.6" stroke="#666" stroke-width="0.7" fill="none"/><g font-size="8.4" fill="#222"><text x="35.50" y="365.40" text-anchor="middle">0.00</text><text x="66.44" y="365.40" text-anchor="middle">0.01</text><text x="97.38" y="365.40" text-anchor="middle">0.02</text><text x="128.31" y="365.40" text-anchor="middle">0.03</text><text x="159.25" y="365.40" text-anchor="middle">0.04</text><text x="33.50" y="359.70" text-anchor="end">0.00</text><text x="33.50" y="325.12" text-anchor="end">0.01</text><text x="33.50" y="290.53" text-anchor="end">0.02</text><text x="33.50" y="255.95" text-anchor="end">0.03</text><text x="33.50" y="221.36" text-anchor="end">0.04</text></g><text x="40.80" y="207.90" font-size="8.5" fill="#222">(d)555nm</text><line x1="109.00" y1="337.50" x2="122.80" y2="337.50" stroke="#3a3a3a" stroke-width="0.8"/><line x1="109.00" y1="346.60" x2="122.80" y2="346.60" stroke="#34a834" stroke-width="1.15" stroke-dasharray="2.5 1.2"/><g font-size="7.4" fill="#222"><text x="128.30" y="340.50" textLength="7.9" lengthAdjust="spacingAndGlyphs">1:1</text><text x="128.30" y="349.70" textLength="45.7" lengthAdjust="spacingAndGlyphs">Y=0.93x+0.0011</text></g><text x="108.05" y="375.90" font-size="8.5" text-anchor="middle" fill="#222">Simulated Rrs (<tspan font-family="DejaVu Sans" font-style="italic">sr</tspan><tspan font-family="DejaVu Sans" font-size="5.9" dy="-3.2">−1</tspan><tspan dy="3.2">)</tspan></text><text transform="translate(14.90 275.70) rotate(-90)" font-size="8.5" text-anchor="middle" fill="#222">Estimated Rrs (<tspan font-family="DejaVu Sans" font-style="italic">sr</tspan><tspan font-family="DejaVu Sans" font-size="5.9" dy="-3.2">−1</tspan><tspan dy="3.2">)</tspan></text><clipPath id="c4"><rect x="216.50" y="194.60" width="145.10" height="162.20"/></clipPath><g clip-path="url(#c4)"><g fill="none" stroke-width="2.10" stroke-linecap="round"><path stroke="#00008d" d="M331.7 240.5h0M339.1 233.1h0M348.9 223.8h0M304.2 264.5h0M314.9 260.1h0M305.0 265.5h0M310.8 260.9h0M305.2 266.4h0M311.4 263.7h0M305.8 267.1h0M315.7 259.4h0M302.8 273.3h0M320.3 255.3h0M304.8 269.1h0M298.7 273.0h0M314.3 258.9h0M303.6 267.1h0M304.0 267.2h0M303.4 272.5h0M310.9 263.3h0M310.1 263.3h0M304.2 268.9h0M309.0 262.2h0M310.1 261.8h0M310.8 262.4h0M315.3 258.7h0M301.6 271.7h0M302.9 270.7h0M302.1 270.2h0M302.1 272.5h0M319.6 252.6h0M302.7 271.3h0M315.7 257.9h0M315.1 255.8h0M297.1 274.0h0M297.6 273.6h0M297.9 273.4h0M298.8 274.0h0M319.5 253.8h0M318.9 256.1h0M318.3 256.5h0M297.5 277.1h0M316.6 256.4h0M298.0 274.0h0M297.8 274.5h0M296.2 274.9h0M317.2 256.6h0M290.0 280.9h0M297.0 276.2h0M316.4 255.8h0M318.0 253.1h0M317.7 254.0h0M318.7 253.7h0M297.1 275.9h0M294.4 280.0h0M282.1 291.0h0M318.8 254.7h0M317.1 255.1h0M317.2 254.7h0M296.7 275.1h0M280.3 293.3h0M286.2 288.0h0M296.5 276.2h0M291.1 282.0h0M292.5 281.4h0M290.5 280.8h0M281.4 291.7h0M281.2 291.4h0M295.6 278.1h0M290.4 283.9h0M280.6 292.1h0M295.9 276.6h0M295.3 276.7h0M279.5 291.6h0M280.9 290.5h0M280.4 290.4h0M293.4 277.8h0M292.1 278.9h0M292.7 278.2h0M260.9 309.7h0M282.0 290.8h0M278.3 295.2h0M280.2 291.2h0M290.6 281.5h0M288.6 282.7h0M291.8 281.1h0M291.2 281.9h0M296.0 277.2h0M290.5 282.1h0M278.1 292.8h0M279.0 292.9h0M278.8 292.1h0M291.0 280.3h0M292.8 280.3h0M289.2 285.0h0M281.3 290.6h0M279.1 293.1h0M279.9 293.2h0M279.5 293.3h0M279.3 292.0h0M282.0 289.8h0M281.1 289.9h0M281.5 289.2h0M262.2 310.4h0M285.2 288.8h0M289.2 282.4h0M289.7 282.4h0M295.0 277.0h0M294.9 277.7h0M294.2 277.7h0M294.3 277.2h0M283.5 289.2h0M293.2 279.6h0M294.0 279.1h0M292.4 280.0h0M292.5 279.1h0M294.4 278.7h0M294.9 278.3h0M259.8 310.5h0M293.4 278.5h0M293.2 278.5h0M277.3 293.3h0M277.9 293.5h0M288.0 285.1h0M282.2 289.6h0M289.6 283.5h0M252.5 318.0h0M273.1 300.2h0M272.8 297.8h0M282.3 288.8h0M282.8 288.6h0M282.1 288.7h0M261.2 309.3h0M276.4 294.7h0M286.2 287.6h0M278.7 294.2h0M267.1 306.3h0M255.2 317.3h0M278.3 293.5h0M261.1 310.7h0M261.3 310.4h0M258.2 315.2h0M277.2 295.6h0M260.3 310.4h0M254.6 315.7h0M276.0 295.1h0M275.0 295.6h0M284.5 288.1h0M267.7 302.7h0M262.5 309.4h0M262.9 309.9h0M262.3 308.5h0M264.0 308.3h0M283.6 287.4h0M283.4 287.7h0M283.7 288.1h0M264.7 305.6h0M288.9 283.0h0M288.4 283.3h0M288.5 283.9h0M253.8 319.5h0M277.4 294.9h0M277.3 294.5h0M277.7 294.5h0M276.2 296.7h0M251.7 318.4h0M253.3 317.9h0M253.6 317.4h0M253.2 317.0h0M276.6 295.2h0M276.5 296.0h0M289.0 284.1h0M288.5 284.3h0M263.9 308.6h0M263.2 307.9h0M263.6 307.2h0M263.8 307.8h0M269.9 303.1h0M260.4 311.9h0M260.6 311.2h0M284.2 286.8h0M284.8 286.2h0M286.1 284.7h0M270.3 302.6h0M270.8 302.9h0M254.7 316.8h0M254.6 316.5h0M254.2 316.7h0M274.2 296.3h0M253.6 318.2h0M272.7 300.3h0M285.1 287.5h0M271.2 299.4h0M271.5 299.4h0M285.7 285.0h0M248.4 324.2h0M284.4 287.1h0M284.9 287.9h0M255.5 314.8h0M270.7 300.4h0M270.9 300.2h0M287.5 285.9h0M275.1 296.6h0M275.3 296.1h0M275.9 296.5h0M249.7 320.9h0M252.8 318.7h0M252.5 318.5h0M286.5 287.0h0M287.1 284.9h0M287.3 284.5h0M287.8 284.2h0M287.1 284.2h0M259.3 311.9h0M259.8 311.6h0M259.9 311.0h0M272.4 299.0h0M252.6 320.5h0M268.3 302.7h0M250.7 322.8h0M240.1 329.9h0M264.6 307.4h0M265.0 307.7h0M264.6 307.8h0M247.5 322.6h0M271.4 300.9h0M272.0 300.6h0M264.5 306.4h0M273.1 297.4h0M269.7 301.2h0M269.2 301.4h0M270.0 301.6h0M269.1 301.5h0M255.9 316.1h0M255.8 316.6h0M255.2 316.5h0"/><path stroke="#0000a8" d="M258.0 312.5h0M258.0 312.9h0M266.8 306.1h0M241.3 328.8h0M273.8 299.9h0M251.3 321.8h0M251.5 321.3h0M285.2 286.6h0M285.6 286.1h0M246.4 323.6h0M239.8 330.3h0M270.8 302.0h0M270.1 301.7h0M269.1 302.6h0M269.6 302.4h0M256.4 313.8h0M267.6 305.4h0M267.9 305.4h0M286.2 285.8h0M286.8 285.5h0M286.3 285.4h0M286.7 285.9h0M272.6 299.3h0M272.1 299.2h0M268.5 303.6h0M268.9 304.0h0M245.9 324.6h0M274.9 298.9h0M274.4 298.2h0M252.4 319.9h0M252.4 319.2h0M252.8 319.2h0M255.7 315.8h0M255.4 315.7h0M245.3 327.6h0M242.5 330.5h0M274.9 297.6h0M274.9 297.8h0M265.5 305.1h0M265.7 305.5h0M265.1 305.7h0M265.3 307.0h0M265.9 306.3h0M265.3 306.5h0M265.7 306.9h0M251.8 319.4h0M243.5 326.6h0M259.7 312.9h0M259.3 312.5h0M259.7 312.6h0M267.0 304.1h0M266.5 304.6h0M240.1 332.6h0M240.8 332.2h0M273.2 298.9h0M274.0 298.5h0M273.6 298.0h0M267.9 304.5h0M267.5 304.4h0M267.1 304.5h0M247.4 324.9h0M247.9 324.0h0M248.5 323.3h0M249.9 322.7h0M249.3 322.6h0M249.6 322.0h0M249.9 321.7h0M249.5 321.6h0M246.7 326.0h0M248.5 322.9h0M248.7 322.1h0M248.2 322.0h0M250.4 320.1h0M243.1 329.5h0M258.3 312.4h0M266.1 305.2h0M266.8 305.7h0M247.6 323.3h0M247.1 323.7h0M251.9 320.1h0M251.0 321.0h0M251.5 320.4h0M256.1 315.6h0M256.7 315.5h0M250.3 322.0h0M250.7 321.4h0M246.8 324.2h0M246.3 324.9h0M246.2 324.2h0M240.5 330.6h0M240.9 330.8h0M241.9 329.5h0M241.4 329.5h0M241.3 330.4h0M241.9 330.3h0M241.6 330.8h0M256.0 314.5h0M239.9 333.2h0M239.1 333.4h0M245.8 326.4h0M245.3 325.5h0M245.0 325.2h0M245.7 325.5h0M237.3 332.9h0M237.6 332.2h0M240.1 332.0h0M240.4 331.2h0M257.2 313.9h0M257.2 313.3h0M258.7 313.5h0M259.0 313.8h0M258.9 313.3h0M258.3 313.2h0M242.3 328.8h0M242.6 328.1h0M257.2 314.4h0M257.4 315.0h0M257.4 314.0h0M242.6 330.0h0M242.2 329.0h0M239.1 331.4h0M239.9 331.4h0M238.0 335.0h0M238.6 334.6h0M244.8 326.0h0M244.3 326.0h0M244.8 326.8h0M244.1 326.5h0M243.5 327.4h0M236.3 333.6h0M244.4 327.8h0M244.0 327.6h0M244.9 327.6h0M244.0 329.0h0M243.7 328.4h0M243.6 328.5h0M237.4 335.9h0M239.7 332.1h0M239.5 332.7h0M235.7 334.4h0M238.5 332.9h0M238.3 332.6h0M238.8 332.2h0M238.8 333.9h0M237.8 333.7h0M237.3 333.6h0M236.9 336.0h0M234.5 335.3h0M234.6 335.2h0M234.8 335.2h0M237.6 334.9h0M237.2 334.1h0M236.9 334.4h0M237.0 334.6h0M236.4 335.3h0M235.7 335.3h0M235.8 335.1h0M235.5 335.8h0M234.3 339.1h0M233.4 336.3h0M233.2 336.5h0M230.5 339.5h0M235.1 337.9h0M235.6 337.8h0M235.6 337.5h0M231.7 338.1h0M232.4 337.5h0M235.5 336.5h0M235.7 336.3h0M232.5 341.3h0"/><path stroke="#0000c8" d="M231.5 342.0h0M235.0 336.8h0M234.3 336.3h0M229.2 340.5h0M230.0 340.0h0M229.1 340.5h0M234.9 338.5h0M234.1 338.3h0M227.8 341.7h0M234.2 337.5h0M234.7 337.5h0M233.1 337.1h0M233.9 337.4h0M231.6 339.7h0M233.7 339.1h0M233.5 339.9h0M232.4 338.8h0M232.7 338.7h0M232.7 340.6h0M232.3 340.5h0M230.1 340.9h0M230.9 340.4h0M231.9 341.3h0M231.3 341.6h0M230.3 343.4h0M233.9 338.0h0M233.1 338.2h0M233.7 338.9h0M231.7 340.9h0M231.9 340.7h0M231.5 340.4h0M232.6 339.4h0M232.6 340.0h0M232.1 339.4h0M228.3 341.2h0M228.8 341.4h0M228.0 341.7h0M230.8 341.5h0M231.0 341.2h0M230.7 342.5h0M229.6 341.5h0"/><path stroke="#0000e3" d="M226.9 342.5h0M229.0 342.7h0M229.6 342.4h0M229.6 343.4h0M229.7 343.6h0M227.4 342.7h0M228.7 342.5h0"/><path stroke="#0000ff" d="M225.7 343.6h0"/><path stroke="#000dff" d="M228.4 345.4h0M228.8 345.3h0M228.7 343.7h0M228.8 343.4h0M228.5 343.0h0M229.0 344.0h0M228.8 344.5h0M228.2 344.6h0M226.4 343.2h0M227.8 343.3h0M227.1 343.4h0M224.8 344.8h0"/><path stroke="#0041ff" d="M227.3 346.9h0M227.0 344.2h0M227.7 344.2h0M227.7 344.7h0M225.4 344.9h0M227.8 345.8h0M227.4 345.1h0"/><path stroke="#0059ff" d="M226.1 344.0h0M226.3 344.8h0M226.7 344.9h0"/><path stroke="#008dff" d="M226.6 347.6h0M224.2 345.6h0M224.9 345.1h0M227.0 345.3h0M226.7 346.7h0M226.8 346.1h0"/><path stroke="#00a5ff" d="M225.9 345.5h0M225.2 345.2h0M221.1 347.9h0M221.9 347.4h0"/><path stroke="#00c1ff" d="M217.1 356.5h0M218.1 356.5h0M218.5 356.3h0"/><path stroke="#00d9ff" d="M223.4 346.3h0M223.9 346.2h0M226.0 348.1h0M225.3 348.9h0M225.7 348.1h0M225.8 346.2h0M225.6 346.7h0M225.6 346.3h0"/><path stroke="#09f1ee" d="M224.5 346.1h0"/><path stroke="#1fffd7" d="M226.0 347.1h0M225.9 347.5h0M225.3 347.9h0M217.2 351.7h0"/><path stroke="#33ffc4" d="M223.0 347.1h0M222.6 347.8h0M222.1 347.1h0M218.7 350.3h0"/><path stroke="#49ffad" d="M224.4 349.9h0"/><path stroke="#5dff9a" d="M224.8 347.2h0M224.3 347.9h0M219.2 355.6h0"/><path stroke="#70ff87" d="M223.9 347.4h0M223.7 347.1h0M223.5 347.3h0M224.3 348.8h0M224.4 348.2h0"/><path stroke="#87ff70" d="M221.2 348.4h0M221.8 348.3h0M217.5 355.9h0"/><path stroke="#9aff5d" d="M220.6 354.5h0M223.5 350.9h0"/><path stroke="#b1ff46" d="M218.7 355.7h0M218.1 355.6h0"/><path stroke="#c4ff33" d="M217.5 352.2h0M220.5 349.4h0M224.0 348.5h0M222.5 348.2h0M222.8 348.4h0"/><path stroke="#d7ff1f" d="M223.6 349.7h0M223.6 349.1h0"/><path stroke="#eeff09" d="M222.5 351.8h0M222.8 351.3h0M222.8 352.0h0M222.4 351.3h0"/><path stroke="#ffea00" d="M219.2 350.2h0M219.7 350.7h0M218.5 351.7h0M218.2 351.1h0"/><path stroke="#ffd000" d="M217.3 354.5h0M217.3 354.8h0M217.4 353.2h0M217.4 353.6h0"/><path stroke="#ffb900" d="M221.2 349.2h0M221.3 349.3h0M222.1 349.4h0M222.9 349.3h0"/><path stroke="#ffa300" d="M221.5 352.9h0M219.4 354.9h0M219.8 354.8h0M219.9 354.3h0M219.1 354.5h0M222.9 350.1h0M222.1 350.5h0M222.9 350.4h0M222.1 350.2h0"/><path stroke="#ff7300" d="M220.9 353.7h0"/><path stroke="#ff5900" d="M218.1 354.7h0M218.0 354.8h0M218.9 355.0h0M218.6 354.1h0M220.0 350.0h0M220.0 350.9h0"/><path stroke="#ff2d00" d="M218.2 352.2h0M218.4 352.3h0M221.8 350.1h0M221.1 350.1h0M221.2 350.5h0M221.5 350.3h0M221.7 352.0h0M221.3 351.1h0"/><path stroke="#ff1300" d="M219.1 351.2h0"/><path stroke="#e40000" d="M218.1 353.5h0M218.7 353.1h0M218.0 353.2h0M218.7 353.5h0"/><path stroke="#c40000" d="M219.8 353.9h0M219.4 353.8h0M220.9 352.8h0"/><path stroke="#a80000" d="M220.7 351.9h0M220.3 351.9h0M221.0 351.3h0M220.2 351.1h0"/><path stroke="#8d0000" d="M219.8 353.0h0M219.1 352.8h0M219.4 352.1h0"/></g><line x1="216.50" y1="356.80" x2="361.60" y2="194.60" stroke="#3a3a3a" stroke-width="0.8"/><line x1="216.50" y1="354.54" x2="361.60" y2="210.18" stroke="#34a834" stroke-width="1.15" stroke-dasharray="2.5 1.2"/></g><rect x="216.50" y="194.60" width="145.10" height="162.20" fill="none" stroke="#7a7a7a" stroke-width="0.9"/><path d="M216.50 356.80v-1.6M216.50 194.60v1.6M267.15 356.80v-1.6M267.15 194.60v1.6M317.79 356.80v-1.6M317.79 194.60v1.6M216.50 356.80h1.6M361.60 356.80h-1.6M216.50 328.49h1.6M361.60 328.49h-1.6M216.50 300.19h1.6M361.60 300.19h-1.6M216.50 271.88h1.6M361.60 271.88h-1.6M216.50 243.57h1.6M361.60 243.57h-1.6M216.50 215.26h1.6M361.60 215.26h-1.6" stroke="#666" stroke-width="0.7" fill="none"/><g font-size="8.4" fill="#222"><text x="216.50" y="365.40" text-anchor="middle">0.00</text><text x="267.15" y="365.40" text-anchor="middle">0.02</text><text x="317.79" y="365.40" text-anchor="middle">0.04</text><text x="214.50" y="359.70" text-anchor="end">0.00</text><text x="214.50" y="331.39" text-anchor="end">0.01</text><text x="214.50" y="303.09" text-anchor="end">0.02</text><text x="214.50" y="274.78" text-anchor="end">0.03</text><text x="214.50" y="246.47" text-anchor="end">0.04</text><text x="214.50" y="218.16" text-anchor="end">0.05</text></g><text x="221.80" y="207.90" font-size="8.5" fill="#222">(e)660nm</text><line x1="290.00" y1="337.50" x2="303.80" y2="337.50" stroke="#3a3a3a" stroke-width="0.8"/><line x1="290.00" y1="346.60" x2="303.80" y2="346.60" stroke="#34a834" stroke-width="1.15" stroke-dasharray="2.5 1.2"/><g font-size="7.4" fill="#222"><text x="309.30" y="340.50" textLength="7.9" lengthAdjust="spacingAndGlyphs">1:1</text><text x="309.30" y="349.70" textLength="45.7" lengthAdjust="spacingAndGlyphs">Y=0.89x+0.0008</text></g><text x="289.05" y="375.90" font-size="8.5" text-anchor="middle" fill="#222">Simulated Rrs (<tspan font-family="DejaVu Sans" font-style="italic">sr</tspan><tspan font-family="DejaVu Sans" font-size="5.9" dy="-3.2">−1</tspan><tspan dy="3.2">)</tspan></text><text transform="translate(195.90 275.70) rotate(-90)" font-size="8.5" text-anchor="middle" fill="#222">Estimated Rrs (<tspan font-family="DejaVu Sans" font-style="italic">sr</tspan><tspan font-family="DejaVu Sans" font-size="5.9" dy="-3.2">−1</tspan><tspan dy="3.2">)</tspan></text><clipPath id="c5"><rect x="397.60" y="194.60" width="145.10" height="162.20"/></clipPath><g clip-path="url(#c5)"><g fill="none" stroke-width="2.10" stroke-linecap="round"><path stroke="#00008d" d="M509.0 242.7h0M528.4 223.6h0M517.6 234.9h0M493.4 256.1h0M485.7 267.7h0M498.3 256.2h0M480.5 270.5h0M486.0 267.2h0M495.1 259.0h0M488.6 264.7h0M476.6 273.5h0M490.1 259.9h0M490.3 259.3h0M500.0 249.0h0M500.9 249.4h0M494.2 260.8h0M487.0 264.7h0M489.8 262.7h0M486.6 266.8h0M486.0 265.5h0M486.3 266.0h0M490.5 262.5h0M475.5 276.0h0M473.2 280.2h0M476.8 276.8h0M492.4 261.4h0M480.4 271.9h0M497.0 255.1h0M499.8 253.8h0M490.9 262.0h0M500.5 250.3h0M476.5 274.7h0M493.9 260.1h0M480.1 273.6h0M480.8 273.8h0M500.1 251.1h0M500.2 251.9h0M500.5 251.1h0M477.2 274.9h0M472.1 280.7h0M497.3 253.9h0M493.2 258.7h0M493.1 258.8h0M476.8 275.4h0M480.5 272.5h0M498.2 254.5h0M472.9 279.3h0M473.3 278.6h0M473.2 278.7h0M473.0 278.2h0M497.1 254.5h0M469.2 281.9h0M469.6 281.8h0M469.9 282.5h0M469.3 282.2h0M447.0 306.5h0M445.4 305.7h0M450.0 304.3h0M468.4 286.2h0M469.5 283.2h0M460.2 294.3h0M446.7 304.5h0M446.8 304.3h0M460.3 290.9h0M460.8 290.2h0M446.3 306.1h0M448.1 305.6h0M459.5 295.3h0M446.1 305.6h0M445.9 306.3h0M445.6 306.8h0M445.2 306.4h0M461.5 292.8h0M461.2 292.7h0M458.7 292.4h0M466.4 284.9h0M444.0 310.3h0M468.9 283.8h0M468.2 283.0h0M468.9 283.4h0M468.4 283.8h0M445.4 308.7h0M457.8 293.4h0M461.3 289.9h0M445.7 307.6h0M445.2 307.6h0M460.1 293.3h0M456.1 298.6h0M456.1 298.5h0M449.3 304.8h0M462.1 291.2h0M460.1 291.2h0M468.7 285.5h0M449.8 302.0h0M448.4 302.8h0M456.6 294.5h0M464.6 286.7h0M443.9 307.2h0M447.9 304.9h0M447.5 304.3h0M447.7 304.6h0M467.6 286.3h0M461.1 291.5h0M461.4 291.7h0M460.9 292.0h0M460.2 292.3h0M459.9 292.5h0M468.8 284.4h0M468.7 284.4h0M459.1 294.1h0M444.5 307.9h0M444.8 307.1h0M444.6 307.1h0M448.9 304.2h0M467.1 284.7h0M467.7 284.4h0M455.2 295.9h0M458.4 293.2h0M458.5 293.8h0M435.7 315.4h0M459.3 293.2h0M459.6 293.5h0M465.2 288.6h0M448.1 303.0h0M449.0 303.5h0M465.5 286.2h0M467.0 285.3h0M467.9 285.1h0M451.1 302.5h0M466.6 286.5h0M466.9 286.5h0M466.3 286.5h0M466.1 286.5h0M457.5 296.9h0M444.3 309.3h0M444.9 309.2h0M457.8 294.0h0M457.0 294.2h0M425.3 326.0h0M463.9 290.7h0M463.0 290.3h0M449.3 303.2h0M428.6 325.1h0M449.0 302.1h0M449.9 303.0h0M449.2 302.9h0M428.0 323.2h0M443.0 308.3h0M451.4 299.9h0M454.4 296.8h0M458.4 294.8h0M458.2 294.8h0M458.7 294.1h0M442.5 311.1h0M462.5 290.8h0M444.5 308.8h0M436.2 317.5h0M436.4 317.1h0M441.9 312.4h0M441.0 312.5h0M426.5 327.1h0M426.8 327.8h0M429.2 324.5h0M450.6 301.2h0M465.4 287.2h0M465.0 287.7h0M465.8 287.3h0M450.6 302.2h0M450.3 302.9h0M440.6 310.5h0M456.2 297.7h0M456.5 296.0h0M457.8 295.7h0M457.0 295.4h0M457.3 295.6h0M462.2 289.7h0M452.1 299.0h0"/><path stroke="#0000a8" d="M464.0 287.1h0M464.1 287.5h0M464.6 287.4h0M438.0 313.1h0M437.5 313.7h0M439.7 311.6h0M439.4 311.9h0M443.4 308.0h0M443.6 308.5h0M438.2 315.8h0M438.5 315.0h0M456.7 296.5h0M433.5 317.6h0M436.8 316.0h0M436.5 315.5h0M436.7 315.6h0M451.6 301.9h0M451.3 301.4h0M451.1 301.7h0M435.6 318.9h0M435.4 318.0h0M426.5 325.4h0M455.0 296.5h0M455.6 296.0h0M455.6 297.0h0M436.0 316.3h0M436.6 316.6h0M454.4 299.4h0M463.3 288.6h0M427.2 326.0h0M427.8 325.5h0M427.1 325.0h0M427.4 324.7h0M424.4 330.2h0M435.7 316.1h0M435.1 316.8h0M429.5 321.6h0M464.1 288.7h0M464.9 288.4h0M464.4 288.8h0M451.5 300.2h0M453.1 300.4h0M426.3 326.2h0M426.6 327.0h0M426.9 326.3h0M428.2 324.1h0M428.0 324.8h0M428.9 324.2h0M463.7 289.3h0M463.6 289.8h0M463.4 289.2h0M463.3 289.9h0M439.7 314.8h0M439.2 314.3h0M432.6 318.7h0M432.9 318.9h0M431.8 319.3h0M441.9 311.7h0M441.1 311.7h0M443.5 309.8h0M443.6 309.1h0M425.2 326.7h0M425.0 326.1h0M425.7 326.9h0M428.2 323.8h0M428.8 323.4h0M428.6 323.1h0M441.3 310.4h0M441.1 311.0h0M437.8 316.0h0M437.8 315.7h0M442.1 310.9h0M442.6 310.2h0M442.0 309.7h0M442.5 309.8h0M442.7 309.1h0M455.5 297.9h0M455.9 297.5h0M454.8 297.3h0M454.4 297.2h0M440.2 311.1h0M441.0 311.5h0M435.3 317.8h0M437.0 314.9h0M437.3 314.6h0M434.7 319.8h0M440.4 312.6h0M423.7 327.3h0M423.6 328.0h0M429.3 323.2h0M429.1 323.9h0M429.9 323.3h0M452.0 299.5h0M452.9 299.6h0M425.3 327.2h0M452.1 300.8h0M452.4 300.8h0M452.5 300.1h0M452.2 300.7h0M453.4 298.6h0M453.3 298.5h0M454.0 298.2h0M455.0 298.0h0M434.1 317.5h0M434.8 317.5h0M434.4 317.2h0M433.8 320.6h0M440.0 312.8h0M440.0 312.1h0M439.5 312.5h0M429.3 322.4h0M453.8 299.2h0M453.4 300.0h0M438.7 314.9h0M438.5 314.0h0M438.3 313.5h0M439.9 313.6h0M439.4 313.6h0M439.1 313.4h0M420.4 330.7h0M431.1 323.0h0M421.3 329.9h0M422.5 328.4h0M424.1 327.1h0M424.8 327.4h0M435.0 318.2h0M434.4 318.9h0M432.0 321.3h0M433.7 318.8h0M434.0 318.7h0M433.2 318.7h0M424.8 329.3h0M419.1 331.8h0M417.1 337.4h0M432.7 319.4h0M430.5 322.7h0M430.6 322.2h0M430.4 321.8h0M430.4 321.2h0M433.3 319.8h0M433.5 319.6h0M431.4 320.2h0M431.8 320.3h0M431.2 320.3h0M424.9 328.4h0M432.4 320.1h0M432.8 320.3h0M432.5 320.6h0M421.6 332.3h0M422.0 331.7h0M422.3 331.9h0M431.5 321.9h0M431.1 321.3h0M431.6 321.7h0M423.2 330.8h0M423.2 330.6h0M418.2 332.8h0M415.6 335.3h0M415.1 335.6h0M423.9 328.9h0M423.8 328.3h0M416.5 335.0h0M416.8 334.2h0M416.2 334.7h0M420.5 333.7h0M420.9 333.4h0M417.4 333.7h0M421.5 330.3h0M421.2 330.5h0M415.6 339.3h0M420.0 331.2h0M422.8 329.1h0M422.1 329.4h0M411.6 339.0h0M421.9 331.3h0M421.4 331.1h0M423.8 329.4h0M423.1 329.1h0M423.5 329.7h0M422.4 330.1h0M422.7 330.9h0M420.1 332.1h0M420.9 332.2h0M420.5 332.3h0M421.0 332.9h0M420.0 334.1h0M419.6 334.9h0M419.1 332.5h0M419.6 332.3h0M414.2 340.2h0M417.3 336.6h0M417.9 336.6h0M418.8 335.5h0M416.9 337.8h0M416.5 337.3h0M416.7 335.9h0M419.6 333.5h0M418.6 333.1h0M418.3 333.7h0M413.5 337.5h0M415.3 336.2h0M415.9 336.1h0M417.5 334.4h0M416.6 336.3h0"/><path stroke="#0000c8" d="M418.0 335.7h0M417.6 336.0h0M417.0 335.2h0M415.7 338.3h0M418.3 335.0h0M418.9 334.7h0M418.1 334.1h0M418.6 334.4h0M415.7 337.1h0M415.5 337.8h0M415.4 337.7h0M412.1 338.9h0M414.7 337.5h0M414.8 337.3h0M414.8 339.3h0M414.7 339.1h0M414.8 340.0h0M414.1 338.0h0M414.9 338.5h0M414.6 338.9h0M411.6 339.4h0M413.0 338.1h0M413.8 338.0h0M413.2 338.8h0M413.9 338.3h0M413.6 340.6h0M413.2 340.1h0M413.4 339.9h0M413.6 339.3h0M412.3 339.3h0M412.6 339.3h0"/><path stroke="#0000e3" d="M410.9 340.1h0M412.5 341.3h0M412.9 341.0h0M411.8 340.2h0M411.4 340.1h0M411.1 343.6h0M409.6 341.0h0M409.4 341.3h0M411.5 341.2h0M411.8 341.2h0M411.7 341.8h0M411.9 341.7h0"/><path stroke="#0000ff" d="M407.9 342.5h0M411.3 343.0h0M411.8 342.7h0M411.7 342.4h0M411.0 341.1h0M410.2 341.3h0M410.9 341.3h0"/><path stroke="#000dff" d="M410.4 344.5h0M410.7 342.3h0M410.4 343.2h0M410.9 343.7h0M410.0 342.2h0M409.1 342.5h0"/><path stroke="#0024ff" d="M405.7 344.8h0"/><path stroke="#0041ff" d="M407.6 343.4h0M409.8 345.2h0M409.6 343.0h0M404.7 345.7h0M408.4 343.3h0M408.9 343.1h0"/><path stroke="#0059ff" d="M399.0 350.9h0M409.7 344.3h0M410.0 344.0h0M406.6 344.2h0M406.5 345.0h0"/><path stroke="#0071ff" d="M407.4 348.1h0M409.0 346.0h0M408.7 346.1h0M408.9 346.6h0M408.1 346.7h0M408.6 344.9h0M408.6 344.0h0M408.9 345.0h0M409.0 344.2h0"/><path stroke="#008dff" d="M407.7 344.2h0M407.1 344.8h0M407.6 344.3h0M408.8 345.2h0M408.6 345.3h0M405.1 345.3h0"/><path stroke="#00a5ff" d="M402.5 347.8h0M397.9 353.0h0"/><path stroke="#00c1ff" d="M407.7 347.4h0M398.1 356.5h0M398.4 356.4h0M407.6 345.6h0M406.6 345.7h0M406.1 345.5h0M404.1 346.8h0M404.8 346.4h0"/><path stroke="#00d9ff" d="M399.9 356.5h0M399.7 356.3h0M407.4 346.6h0M408.0 346.5h0M401.2 349.0h0M401.7 348.5h0"/><path stroke="#09f1ee" d="M398.8 351.3h0"/><path stroke="#1fffd7" d="M399.7 350.3h0M405.1 350.6h0M405.6 346.0h0M406.6 348.8h0M407.0 348.6h0M406.9 346.3h0M406.0 346.3h0"/><path stroke="#33ffc4" d="M403.4 347.0h0M403.1 348.0h0M406.5 347.1h0M406.7 347.6h0M406.5 347.1h0"/><path stroke="#5dff9a" d="M404.3 351.4h0M404.1 351.8h0"/><path stroke="#70ff87" d="M404.2 347.5h0M404.8 347.2h0M404.3 347.5h0M405.7 347.2h0M405.8 347.9h0M405.5 347.7h0M405.8 349.7h0M405.7 350.0h0"/><path stroke="#87ff70" d="M402.7 348.5h0"/><path stroke="#9aff5d" d="M398.7 355.7h0M398.1 355.9h0M406.0 348.9h0M405.9 348.4h0M405.7 348.9h0M405.3 348.7h0"/><path stroke="#b1ff46" d="M402.0 354.0h0M398.1 352.5h0M398.7 352.1h0M401.6 349.5h0"/><path stroke="#c4ff33" d="M401.6 354.0h0"/><path stroke="#d7ff1f" d="M399.0 355.5h0M400.0 355.6h0M400.0 350.2h0M400.5 350.5h0M403.3 348.2h0M404.7 350.7h0M399.2 351.5h0M404.8 348.3h0M404.1 348.6h0"/><path stroke="#ffd000" d="M404.8 349.1h0M404.8 349.7h0"/><path stroke="#ffb900" d="M403.8 351.7h0M398.0 354.8h0M398.7 354.9h0M398.1 354.6h0M398.8 354.7h0M398.2 353.3h0M398.8 353.3h0M398.7 353.1h0"/><path stroke="#ffa300" d="M402.1 349.4h0"/><path stroke="#ff8900" d="M402.9 352.2h0M402.0 352.6h0M402.8 352.8h0M403.5 349.2h0M403.1 349.4h0"/><path stroke="#ff5900" d="M400.7 354.1h0M400.6 354.8h0M401.2 350.1h0M401.1 350.3h0M401.6 350.1h0M401.5 350.6h0M403.9 350.0h0M403.9 350.7h0M401.4 353.4h0"/><path stroke="#ff4300" d="M400.2 351.2h0M399.0 352.4h0"/><path stroke="#ff2d00" d="M399.9 354.1h0M399.4 354.9h0M399.9 354.8h0M399.6 354.3h0"/><path stroke="#ff1300" d="M402.9 350.1h0M402.6 350.0h0M402.5 351.0h0M402.9 350.4h0M402.9 351.4h0M402.1 351.9h0M402.0 351.7h0"/><path stroke="#a80000" d="M401.1 351.5h0M401.7 351.3h0M399.7 353.2h0M399.4 353.9h0M401.7 352.1h0M401.3 352.6h0"/><path stroke="#8d0000" d="M400.4 354.0h0M400.7 353.3h0M400.6 352.4h0M400.6 353.0h0M400.3 352.5h0M400.4 352.7h0"/></g><line x1="397.60" y1="356.80" x2="542.70" y2="194.60" stroke="#3a3a3a" stroke-width="0.8"/><line x1="397.60" y1="354.48" x2="542.70" y2="210.12" stroke="#34a834" stroke-width="1.15" stroke-dasharray="2.5 1.2"/></g><rect x="397.60" y="194.60" width="145.10" height="162.20" fill="none" stroke="#7a7a7a" stroke-width="0.9"/><path d="M397.60 356.80v-1.6M397.60 194.60v1.6M449.42 356.80v-1.6M449.42 194.60v1.6M501.24 356.80v-1.6M501.24 194.60v1.6M397.60 356.80h1.6M542.70 356.80h-1.6M397.60 327.84h1.6M542.70 327.84h-1.6M397.60 298.87h1.6M542.70 298.87h-1.6M397.60 269.91h1.6M542.70 269.91h-1.6M397.60 240.94h1.6M542.70 240.94h-1.6M397.60 211.98h1.6M542.70 211.98h-1.6" stroke="#666" stroke-width="0.7" fill="none"/><g font-size="8.4" fill="#222"><text x="397.60" y="365.40" text-anchor="middle">0.00</text><text x="449.42" y="365.40" text-anchor="middle">0.02</text><text x="501.24" y="365.40" text-anchor="middle">0.04</text><text x="395.60" y="359.70" text-anchor="end">0.00</text><text x="395.60" y="330.74" text-anchor="end">0.01</text><text x="395.60" y="301.77" text-anchor="end">0.02</text><text x="395.60" y="272.81" text-anchor="end">0.03</text><text x="395.60" y="243.84" text-anchor="end">0.04</text><text x="395.60" y="214.88" text-anchor="end">0.05</text></g><text x="402.90" y="207.90" font-size="8.5" fill="#222">(f)680nm</text><line x1="471.10" y1="337.50" x2="484.90" y2="337.50" stroke="#3a3a3a" stroke-width="0.8"/><line x1="471.10" y1="346.60" x2="484.90" y2="346.60" stroke="#34a834" stroke-width="1.15" stroke-dasharray="2.5 1.2"/><g font-size="7.4" fill="#222"><text x="490.40" y="340.50" textLength="7.9" lengthAdjust="spacingAndGlyphs">1:1</text><text x="490.40" y="349.70" textLength="45.7" lengthAdjust="spacingAndGlyphs">Y=0.89x+0.0008</text></g><text x="470.15" y="375.90" font-size="8.5" text-anchor="middle" fill="#222">Simulated Rrs (<tspan font-family="DejaVu Sans" font-style="italic">sr</tspan><tspan font-family="DejaVu Sans" font-size="5.9" dy="-3.2">−1</tspan><tspan dy="3.2">)</tspan></text><text transform="translate(377.00 275.70) rotate(-90)" font-size="8.5" text-anchor="middle" fill="#222">Estimated Rrs (<tspan font-family="DejaVu Sans" font-style="italic">sr</tspan><tspan font-family="DejaVu Sans" font-size="5.9" dy="-3.2">−1</tspan><tspan dy="3.2">)</tspan></text><linearGradient id="jet" x1="0" x2="1" y1="0" y2="0"><stop offset="0.000" stop-color="#000080"/><stop offset="0.050" stop-color="#0000b6"/><stop offset="0.100" stop-color="#0000f1"/><stop offset="0.150" stop-color="#0019ff"/><stop offset="0.200" stop-color="#004dff"/><stop offset="0.250" stop-color="#0081ff"/><stop offset="0.300" stop-color="#00b1ff"/><stop offset="0.350" stop-color="#00e5f8"/><stop offset="0.400" stop-color="#29ffce"/><stop offset="0.450" stop-color="#53ffa4"/><stop offset="0.500" stop-color="#7dff7a"/><stop offset="0.550" stop-color="#a4ff53"/><stop offset="0.600" stop-color="#ceff29"/><stop offset="0.650" stop-color="#f8f500"/><stop offset="0.700" stop-color="#ffc400"/><stop offset="0.750" stop-color="#ff9400"/><stop offset="0.800" stop-color="#ff6800"/><stop offset="0.850" stop-color="#ff3800"/><stop offset="0.900" stop-color="#f10800"/><stop offset="0.950" stop-color="#b60000"/><stop offset="1.000" stop-color="#800000"/></linearGradient><rect x="110.00" y="392.30" width="326.00" height="9.20" fill="url(#jet)" stroke="#333" stroke-width="0.5"/><g font-size="10" fill="#333"><text x="110.00" y="410.60" text-anchor="middle">0.0</text><text x="175.20" y="410.60" text-anchor="middle">0.2</text><text x="240.40" y="410.60" text-anchor="middle">0.4</text><text x="305.60" y="410.60" text-anchor="middle">0.6</text><text x="370.80" y="410.60" text-anchor="middle">0.8</text><text x="436.00" y="410.60" text-anchor="middle">1.0</text></g><text x="273" y="419.6" font-size="7.5" font-weight="bold" text-anchor="middle" fill="#222">Probability density function</text></svg></body></html>
